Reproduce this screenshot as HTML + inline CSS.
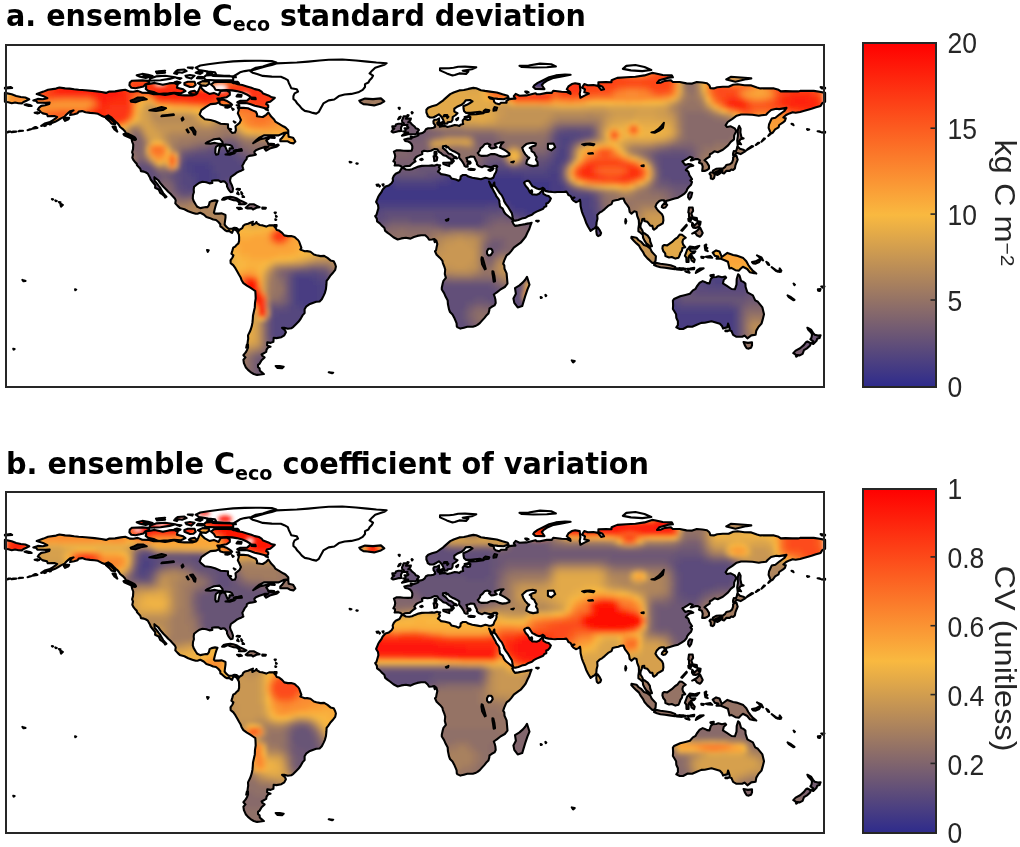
<!DOCTYPE html>
<html><head><meta charset="utf-8"><style>
html,body{margin:0;padding:0;background:#fff;}
body{width:1020px;height:847px;overflow:hidden;position:relative;}
.t{position:absolute;left:6px;font-family:"DejaVu Sans",Verdana,sans-serif;font-weight:bold;font-size:27px;color:#000;white-space:nowrap;letter-spacing:0px}
.t sub{font-size:18px;vertical-align:-5px;line-height:0}
svg{position:absolute;left:0;top:0}
.tick{font-family:"Liberation Sans",Arial,sans-serif;font-size:26.5px;fill:#262626}
.ttl{font-family:"DejaVu Sans",Verdana,sans-serif;font-weight:bold;font-size:30px;fill:#000}
.lab{font-family:"Liberation Sans",Arial,sans-serif;font-size:32.5px;fill:#262626}
</style></head><body>
<svg width="1020" height="847" viewBox="0 0 1020 847">
<defs>
<linearGradient id="cb" x1="0" y1="1" x2="0" y2="0"><stop offset="0.0" stop-color="#2e2b8c"/><stop offset="0.5" stop-color="#f9b940"/><stop offset="1.0" stop-color="#ff0000"/></linearGradient>
<filter id="b2" x="-50%" y="-50%" width="200%" height="200%"><feGaussianBlur stdDeviation="2"/></filter><filter id="b3" x="-50%" y="-50%" width="200%" height="200%"><feGaussianBlur stdDeviation="3"/></filter><filter id="b4" x="-50%" y="-50%" width="200%" height="200%"><feGaussianBlur stdDeviation="4"/></filter><filter id="b6" x="-50%" y="-50%" width="200%" height="200%"><feGaussianBlur stdDeviation="6"/></filter><filter id="b8" x="-50%" y="-50%" width="200%" height="200%"><feGaussianBlur stdDeviation="8"/></filter>
</defs>
<g>
<clipPath id="clip0"><path d="M33.3 100.4L37.8 98.9 42.8 99.3 47.4 98.2 43.0 95.9 36.7 94.1 43.5 91.6 48.0 89.8 56.0 88.6 59.4 87.5 65.1 88.4 69.6 88.6 74.2 89.3 78.7 89.8 85.5 90.2 94.6 91.1 101.4 92.0 106.0 92.9 109.4 91.6 115.1 91.4 120.7 90.4 125.3 89.8 129.8 91.6 133.2 91.8 137.8 90.9 142.3 92.7 149.2 92.9 153.7 94.3 158.2 93.9 165.1 95.0 169.6 94.3 174.1 93.2 178.7 95.0 184.4 95.4 192.3 95.4 195.7 94.5 198.0 91.6 200.3 86.4 202.5 89.3 204.8 91.4 209.4 93.9 213.9 92.9 218.5 95.0 220.7 90.9 226.4 90.4 229.8 92.3 229.8 95.0 226.4 97.3 220.7 98.4 217.3 98.6 219.6 101.8 216.2 103.6 210.5 104.1 206.0 106.8 201.4 110.2 199.6 114.3 201.0 116.1 204.8 119.3 210.5 120.0 215.0 121.3 220.7 123.8 228.0 124.3 228.0 127.9 229.8 130.2 232.1 132.9 235.0 132.5 235.9 130.2 235.5 126.3 239.6 122.9 240.9 120.0 239.4 116.6 237.8 113.2 238.9 109.8 237.8 107.7 243.4 107.9 248.0 108.2 252.5 110.4 255.9 111.8 257.1 114.3 256.9 116.3 260.5 116.8 262.8 117.0 266.2 114.8 268.4 112.5 271.2 116.6 274.1 119.5 275.3 121.6 278.7 123.6 283.2 126.3 285.5 127.5 288.2 130.2 288.4 132.3 284.3 132.7 278.7 135.4 270.7 135.4 263.9 135.4 259.4 137.7 256.4 140.0 253.2 143.2 255.9 141.6 260.5 139.1 267.3 137.7 268.9 138.6 266.2 140.4 267.8 142.7 268.4 144.5 271.8 145.4 275.3 145.4 278.0 144.5 278.7 145.2 276.4 146.8 270.7 148.2 266.2 150.7 264.6 148.8 268.4 146.6 265.0 146.8 262.5 147.7 259.4 148.8 255.9 150.2 254.4 151.8 254.6 153.4 255.9 154.5 254.8 155.0 252.5 155.4 249.1 155.9 246.9 157.2 246.6 159.1 244.8 161.1 244.1 162.5 243.2 164.3 242.3 165.7 243.0 168.2 243.4 169.5 241.2 170.7 238.9 171.6 236.6 172.7 235.0 174.1 233.2 175.4 230.9 177.0 230.0 180.2 230.5 182.5 231.9 185.2 233.0 188.6 232.5 191.8 230.7 192.2 229.4 190.6 228.2 188.8 227.1 186.6 226.9 184.1 224.8 181.6 223.0 181.3 221.0 182.0 218.5 180.4 215.0 180.2 212.1 180.7 212.3 182.9 209.4 183.4 206.4 182.2 202.5 181.8 199.6 182.7 196.9 184.5 194.1 186.8 193.7 189.3 193.9 192.2 193.0 195.0 192.8 198.4 193.7 201.1 195.7 204.5 197.3 206.8 200.3 208.1 203.2 207.5 206.0 207.0 207.5 207.2 208.9 205.2 209.6 202.2 211.6 201.1 215.0 200.4 217.5 200.9 216.4 203.4 215.5 206.3 214.6 209.7 213.9 212.7 215.0 213.6 218.5 213.6 221.9 213.4 225.5 215.0 225.5 217.7 225.0 221.1 224.6 224.5 226.4 226.8 228.7 228.8 232.1 228.8 234.4 227.7 236.6 228.1 239.1 230.0 238.0 232.9 236.9 230.9 234.4 229.3 233.0 230.6 232.1 232.9 230.5 232.0 229.4 230.9 226.6 231.1 224.8 230.0 222.3 227.7 220.3 226.3 220.3 224.3 218.2 221.8 216.0 220.0 213.2 219.5 209.4 217.9 206.4 217.0 203.7 214.5 200.3 212.7 198.0 213.6 195.7 213.8 192.3 212.7 188.2 211.3 184.4 209.3 179.8 207.9 177.6 205.9 175.3 203.4 175.7 200.4 174.8 198.4 173.0 196.6 170.5 193.8 168.2 191.8 166.4 189.7 163.9 187.2 162.1 185.2 160.1 182.9 158.2 180.2 154.4 177.2 154.6 180.7 157.1 183.6 158.7 185.9 160.3 187.9 161.6 190.4 163.2 193.1 164.8 195.0 166.4 196.8 165.1 197.5 164.4 196.1 161.6 193.8 160.3 193.1 158.7 189.5 155.1 187.7 155.3 185.2 153.0 182.5 150.7 179.5 149.8 177.2 148.7 175.4 147.8 173.6 146.0 172.5 143.9 171.6 141.0 171.1 140.3 168.8 138.0 166.3 136.9 165.0 136.7 163.6 135.5 162.7 133.7 160.4 132.3 157.7 133.0 154.5 132.1 152.2 133.0 149.1 133.2 145.9 133.2 144.3 132.1 141.6 131.7 139.5 135.1 140.0 136.0 139.3 135.3 137.9 133.7 136.6 131.4 135.4 128.7 134.1 126.0 133.2 124.6 130.9 122.8 129.1 120.1 127.0 118.9 125.0 117.6 123.4 115.7 121.8 113.9 120.0 111.7 117.7 108.2 115.4 104.6 117.0 101.4 115.7 98.0 113.8 94.6 113.2 90.1 112.9 85.5 112.3 82.1 111.1 78.7 111.6 77.6 113.2 74.2 114.3 70.1 115.0 71.0 112.0 73.5 110.4 70.1 111.3 68.3 112.9 66.2 114.8 64.6 116.6 61.0 118.4 58.3 120.0 55.1 121.8 51.9 122.9 48.5 123.8 45.5 124.8 41.2 125.9 44.6 123.6 49.2 122.3 52.6 120.4 55.3 118.6 57.1 117.0 54.9 116.1 51.4 116.1 47.8 116.3 46.9 114.3 42.8 113.4 40.8 112.0 39.4 110.4 37.8 109.5 38.9 107.9 41.2 105.9 45.1 105.2 49.2 104.1 49.6 102.5 45.8 102.9 42.4 102.7 37.4 102.7 36.4 101.1ZM239.1 230.0L242.3 228.1 243.2 225.9 245.0 224.5 248.0 223.8 250.9 222.5 253.0 221.6 252.3 223.1 252.3 225.0 255.5 223.4 256.4 222.0 257.1 223.4 259.8 225.0 262.8 225.4 266.2 226.6 269.1 225.4 273.0 225.2 274.3 226.3 275.3 227.5 276.8 230.0 279.1 230.6 282.1 232.9 284.3 235.4 287.8 236.1 291.2 236.1 294.6 237.0 296.8 239.0 298.0 240.0 299.1 241.5 300.5 245.4 301.4 247.9 300.3 249.5 302.5 250.4 304.8 251.3 307.1 251.1 310.5 251.8 313.9 254.5 316.4 255.2 320.7 256.1 324.1 255.9 327.5 257.9 330.5 260.4 333.7 261.3 335.2 264.3 335.9 266.5 335.2 269.9 333.4 272.2 330.7 275.2 328.2 278.8 326.6 280.9 326.4 284.7 325.9 289.3 324.8 293.1 323.4 296.1 321.8 299.3 319.6 301.5 316.2 301.8 313.4 302.7 309.3 304.3 306.4 306.3 304.6 309.3 304.6 313.1 302.5 315.4 300.5 319.0 298.4 321.8 295.7 324.5 293.4 326.8 291.2 328.3 287.8 328.8 284.3 327.7 282.1 327.9 285.0 330.2 285.9 332.2 284.3 335.4 281.4 337.2 276.4 338.1 273.7 337.7 273.4 341.8 270.7 342.9 267.3 342.4 267.1 345.2 269.1 346.1 270.5 346.8 268.4 347.2 266.6 349.5 266.2 351.8 261.6 354.5 262.3 355.8 264.6 357.4 261.6 360.2 259.6 363.6 258.0 364.9 258.0 367.2 259.6 368.3 259.8 370.4 261.6 372.2 263.9 374.0 260.5 374.5 257.1 374.9 253.7 374.0 251.4 372.7 248.0 369.9 245.7 367.2 243.9 363.1 243.4 359.7 245.5 357.4 243.4 355.2 245.7 352.4 247.3 349.5 247.3 346.1 247.5 343.8 247.8 341.1 248.2 338.6 248.0 335.4 249.8 331.8 250.9 329.0 251.9 325.6 252.5 322.2 252.8 318.8 253.0 315.4 253.9 311.5 254.8 307.4 255.0 302.9 255.7 298.4 255.5 293.8 255.3 291.1 253.0 289.5 250.3 287.7 246.9 285.6 243.4 283.1 241.6 280.2 240.5 277.2 238.9 274.5 237.1 271.3 235.5 268.4 233.4 265.4 230.7 263.1 230.5 260.4 232.5 257.5 233.4 255.4 231.4 253.8 232.3 250.9 233.2 247.7 235.5 246.3 236.2 245.2 238.4 243.4 239.1 240.9 239.1 237.0 238.9 234.5 238.0 232.9ZM316.2 113.6L318.9 111.8 321.2 107.5 323.4 103.4 328.7 100.4 334.3 99.5 338.9 96.1 344.6 94.5 351.4 93.9 358.2 92.3 362.7 89.8 365.0 87.0 365.0 84.1 368.4 82.5 369.6 80.2 371.8 77.9 373.0 75.7 369.6 73.4 372.3 70.4 375.2 67.7 384.3 64.8 386.6 63.2 376.4 62.5 367.3 61.6 355.9 60.5 342.3 59.5 328.7 59.8 319.6 60.5 308.2 61.6 296.8 62.5 285.5 63.0 276.4 63.4 271.8 65.0 267.3 66.1 262.8 67.3 255.9 69.3 250.3 71.1 252.5 72.7 257.1 73.9 262.8 75.9 271.8 76.6 280.9 76.8 284.3 78.2 287.8 80.2 288.9 83.2 290.0 85.4 291.2 88.2 296.8 89.3 298.0 91.6 294.6 93.4 293.4 96.1 293.4 98.9 295.7 101.1 297.3 103.6 300.0 106.3 301.8 108.6 304.8 110.9 309.3 111.8 312.8 112.9ZM401.6 168.2L399.5 172.0 395.7 173.8 393.9 175.7 392.7 178.4 393.0 180.9 391.6 183.2 388.9 185.4 385.5 186.6 382.7 189.5 381.4 192.2 379.3 195.0 378.2 196.8 377.3 199.1 376.1 202.0 378.0 205.0 378.4 208.1 377.5 211.3 376.4 215.0 375.2 216.1 376.8 218.6 377.1 221.3 379.8 223.4 381.6 225.4 384.3 227.7 385.2 230.9 387.7 232.9 390.0 234.5 393.4 237.2 397.7 239.5 401.4 238.4 405.9 237.7 410.5 238.6 413.9 237.0 417.3 235.9 421.1 235.2 425.2 235.2 427.7 237.5 429.1 239.7 432.0 239.5 434.3 239.0 436.4 240.9 437.3 244.0 436.6 247.2 436.1 250.2 435.0 251.3 436.6 254.7 440.0 257.9 442.3 260.6 442.9 263.1 444.5 267.2 445.2 269.5 444.8 274.0 445.9 277.9 443.4 280.9 442.7 283.6 441.8 287.7 441.8 289.5 444.1 293.1 445.7 296.8 447.7 300.6 447.9 304.0 449.1 309.7 450.0 312.0 452.5 314.5 454.1 317.4 455.7 321.1 456.6 323.3 456.8 326.5 457.7 327.4 460.4 328.6 463.9 327.7 467.3 326.8 472.9 326.8 475.2 326.1 477.5 324.9 479.8 323.1 482.0 320.6 484.3 318.1 486.1 315.8 488.4 313.6 489.3 310.4 489.5 308.4 491.8 306.8 494.5 305.4 495.7 303.1 495.4 299.5 494.8 297.2 493.8 294.5 496.8 292.4 500.2 289.7 504.8 287.0 507.5 283.6 507.0 277.9 506.6 273.4 504.5 268.8 504.3 265.4 503.2 263.8 504.1 260.9 505.4 257.9 506.6 255.4 509.3 253.4 511.6 250.6 513.8 247.7 517.2 245.2 520.7 242.7 523.6 239.3 525.7 236.5 527.5 232.5 529.3 229.0 530.4 225.6 531.6 222.7 528.6 223.4 525.2 224.1 521.8 224.7 518.4 225.4 515.0 225.9 513.4 223.8 512.3 221.6 513.4 220.9 511.6 218.8 509.3 217.0 505.9 214.3 504.1 212.0 502.7 208.6 500.0 206.6 499.5 202.9 499.3 200.6 498.6 199.1 496.1 195.9 495.7 194.5 493.6 190.9 492.3 188.2 491.1 186.8 489.1 181.6 491.3 185.4 492.7 186.3 493.4 184.5 494.3 182.5 494.5 185.7 496.1 187.5 497.9 190.4 499.8 193.1 501.8 195.4 503.6 199.1 504.1 201.1 505.9 204.1 508.2 207.2 510.0 210.2 511.8 213.1 512.3 215.4 512.7 217.7 513.4 220.4 514.1 220.6 516.1 220.6 518.4 220.0 521.8 218.6 525.7 217.7 528.6 215.9 532.0 214.7 533.8 213.1 536.6 211.6 540.4 210.0 543.2 208.8 544.3 207.0 546.3 206.3 546.3 203.4 547.9 202.9 549.7 201.1 550.9 198.4 548.6 196.1 546.1 195.4 543.4 193.8 542.9 191.3 543.2 189.7 542.5 190.0 541.1 191.6 539.1 193.8 536.6 194.7 534.1 194.5 532.2 194.5 531.6 193.6 532.2 191.8 531.8 190.2 530.9 190.6 530.4 192.9 529.3 191.3 528.6 189.7 527.5 187.9 525.9 186.3 525.0 184.7 524.1 182.7 525.2 181.6 526.8 180.9 528.8 180.9 530.0 182.5 531.3 184.5 532.2 186.1 534.3 187.0 537.0 188.6 539.3 189.3 541.6 188.4 542.9 187.7 544.5 189.1 545.2 190.9 548.6 191.6 552.5 192.0 555.0 192.2 557.2 192.0 560.9 192.0 563.8 192.0 566.3 191.6 567.5 193.1 568.4 195.0 570.4 195.9 571.8 198.1 574.5 197.5 571.8 198.8 573.4 200.6 575.9 202.2 578.6 201.1 580.0 199.7 580.4 202.2 580.6 206.3 581.8 211.3 582.9 214.3 584.5 218.1 586.1 222.7 588.1 226.8 590.6 230.9 592.7 229.3 594.5 228.4 596.3 226.1 596.6 222.2 597.5 218.8 597.2 215.0 599.5 212.7 602.0 211.3 604.7 209.1 608.1 205.9 611.5 204.1 612.7 200.9 615.6 200.2 618.4 199.7 620.6 198.8 623.6 198.6 624.5 201.3 625.4 202.9 627.2 205.2 629.0 207.9 629.7 212.0 631.5 213.6 634.3 211.3 636.5 212.0 637.2 215.9 638.8 220.0 639.0 224.5 638.4 228.4 638.4 231.3 639.9 232.2 642.7 234.7 643.1 237.7 644.5 240.6 646.3 243.4 648.6 245.2 650.2 246.5 652.0 246.1 650.2 241.5 649.9 238.8 647.7 235.6 645.2 233.8 643.1 232.7 642.2 230.2 640.4 227.2 640.6 224.5 641.8 221.6 642.4 219.1 644.3 218.8 644.3 220.9 647.2 221.8 648.6 223.4 650.2 225.6 652.4 225.9 653.1 229.0 654.0 229.7 656.5 227.9 657.7 226.1 659.9 225.0 662.7 223.4 663.4 220.4 663.1 216.6 662.0 214.3 658.8 211.3 657.0 209.1 655.4 206.6 656.8 203.4 659.3 200.9 661.5 200.2 664.0 200.2 664.7 203.4 666.1 203.1 666.1 201.1 669.0 200.2 672.2 199.3 674.7 198.6 678.1 197.7 681.5 195.6 684.5 193.6 686.5 191.3 687.2 189.1 688.8 187.0 691.1 184.7 692.0 182.0 690.4 180.4 692.0 179.1 690.8 177.2 689.5 175.4 688.3 171.6 685.8 170.0 687.9 167.7 689.5 166.6 693.3 165.7 691.1 164.3 688.3 164.1 685.4 165.0 683.8 163.2 682.4 161.3 684.3 160.4 687.2 158.6 689.9 156.8 692.7 157.7 690.8 160.4 692.4 160.2 695.6 159.1 697.9 159.1 699.9 160.4 699.0 162.7 701.8 163.8 702.7 166.6 702.2 170.9 704.7 170.9 707.2 170.0 709.0 168.6 709.0 165.9 706.8 162.2 704.5 160.2 706.5 158.6 709.7 156.6 709.9 154.3 712.0 153.2 714.5 151.3 717.7 152.2 722.9 149.7 728.1 145.4 730.8 141.8 734.0 139.3 734.2 135.4 736.3 130.9 734.7 128.4 730.8 126.3 727.0 127.0 725.6 125.4 727.7 122.0 732.4 118.8 736.7 115.7 741.1 114.5 746.1 114.5 752.4 114.8 758.8 115.7 761.5 115.2 766.1 114.8 767.9 112.7 771.1 110.0 776.3 108.8 779.2 109.1 786.5 107.9 784.5 110.9 782.2 112.5 779.7 114.3 775.4 117.7 771.7 118.6 770.4 121.3 769.0 124.5 768.6 127.9 770.1 131.6 771.1 133.6 772.9 132.5 775.1 129.3 778.6 127.3 779.2 125.0 783.1 122.3 784.9 120.9 785.8 118.2 783.3 117.5 786.1 115.0 789.5 113.4 792.6 112.3 795.6 112.7 800.1 112.0 803.5 111.1 808.1 109.8 811.5 108.8 816.0 107.3 820.6 105.9 822.2 103.2 825.1 101.8 825.1 92.9 819.5 91.8 813.8 90.9 805.8 90.7 800.1 90.9 797.9 91.4 792.2 91.4 785.4 91.1 780.8 91.4 778.6 89.8 774.0 88.4 767.2 88.2 760.4 88.4 757.0 87.5 751.3 85.4 744.5 85.2 737.7 84.3 733.1 84.8 728.6 86.8 722.9 86.8 717.2 87.3 713.8 88.4 710.4 88.2 709.3 85.2 707.0 83.2 702.4 82.5 696.8 82.0 692.2 83.6 686.5 83.4 679.7 82.0 672.9 82.0 670.6 80.2 664.9 80.9 660.4 82.7 657.0 82.9 659.3 80.2 667.2 77.9 672.9 77.3 671.8 75.4 662.7 75.0 654.7 73.2 652.0 72.9 644.5 75.4 635.4 76.8 626.3 77.3 617.2 77.9 611.5 80.2 611.5 82.3 605.9 82.0 598.4 82.3 598.4 85.0 602.5 86.8 604.0 89.3 601.3 90.0 597.9 85.9 593.4 85.0 587.7 85.2 584.3 84.1 582.0 87.5 585.0 89.3 584.3 92.3 588.8 93.6 585.0 95.4 580.4 97.7 579.7 93.9 580.4 90.4 580.0 87.0 579.7 84.1 575.2 83.2 571.8 84.1 568.4 86.4 566.8 89.3 570.2 92.0 570.6 93.9 566.8 92.0 561.6 91.8 553.2 90.7 551.8 92.9 546.8 92.9 540.0 94.3 536.6 94.1 535.4 93.2 526.3 95.4 519.5 95.7 515.7 93.9 513.8 96.1 515.4 98.6 513.4 98.6 509.3 99.1 506.3 101.1 506.6 102.7 501.3 102.7 499.1 104.3 495.7 103.2 494.1 101.8 493.6 99.1 490.0 98.4 488.8 97.0 493.4 98.2 497.9 98.9 503.6 99.3 508.6 97.5 507.7 95.7 502.5 94.3 496.8 92.5 490.0 91.6 485.0 90.9 480.9 90.2 476.3 88.2 473.4 87.9 468.4 88.9 463.9 90.0 459.3 90.4 453.6 92.5 450.2 94.1 447.9 96.1 444.5 99.1 442.9 100.7 440.0 102.7 436.6 105.0 432.0 106.3 428.2 107.7 426.4 109.8 426.4 112.5 427.5 115.0 427.7 116.1 430.0 117.5 433.2 117.5 436.6 115.7 438.9 114.3 440.0 115.2 441.6 117.0 443.2 119.8 444.1 122.3 444.3 123.6 447.5 123.4 447.7 122.3 451.4 121.8 452.5 120.0 452.7 117.0 455.7 115.0 457.5 113.2 454.3 111.6 454.3 108.6 457.0 106.8 461.6 104.8 463.9 102.9 465.7 100.4 470.0 100.0 472.5 101.4 470.9 102.5 466.8 104.8 463.4 106.3 463.6 109.1 464.1 111.3 466.1 112.9 470.7 112.9 475.2 112.3 479.8 111.8 483.6 113.2 479.8 113.6 476.3 114.3 470.7 114.5 468.4 115.2 468.4 117.0 470.4 117.0 470.0 119.5 467.7 120.0 464.3 118.8 462.7 120.4 462.9 122.9 463.2 124.1 460.4 124.8 459.5 125.9 457.0 125.2 454.8 125.0 451.4 126.1 447.5 127.0 445.0 125.9 442.3 126.3 439.8 126.8 439.5 125.4 437.7 124.5 437.3 122.7 439.1 121.1 439.1 118.4 436.6 119.8 434.5 119.8 433.4 121.1 433.6 123.4 434.8 124.8 435.2 126.8 433.4 127.7 430.9 128.2 428.2 128.2 425.9 129.3 424.8 131.3 423.0 132.7 420.7 133.4 418.6 133.8 418.4 135.4 415.5 136.6 412.5 137.5 412.0 136.8 410.7 136.6 411.4 138.6 408.2 138.6 404.3 139.5 405.2 140.9 408.2 141.6 410.0 142.5 411.6 144.3 412.3 146.1 412.3 148.4 411.6 150.7 408.2 150.9 403.6 150.7 400.2 150.4 396.8 150.2 393.9 151.6 394.8 154.1 395.2 156.3 394.6 159.1 393.4 161.3 395.0 162.2 395.0 165.0 394.6 165.4 398.0 165.2 400.7 166.1 402.3 167.7 404.8 166.3 409.8 165.9 411.6 164.3 413.6 162.5 415.5 161.3 414.3 159.7 416.1 157.2 417.7 156.1 422.3 154.1 422.0 151.8 424.1 150.7 427.5 151.3 430.9 150.7 434.3 149.1 437.3 149.3 438.9 151.8 441.1 153.2 443.4 155.2 446.4 156.1 449.1 158.2 450.7 158.8 451.8 161.3 450.7 163.2 451.6 163.4 453.9 161.1 452.7 159.5 454.3 157.7 457.0 158.4 456.1 157.2 453.6 156.1 451.4 154.3 448.6 153.6 445.9 150.4 442.9 148.2 442.9 146.3 446.1 145.9 446.4 147.5 447.9 146.8 449.8 149.1 452.3 150.7 455.0 151.8 457.3 153.2 459.3 154.5 459.1 157.7 460.9 159.7 462.7 162.2 464.1 164.5 464.5 165.9 466.1 166.8 467.7 166.8 467.5 164.7 468.4 163.2 469.8 163.8 468.4 162.2 467.3 160.2 466.4 157.9 469.1 157.2 470.7 156.6 474.1 156.8 474.8 158.2 475.7 160.4 476.8 162.2 477.0 164.3 478.6 165.9 482.0 167.2 484.5 165.9 487.7 166.6 491.1 167.2 493.8 165.9 496.8 165.9 497.3 166.6 496.3 168.2 496.6 170.0 495.9 172.2 494.5 174.5 493.4 177.7 491.1 178.8 488.4 178.6 485.4 177.7 483.2 178.4 480.9 179.3 477.5 178.6 472.3 177.7 468.4 176.6 466.1 175.0 462.9 175.0 460.7 176.3 460.4 179.1 458.6 180.7 455.9 179.5 451.4 178.4 449.8 176.1 445.2 174.7 441.1 174.1 439.5 172.7 437.9 171.6 440.0 168.8 438.9 167.2 440.2 165.4 438.2 165.0 437.0 164.7 434.3 165.7 432.0 165.4 428.6 165.7 425.2 165.7 421.8 165.9 418.4 166.6 415.0 167.9 412.0 169.3 409.3 169.7 405.9 169.5 403.0 167.9ZM4.9 101.8L8.3 102.3 11.7 103.2 15.1 102.5 18.5 103.2 21.9 103.4 23.5 102.0 26.4 100.7 29.2 99.3 25.3 97.5 20.8 97.0 16.2 95.9 11.7 94.3 4.9 92.9ZM4.9 87.7L10.5 87.0 12.1 87.9 4.9 88.4ZM268.2 107.3L266.9 108.8 263.2 107.7 259.4 106.8 254.8 105.7 250.7 104.3 247.3 103.2 243.4 102.9 238.9 103.4 237.3 102.3 240.0 100.9 246.9 100.7 249.6 98.4 250.3 96.6 246.9 94.5 242.3 92.5 236.6 91.1 232.1 90.4 226.4 90.0 220.7 90.4 215.5 89.8 213.9 87.0 211.0 84.5 213.9 82.3 220.7 81.8 226.4 82.0 232.1 82.3 237.8 84.3 242.3 85.0 246.9 86.4 251.4 87.7 254.8 89.1 258.9 90.0 261.6 91.6 263.2 93.6 268.4 95.4 271.8 97.3 274.8 97.9 273.0 99.5 270.0 101.8 266.9 102.5 266.2 104.1 268.2 105.4ZM232.1 104.8L228.7 105.4 224.1 105.4 220.5 104.5 218.5 102.3 219.6 100.0 223.0 99.5 226.4 100.7 229.6 102.7 231.4 103.9ZM145.7 84.5L154.8 82.9 162.8 84.8 168.9 83.4 174.1 82.9 177.6 84.8 176.9 87.7 183.2 89.3 185.5 91.1 181.0 93.2 174.1 92.9 168.5 93.4 163.9 93.6 158.2 94.1 153.7 92.0 148.0 90.7 145.7 88.9 146.2 87.0ZM129.8 85.9L131.4 87.7 135.5 88.2 140.1 87.3 143.5 86.4 145.7 84.1 149.2 82.7 148.0 80.9 142.3 80.4 132.1 80.7 129.8 82.5 129.4 85.2ZM194.6 81.8L195.7 84.8 193.5 86.8 190.0 87.0 184.4 84.8 184.4 82.9 187.8 81.8ZM208.7 81.4L202.5 81.1 198.0 83.2 201.4 85.4 206.0 85.9 209.4 83.6ZM233.2 79.1L233.2 80.2 221.9 80.2 215.0 80.4 206.0 79.8 203.2 77.9 206.0 75.4 215.0 75.0 224.1 75.9 229.8 75.9 233.2 77.3ZM212.8 75.9L221.9 76.1 233.2 76.4 236.6 74.5 240.0 72.3 244.6 71.1 251.4 70.0 255.9 67.7 262.8 66.6 269.6 64.3 276.4 62.5 271.8 61.1 260.5 60.7 244.6 60.9 233.2 61.4 219.6 62.7 208.2 64.3 200.3 65.5 195.7 67.7 199.1 70.0 208.2 71.6 215.0 72.3 216.2 74.5 211.6 75.4ZM175.3 77.3L169.6 78.9 160.5 80.2 149.2 80.7 150.3 78.4 156.0 76.4 165.1 75.7 171.9 76.8ZM152.6 76.1L145.7 77.9 140.1 76.8 136.7 75.2 142.3 73.9 148.0 74.8ZM194.6 75.7L191.2 78.6 186.6 77.3 185.5 75.7 190.0 75.0ZM202.5 78.4L196.9 78.2 198.0 76.8 202.5 77.0ZM197.3 93.2L194.6 90.9 190.5 91.6 188.9 92.9 192.3 94.3 196.2 94.1ZM238.9 83.2L233.2 83.2 230.9 81.8 237.8 81.8ZM230.9 106.6L227.5 107.7 225.3 107.5 227.5 106.3 230.3 105.9ZM186.6 71.1L182.1 72.7 175.3 71.8 177.6 70.0 184.4 69.5ZM165.1 72.7L157.1 73.4 156.0 71.6 162.8 71.1ZM236.6 96.4L241.2 96.8 241.6 95.0 237.8 94.5ZM233.7 121.3L235.5 122.3 234.8 122.7ZM232.1 108.4L233.7 109.3 232.8 109.8ZM228.7 128.6L231.2 129.3 229.6 129.8ZM174.6 82.3L178.7 83.6 180.5 82.5 176.9 81.6ZM176.4 77.7L179.8 79.1 181.4 78.2ZM174.1 73.2L176.9 74.1 177.6 73.2ZM187.8 67.5L192.3 68.6 192.8 67.5ZM207.1 73.4L211.6 74.3 212.1 73.4ZM232.1 76.6L235.9 77.3 235.5 76.1ZM236.6 105.2L239.4 105.9 238.7 105.0ZM265.5 109.3L268.0 110.2 267.3 109.1ZM195.7 72.7L200.3 73.9 202.5 72.7 198.0 71.6ZM158.2 71.4L162.8 72.3 165.1 70.7ZM143.5 76.1L148.0 76.8 147.3 75.7ZM280.3 141.3L287.8 141.3 290.0 142.7 293.4 143.4 295.3 141.6 294.1 139.3 293.0 137.7 288.7 136.8 288.2 132.9 285.7 132.9 284.3 134.8 282.1 137.9 280.3 139.5ZM268.4 136.1L274.1 137.3 274.8 137.9 270.7 137.7ZM268.7 143.6L274.1 144.1 272.8 145.0 269.6 144.5ZM134.4 139.5L131.0 138.4 127.6 136.8 124.2 135.2 123.5 134.1 126.4 134.3 130.1 135.7 133.2 137.7ZM117.3 131.6L114.4 129.5 112.6 126.6 115.5 126.6 116.2 129.1ZM115.1 124.1L111.7 123.8 109.4 121.1 106.0 118.2 108.2 117.3 111.7 120.0 113.9 122.3ZM68.5 119.3L65.1 120.9 63.9 119.1 66.7 117.7 69.2 117.9ZM24.6 104.8L28.7 105.9 31.7 105.9 29.9 105.0 26.4 104.3ZM37.4 112.3L39.2 112.9 37.4 113.6 34.6 112.7ZM222.1 199.7L223.5 198.1 226.4 197.2 230.3 196.8 233.2 197.2 237.1 198.6 239.6 200.2 243.0 201.6 246.4 203.4 244.6 204.3 238.9 204.3 239.8 202.9 236.6 200.4 233.7 200.2 229.8 199.1 228.0 198.1 224.1 199.7ZM245.7 207.7L249.6 204.3 253.7 204.3 256.4 205.6 259.6 207.2 256.4 207.7 253.0 209.5 251.4 208.1 247.5 208.4ZM237.1 207.7L240.3 207.7 241.9 208.8 238.9 209.1ZM262.3 207.5L265.9 207.7 265.5 208.6 262.3 208.6ZM274.3 225.0L276.6 225.0 276.4 226.6 274.3 226.6ZM237.3 188.8L240.0 189.1 239.4 190.0 236.6 189.3ZM237.8 192.2L238.7 194.3 237.1 193.6ZM241.2 192.0L242.3 193.6 241.6 194.1ZM242.8 195.9L244.1 197.0 242.5 197.0ZM60.5 203.6L62.8 205.0 61.0 206.6 60.5 204.7ZM58.9 202.0L60.5 202.2 59.6 202.7ZM55.3 200.4L56.7 200.9 55.8 201.1ZM51.9 199.1L53.0 199.3 52.4 199.7ZM274.6 212.5L275.9 212.5 275.3 213.4ZM275.9 215.9L276.8 216.6 276.2 216.8ZM275.3 219.3L276.2 219.7 275.5 220.0ZM22.4 279.9L25.5 280.9 23.5 281.3ZM75.1 289.3L76.2 289.7 75.3 290.2ZM13.3 348.8L14.6 349.0 13.7 349.7ZM35.8 127.0L37.4 127.9 34.2 128.4 32.4 128.6 34.4 127.3ZM31.0 129.3L27.6 130.2 29.9 129.3ZM23.0 130.7L18.5 131.3 19.6 130.7ZM16.2 131.6L11.7 132.3 12.8 131.6ZM10.5 131.6L7.1 132.5 8.3 131.6ZM49.2 123.8L51.0 124.3 49.6 124.5ZM45.8 125.7L44.2 126.1 45.1 125.4ZM402.0 135.7L405.5 135.0 408.2 134.3 411.6 134.3 415.7 134.1 418.2 133.2 417.0 132.3 418.9 130.0 418.0 129.1 415.7 128.2 414.8 126.8 413.6 125.7 411.6 124.1 410.5 122.5 408.2 122.3 409.3 121.3 410.5 119.8 410.9 118.6 408.2 118.4 405.9 118.6 407.7 116.3 403.6 116.3 403.0 118.2 402.0 120.4 402.3 122.3 403.9 123.4 403.4 124.8 405.5 125.0 407.5 124.8 407.0 126.1 408.4 127.5 407.7 128.4 404.5 128.4 405.7 129.5 405.5 130.9 403.4 131.6 405.5 132.3 408.2 132.5 407.0 133.2 405.5 133.2 402.5 135.2ZM401.4 130.9L400.9 128.4 401.4 126.6 402.5 125.4 400.9 123.8 398.4 123.8 395.9 124.5 395.5 126.1 392.3 126.3 392.7 128.2 394.3 128.6 392.5 130.0 391.6 131.6 393.2 132.5 396.4 131.8 399.1 131.1ZM359.3 100.7L365.0 98.6 373.0 99.1 380.9 98.4 384.3 101.4 380.9 103.4 374.1 105.4 367.3 104.5 363.4 104.1 360.5 102.3ZM452.5 75.4L446.8 73.4 440.0 70.4 440.0 68.4 449.1 68.2 453.6 67.7 458.2 66.8 465.0 66.6 476.3 67.3 471.8 69.3 462.7 70.7 468.4 71.6 466.1 73.9 459.3 73.4 454.8 75.0ZM533.2 87.0L535.4 88.9 544.5 89.1 541.8 85.0 543.4 83.2 547.9 80.2 553.6 77.9 560.4 76.8 570.6 74.8 565.0 74.5 555.9 75.4 549.1 77.3 542.2 80.7 537.7 82.9 534.3 85.4ZM525.2 91.6L526.8 92.9 528.6 92.3 526.8 91.6ZM622.9 68.9L630.9 70.4 642.2 71.1 651.3 70.0 644.5 67.0 635.4 65.0 626.3 65.9ZM726.3 79.5L735.4 81.8 746.7 79.1 751.3 78.4 737.7 77.3 730.8 76.8ZM820.6 87.0L825.1 87.7 825.1 88.4 821.7 88.4ZM521.8 67.0L533.2 67.5 546.8 67.3 555.9 66.4 551.3 64.3 540.0 63.6 528.6 65.5 519.5 65.9ZM737.7 145.0L737.2 140.4 737.9 135.9 737.7 131.3 738.3 127.9 739.2 125.9 740.6 128.8 740.4 132.5 741.5 137.5 743.6 138.4 740.4 139.3 739.0 141.3 741.1 144.3 738.8 143.8ZM733.1 155.2L735.4 154.5 736.5 152.7 740.6 154.1 745.6 151.1 743.3 149.7 739.9 148.8 737.4 146.3 736.7 149.5 735.8 151.3 733.8 151.1 733.1 153.4ZM736.5 155.7L737.7 159.7 736.5 162.5 735.4 165.4 734.9 168.4 733.1 170.0 731.3 169.5 729.7 170.9 726.3 170.9 725.8 171.6 724.0 173.4 722.2 172.7 722.4 170.7 719.5 170.9 717.2 171.3 714.9 172.5 712.7 172.2 712.9 170.7 716.1 168.8 719.5 168.6 722.9 168.6 725.2 166.8 726.3 165.0 729.7 164.3 732.0 162.7 733.1 159.7 733.1 157.5 734.2 156.1ZM710.4 172.5L712.7 172.5 714.9 174.5 714.0 178.2 712.7 179.1 710.8 178.4 710.8 175.4 709.5 173.8ZM716.3 172.7L719.5 171.6 721.1 172.2 719.5 173.8 717.2 175.0 716.1 173.8ZM689.9 192.2L692.2 192.7 691.1 197.2 689.5 199.5 688.1 197.2 688.3 194.3ZM662.0 205.9L663.4 204.1 666.1 203.8 667.2 205.0 665.4 207.5 663.1 207.9 661.8 207.2ZM596.6 227.5L597.5 227.2 599.7 230.2 601.1 232.9 600.4 235.0 598.1 236.1 596.8 234.7 596.3 231.3ZM488.4 170.0L490.0 169.1 493.6 168.4 492.3 170.0 490.0 170.9ZM468.4 169.3L470.7 168.8 474.8 169.3 474.1 170.0 470.7 170.0 468.6 169.5ZM443.2 162.9L445.7 162.7 450.4 162.5 449.3 164.7 449.3 166.1 446.8 165.2 443.4 164.1ZM433.6 156.3L436.1 155.9 437.3 157.5 436.8 160.4 434.3 161.1 434.1 158.6ZM434.5 152.0L436.4 151.8 436.6 153.6 435.9 155.4 434.5 154.5ZM420.2 159.5L422.0 158.8 422.7 159.5 421.4 160.2ZM440.0 122.9L442.7 122.0 443.6 123.2 442.3 124.5 440.4 124.1ZM437.3 123.8L439.1 123.4 439.5 124.5 437.7 124.5ZM456.1 119.3L458.2 117.9 457.7 119.5 456.6 120.2ZM464.5 117.0L467.7 116.3 467.3 117.5 465.0 117.7ZM467.3 161.6L470.0 161.6 470.7 162.9 468.4 162.2ZM398.6 107.9L399.8 107.9 399.5 109.1ZM412.0 112.0L412.7 112.7 412.0 113.4 411.6 112.5ZM407.5 115.0L408.6 115.2 408.2 115.9ZM400.7 116.6L399.3 117.3 398.2 119.3 400.0 118.2ZM746.7 150.0L753.1 146.3 751.7 146.1 747.9 148.8ZM755.8 145.0L759.2 142.9 758.1 142.7ZM761.5 141.6L764.9 138.6 764.0 138.4ZM768.3 135.9L770.1 134.5 769.5 134.1ZM791.5 123.8L793.6 125.2 792.9 124.1ZM807.0 129.1L809.2 129.5 807.6 130.0ZM817.6 131.3L820.6 132.0 819.5 131.3ZM821.7 132.5L825.1 131.8 825.1 132.7ZM527.0 276.8L529.5 284.7 527.5 289.3 525.2 296.1 522.2 306.1 517.7 307.4 514.3 302.9 513.4 298.4 515.9 293.8 515.0 288.1 519.5 285.4 522.9 282.4 525.2 279.7ZM434.3 240.9L435.2 241.1 434.8 242.2ZM376.6 184.7L378.4 184.5 377.3 185.9ZM379.1 185.4L380.0 186.1 379.6 186.6ZM382.5 184.5L383.6 184.3 383.2 185.7ZM571.8 360.4L574.7 361.1 573.1 362.4ZM349.6 161.8L351.4 162.2 350.2 162.5ZM356.4 163.4L357.7 163.6 356.8 163.8ZM536.1 220.9L538.8 220.9 537.7 221.6ZM545.4 294.9L546.3 295.6 545.7 296.1ZM540.7 297.0L541.8 297.7 540.9 297.9ZM689.0 207.5L692.7 207.5 693.1 210.9 691.3 213.6 692.7 217.2 696.8 218.1 697.2 220.9 695.2 220.0 691.8 218.1 689.0 217.0 689.0 213.1 688.3 212.5ZM692.2 233.6L695.6 231.8 697.2 230.6 700.2 227.7 702.7 232.9 701.3 235.4 699.9 236.8 696.8 235.2 694.9 232.5ZM692.2 222.7L694.5 225.6 696.8 223.1 700.2 224.1 699.0 226.8 695.6 227.9 693.3 227.7 692.0 225.6ZM697.4 221.1L700.6 221.8 700.2 224.3 698.6 224.1ZM681.3 230.4L686.5 224.7 686.8 225.6 682.2 230.9ZM688.3 218.8L691.1 219.5 690.4 221.8 688.6 220.9ZM662.7 246.1L664.0 245.0 667.2 245.4 671.8 242.2 675.2 239.0 677.4 237.7 679.7 234.5 682.0 234.7 685.8 237.7 683.1 239.5 682.4 242.0 683.1 244.5 685.2 247.2 682.4 247.9 682.0 250.6 680.4 252.9 679.7 255.2 678.6 257.7 675.4 258.6 671.8 257.0 669.0 257.5 665.4 256.1 665.2 253.4 663.4 251.3 662.4 248.4ZM631.5 236.8L636.5 237.7 638.4 240.0 641.5 242.2 644.0 245.0 646.8 245.9 650.2 248.4 651.8 251.8 655.9 256.1 655.6 260.4 654.3 262.7 652.4 262.9 649.7 260.4 647.4 258.4 644.5 255.0 642.9 251.8 640.4 248.4 639.0 245.6 636.5 243.4 634.0 240.9 631.3 238.1ZM654.0 265.0L655.9 262.9 660.4 263.8 666.1 264.5 670.6 265.2 675.2 267.0 674.9 269.3 669.5 268.4 664.9 267.7 660.4 267.2 657.0 266.3ZM675.4 267.9L677.9 268.6 679.9 268.1 679.5 269.7 676.8 269.5ZM680.4 268.4L683.8 268.4 685.6 268.8 684.3 269.5 680.9 269.9ZM687.2 268.8L689.9 268.6 694.3 267.9 694.0 269.3 688.8 269.5ZM685.4 271.3L688.3 271.1 689.5 272.7 686.8 272.0ZM696.8 270.6L699.7 268.6 703.6 268.4 699.0 271.1 695.8 272.9ZM686.5 262.0L686.3 257.5 684.9 255.9 687.2 249.5 688.3 248.4 689.9 246.5 694.9 247.2 697.9 246.3 699.3 245.9 696.8 248.6 691.8 248.5 689.5 249.3 691.1 251.5 695.4 251.3 694.0 253.1 690.8 254.0 692.9 257.5 694.7 259.7 694.0 262.2 691.5 260.4 691.1 258.4 689.5 255.4 688.6 257.5 688.6 262.0ZM704.7 245.4L706.3 244.5 705.8 247.2 707.4 248.1 705.8 248.8 707.7 251.1 705.4 250.2 704.9 247.7ZM705.8 256.8L710.4 256.1 712.2 257.7 708.1 257.5ZM701.3 256.8L704.0 257.0 703.1 258.1 701.5 257.7ZM712.7 252.7L716.1 250.4 719.5 251.5 721.8 257.0 727.4 252.9 733.1 255.0 736.5 255.6 743.3 258.1 746.3 261.3 748.3 265.0 750.2 267.7 752.4 270.2 756.3 273.6 754.2 273.1 749.7 272.2 747.2 269.0 742.9 266.8 740.6 268.8 739.0 270.6 735.4 270.2 731.3 267.9 729.5 268.4 727.9 261.8 724.0 260.0 720.2 258.6 717.9 258.4 716.5 258.6 718.3 256.5 714.9 255.9ZM752.0 262.0L755.8 261.3 759.2 259.3 760.8 259.5 759.2 262.0 755.8 263.6 753.1 263.4ZM757.0 255.4L761.5 257.5 763.1 260.4 761.7 259.3 758.1 256.1ZM766.3 261.8L768.3 263.1 769.2 265.0 767.9 264.5ZM771.7 267.2L778.1 271.8 776.3 271.1ZM778.1 270.6L780.8 271.8 779.7 272.0ZM779.7 268.4L781.3 270.6 780.4 270.9ZM787.6 295.4L791.1 297.2 794.5 299.9 793.3 300.2 788.8 297.2ZM793.6 283.6L794.9 284.7 794.5 285.2ZM817.9 289.3L820.6 289.0 819.9 290.9 818.1 290.6ZM821.3 286.5L824.5 286.5 822.9 287.7ZM672.9 300.6L674.0 299.0 680.2 296.3 685.4 294.9 689.9 293.8 692.9 290.4 695.6 288.8 696.8 286.5 699.7 282.7 702.7 281.1 705.4 282.2 707.0 283.1 709.5 283.4 710.8 279.0 712.7 277.2 716.3 277.0 718.3 276.3 722.0 277.2 725.2 276.5 726.1 277.7 723.8 279.7 722.9 283.4 726.5 285.6 731.5 289.0 734.9 289.3 736.5 284.7 736.7 279.0 738.1 274.3 739.5 275.6 741.1 280.9 743.6 282.0 745.4 283.6 745.6 287.0 747.4 292.4 752.9 295.4 755.2 300.4 757.9 301.8 762.4 307.4 764.0 314.3 762.6 319.9 761.5 323.6 758.6 326.8 756.3 330.6 755.6 334.7 751.3 335.4 747.4 338.3 744.5 335.6 742.2 336.8 736.5 336.8 733.1 334.9 731.5 331.1 729.5 330.4 729.7 328.6 728.8 325.6 728.1 323.6 727.2 327.4 724.7 327.9 723.1 328.6 722.2 326.3 719.9 323.8 714.9 322.2 711.5 321.3 704.7 322.7 701.3 322.9 696.8 324.7 692.2 326.8 687.7 326.5 683.1 329.0 679.7 329.0 676.3 327.4 677.9 325.2 677.9 321.3 676.3 317.7 676.1 314.3 674.0 310.8 672.9 309.0 673.1 305.2ZM725.4 330.6L728.6 330.6 727.4 331.3 725.4 331.3ZM710.4 275.4L713.8 274.9 713.3 276.3 710.8 276.3ZM743.6 342.0L747.9 342.9 752.0 342.4 752.0 345.4 751.1 347.7 748.8 348.6 746.7 348.3 744.9 345.4ZM807.4 327.7L811.0 329.7 813.1 332.9 814.7 334.7 817.9 335.6 820.6 335.2 819.5 338.1 817.2 338.8 816.5 340.8 813.3 344.0 811.7 343.3 813.1 341.1 810.4 339.3 811.5 337.7 812.0 334.7 811.0 332.4 808.3 329.7ZM807.4 341.5L810.8 343.3 810.1 345.4 807.4 348.1 804.0 350.2 802.6 353.8 799.7 355.4 795.8 354.7 793.3 353.1 795.6 350.6 800.1 348.3 804.0 344.9 806.0 342.2ZM795.8 355.8L797.2 356.1 796.3 356.7ZM625.6 219.1L626.3 221.1 625.6 223.4 625.2 221.6ZM275.7 366.1L279.8 366.1 283.7 366.7 282.1 368.1 277.5 367.9ZM328.7 372.2L333.2 372.7 332.1 373.3ZM246.9 344.5L248.0 344.5 248.0 347.9 246.2 347.7ZM207.1 250.0L208.7 250.2 207.8 251.8Z"/></clipPath>
<g clip-path="url(#clip0)"><g filter="url(#b2)"><path fill="#413985" d="M374 177h8v4h-8zM454 177h68v4h-68zM370 181h16v4h-16zM450 181h100v4h-100zM370 185h24v4h-24zM438 185h112v4h-112zM374 189h176v4h-176zM370 193h184v4h-184zM370 197h184v4h-184zM510 201h48v4h-48zM514 205h40v4h-40zM526 209h24v4h-24z"/>
<path fill="#483d82" d="M554 73h16v4h-16zM542 77h12v4h-12zM534 81h12v4h-12zM534 85h12v4h-12zM194 165h12v4h-12zM194 169h16v4h-16zM198 173h12v4h-12zM450 173h72v4h-72zM550 173h8v4h-8zM198 177h12v4h-12zM382 177h4v4h-4zM446 177h8v4h-8zM522 177h36v4h-36zM202 181h8v4h-8zM386 181h8v4h-8zM438 181h12v4h-12zM550 181h8v4h-8zM394 185h44v4h-44zM550 185h12v4h-12zM550 189h12v4h-12zM554 193h8v4h-8zM554 197h8v4h-8zM370 201h140v4h-140zM506 205h8v4h-8zM514 209h12v4h-12zM526 213h20v4h-20zM710 273h8v4h-8zM298 277h12v4h-12zM298 281h16v4h-16zM298 285h20v4h-20zM298 289h20v4h-20zM298 293h20v4h-20zM298 297h20v4h-20zM302 301h16v4h-16zM666 305h4v4h-4zM666 309h12v4h-12zM670 313h64v4h-64zM670 317h64v4h-64zM670 321h64v4h-64zM670 325h64v4h-64zM670 329h32v4h-32zM718 329h16v4h-16zM674 333h16v4h-16zM718 333h12v4h-12zM722 337h8v4h-8z"/>
<path fill="#4e4280" d="M550 73h4v4h-4zM530 85h4v4h-4zM562 137h8v4h-8zM562 141h4v4h-4zM562 145h4v4h-4zM558 149h8v4h-8zM558 153h8v4h-8zM554 157h12v4h-12zM186 161h24v4h-24zM554 161h8v4h-8zM186 165h8v4h-8zM206 165h8v4h-8zM550 165h8v4h-8zM186 169h8v4h-8zM210 169h4v4h-4zM490 169h20v4h-20zM546 169h12v4h-12zM190 173h8v4h-8zM210 173h8v4h-8zM446 173h4v4h-4zM522 173h28v4h-28zM194 177h4v4h-4zM210 177h8v4h-8zM386 177h4v4h-4zM442 177h4v4h-4zM194 181h8v4h-8zM210 181h4v4h-4zM394 181h44v4h-44zM558 181h4v4h-4zM198 185h16v4h-16zM562 185h4v4h-4zM562 189h4v4h-4zM562 193h12v4h-12zM562 197h28v4h-28zM566 201h24v4h-24zM370 205h116v4h-116zM502 205h4v4h-4zM570 205h20v4h-20zM510 209h4v4h-4zM574 209h20v4h-20zM518 213h8v4h-8zM574 213h20v4h-20zM578 217h20v4h-20zM578 221h24v4h-24zM582 225h12v4h-12zM582 229h8v4h-8zM718 273h4v4h-4zM294 277h4v4h-4zM310 277h8v4h-8zM706 277h20v4h-20zM294 281h4v4h-4zM314 281h8v4h-8zM714 281h8v4h-8zM294 285h4v4h-4zM318 285h8v4h-8zM294 289h4v4h-4zM318 289h8v4h-8zM294 293h4v4h-4zM318 293h8v4h-8zM294 297h4v4h-4zM318 297h8v4h-8zM666 297h4v4h-4zM294 301h8v4h-8zM318 301h8v4h-8zM666 301h8v4h-8zM298 305h24v4h-24zM670 305h8v4h-8zM310 309h4v4h-4zM678 309h56v4h-56zM730 333h4v4h-4zM730 337h4v4h-4z"/>
<path fill="#55467e" d="M570 73h4v4h-4zM538 77h4v4h-4zM554 77h4v4h-4zM546 81h4v4h-4zM558 133h24v4h-24zM558 137h4v4h-4zM570 137h4v4h-4zM558 141h4v4h-4zM566 141h4v4h-4zM558 145h4v4h-4zM214 153h16v4h-16zM554 153h4v4h-4zM186 157h48v4h-48zM182 161h4v4h-4zM210 161h28v4h-28zM550 161h4v4h-4zM182 165h4v4h-4zM214 165h32v4h-32zM546 165h4v4h-4zM558 165h4v4h-4zM182 169h4v4h-4zM214 169h36v4h-36zM458 169h16v4h-16zM486 169h4v4h-4zM510 169h36v4h-36zM558 169h4v4h-4zM182 173h8v4h-8zM218 173h28v4h-28zM558 173h4v4h-4zM182 177h12v4h-12zM218 177h8v4h-8zM390 177h8v4h-8zM434 177h8v4h-8zM558 177h4v4h-4zM182 181h12v4h-12zM214 181h8v4h-8zM186 185h12v4h-12zM214 185h4v4h-4zM566 189h4v4h-4zM574 193h16v4h-16zM590 197h4v4h-4zM590 201h4v4h-4zM486 205h16v4h-16zM590 205h4v4h-4zM370 209h12v4h-12zM506 209h4v4h-4zM366 213h8v4h-8zM514 213h4v4h-4zM594 213h4v4h-4zM534 217h12v4h-12zM598 217h4v4h-4zM602 221h4v4h-4zM594 225h12v4h-12zM590 229h8v4h-8zM586 233h4v4h-4zM710 269h8v4h-8zM294 273h24v4h-24zM706 273h4v4h-4zM318 277h8v4h-8zM702 277h4v4h-4zM322 281h8v4h-8zM698 281h16v4h-16zM722 281h24v4h-24zM326 285h8v4h-8zM706 285h16v4h-16zM738 285h4v4h-4zM326 289h8v4h-8zM326 293h8v4h-8zM326 297h4v4h-4zM670 297h4v4h-4zM674 301h4v4h-4zM290 305h8v4h-8zM678 305h52v4h-52zM290 309h20v4h-20zM734 309h4v4h-4zM278 313h36v4h-36zM734 313h4v4h-4zM274 317h36v4h-36zM734 317h4v4h-4zM274 321h32v4h-32zM734 321h4v4h-4zM274 325h28v4h-28zM734 325h4v4h-4zM274 329h24v4h-24zM734 329h4v4h-4zM274 333h20v4h-20zM734 333h4v4h-4zM278 337h12v4h-12zM278 341h8v4h-8z"/>
<path fill="#5b4b7b" d="M546 73h4v4h-4zM566 129h12v4h-12zM582 133h8v4h-8zM554 137h4v4h-4zM574 137h4v4h-4zM554 141h4v4h-4zM554 145h4v4h-4zM566 145h4v4h-4zM214 149h20v4h-20zM554 149h4v4h-4zM566 149h4v4h-4zM194 153h20v4h-20zM230 153h8v4h-8zM566 153h4v4h-4zM234 157h8v4h-8zM550 157h4v4h-4zM662 157h24v4h-24zM238 161h12v4h-12zM546 161h4v4h-4zM562 161h4v4h-4zM662 161h28v4h-28zM246 165h4v4h-4zM490 165h16v4h-16zM530 165h16v4h-16zM662 165h28v4h-28zM178 169h4v4h-4zM450 169h4v4h-4zM474 169h4v4h-4zM482 169h4v4h-4zM662 169h28v4h-28zM174 173h8v4h-8zM386 173h4v4h-4zM442 173h4v4h-4zM662 173h32v4h-32zM178 177h4v4h-4zM226 177h16v4h-16zM398 177h36v4h-36zM670 177h24v4h-24zM178 181h4v4h-4zM222 181h4v4h-4zM562 181h4v4h-4zM146 185h4v4h-4zM178 185h8v4h-8zM218 185h4v4h-4zM150 189h4v4h-4zM182 189h20v4h-20zM570 189h4v4h-4zM590 193h4v4h-4zM594 201h4v4h-4zM594 205h4v4h-4zM382 209h116v4h-116zM502 209h4v4h-4zM594 209h4v4h-4zM374 213h12v4h-12zM434 213h48v4h-48zM510 213h4v4h-4zM598 213h4v4h-4zM370 217h12v4h-12zM438 217h44v4h-44zM522 217h12v4h-12zM602 217h4v4h-4zM370 221h4v4h-4zM446 221h32v4h-32zM598 229h4v4h-4zM590 233h4v4h-4zM318 273h8v4h-8zM290 277h4v4h-4zM326 277h4v4h-4zM698 277h4v4h-4zM726 277h4v4h-4zM290 281h4v4h-4zM330 281h4v4h-4zM690 281h8v4h-8zM746 281h4v4h-4zM290 285h4v4h-4zM690 285h16v4h-16zM722 285h16v4h-16zM742 285h12v4h-12zM290 289h4v4h-4zM698 289h48v4h-48zM290 293h4v4h-4zM670 293h4v4h-4zM290 297h4v4h-4zM674 297h4v4h-4zM290 301h4v4h-4zM678 301h4v4h-4zM286 305h4v4h-4zM730 305h8v4h-8zM274 309h16v4h-16zM270 313h8v4h-8zM270 317h4v4h-4zM270 321h4v4h-4zM270 325h4v4h-4zM270 329h4v4h-4zM270 333h4v4h-4zM274 337h4v4h-4zM734 337h4v4h-4zM274 341h4v4h-4zM274 345h4v4h-4z"/>
<path fill="#624f79" d="M558 77h4v4h-4zM558 129h8v4h-8zM578 129h12v4h-12zM554 133h4v4h-4zM578 137h4v4h-4zM570 141h4v4h-4zM222 145h12v4h-12zM206 149h8v4h-8zM186 153h8v4h-8zM550 153h4v4h-4zM658 153h28v4h-28zM182 157h4v4h-4zM242 157h4v4h-4zM546 157h4v4h-4zM566 157h4v4h-4zM658 157h4v4h-4zM686 157h4v4h-4zM250 161h4v4h-4zM494 161h8v4h-8zM530 161h16v4h-16zM658 161h4v4h-4zM138 165h12v4h-12zM486 165h4v4h-4zM506 165h4v4h-4zM526 165h4v4h-4zM658 165h4v4h-4zM690 165h4v4h-4zM134 169h20v4h-20zM442 169h8v4h-8zM478 169h4v4h-4zM690 169h4v4h-4zM134 173h20v4h-20zM390 173h8v4h-8zM426 173h16v4h-16zM138 177h20v4h-20zM174 177h4v4h-4zM662 177h8v4h-8zM694 177h4v4h-4zM146 181h8v4h-8zM174 181h4v4h-4zM226 181h8v4h-8zM670 181h28v4h-28zM150 185h4v4h-4zM222 185h4v4h-4zM566 185h4v4h-4zM154 189h4v4h-4zM178 189h4v4h-4zM206 189h4v4h-4zM574 189h4v4h-4zM154 193h4v4h-4zM594 197h4v4h-4zM498 209h4v4h-4zM386 213h48v4h-48zM482 213h8v4h-8zM506 213h4v4h-4zM382 217h8v4h-8zM410 217h28v4h-28zM482 217h4v4h-4zM518 217h4v4h-4zM374 221h8v4h-8zM438 221h8v4h-8zM478 221h4v4h-4zM602 229h8v4h-8zM594 233h8v4h-8zM590 237h4v4h-4zM310 269h8v4h-8zM290 273h4v4h-4zM522 273h12v4h-12zM722 273h4v4h-4zM518 277h8v4h-8zM534 277h4v4h-4zM730 277h12v4h-12zM518 281h4v4h-4zM534 281h4v4h-4zM434 285h56v4h-56zM514 285h8v4h-8zM534 285h4v4h-4zM682 285h8v4h-8zM434 289h64v4h-64zM510 289h12v4h-12zM674 289h4v4h-4zM686 289h12v4h-12zM746 289h12v4h-12zM438 293h60v4h-60zM510 293h12v4h-12zM530 293h4v4h-4zM674 293h4v4h-4zM694 293h52v4h-52zM438 297h36v4h-36zM486 297h16v4h-16zM506 297h16v4h-16zM530 297h4v4h-4zM678 297h4v4h-4zM438 301h28v4h-28zM494 301h8v4h-8zM506 301h16v4h-16zM682 301h52v4h-52zM282 305h4v4h-4zM438 305h28v4h-28zM510 305h20v4h-20zM270 309h4v4h-4zM442 309h20v4h-20zM510 309h16v4h-16zM442 313h20v4h-20zM514 313h4v4h-4zM446 317h16v4h-16zM446 321h20v4h-20zM450 325h16v4h-16zM450 329h20v4h-20zM454 333h12v4h-12zM270 337h4v4h-4zM270 341h4v4h-4z"/>
<path fill="#685476" d="M562 69h8v4h-8zM530 81h4v4h-4zM590 129h4v4h-4zM590 133h4v4h-4zM214 145h8v4h-8zM198 149h8v4h-8zM234 149h4v4h-4zM550 149h4v4h-4zM670 149h16v4h-16zM182 153h4v4h-4zM238 153h4v4h-4zM654 153h4v4h-4zM686 153h4v4h-4zM246 157h4v4h-4zM538 157h8v4h-8zM654 157h4v4h-4zM486 161h8v4h-8zM502 161h4v4h-4zM526 161h4v4h-4zM690 161h4v4h-4zM134 165h4v4h-4zM178 165h4v4h-4zM422 165h12v4h-12zM482 165h4v4h-4zM518 165h8v4h-8zM418 169h24v4h-24zM658 169h4v4h-4zM154 173h4v4h-4zM170 173h4v4h-4zM398 173h28v4h-28zM658 173h4v4h-4zM694 173h4v4h-4zM170 177h4v4h-4zM658 177h4v4h-4zM154 181h4v4h-4zM234 181h8v4h-8zM662 181h8v4h-8zM154 185h4v4h-4zM174 185h4v4h-4zM226 185h4v4h-4zM674 185h24v4h-24zM578 189h4v4h-4zM158 193h4v4h-4zM182 193h8v4h-8zM594 193h4v4h-4zM158 197h4v4h-4zM598 209h4v4h-4zM490 213h16v4h-16zM390 217h20v4h-20zM486 217h4v4h-4zM514 217h4v4h-4zM382 221h4v4h-4zM434 221h4v4h-4zM482 221h4v4h-4zM374 225h4v4h-4zM602 233h8v4h-8zM594 237h4v4h-4zM298 269h12v4h-12zM318 269h8v4h-8zM522 269h8v4h-8zM706 269h4v4h-4zM326 273h4v4h-4zM518 273h4v4h-4zM702 273h4v4h-4zM330 277h4v4h-4zM526 277h4v4h-4zM694 277h4v4h-4zM742 277h4v4h-4zM434 281h12v4h-12zM514 281h4v4h-4zM750 281h4v4h-4zM490 285h4v4h-4zM678 289h8v4h-8zM498 293h12v4h-12zM534 293h4v4h-4zM678 293h16v4h-16zM746 293h16v4h-16zM474 297h12v4h-12zM682 297h64v4h-64zM754 297h12v4h-12zM286 301h4v4h-4zM466 301h8v4h-8zM490 301h4v4h-4zM734 301h8v4h-8zM270 305h12v4h-12zM498 305h4v4h-4zM738 305h4v4h-4zM462 309h4v4h-4zM738 309h4v4h-4zM462 313h4v4h-4zM738 313h4v4h-4zM462 317h4v4h-4zM738 317h4v4h-4zM738 321h4v4h-4zM466 325h4v4h-4zM738 325h4v4h-4zM738 329h4v4h-4zM738 333h4v4h-4zM734 341h4v4h-4zM270 345h4v4h-4zM270 353h4v4h-4zM262 357h8v4h-8zM258 361h12v4h-12zM262 365h4v4h-4z"/>
<path fill="#6e5874" d="M554 69h8v4h-8zM534 77h4v4h-4zM554 129h4v4h-4zM550 137h4v4h-4zM582 137h4v4h-4zM226 141h8v4h-8zM550 141h4v4h-4zM210 145h4v4h-4zM234 145h4v4h-4zM550 145h4v4h-4zM570 145h4v4h-4zM190 149h8v4h-8zM238 149h4v4h-4zM662 149h8v4h-8zM686 149h4v4h-4zM242 153h4v4h-4zM546 153h4v4h-4zM690 153h4v4h-4zM250 157h4v4h-4zM426 157h4v4h-4zM486 157h16v4h-16zM530 157h8v4h-8zM690 157h4v4h-4zM138 161h8v4h-8zM418 161h24v4h-24zM654 161h4v4h-4zM150 165h4v4h-4zM414 165h8v4h-8zM434 165h12v4h-12zM510 165h8v4h-8zM562 165h4v4h-4zM154 169h4v4h-4zM390 169h28v4h-28zM158 173h4v4h-4zM166 173h4v4h-4zM158 177h4v4h-4zM562 177h4v4h-4zM658 181h4v4h-4zM230 185h4v4h-4zM666 185h8v4h-8zM158 189h4v4h-4zM174 189h4v4h-4zM582 189h4v4h-4zM674 189h28v4h-28zM178 193h4v4h-4zM190 193h8v4h-8zM678 193h24v4h-24zM678 197h8v4h-8zM598 201h4v4h-4zM598 205h4v4h-4zM602 213h4v4h-4zM490 217h8v4h-8zM506 217h8v4h-8zM386 221h4v4h-4zM410 221h24v4h-24zM486 221h4v4h-4zM534 221h12v4h-12zM378 225h4v4h-4zM442 225h40v4h-40zM598 237h8v4h-8zM494 241h4v4h-4zM594 241h4v4h-4zM490 245h8v4h-8zM490 249h4v4h-4zM294 269h4v4h-4zM718 269h4v4h-4zM286 273h4v4h-4zM286 277h4v4h-4zM530 277h4v4h-4zM286 281h4v4h-4zM446 281h48v4h-48zM286 285h4v4h-4zM494 285h4v4h-4zM510 285h4v4h-4zM530 285h4v4h-4zM286 289h4v4h-4zM498 289h4v4h-4zM286 293h4v4h-4zM286 297h4v4h-4zM534 297h4v4h-4zM746 297h8v4h-8zM474 301h16v4h-16zM522 301h4v4h-4zM742 301h4v4h-4zM466 305h4v4h-4zM494 305h4v4h-4zM266 321h4v4h-4zM466 321h4v4h-4zM802 321h12v4h-12zM266 325h4v4h-4zM470 325h4v4h-4zM798 325h20v4h-20zM266 329h4v4h-4zM470 329h4v4h-4zM802 329h22v4h-22zM266 333h4v4h-4zM802 333h22v4h-22zM802 337h22v4h-22zM802 341h22v4h-22zM806 345h16v4h-16zM270 349h4v4h-4zM810 349h8v4h-8zM266 353h4v4h-4zM258 357h4v4h-4zM270 357h4v4h-4zM258 365h4v4h-4zM266 365h4v4h-4zM258 369h8v4h-8z"/>
<path fill="#755d71" d="M542 73h4v4h-4zM394 113h16v4h-16zM390 117h24v4h-24zM386 121h28v4h-28zM386 125h32v4h-32zM562 125h28v4h-28zM382 129h44v4h-44zM386 133h40v4h-40zM550 133h4v4h-4zM390 137h4v4h-4zM398 137h24v4h-24zM586 137h4v4h-4zM222 141h4v4h-4zM234 141h4v4h-4zM574 141h4v4h-4zM206 145h4v4h-4zM186 149h4v4h-4zM490 149h4v4h-4zM546 149h4v4h-4zM658 149h4v4h-4zM690 149h4v4h-4zM246 153h4v4h-4zM426 153h4v4h-4zM434 153h8v4h-8zM486 153h16v4h-16zM534 153h12v4h-12zM650 153h4v4h-4zM422 157h4v4h-4zM430 157h12v4h-12zM482 157h4v4h-4zM526 157h4v4h-4zM414 161h4v4h-4zM442 161h4v4h-4zM482 161h4v4h-4zM522 161h4v4h-4zM130 165h4v4h-4zM386 165h28v4h-28zM446 165h8v4h-8zM466 165h16v4h-16zM174 169h4v4h-4zM694 169h4v4h-4zM162 173h4v4h-4zM162 177h8v4h-8zM158 181h4v4h-4zM170 181h4v4h-4zM158 185h4v4h-4zM234 185h4v4h-4zM570 185h4v4h-4zM658 185h8v4h-8zM222 189h8v4h-8zM586 189h4v4h-4zM670 189h4v4h-4zM198 193h4v4h-4zM674 193h4v4h-4zM162 197h4v4h-4zM598 197h4v4h-4zM674 197h4v4h-4zM686 197h12v4h-12zM678 201h4v4h-4zM498 217h8v4h-8zM390 221h20v4h-20zM490 221h4v4h-4zM518 221h16v4h-16zM382 225h4v4h-4zM438 225h4v4h-4zM482 225h4v4h-4zM490 241h4v4h-4zM498 241h4v4h-4zM598 241h4v4h-4zM486 245h4v4h-4zM498 245h4v4h-4zM486 249h4v4h-4zM494 249h4v4h-4zM486 253h8v4h-8zM290 269h4v4h-4zM326 269h4v4h-4zM434 277h4v4h-4zM514 277h4v4h-4zM690 277h4v4h-4zM498 285h4v4h-4zM502 289h8v4h-8zM538 289h4v4h-4zM282 301h4v4h-4zM746 301h20v4h-20zM470 305h4v4h-4zM490 305h4v4h-4zM742 305h4v4h-4zM466 309h4v4h-4zM494 309h4v4h-4zM466 313h4v4h-4zM466 317h4v4h-4zM474 329h4v4h-4zM266 337h4v4h-4zM738 337h4v4h-4zM266 341h4v4h-4zM794 341h8v4h-8zM798 345h8v4h-8zM266 349h4v4h-4zM802 349h8v4h-8zM262 353h4v4h-4zM806 353h4v4h-4zM254 357h4v4h-4zM274 357h4v4h-4zM254 361h4v4h-4zM270 361h4v4h-4zM254 365h4v4h-4zM254 369h4v4h-4zM266 369h4v4h-4zM254 373h16v4h-16z"/>
<path fill="#7b616f" d="M550 69h4v4h-4zM570 69h4v4h-4zM402 101h4v4h-4zM398 105h12v4h-12zM394 109h20v4h-20zM410 113h4v4h-4zM414 117h4v4h-4zM414 121h4v4h-4zM418 125h8v4h-8zM558 125h4v4h-4zM590 125h4v4h-4zM426 129h4v4h-4zM426 133h12v4h-12zM394 137h4v4h-4zM422 137h4v4h-4zM478 137h16v4h-16zM218 141h4v4h-4zM394 141h32v4h-32zM478 141h20v4h-20zM198 145h8v4h-8zM238 145h4v4h-4zM398 145h28v4h-28zM482 145h16v4h-16zM546 145h4v4h-4zM670 145h24v4h-24zM182 149h4v4h-4zM242 149h4v4h-4zM406 149h24v4h-24zM482 149h8v4h-8zM494 149h8v4h-8zM570 149h4v4h-4zM654 149h4v4h-4zM250 153h4v4h-4zM410 153h16v4h-16zM430 153h4v4h-4zM442 153h8v4h-8zM482 153h4v4h-4zM526 153h8v4h-8zM694 153h4v4h-4zM138 157h4v4h-4zM254 157h4v4h-4zM394 157h28v4h-28zM442 157h8v4h-8zM650 157h4v4h-4zM146 161h4v4h-4zM178 161h4v4h-4zM386 161h28v4h-28zM446 161h4v4h-4zM478 161h4v4h-4zM566 161h4v4h-4zM454 165h12v4h-12zM654 165h4v4h-4zM694 165h4v4h-4zM562 169h4v4h-4zM562 173h4v4h-4zM166 181h4v4h-4zM654 181h4v4h-4zM170 185h4v4h-4zM238 185h8v4h-8zM654 185h4v4h-4zM162 189h4v4h-4zM170 189h4v4h-4zM230 189h12v4h-12zM666 189h4v4h-4zM162 193h4v4h-4zM174 193h4v4h-4zM226 193h4v4h-4zM598 193h4v4h-4zM670 193h4v4h-4zM670 197h4v4h-4zM162 201h4v4h-4zM674 201h4v4h-4zM682 201h4v4h-4zM602 209h4v4h-4zM494 221h24v4h-24zM386 225h4v4h-4zM430 225h8v4h-8zM486 225h8v4h-8zM522 225h20v4h-20zM378 229h4v4h-4zM490 237h16v4h-16zM486 241h4v4h-4zM502 241h4v4h-4zM502 245h4v4h-4zM498 249h4v4h-4zM486 257h4v4h-4zM286 269h4v4h-4zM282 273h4v4h-4zM330 273h4v4h-4zM698 273h4v4h-4zM334 277h4v4h-4zM438 277h4v4h-4zM494 281h4v4h-4zM542 285h4v4h-4zM542 289h4v4h-4zM538 293h4v4h-4zM282 297h4v4h-4zM538 297h4v4h-4zM270 301h12v4h-12zM526 301h4v4h-4zM538 301h4v4h-4zM474 305h4v4h-4zM482 305h8v4h-8zM746 305h4v4h-4zM470 309h4v4h-4zM742 309h4v4h-4zM742 313h4v4h-4zM470 317h4v4h-4zM470 321h4v4h-4zM474 325h4v4h-4zM478 329h4v4h-4zM266 345h4v4h-4zM790 345h8v4h-8zM786 349h16v4h-16zM258 353h4v4h-4zM790 353h16v4h-16zM278 357h4v4h-4zM794 357h12v4h-12zM274 361h4v4h-4zM798 361h4v4h-4zM270 365h4v4h-4zM270 369h4v4h-4zM250 373h4v4h-4zM250 377h20v4h-20z"/>
<path fill="#82666d" d="M218 53h60v4h-60zM282 53h96v4h-96zM198 57h192v4h-192zM458 57h8v4h-8zM518 57h40v4h-40zM622 57h20v4h-20zM174 61h220v4h-220zM434 61h48v4h-48zM514 61h48v4h-48zM622 61h16v4h-16zM182 65h24v4h-24zM222 65h172v4h-172zM430 65h56v4h-56zM510 65h64v4h-64zM242 69h148v4h-148zM430 69h52v4h-52zM514 69h36v4h-36zM254 73h128v4h-128zM434 73h40v4h-40zM518 73h24v4h-24zM266 77h112v4h-112zM438 77h16v4h-16zM530 77h4v4h-4zM274 81h104v4h-104zM526 81h4v4h-4zM282 85h92v4h-92zM286 89h80v4h-80zM286 93h72v4h-72zM286 97h68v4h-68zM286 101h56v4h-56zM394 101h8v4h-8zM290 105h48v4h-48zM394 105h4v4h-4zM410 105h4v4h-4zM294 109h32v4h-32zM390 109h4v4h-4zM298 113h28v4h-28zM306 117h16v4h-16zM18 121h8v4h-8zM418 121h4v4h-4zM6 125h28v4h-28zM554 125h4v4h-4zM810 125h14v4h-14zM6 129h36v4h-36zM430 129h4v4h-4zM550 129h4v4h-4zM594 129h4v4h-4zM798 129h26v4h-26zM6 133h32v4h-32zM134 133h4v4h-4zM438 133h4v4h-4zM474 133h20v4h-20zM594 133h4v4h-4zM802 133h22v4h-22zM6 137h16v4h-16zM134 137h8v4h-8zM226 137h8v4h-8zM426 137h4v4h-4zM474 137h4v4h-4zM494 137h4v4h-4zM546 137h4v4h-4zM590 137h4v4h-4zM754 137h4v4h-4zM814 137h10v4h-10zM130 141h12v4h-12zM210 141h8v4h-8zM238 141h4v4h-4zM498 141h4v4h-4zM546 141h4v4h-4zM682 141h12v4h-12zM754 141h8v4h-8zM126 145h16v4h-16zM194 145h4v4h-4zM390 145h8v4h-8zM478 145h4v4h-4zM498 145h4v4h-4zM666 145h4v4h-4zM694 145h4v4h-4zM754 145h12v4h-12zM134 149h8v4h-8zM246 149h4v4h-4zM386 149h20v4h-20zM438 149h12v4h-12zM478 149h4v4h-4zM526 149h20v4h-20zM650 149h4v4h-4zM694 149h4v4h-4zM754 149h4v4h-4zM138 153h4v4h-4zM178 153h4v4h-4zM254 153h4v4h-4zM346 153h8v4h-8zM386 153h24v4h-24zM450 153h4v4h-4zM478 153h4v4h-4zM570 153h4v4h-4zM646 153h4v4h-4zM142 157h4v4h-4zM178 157h4v4h-4zM258 157h4v4h-4zM342 157h20v4h-20zM386 157h8v4h-8zM450 157h4v4h-4zM478 157h4v4h-4zM502 157h4v4h-4zM694 157h4v4h-4zM134 161h4v4h-4zM342 161h24v4h-24zM450 161h4v4h-4zM474 161h4v4h-4zM694 161h4v4h-4zM346 165h16v4h-16zM158 169h12v4h-12zM354 169h4v4h-4zM654 169h4v4h-4zM654 177h4v4h-4zM162 181h4v4h-4zM566 181h4v4h-4zM162 185h8v4h-8zM242 189h8v4h-8zM590 189h4v4h-4zM658 189h8v4h-8zM46 193h16v4h-16zM166 193h8v4h-8zM222 193h4v4h-4zM230 193h20v4h-20zM666 193h4v4h-4zM42 197h24v4h-24zM178 197h12v4h-12zM226 197h32v4h-32zM46 201h24v4h-24zM230 201h40v4h-40zM670 201h4v4h-4zM686 201h8v4h-8zM50 205h20v4h-20zM234 205h44v4h-44zM602 205h4v4h-4zM54 209h12v4h-12zM238 209h44v4h-44zM606 213h4v4h-4zM390 225h40v4h-40zM494 225h28v4h-28zM382 229h4v4h-4zM486 229h52v4h-52zM490 233h44v4h-44zM506 237h28v4h-28zM206 241h4v4h-4zM506 241h24v4h-24zM202 245h12v4h-12zM506 245h20v4h-20zM198 249h16v4h-16zM502 249h20v4h-20zM202 253h12v4h-12zM494 253h4v4h-4zM206 257h4v4h-4zM490 257h4v4h-4zM770 257h4v4h-4zM486 261h4v4h-4zM770 261h12v4h-12zM310 265h16v4h-16zM770 265h16v4h-16zM282 269h4v4h-4zM702 269h4v4h-4zM770 269h20v4h-20zM18 273h12v4h-12zM278 273h4v4h-4zM770 273h16v4h-16zM14 277h20v4h-20zM282 277h4v4h-4zM442 277h8v4h-8zM474 277h20v4h-20zM686 277h4v4h-4zM746 277h4v4h-4zM774 277h8v4h-8zM790 277h8v4h-8zM818 277h6v4h-6zM14 281h20v4h-20zM74 281h4v4h-4zM282 281h4v4h-4zM510 281h4v4h-4zM530 281h4v4h-4zM786 281h16v4h-16zM814 281h10v4h-10zM18 285h12v4h-12zM70 285h12v4h-12zM502 285h8v4h-8zM786 285h16v4h-16zM810 285h14v4h-14zM66 289h20v4h-20zM546 289h4v4h-4zM782 289h16v4h-16zM810 289h14v4h-14zM70 293h12v4h-12zM282 293h4v4h-4zM542 293h12v4h-12zM778 293h20v4h-20zM814 293h10v4h-10zM542 297h12v4h-12zM782 297h20v4h-20zM542 301h8v4h-8zM786 301h16v4h-16zM478 305h4v4h-4zM750 305h16v4h-16zM790 305h8v4h-8zM490 309h4v4h-4zM470 313h4v4h-4zM494 313h4v4h-4zM742 317h4v4h-4zM474 321h4v4h-4zM742 321h4v4h-4zM478 325h4v4h-4zM742 325h4v4h-4zM742 329h4v4h-4zM742 333h4v4h-4zM10 341h8v4h-8zM738 341h4v4h-4zM6 345h16v4h-16zM6 349h16v4h-16zM10 353h8v4h-8zM254 353h4v4h-4zM566 353h12v4h-12zM786 353h4v4h-4zM250 357h4v4h-4zM282 357h4v4h-4zM562 357h20v4h-20zM790 357h4v4h-4zM250 361h4v4h-4zM278 361h12v4h-12zM566 361h16v4h-16zM794 361h4v4h-4zM250 365h4v4h-4zM274 365h16v4h-16zM326 365h12v4h-12zM570 365h8v4h-8zM250 369h4v4h-4zM274 369h16v4h-16zM322 369h20v4h-20zM274 373h12v4h-12zM322 373h20v4h-20zM326 377h12v4h-12z"/>
<path fill="#886a6a" d="M162 61h4v4h-4zM618 61h4v4h-4zM638 61h4v4h-4zM174 65h8v4h-8zM206 65h16v4h-16zM194 69h12v4h-12zM234 69h8v4h-8zM726 69h16v4h-16zM250 73h4v4h-4zM474 73h4v4h-4zM262 77h4v4h-4zM454 77h8v4h-8zM686 77h8v4h-8zM690 81h4v4h-4zM366 89h4v4h-4zM358 93h4v4h-4zM414 113h4v4h-4zM686 113h20v4h-20zM686 117h28v4h-28zM26 121h4v4h-4zM686 121h44v4h-44zM34 125h4v4h-4zM426 125h4v4h-4zM686 125h52v4h-52zM806 125h4v4h-4zM42 129h8v4h-8zM434 129h8v4h-8zM686 129h64v4h-64zM442 133h4v4h-4zM470 133h4v4h-4zM494 133h4v4h-4zM546 133h4v4h-4zM686 133h56v4h-56zM222 137h4v4h-4zM234 137h4v4h-4zM498 137h4v4h-4zM686 137h44v4h-44zM750 137h4v4h-4zM758 137h4v4h-4zM206 141h4v4h-4zM474 141h4v4h-4zM502 141h4v4h-4zM542 141h4v4h-4zM578 141h4v4h-4zM678 141h4v4h-4zM694 141h20v4h-20zM750 141h4v4h-4zM762 141h4v4h-4zM190 145h4v4h-4zM242 145h8v4h-8zM426 145h4v4h-4zM474 145h4v4h-4zM502 145h4v4h-4zM526 145h20v4h-20zM662 145h4v4h-4zM698 145h4v4h-4zM750 145h4v4h-4zM130 149h4v4h-4zM178 149h4v4h-4zM250 149h8v4h-8zM450 149h8v4h-8zM474 149h4v4h-4zM502 149h4v4h-4zM646 149h4v4h-4zM698 149h4v4h-4zM134 153h4v4h-4zM258 153h4v4h-4zM454 153h4v4h-4zM474 153h4v4h-4zM454 157h4v4h-4zM474 157h4v4h-4zM522 157h4v4h-4zM570 157h4v4h-4zM454 161h20v4h-20zM654 173h4v4h-4zM650 185h4v4h-4zM166 189h4v4h-4zM594 189h4v4h-4zM650 189h8v4h-8zM602 193h4v4h-4zM662 193h4v4h-4zM166 197h12v4h-12zM190 197h4v4h-4zM222 197h4v4h-4zM602 197h4v4h-4zM666 197h4v4h-4zM226 201h4v4h-4zM602 201h4v4h-4zM694 201h4v4h-4zM230 205h4v4h-4zM234 209h4v4h-4zM606 209h4v4h-4zM278 213h8v4h-8zM386 229h12v4h-12zM406 229h24v4h-24zM442 229h8v4h-8zM474 229h12v4h-12zM382 233h4v4h-4zM486 233h4v4h-4zM486 237h4v4h-4zM482 245h4v4h-4zM214 249h4v4h-4zM482 249h4v4h-4zM482 253h4v4h-4zM514 253h4v4h-4zM482 257h4v4h-4zM490 261h4v4h-4zM306 265h4v4h-4zM486 265h4v4h-4zM766 265h4v4h-4zM278 269h4v4h-4zM330 269h4v4h-4zM766 269h4v4h-4zM694 273h4v4h-4zM726 273h4v4h-4zM278 277h4v4h-4zM450 277h24v4h-24zM498 281h4v4h-4zM522 281h4v4h-4zM282 285h4v4h-4zM282 289h4v4h-4zM530 289h4v4h-4zM278 297h4v4h-4zM246 301h4v4h-4zM246 305h4v4h-4zM766 305h4v4h-4zM474 309h16v4h-16zM746 309h16v4h-16zM474 313h4v4h-4zM490 313h4v4h-4zM266 317h4v4h-4zM474 317h4v4h-4zM478 321h4v4h-4zM482 325h4v4h-4zM742 337h4v4h-4zM262 349h4v4h-4zM246 369h4v4h-4zM246 373h4v4h-4z"/>
<path fill="#8f6f68" d="M642 61h4v4h-4zM170 65h4v4h-4zM630 65h4v4h-4zM230 69h4v4h-4zM742 69h8v4h-8zM462 77h4v4h-4zM686 81h4v4h-4zM686 85h8v4h-8zM690 89h4v4h-4zM362 93h4v4h-4zM354 97h4v4h-4zM390 105h4v4h-4zM682 109h20v4h-20zM682 113h4v4h-4zM706 113h4v4h-4zM682 117h4v4h-4zM714 117h8v4h-8zM682 121h4v4h-4zM730 121h4v4h-4zM38 125h4v4h-4zM594 125h4v4h-4zM682 125h4v4h-4zM738 125h4v4h-4zM802 125h4v4h-4zM134 129h4v4h-4zM442 129h20v4h-20zM682 129h4v4h-4zM794 129h4v4h-4zM138 133h4v4h-4zM446 133h24v4h-24zM498 133h4v4h-4zM682 133h4v4h-4zM742 133h8v4h-8zM130 137h4v4h-4zM218 137h4v4h-4zM430 137h4v4h-4zM502 137h44v4h-44zM682 137h4v4h-4zM730 137h12v4h-12zM746 137h4v4h-4zM126 141h4v4h-4zM142 141h4v4h-4zM198 141h8v4h-8zM242 141h4v4h-4zM426 141h4v4h-4zM506 141h36v4h-36zM674 141h4v4h-4zM714 141h20v4h-20zM142 145h4v4h-4zM182 145h8v4h-8zM250 145h20v4h-20zM522 145h4v4h-4zM658 145h4v4h-4zM702 145h12v4h-12zM126 149h4v4h-4zM142 149h4v4h-4zM258 149h16v4h-16zM430 149h8v4h-8zM458 149h16v4h-16zM522 149h4v4h-4zM642 149h4v4h-4zM702 149h4v4h-4zM750 149h4v4h-4zM142 153h4v4h-4zM262 153h12v4h-12zM458 153h16v4h-16zM502 153h4v4h-4zM522 153h4v4h-4zM642 153h4v4h-4zM698 153h4v4h-4zM750 153h4v4h-4zM134 157h4v4h-4zM458 157h16v4h-16zM698 157h4v4h-4zM130 161h4v4h-4zM506 161h4v4h-4zM518 161h4v4h-4zM650 161h4v4h-4zM698 173h4v4h-4zM574 185h4v4h-4zM646 189h4v4h-4zM218 193h4v4h-4zM650 193h12v4h-12zM194 197h4v4h-4zM606 197h4v4h-4zM662 197h4v4h-4zM166 201h4v4h-4zM606 201h4v4h-4zM666 201h4v4h-4zM606 205h4v4h-4zM670 205h4v4h-4zM682 205h4v4h-4zM250 213h8v4h-8zM274 213h4v4h-4zM398 229h8v4h-8zM430 229h12v4h-12zM450 229h24v4h-24zM386 233h44v4h-44zM386 237h40v4h-40zM390 241h32v4h-32zM482 241h4v4h-4zM394 245h4v4h-4zM498 253h4v4h-4zM506 253h8v4h-8zM766 253h4v4h-4zM766 257h4v4h-4zM482 261h4v4h-4zM766 261h4v4h-4zM302 265h4v4h-4zM326 265h4v4h-4zM482 265h4v4h-4zM274 273h4v4h-4zM334 273h4v4h-4zM482 273h8v4h-8zM690 273h4v4h-4zM494 277h4v4h-4zM682 277h4v4h-4zM278 281h4v4h-4zM278 293h4v4h-4zM270 297h8v4h-8zM762 309h8v4h-8zM478 313h12v4h-12zM746 313h4v4h-4zM766 313h8v4h-8zM478 317h16v4h-16zM262 321h4v4h-4zM482 321h8v4h-8zM742 341h4v4h-4zM738 345h4v4h-4zM250 353h4v4h-4zM246 357h4v4h-4zM246 361h4v4h-4zM246 365h4v4h-4zM242 373h4v4h-4z"/>
<path fill="#957365" d="M166 65h4v4h-4zM626 65h4v4h-4zM634 65h4v4h-4zM178 69h16v4h-16zM206 69h4v4h-4zM222 69h8v4h-8zM750 69h4v4h-4zM198 73h4v4h-4zM246 73h4v4h-4zM466 77h4v4h-4zM562 77h4v4h-4zM270 81h4v4h-4zM686 89h4v4h-4zM366 93h4v4h-4zM690 93h4v4h-4zM358 97h4v4h-4zM690 97h4v4h-4zM354 101h4v4h-4zM390 101h4v4h-4zM686 101h12v4h-12zM682 105h20v4h-20zM702 109h4v4h-4zM710 113h4v4h-4zM722 117h4v4h-4zM30 121h4v4h-4zM558 121h36v4h-36zM734 121h4v4h-4zM430 125h4v4h-4zM550 125h4v4h-4zM742 125h4v4h-4zM50 129h4v4h-4zM462 129h32v4h-32zM546 129h4v4h-4zM130 133h4v4h-4zM222 133h12v4h-12zM502 133h44v4h-44zM210 137h8v4h-8zM238 137h4v4h-4zM594 137h4v4h-4zM678 137h4v4h-4zM742 137h4v4h-4zM190 141h8v4h-8zM246 141h20v4h-20zM734 141h4v4h-4zM746 141h4v4h-4zM178 145h4v4h-4zM270 145h4v4h-4zM506 145h4v4h-4zM518 145h4v4h-4zM574 145h4v4h-4zM654 145h4v4h-4zM714 145h16v4h-16zM746 145h4v4h-4zM274 149h4v4h-4zM638 149h4v4h-4zM706 149h8v4h-8zM746 149h4v4h-4zM130 153h4v4h-4zM702 153h4v4h-4zM646 157h4v4h-4zM126 161h4v4h-4zM698 161h4v4h-4zM154 165h4v4h-4zM698 165h4v4h-4zM170 169h4v4h-4zM698 169h4v4h-4zM650 181h4v4h-4zM642 189h4v4h-4zM606 193h8v4h-8zM638 193h12v4h-12zM610 197h8v4h-8zM634 197h28v4h-28zM170 201h16v4h-16zM222 201h4v4h-4zM610 201h24v4h-24zM662 201h4v4h-4zM226 205h4v4h-4zM610 205h20v4h-20zM666 205h4v4h-4zM686 205h16v4h-16zM230 209h4v4h-4zM610 209h4v4h-4zM622 209h8v4h-8zM682 209h20v4h-20zM238 213h12v4h-12zM258 213h4v4h-4zM270 213h4v4h-4zM622 213h4v4h-4zM682 213h20v4h-20zM618 217h8v4h-8zM682 217h24v4h-24zM618 221h8v4h-8zM686 221h24v4h-24zM690 225h20v4h-20zM694 229h16v4h-16zM430 233h4v4h-4zM482 233h4v4h-4zM426 237h4v4h-4zM482 237h4v4h-4zM422 241h4v4h-4zM502 253h4v4h-4zM494 257h4v4h-4zM298 265h4v4h-4zM490 265h4v4h-4zM706 265h8v4h-8zM274 269h4v4h-4zM482 269h8v4h-8zM698 269h4v4h-4zM478 273h4v4h-4zM490 273h4v4h-4zM658 273h32v4h-32zM274 277h4v4h-4zM274 281h4v4h-4zM502 281h8v4h-8zM274 285h8v4h-8zM522 285h4v4h-4zM274 289h8v4h-8zM270 293h8v4h-8zM250 305h4v4h-4zM750 313h16v4h-16zM746 317h4v4h-4zM766 317h4v4h-4zM262 325h4v4h-4zM262 329h4v4h-4zM262 333h4v4h-4zM262 337h4v4h-4zM746 337h4v4h-4zM262 341h4v4h-4zM746 341h4v4h-4zM262 345h4v4h-4zM742 345h12v4h-12zM258 349h4v4h-4zM738 349h20v4h-20zM742 353h12v4h-12zM242 365h4v4h-4zM242 369h4v4h-4z"/>
<path fill="#9c7863" d="M646 61h4v4h-4zM138 65h8v4h-8zM158 65h8v4h-8zM622 65h4v4h-4zM638 65h4v4h-4zM174 69h4v4h-4zM218 69h4v4h-4zM202 73h4v4h-4zM694 73h4v4h-4zM730 73h8v4h-8zM258 77h4v4h-4zM694 77h4v4h-4zM550 81h4v4h-4zM694 81h4v4h-4zM526 85h4v4h-4zM694 85h4v4h-4zM378 89h4v4h-4zM694 89h4v4h-4zM370 93h4v4h-4zM686 93h4v4h-4zM694 93h4v4h-4zM362 97h8v4h-8zM686 97h4v4h-4zM694 97h4v4h-4zM358 101h4v4h-4zM682 101h4v4h-4zM698 101h4v4h-4zM354 105h4v4h-4zM386 105h4v4h-4zM678 105h4v4h-4zM414 109h4v4h-4zM678 109h4v4h-4zM706 109h4v4h-4zM678 113h4v4h-4zM714 113h4v4h-4zM678 117h4v4h-4zM726 117h4v4h-4zM422 121h4v4h-4zM554 121h4v4h-4zM594 121h4v4h-4zM42 125h4v4h-4zM434 125h4v4h-4zM798 125h4v4h-4zM130 129h4v4h-4zM222 129h8v4h-8zM494 129h4v4h-4zM214 133h8v4h-8zM234 133h4v4h-4zM114 137h4v4h-4zM142 137h4v4h-4zM194 137h16v4h-16zM122 141h4v4h-4zM178 141h12v4h-12zM266 141h4v4h-4zM582 141h4v4h-4zM670 141h4v4h-4zM738 141h8v4h-8zM174 145h4v4h-4zM450 145h12v4h-12zM730 145h8v4h-8zM742 145h4v4h-4zM634 149h4v4h-4zM714 149h16v4h-16zM126 153h4v4h-4zM638 153h4v4h-4zM706 153h12v4h-12zM746 153h4v4h-4zM126 157h8v4h-8zM702 157h8v4h-8zM150 161h4v4h-4zM702 161h4v4h-4zM702 177h4v4h-4zM646 185h4v4h-4zM598 189h4v4h-4zM638 189h4v4h-4zM206 193h4v4h-4zM614 193h4v4h-4zM634 193h4v4h-4zM198 197h4v4h-4zM218 197h4v4h-4zM618 197h16v4h-16zM186 201h4v4h-4zM634 201h28v4h-28zM630 205h8v4h-8zM630 209h4v4h-4zM234 213h4v4h-4zM262 213h4v4h-4zM626 213h8v4h-8zM626 217h8v4h-8zM626 221h4v4h-4zM678 221h8v4h-8zM618 225h8v4h-8zM686 225h4v4h-4zM690 229h4v4h-4zM434 233h4v4h-4zM478 233h4v4h-4zM694 233h16v4h-16zM430 237h4v4h-4zM426 241h4v4h-4zM290 265h8v4h-8zM330 265h4v4h-4zM658 265h12v4h-12zM702 265h4v4h-4zM490 269h4v4h-4zM654 269h44v4h-44zM438 273h8v4h-8zM474 273h4v4h-4zM738 273h4v4h-4zM270 277h4v4h-4zM498 277h4v4h-4zM510 277h4v4h-4zM270 281h4v4h-4zM270 285h4v4h-4zM270 289h4v4h-4zM762 317h4v4h-4zM746 321h4v4h-4zM746 329h4v4h-4zM746 333h4v4h-4zM750 341h8v4h-8zM754 345h4v4h-4zM254 349h4v4h-4zM246 353h4v4h-4zM238 357h8v4h-8zM238 361h8v4h-8zM238 365h4v4h-4zM238 369h4v4h-4z"/>
<path fill="#a27c61" d="M146 65h4v4h-4zM154 65h4v4h-4zM210 69h8v4h-8zM242 73h4v4h-4zM726 73h4v4h-4zM738 73h4v4h-4zM6 81h4v4h-4zM374 93h12v4h-12zM370 97h20v4h-20zM682 97h4v4h-4zM698 97h4v4h-4zM362 101h28v4h-28zM358 105h28v4h-28zM702 105h4v4h-4zM362 109h20v4h-20zM730 117h4v4h-4zM222 121h4v4h-4zM678 121h4v4h-4zM222 125h8v4h-8zM450 125h4v4h-4zM678 125h4v4h-4zM138 129h4v4h-4zM214 129h8v4h-8zM230 129h4v4h-4zM498 129h8v4h-8zM538 129h8v4h-8zM110 133h4v4h-4zM194 133h20v4h-20zM678 133h4v4h-4zM118 137h4v4h-4zM126 137h4v4h-4zM178 137h16v4h-16zM242 137h4v4h-4zM434 137h4v4h-4zM470 137h4v4h-4zM174 141h4v4h-4zM270 141h4v4h-4zM766 141h4v4h-4zM274 145h4v4h-4zM462 145h4v4h-4zM470 145h4v4h-4zM646 145h8v4h-8zM738 145h4v4h-4zM630 149h4v4h-4zM730 149h16v4h-16zM718 153h28v4h-28zM146 157h4v4h-4zM710 157h36v4h-36zM706 161h40v4h-40zM162 165h4v4h-4zM566 165h4v4h-4zM702 165h40v4h-40zM702 169h40v4h-40zM702 173h36v4h-36zM706 177h24v4h-24zM706 181h12v4h-12zM578 185h4v4h-4zM710 185h4v4h-4zM602 189h4v4h-4zM210 193h8v4h-8zM618 193h4v4h-4zM630 193h4v4h-4zM190 201h4v4h-4zM170 205h8v4h-8zM638 205h4v4h-4zM662 205h4v4h-4zM634 209h4v4h-4zM266 213h4v4h-4zM634 213h4v4h-4zM630 221h4v4h-4zM626 225h12v4h-12zM682 225h4v4h-4zM438 233h8v4h-8zM474 233h4v4h-4zM690 233h4v4h-4zM430 241h4v4h-4zM426 245h4v4h-4zM762 253h4v4h-4zM498 257h4v4h-4zM510 257h4v4h-4zM762 257h4v4h-4zM494 261h4v4h-4zM658 261h4v4h-4zM282 265h8v4h-8zM654 265h4v4h-4zM670 265h12v4h-12zM698 265h4v4h-4zM334 269h4v4h-4zM478 269h4v4h-4zM650 269h4v4h-4zM270 273h4v4h-4zM446 273h8v4h-8zM470 273h4v4h-4zM494 273h4v4h-4zM734 273h4v4h-4zM522 289h4v4h-4zM250 309h4v4h-4zM750 317h12v4h-12zM766 321h4v4h-4zM746 325h4v4h-4zM750 337h4v4h-4zM234 353h12v4h-12zM234 357h4v4h-4zM234 361h4v4h-4z"/>
<path fill="#a8815e" d="M150 65h4v4h-4zM642 65h4v4h-4zM170 69h4v4h-4zM194 73h4v4h-4zM238 73h4v4h-4zM742 73h4v4h-4zM202 77h4v4h-4zM682 77h4v4h-4zM10 81h4v4h-4zM450 81h4v4h-4zM682 81h4v4h-4zM522 85h4v4h-4zM682 85h4v4h-4zM538 89h4v4h-4zM678 101h4v4h-4zM414 105h4v4h-4zM674 105h4v4h-4zM674 109h4v4h-4zM718 113h4v4h-4zM222 117h4v4h-4zM558 117h40v4h-40zM226 121h4v4h-4zM550 121h4v4h-4zM598 121h4v4h-4zM46 125h4v4h-4zM218 125h4v4h-4zM438 125h12v4h-12zM454 125h8v4h-8zM546 125h4v4h-4zM598 125h4v4h-4zM746 125h4v4h-4zM794 125h4v4h-4zM194 129h20v4h-20zM506 129h32v4h-32zM598 129h4v4h-4zM678 129h4v4h-4zM114 133h4v4h-4zM126 133h4v4h-4zM186 133h8v4h-8zM598 133h4v4h-4zM122 137h4v4h-4zM170 137h8v4h-8zM246 137h12v4h-12zM438 137h4v4h-4zM674 137h4v4h-4zM762 137h4v4h-4zM170 141h4v4h-4zM666 141h4v4h-4zM170 145h4v4h-4zM446 145h4v4h-4zM466 145h4v4h-4zM510 145h8v4h-8zM634 145h12v4h-12zM174 149h4v4h-4zM650 165h4v4h-4zM566 177h4v4h-4zM634 189h4v4h-4zM622 193h8v4h-8zM202 197h4v4h-4zM214 197h4v4h-4zM194 201h8v4h-8zM218 201h4v4h-4zM178 205h12v4h-12zM222 205h4v4h-4zM642 205h12v4h-12zM658 205h4v4h-4zM226 209h4v4h-4zM638 209h4v4h-4zM230 213h4v4h-4zM278 217h8v4h-8zM634 217h4v4h-4zM634 221h4v4h-4zM638 225h4v4h-4zM634 229h8v4h-8zM686 229h4v4h-4zM446 233h8v4h-8zM466 233h8v4h-8zM434 237h4v4h-4zM478 237h4v4h-4zM694 237h12v4h-12zM478 241h4v4h-4zM478 245h4v4h-4zM426 249h4v4h-4zM478 249h4v4h-4zM762 249h4v4h-4zM478 253h4v4h-4zM478 257h4v4h-4zM502 257h8v4h-8zM314 261h16v4h-16zM478 261h4v4h-4zM654 261h4v4h-4zM662 261h4v4h-4zM762 261h4v4h-4zM278 265h4v4h-4zM478 265h4v4h-4zM494 265h4v4h-4zM650 265h4v4h-4zM682 265h4v4h-4zM694 265h4v4h-4zM762 265h4v4h-4zM722 269h4v4h-4zM338 273h4v4h-4zM454 273h16v4h-16zM730 273h4v4h-4zM502 277h8v4h-8zM266 289h4v4h-4zM266 301h4v4h-4zM246 309h4v4h-4zM762 321h4v4h-4zM750 333h4v4h-4zM754 337h4v4h-4zM258 345h4v4h-4zM250 349h4v4h-4z"/>
<path fill="#af855c" d="M234 73h4v4h-4zM722 73h4v4h-4zM198 77h4v4h-4zM682 89h4v4h-4zM682 93h4v4h-4zM698 93h4v4h-4zM702 101h4v4h-4zM710 109h4v4h-4zM586 113h8v4h-8zM674 113h4v4h-4zM554 117h4v4h-4zM598 117h4v4h-4zM218 121h4v4h-4zM426 121h4v4h-4zM738 121h4v4h-4zM134 125h4v4h-4zM214 125h4v4h-4zM230 125h4v4h-4zM462 125h4v4h-4zM542 125h4v4h-4zM190 129h4v4h-4zM118 133h8v4h-8zM142 133h4v4h-4zM170 133h16v4h-16zM238 133h4v4h-4zM758 133h4v4h-4zM258 137h8v4h-8zM598 137h4v4h-4zM586 141h4v4h-4zM662 141h4v4h-4zM630 145h4v4h-4zM278 149h4v4h-4zM574 149h4v4h-4zM634 153h4v4h-4zM642 157h4v4h-4zM570 161h4v4h-4zM158 165h4v4h-4zM650 177h4v4h-4zM570 181h4v4h-4zM642 185h4v4h-4zM606 189h8v4h-8zM206 197h8v4h-8zM202 201h16v4h-16zM190 205h32v4h-32zM654 205h4v4h-4zM174 209h52v4h-52zM666 209h4v4h-4zM178 213h52v4h-52zM638 213h4v4h-4zM186 217h40v4h-40zM274 217h4v4h-4zM202 221h24v4h-24zM638 221h4v4h-4zM210 225h12v4h-12zM678 225h4v4h-4zM214 229h8v4h-8zM622 229h4v4h-4zM630 229h4v4h-4zM642 229h4v4h-4zM454 233h12v4h-12zM438 237h4v4h-4zM434 241h4v4h-4zM430 245h4v4h-4zM426 253h4v4h-4zM310 261h4v4h-4zM330 261h4v4h-4zM666 261h4v4h-4zM274 265h4v4h-4zM334 265h4v4h-4zM686 265h8v4h-8zM270 269h4v4h-4zM474 269h4v4h-4zM494 269h4v4h-4zM498 273h4v4h-4zM510 273h4v4h-4zM742 273h4v4h-4zM762 273h4v4h-4zM750 277h4v4h-4zM266 281h4v4h-4zM266 285h4v4h-4zM266 293h4v4h-4zM246 297h4v4h-4zM266 305h4v4h-4zM750 321h4v4h-4zM758 321h4v4h-4zM750 329h4v4h-4zM758 337h4v4h-4zM238 349h12v4h-12z"/>
<path fill="#b58a59" d="M618 65h4v4h-4zM166 69h4v4h-4zM206 73h4v4h-4zM746 73h4v4h-4zM254 77h4v4h-4zM202 81h4v4h-4zM266 81h4v4h-4zM698 89h4v4h-4zM670 105h4v4h-4zM670 109h4v4h-4zM154 113h4v4h-4zM554 113h32v4h-32zM594 113h8v4h-8zM722 113h4v4h-4zM154 117h36v4h-36zM218 117h4v4h-4zM226 117h4v4h-4zM550 117h4v4h-4zM674 117h4v4h-4zM34 121h4v4h-4zM430 121h4v4h-4zM546 121h4v4h-4zM50 125h4v4h-4zM130 125h4v4h-4zM190 125h12v4h-12zM210 125h4v4h-4zM466 125h76v4h-76zM126 129h4v4h-4zM186 129h4v4h-4zM234 129h4v4h-4zM166 133h4v4h-4zM166 137h4v4h-4zM266 137h4v4h-4zM442 137h4v4h-4zM470 141h4v4h-4zM658 141h4v4h-4zM430 145h4v4h-4zM438 145h8v4h-8zM506 149h4v4h-4zM518 149h4v4h-4zM626 149h4v4h-4zM574 153h4v4h-4zM510 161h8v4h-8zM582 185h4v4h-4zM614 189h4v4h-4zM642 209h4v4h-4zM662 209h4v4h-4zM226 217h4v4h-4zM250 217h8v4h-8zM638 217h4v4h-4zM226 221h4v4h-4zM222 225h4v4h-4zM642 225h4v4h-4zM222 229h4v4h-4zM626 229h4v4h-4zM634 233h8v4h-8zM442 237h4v4h-4zM474 237h4v4h-4zM690 237h4v4h-4zM706 237h4v4h-4zM438 241h4v4h-4zM434 245h4v4h-4zM430 249h4v4h-4zM430 253h4v4h-4zM654 257h8v4h-8zM306 261h4v4h-4zM498 261h4v4h-4zM510 261h4v4h-4zM650 261h4v4h-4zM670 261h4v4h-4zM646 265h4v4h-4zM338 269h4v4h-4zM438 269h8v4h-8zM470 269h4v4h-4zM502 273h8v4h-8zM266 277h4v4h-4zM266 297h4v4h-4zM522 297h4v4h-4zM754 321h4v4h-4zM750 325h4v4h-4zM762 325h4v4h-4zM754 333h4v4h-4z"/>
<path fill="#bc8e57" d="M650 61h4v4h-4zM162 69h4v4h-4zM230 73h4v4h-4zM14 81h4v4h-4zM698 85h4v4h-4zM674 101h4v4h-4zM706 105h4v4h-4zM150 109h8v4h-8zM150 113h4v4h-4zM158 113h4v4h-4zM550 113h4v4h-4zM602 113h4v4h-4zM190 117h4v4h-4zM546 117h4v4h-4zM602 117h4v4h-4zM734 117h4v4h-4zM158 121h40v4h-40zM214 121h4v4h-4zM542 121h4v4h-4zM602 121h4v4h-4zM674 121h4v4h-4zM810 121h4v4h-4zM138 125h4v4h-4zM186 125h4v4h-4zM202 125h8v4h-8zM674 125h4v4h-4zM170 129h16v4h-16zM674 133h4v4h-4zM466 137h4v4h-4zM670 137h4v4h-4zM146 141h4v4h-4zM166 141h4v4h-4zM274 141h4v4h-4zM430 141h4v4h-4zM590 141h4v4h-4zM654 141h4v4h-4zM578 145h4v4h-4zM626 145h4v4h-4zM506 157h4v4h-4zM646 161h4v4h-4zM646 181h4v4h-4zM630 189h4v4h-4zM646 209h16v4h-16zM642 213h4v4h-4zM230 217h4v4h-4zM246 217h4v4h-4zM258 217h4v4h-4zM270 217h4v4h-4zM642 221h4v4h-4zM674 225h4v4h-4zM646 229h4v4h-4zM682 229h4v4h-4zM222 233h4v4h-4zM630 233h4v4h-4zM642 233h4v4h-4zM686 233h4v4h-4zM446 237h12v4h-12zM462 237h12v4h-12zM442 241h4v4h-4zM474 241h4v4h-4zM438 245h4v4h-4zM474 245h4v4h-4zM434 249h4v4h-4zM474 249h4v4h-4zM758 249h4v4h-4zM434 253h4v4h-4zM474 253h4v4h-4zM758 253h4v4h-4zM430 257h4v4h-4zM474 257h4v4h-4zM650 257h4v4h-4zM222 261h4v4h-4zM334 261h4v4h-4zM474 261h4v4h-4zM502 261h8v4h-8zM646 261h4v4h-4zM674 261h4v4h-4zM698 261h4v4h-4zM338 265h4v4h-4zM474 265h4v4h-4zM498 265h4v4h-4zM446 269h24v4h-24zM498 269h4v4h-4zM510 269h4v4h-4zM266 273h4v4h-4zM258 321h4v4h-4zM258 325h4v4h-4zM754 325h8v4h-8zM258 329h4v4h-4zM754 329h4v4h-4zM258 333h4v4h-4zM758 333h4v4h-4zM258 337h4v4h-4zM258 341h4v4h-4zM254 345h4v4h-4z"/>
<path fill="#c29355" d="M142 69h4v4h-4zM158 69h4v4h-4zM190 73h4v4h-4zM226 73h4v4h-4zM698 73h4v4h-4zM698 77h4v4h-4zM458 81h8v4h-8zM698 81h4v4h-4zM546 85h4v4h-4zM534 89h4v4h-4zM678 97h4v4h-4zM702 97h4v4h-4zM150 105h4v4h-4zM506 109h100v4h-100zM666 109h4v4h-4zM162 113h28v4h-28zM506 113h44v4h-44zM606 113h4v4h-4zM670 113h4v4h-4zM726 113h4v4h-4zM150 117h4v4h-4zM502 117h44v4h-44zM154 121h4v4h-4zM230 121h4v4h-4zM434 121h4v4h-4zM454 121h4v4h-4zM498 121h44v4h-44zM158 125h28v4h-28zM602 125h4v4h-4zM142 129h4v4h-4zM162 129h8v4h-8zM674 129h4v4h-4zM790 129h4v4h-4zM162 133h4v4h-4zM242 133h4v4h-4zM146 137h4v4h-4zM162 137h4v4h-4zM270 137h4v4h-4zM446 137h20v4h-20zM594 141h4v4h-4zM650 141h4v4h-4zM434 145h4v4h-4zM630 153h4v4h-4zM518 157h4v4h-4zM574 157h4v4h-4zM566 169h4v4h-4zM650 169h4v4h-4zM566 173h4v4h-4zM650 173h4v4h-4zM586 185h4v4h-4zM638 185h4v4h-4zM618 189h4v4h-4zM666 213h4v4h-4zM642 217h4v4h-4zM226 225h4v4h-4zM646 225h4v4h-4zM622 233h8v4h-8zM646 233h4v4h-4zM458 237h4v4h-4zM630 237h20v4h-20zM446 241h8v4h-8zM466 241h8v4h-8zM698 241h4v4h-4zM442 245h4v4h-4zM470 245h4v4h-4zM438 249h8v4h-8zM438 253h4v4h-4zM650 253h8v4h-8zM322 257h16v4h-16zM434 257h8v4h-8zM646 257h4v4h-4zM662 257h4v4h-4zM758 257h4v4h-4zM302 261h4v4h-4zM338 261h4v4h-4zM434 261h4v4h-4zM470 261h4v4h-4zM642 261h4v4h-4zM678 261h8v4h-8zM690 261h8v4h-8zM702 261h4v4h-4zM434 265h20v4h-20zM466 265h8v4h-8zM502 265h12v4h-12zM502 269h8v4h-8zM754 277h8v4h-8zM522 293h4v4h-4zM266 309h4v4h-4zM250 313h4v4h-4zM266 313h4v4h-4zM758 329h8v4h-8zM238 345h8v4h-8zM250 345h4v4h-4z"/>
<path fill="#c99752" d="M646 65h4v4h-4zM138 69h4v4h-4zM146 69h4v4h-4zM154 69h4v4h-4zM574 69h4v4h-4zM630 69h8v4h-8zM182 73h8v4h-8zM222 73h4v4h-4zM750 73h4v4h-4zM198 81h4v4h-4zM466 81h8v4h-8zM6 85h4v4h-4zM498 105h12v4h-12zM666 105h4v4h-4zM146 109h4v4h-4zM498 109h8v4h-8zM606 109h4v4h-4zM714 109h4v4h-4zM190 113h4v4h-4zM222 113h4v4h-4zM418 113h4v4h-4zM498 113h8v4h-8zM610 113h4v4h-4zM666 113h4v4h-4zM194 117h4v4h-4zM214 117h4v4h-4zM498 117h4v4h-4zM606 117h4v4h-4zM670 117h4v4h-4zM150 121h4v4h-4zM198 121h4v4h-4zM210 121h4v4h-4zM438 121h16v4h-16zM458 121h8v4h-8zM494 121h4v4h-4zM54 125h4v4h-4zM66 125h4v4h-4zM154 125h4v4h-4zM234 125h4v4h-4zM110 129h4v4h-4zM122 129h4v4h-4zM158 129h4v4h-4zM602 129h4v4h-4zM602 133h4v4h-4zM602 137h4v4h-4zM666 137h4v4h-4zM630 141h20v4h-20zM278 145h4v4h-4zM170 149h4v4h-4zM146 153h4v4h-4zM166 165h4v4h-4zM626 189h4v4h-4zM646 213h20v4h-20zM242 217h4v4h-4zM262 217h4v4h-4zM646 217h4v4h-4zM230 221h4v4h-4zM646 221h4v4h-4zM226 229h4v4h-4zM650 229h4v4h-4zM678 229h4v4h-4zM650 233h8v4h-8zM622 237h8v4h-8zM650 237h8v4h-8zM454 241h12v4h-12zM626 241h28v4h-28zM694 241h4v4h-4zM702 241h4v4h-4zM446 245h24v4h-24zM630 245h24v4h-24zM446 249h28v4h-28zM634 249h20v4h-20zM442 253h32v4h-32zM634 253h16v4h-16zM222 257h4v4h-4zM314 257h8v4h-8zM338 257h4v4h-4zM442 257h32v4h-32zM638 257h8v4h-8zM294 261h8v4h-8zM438 261h32v4h-32zM686 261h4v4h-4zM270 265h4v4h-4zM454 265h12v4h-12zM266 269h4v4h-4zM246 313h4v4h-4zM246 345h4v4h-4z"/>
<path fill="#cf9c50" d="M150 69h4v4h-4zM626 69h4v4h-4zM178 73h4v4h-4zM210 73h4v4h-4zM206 77h4v4h-4zM730 77h8v4h-8zM474 81h4v4h-4zM542 89h4v4h-4zM670 101h4v4h-4zM146 105h4v4h-4zM510 105h32v4h-32zM494 109h4v4h-4zM610 109h28v4h-28zM654 109h12v4h-12zM146 113h4v4h-4zM614 113h20v4h-20zM658 113h8v4h-8zM146 117h4v4h-4zM422 117h4v4h-4zM494 117h4v4h-4zM610 117h4v4h-4zM666 117h4v4h-4zM38 121h4v4h-4zM202 121h4v4h-4zM466 121h12v4h-12zM486 121h8v4h-8zM606 121h4v4h-4zM670 121h4v4h-4zM142 125h4v4h-4zM150 125h4v4h-4zM106 129h4v4h-4zM114 129h8v4h-8zM154 129h4v4h-4zM238 129h4v4h-4zM146 133h4v4h-4zM158 133h4v4h-4zM246 133h4v4h-4zM766 137h4v4h-4zM450 141h12v4h-12zM626 141h4v4h-4zM622 145h4v4h-4zM506 153h4v4h-4zM518 153h4v4h-4zM638 157h4v4h-4zM590 185h4v4h-4zM622 189h4v4h-4zM266 217h4v4h-4zM650 217h20v4h-20zM250 221h8v4h-8zM274 221h4v4h-4zM650 221h20v4h-20zM650 225h20v4h-20zM654 229h12v4h-12zM226 233h4v4h-4zM682 233h4v4h-4zM686 237h4v4h-4zM654 241h4v4h-4zM690 241h4v4h-4zM654 245h4v4h-4zM654 249h4v4h-4zM330 253h8v4h-8zM658 253h4v4h-4zM666 257h4v4h-4zM698 257h4v4h-4zM226 261h4v4h-4zM286 261h8v4h-8zM706 261h4v4h-4zM758 261h4v4h-4zM746 273h4v4h-4zM758 273h4v4h-4zM254 341h4v4h-4z"/>
<path fill="#d6a04d" d="M638 69h4v4h-4zM174 73h4v4h-4zM214 73h8v4h-8zM738 77h4v4h-4zM478 81h4v4h-4zM470 85h8v4h-8zM678 93h4v4h-4zM702 93h4v4h-4zM502 101h4v4h-4zM154 105h4v4h-4zM494 105h4v4h-4zM542 105h8v4h-8zM590 105h16v4h-16zM658 105h8v4h-8zM142 109h4v4h-4zM418 109h4v4h-4zM638 109h16v4h-16zM142 113h4v4h-4zM194 113h4v4h-4zM214 113h4v4h-4zM494 113h4v4h-4zM634 113h24v4h-24zM730 113h4v4h-4zM142 117h4v4h-4zM198 117h4v4h-4zM426 117h8v4h-8zM614 117h20v4h-20zM654 117h12v4h-12zM138 121h12v4h-12zM206 121h4v4h-4zM478 121h8v4h-8zM610 121h4v4h-4zM806 121h4v4h-4zM58 125h8v4h-8zM146 125h4v4h-4zM606 125h4v4h-4zM670 125h4v4h-4zM790 125h4v4h-4zM146 129h8v4h-8zM150 133h8v4h-8zM250 133h8v4h-8zM670 133h4v4h-4zM150 137h4v4h-4zM158 137h4v4h-4zM662 137h4v4h-4zM434 141h8v4h-8zM446 141h4v4h-4zM462 141h8v4h-8zM598 141h4v4h-4zM622 141h4v4h-4zM146 145h4v4h-4zM154 161h4v4h-4zM174 165h4v4h-4zM634 185h4v4h-4zM246 221h4v4h-4zM258 221h4v4h-4zM278 221h4v4h-4zM230 225h4v4h-4zM674 229h4v4h-4zM678 233h4v4h-4zM686 241h4v4h-4zM706 241h4v4h-4zM690 245h16v4h-16zM694 249h8v4h-8zM754 249h4v4h-4zM222 253h4v4h-4zM322 253h8v4h-8zM690 253h12v4h-12zM226 257h4v4h-4zM310 257h4v4h-4zM670 257h4v4h-4zM682 257h16v4h-16zM702 257h4v4h-4zM278 261h8v4h-8zM226 265h4v4h-4zM262 277h4v4h-4zM262 281h4v4h-4zM262 285h4v4h-4zM262 289h4v4h-4zM250 317h8v4h-8zM254 321h4v4h-4zM254 325h4v4h-4zM254 329h4v4h-4zM254 333h4v4h-4zM254 337h4v4h-4zM238 341h8v4h-8zM250 341h4v4h-4z"/>
<path fill="#dca54b" d="M170 73h4v4h-4zM194 77h4v4h-4zM566 77h4v4h-4zM726 77h4v4h-4zM206 81h4v4h-4zM10 85h4v4h-4zM450 85h4v4h-4zM462 85h8v4h-8zM478 85h4v4h-4zM466 89h12v4h-12zM146 101h4v4h-4zM506 101h4v4h-4zM706 101h4v4h-4zM142 105h4v4h-4zM418 105h4v4h-4zM490 105h4v4h-4zM550 105h8v4h-8zM582 105h8v4h-8zM606 105h52v4h-52zM710 105h4v4h-4zM158 109h4v4h-4zM490 109h4v4h-4zM490 113h4v4h-4zM210 117h4v4h-4zM434 117h36v4h-36zM486 117h8v4h-8zM634 117h20v4h-20zM134 121h4v4h-4zM614 121h8v4h-8zM662 121h8v4h-8zM742 121h4v4h-4zM126 125h4v4h-4zM670 129h4v4h-4zM258 133h4v4h-4zM762 133h4v4h-4zM154 137h4v4h-4zM274 137h4v4h-4zM654 137h8v4h-8zM162 141h4v4h-4zM442 141h4v4h-4zM166 145h4v4h-4zM582 145h4v4h-4zM510 149h8v4h-8zM622 149h4v4h-4zM626 153h4v4h-4zM150 157h4v4h-4zM162 161h4v4h-4zM574 181h4v4h-4zM594 185h4v4h-4zM270 221h4v4h-4zM282 221h4v4h-4zM230 229h4v4h-4zM674 233h4v4h-4zM678 237h8v4h-8zM658 241h4v4h-4zM682 241h4v4h-4zM658 245h4v4h-4zM686 245h4v4h-4zM326 249h4v4h-4zM658 249h4v4h-4zM682 249h12v4h-12zM702 249h4v4h-4zM318 253h4v4h-4zM662 253h4v4h-4zM682 253h8v4h-8zM702 253h4v4h-4zM754 253h4v4h-4zM306 257h4v4h-4zM674 257h8v4h-8zM274 261h4v4h-4zM758 265h4v4h-4zM758 269h4v4h-4zM262 273h4v4h-4zM254 313h4v4h-4zM246 317h4v4h-4zM262 317h4v4h-4zM238 337h4v4h-4zM246 341h4v4h-4z"/>
<path fill="#e2a948" d="M614 65h4v4h-4zM134 69h4v4h-4zM754 73h4v4h-4zM250 77h4v4h-4zM262 81h4v4h-4zM554 81h4v4h-4zM678 81h4v4h-4zM454 85h8v4h-8zM678 85h4v4h-4zM442 89h24v4h-24zM478 89h4v4h-4zM678 89h4v4h-4zM438 93h44v4h-44zM430 97h52v4h-52zM674 97h4v4h-4zM422 101h80v4h-80zM666 101h4v4h-4zM422 105h68v4h-68zM558 105h24v4h-24zM422 109h68v4h-68zM718 109h4v4h-4zM26 113h4v4h-4zM138 113h4v4h-4zM198 113h4v4h-4zM226 113h4v4h-4zM422 113h68v4h-68zM138 117h4v4h-4zM202 117h8v4h-8zM230 117h4v4h-4zM470 117h16v4h-16zM42 121h4v4h-4zM622 121h8v4h-8zM638 121h24v4h-24zM666 125h4v4h-4zM262 133h8v4h-8zM666 133h4v4h-4zM626 137h28v4h-28zM278 141h4v4h-4zM602 141h4v4h-4zM618 141h4v4h-4zM146 149h4v4h-4zM578 149h4v4h-4zM642 181h4v4h-4zM598 185h4v4h-4zM234 221h4v4h-4zM242 221h4v4h-4zM262 221h8v4h-8zM250 225h8v4h-8zM670 233h4v4h-4zM226 237h4v4h-4zM662 237h16v4h-16zM662 241h20v4h-20zM662 245h24v4h-24zM706 245h4v4h-4zM322 249h4v4h-4zM662 249h20v4h-20zM706 249h4v4h-4zM226 253h4v4h-4zM314 253h4v4h-4zM666 253h16v4h-16zM230 257h4v4h-4zM302 257h4v4h-4zM706 257h4v4h-4zM230 261h4v4h-4zM266 265h4v4h-4zM726 269h4v4h-4zM526 297h4v4h-4zM242 321h12v4h-12zM242 325h12v4h-12zM242 329h12v4h-12zM238 333h16v4h-16zM242 337h12v4h-12z"/>
<path fill="#e9ae46" d="M622 69h4v4h-4zM166 73h4v4h-4zM742 77h4v4h-4zM482 81h4v4h-4zM702 89h4v4h-4zM482 97h4v4h-4zM142 101h4v4h-4zM150 101h4v4h-4zM22 109h8v4h-8zM138 109h4v4h-4zM162 109h28v4h-28zM210 113h4v4h-4zM234 121h4v4h-4zM794 121h4v4h-4zM802 121h4v4h-4zM610 125h16v4h-16zM642 125h24v4h-24zM242 129h4v4h-4zM606 129h4v4h-4zM662 129h8v4h-8zM654 133h12v4h-12zM606 137h4v4h-4zM622 137h4v4h-4zM150 141h4v4h-4zM586 145h4v4h-4zM618 145h4v4h-4zM174 153h4v4h-4zM510 157h4v4h-4zM634 157h4v4h-4zM570 165h4v4h-4zM602 185h4v4h-4zM238 221h4v4h-4zM246 225h4v4h-4zM258 225h4v4h-4zM230 233h4v4h-4zM710 241h4v4h-4zM222 249h4v4h-4zM314 249h8v4h-8zM310 253h4v4h-4zM706 253h4v4h-4zM298 257h4v4h-4zM754 257h4v4h-4zM270 261h4v4h-4zM710 261h4v4h-4zM230 265h4v4h-4zM262 269h4v4h-4zM738 269h4v4h-4zM750 273h8v4h-8zM526 281h4v4h-4zM526 285h4v4h-4z"/>
<path fill="#efb244" d="M642 69h4v4h-4zM162 73h4v4h-4zM678 77h4v4h-4zM482 85h4v4h-4zM482 89h4v4h-4zM530 89h4v4h-4zM482 93h4v4h-4zM662 101h4v4h-4zM138 105h4v4h-4zM190 109h4v4h-4zM218 109h4v4h-4zM202 113h8v4h-8zM30 117h4v4h-4zM738 117h4v4h-4zM46 121h4v4h-4zM130 121h4v4h-4zM630 121h8v4h-8zM798 121h4v4h-4zM238 125h4v4h-4zM622 129h4v4h-4zM642 129h20v4h-20zM270 133h4v4h-4zM622 133h4v4h-4zM642 133h12v4h-12zM770 137h4v4h-4zM606 141h4v4h-4zM614 141h4v4h-4zM578 153h4v4h-4zM514 157h4v4h-4zM574 161h4v4h-4zM642 161h4v4h-4zM646 165h4v4h-4zM570 177h4v4h-4zM646 177h4v4h-4zM606 185h8v4h-8zM234 225h4v4h-4zM242 225h4v4h-4zM234 229h4v4h-4zM710 245h4v4h-4zM226 249h4v4h-4zM310 249h4v4h-4zM230 253h4v4h-4zM306 253h4v4h-4zM294 257h4v4h-4zM234 261h4v4h-4zM754 261h4v4h-4zM730 269h8v4h-8zM254 309h4v4h-4z"/>
<path fill="#f6b741" d="M650 65h4v4h-4zM158 73h4v4h-4zM14 85h4v4h-4zM702 85h4v4h-4zM6 89h4v4h-4zM486 97h4v4h-4zM650 101h12v4h-12zM26 105h4v4h-4zM158 105h4v4h-4zM194 109h8v4h-8zM222 109h4v4h-4zM734 113h4v4h-4zM134 117h4v4h-4zM66 121h4v4h-4zM758 121h4v4h-4zM274 133h4v4h-4zM606 133h4v4h-4zM626 133h4v4h-4zM638 133h4v4h-4zM766 133h4v4h-4zM278 137h4v4h-4zM610 141h4v4h-4zM282 145h4v4h-4zM590 145h4v4h-4zM166 149h4v4h-4zM510 153h8v4h-8zM158 161h4v4h-4zM614 185h4v4h-4zM630 185h4v4h-4zM238 225h4v4h-4zM262 225h12v4h-12zM246 229h8v4h-8zM230 237h4v4h-4zM226 245h4v4h-4zM310 245h4v4h-4zM230 249h4v4h-4zM306 249h4v4h-4zM710 249h4v4h-4zM750 249h4v4h-4zM302 253h4v4h-4zM710 253h4v4h-4zM234 257h4v4h-4zM286 257h8v4h-8zM710 257h4v4h-4zM238 261h4v4h-4zM266 261h4v4h-4zM234 265h4v4h-4zM262 265h4v4h-4zM722 265h4v4h-4zM754 265h4v4h-4zM230 269h4v4h-4zM742 269h4v4h-4zM754 269h4v4h-4zM258 317h4v4h-4z"/>
<path fill="#f9b63f" d="M142 73h4v4h-4zM702 73h4v4h-4zM702 77h4v4h-4zM722 77h4v4h-4zM746 77h4v4h-4zM702 81h4v4h-4zM526 89h4v4h-4zM706 97h4v4h-4zM138 101h4v4h-4zM590 101h24v4h-24zM642 101h8v4h-8zM22 105h4v4h-4zM214 109h4v4h-4zM722 109h4v4h-4zM50 121h4v4h-4zM790 121h4v4h-4zM122 125h4v4h-4zM638 125h4v4h-4zM246 129h4v4h-4zM618 129h4v4h-4zM618 137h4v4h-4zM154 141h8v4h-8zM614 145h4v4h-4zM618 149h4v4h-4zM578 157h4v4h-4zM578 181h4v4h-4zM274 225h4v4h-4zM238 229h8v4h-8zM254 229h8v4h-8zM234 233h4v4h-4zM714 241h4v4h-4zM306 245h4v4h-4zM302 249h4v4h-4zM234 253h4v4h-4zM298 253h4v4h-4zM750 253h4v4h-4zM238 257h4v4h-4zM274 257h12v4h-12zM242 261h4v4h-4zM262 261h4v4h-4zM714 261h4v4h-4zM238 265h8v4h-8zM258 265h4v4h-4zM234 269h4v4h-4zM258 269h4v4h-4zM746 269h4v4h-4zM246 293h4v4h-4z"/>
<path fill="#f9b03d" d="M146 73h4v4h-4zM210 77h4v4h-4zM246 77h4v4h-4zM202 85h8v4h-8zM670 97h4v4h-4zM510 101h4v4h-4zM586 101h4v4h-4zM614 101h12v4h-12zM630 101h12v4h-12zM162 105h8v4h-8zM714 105h4v4h-4zM18 109h4v4h-4zM202 109h4v4h-4zM226 109h4v4h-4zM758 117h4v4h-4zM54 121h4v4h-4zM62 121h4v4h-4zM70 121h4v4h-4zM626 125h4v4h-4zM786 125h4v4h-4zM250 129h4v4h-4zM762 129h4v4h-4zM278 133h4v4h-4zM282 141h4v4h-4zM594 145h4v4h-4zM582 149h4v4h-4zM166 153h4v4h-4zM622 153h4v4h-4zM638 181h4v4h-4zM618 185h4v4h-4zM262 229h8v4h-8zM238 233h16v4h-16zM234 237h4v4h-4zM230 241h4v4h-4zM302 241h8v4h-8zM230 245h4v4h-4zM302 245h4v4h-4zM714 245h4v4h-4zM234 249h4v4h-4zM298 249h4v4h-4zM714 249h4v4h-4zM238 253h4v4h-4zM290 253h8v4h-8zM714 253h4v4h-4zM242 257h8v4h-8zM270 257h4v4h-4zM714 257h4v4h-4zM750 257h4v4h-4zM246 261h16v4h-16zM750 261h4v4h-4zM246 265h12v4h-12zM238 269h4v4h-4zM750 269h4v4h-4zM230 273h4v4h-4zM258 273h4v4h-4z"/>
<path fill="#f9aa3b" d="M130 69h4v4h-4zM138 73h4v4h-4zM154 73h4v4h-4zM678 73h4v4h-4zM190 77h4v4h-4zM230 77h8v4h-8zM10 89h4v4h-4zM6 93h4v4h-4zM146 97h4v4h-4zM26 101h4v4h-4zM626 101h4v4h-4zM170 105h4v4h-4zM134 113h4v4h-4zM230 113h4v4h-4zM234 117h4v4h-4zM762 117h4v4h-4zM58 121h4v4h-4zM238 121h4v4h-4zM762 121h4v4h-4zM242 125h4v4h-4zM254 129h8v4h-8zM638 129h4v4h-4zM282 133h4v4h-4zM770 133h4v4h-4zM282 137h8v4h-8zM286 141h4v4h-4zM286 145h4v4h-4zM290 149h4v4h-4zM162 157h4v4h-4zM630 157h4v4h-4zM166 161h4v4h-4zM626 185h4v4h-4zM254 233h12v4h-12zM298 233h4v4h-4zM238 237h12v4h-12zM298 237h8v4h-8zM234 241h4v4h-4zM298 241h4v4h-4zM234 245h8v4h-8zM294 245h8v4h-8zM718 245h4v4h-4zM238 249h4v4h-4zM294 249h4v4h-4zM718 249h4v4h-4zM242 253h8v4h-8zM278 253h12v4h-12zM718 253h4v4h-4zM746 253h4v4h-4zM250 257h20v4h-20zM718 257h4v4h-4zM746 257h4v4h-4zM718 261h8v4h-8zM746 261h4v4h-4zM726 265h28v4h-28zM242 269h4v4h-4zM254 269h4v4h-4zM258 277h4v4h-4z"/>
<path fill="#faa439" d="M646 69h4v4h-4zM150 73h4v4h-4zM226 77h4v4h-4zM238 77h4v4h-4zM194 81h4v4h-4zM758 89h4v4h-4zM674 93h4v4h-4zM754 93h8v4h-8zM6 97h4v4h-4zM142 97h4v4h-4zM554 101h4v4h-4zM582 101h4v4h-4zM710 101h4v4h-4zM174 105h12v4h-12zM134 109h4v4h-4zM206 109h4v4h-4zM286 121h4v4h-4zM786 121h4v4h-4zM118 125h4v4h-4zM286 125h8v4h-8zM762 125h4v4h-4zM262 129h36v4h-36zM766 129h4v4h-4zM286 133h12v4h-12zM634 133h4v4h-4zM774 133h4v4h-4zM290 137h12v4h-12zM290 141h12v4h-12zM290 145h8v4h-8zM598 145h4v4h-4zM610 145h4v4h-4zM646 169h4v4h-4zM646 173h4v4h-4zM622 185h4v4h-4zM294 229h4v4h-4zM294 233h4v4h-4zM250 237h16v4h-16zM294 237h4v4h-4zM238 241h28v4h-28zM290 241h8v4h-8zM242 245h32v4h-32zM286 245h8v4h-8zM722 245h12v4h-12zM242 249h52v4h-52zM722 249h24v4h-24zM250 253h28v4h-28zM722 253h24v4h-24zM722 257h24v4h-24zM726 261h20v4h-20zM246 269h8v4h-8zM234 273h4v4h-4z"/>
<path fill="#fa9f37" d="M618 69h4v4h-4zM222 77h4v4h-4zM242 77h4v4h-4zM750 77h4v4h-4zM558 81h4v4h-4zM18 85h4v4h-4zM758 85h4v4h-4zM522 89h4v4h-4zM754 89h4v4h-4zM762 89h4v4h-4zM486 93h4v4h-4zM706 93h4v4h-4zM750 93h4v4h-4zM762 93h4v4h-4zM490 97h4v4h-4zM666 97h4v4h-4zM6 101h4v4h-4zM22 101h4v4h-4zM558 101h8v4h-8zM574 101h8v4h-8zM6 105h4v4h-4zM18 105h4v4h-4zM134 105h4v4h-4zM186 105h4v4h-4zM218 105h8v4h-8zM210 109h4v4h-4zM30 113h4v4h-4zM34 117h4v4h-4zM754 117h4v4h-4zM766 117h4v4h-4zM282 121h4v4h-4zM766 121h8v4h-8zM782 121h4v4h-4zM278 125h8v4h-8zM766 125h20v4h-20zM626 129h4v4h-4zM770 129h16v4h-16zM618 133h4v4h-4zM630 133h4v4h-4zM778 133h4v4h-4zM586 149h4v4h-4zM582 153h4v4h-4zM154 157h4v4h-4zM166 157h4v4h-4zM174 161h4v4h-4zM638 161h4v4h-4zM570 169h4v4h-4zM570 173h4v4h-4zM582 181h4v4h-4zM266 233h4v4h-4zM266 237h4v4h-4zM290 237h4v4h-4zM266 241h4v4h-4zM274 245h12v4h-12zM238 273h4v4h-4zM254 273h4v4h-4z"/>
<path fill="#fa9935" d="M186 77h4v4h-4zM214 77h4v4h-4zM258 81h4v4h-4zM734 81h4v4h-4zM14 89h4v4h-4zM750 89h4v4h-4zM10 93h4v4h-4zM746 93h4v4h-4zM766 93h4v4h-4zM26 97h4v4h-4zM138 97h4v4h-4zM506 97h4v4h-4zM662 97h4v4h-4zM154 101h4v4h-4zM550 101h4v4h-4zM566 101h8v4h-8zM190 105h8v4h-8zM226 105h4v4h-4zM10 109h4v4h-4zM30 109h4v4h-4zM726 109h4v4h-4zM282 117h4v4h-4zM770 117h20v4h-20zM126 121h4v4h-4zM278 121h4v4h-4zM774 121h8v4h-8zM110 125h8v4h-8zM246 125h4v4h-4zM274 125h4v4h-4zM602 145h8v4h-8zM590 149h4v4h-4zM614 149h4v4h-4zM150 153h4v4h-4zM174 157h4v4h-4zM290 229h4v4h-4zM290 233h4v4h-4zM286 241h4v4h-4zM258 281h4v4h-4zM254 305h4v4h-4z"/>
<path fill="#fa9333" d="M218 77h4v4h-4zM210 81h4v4h-4zM730 81h4v4h-4zM738 81h4v4h-4zM758 81h4v4h-4zM486 85h4v4h-4zM762 85h4v4h-4zM486 89h4v4h-4zM674 89h4v4h-4zM766 89h4v4h-4zM10 97h4v4h-4zM22 97h4v4h-4zM646 97h16v4h-16zM10 101h4v4h-4zM18 101h4v4h-4zM54 101h36v4h-36zM134 101h4v4h-4zM514 101h24v4h-24zM10 105h8v4h-8zM30 105h4v4h-4zM38 105h48v4h-48zM198 105h4v4h-4zM718 105h4v4h-4zM38 109h4v4h-4zM230 109h4v4h-4zM234 113h4v4h-4zM738 113h4v4h-4zM238 117h4v4h-4zM278 117h4v4h-4zM790 117h4v4h-4zM242 121h4v4h-4zM270 125h4v4h-4zM610 129h4v4h-4zM162 145h4v4h-4zM162 153h4v4h-4zM618 153h4v4h-4zM158 157h4v4h-4zM626 157h4v4h-4zM634 181h4v4h-4zM270 229h4v4h-4zM270 241h4v4h-4zM242 273h4v4h-4zM250 273h4v4h-4zM234 277h4v4h-4zM526 289h4v4h-4zM526 293h4v4h-4z"/>
<path fill="#fa8d31" d="M654 65h4v4h-4zM134 73h4v4h-4zM630 73h8v4h-8zM182 77h4v4h-4zM822 81h2v4h-2zM674 85h4v4h-4zM754 85h4v4h-4zM18 89h4v4h-4zM706 89h4v4h-4zM746 89h4v4h-4zM14 93h4v4h-4zM22 93h8v4h-8zM626 93h12v4h-12zM742 93h4v4h-4zM14 97h8v4h-8zM150 97h4v4h-4zM502 97h4v4h-4zM614 97h32v4h-32zM754 97h8v4h-8zM14 101h4v4h-4zM38 101h16v4h-16zM538 101h12v4h-12zM214 105h4v4h-4zM34 109h4v4h-4zM34 113h8v4h-8zM758 113h8v4h-8zM38 117h4v4h-4zM130 117h4v4h-4zM242 117h4v4h-4zM742 117h4v4h-4zM794 117h4v4h-4zM274 121h4v4h-4zM106 125h4v4h-4zM250 125h8v4h-8zM262 125h8v4h-8zM614 129h4v4h-4zM610 137h4v4h-4zM150 145h4v4h-4zM586 153h4v4h-4zM582 157h4v4h-4zM578 161h4v4h-4zM170 165h4v4h-4zM642 165h4v4h-4zM574 177h4v4h-4zM642 177h4v4h-4zM586 181h4v4h-4zM246 273h4v4h-4zM238 277h4v4h-4zM258 285h4v4h-4zM250 301h4v4h-4z"/>
<path fill="#fb872f" d="M650 69h4v4h-4zM574 73h4v4h-4zM638 73h4v4h-4zM166 77h4v4h-4zM178 77h4v4h-4zM570 77h4v4h-4zM754 77h4v4h-4zM674 81h4v4h-4zM726 81h4v4h-4zM742 81h4v4h-4zM762 81h4v4h-4zM198 85h4v4h-4zM550 85h4v4h-4zM706 85h4v4h-4zM822 85h2v4h-2zM22 89h8v4h-8zM18 93h4v4h-4zM618 93h8v4h-8zM638 93h8v4h-8zM770 93h4v4h-4zM494 97h4v4h-4zM594 97h20v4h-20zM710 97h4v4h-4zM750 97h4v4h-4zM762 97h4v4h-4zM30 101h4v4h-4zM34 105h4v4h-4zM86 105h4v4h-4zM202 105h4v4h-4zM42 109h4v4h-4zM238 113h4v4h-4zM766 113h4v4h-4zM774 113h12v4h-12zM274 117h4v4h-4zM750 117h4v4h-4zM246 121h4v4h-4zM270 121h4v4h-4zM258 125h4v4h-4zM574 165h4v4h-4zM234 281h4v4h-4z"/>
<path fill="#fb812d" d="M626 73h4v4h-4zM162 77h4v4h-4zM170 77h8v4h-8zM706 77h4v4h-4zM718 77h4v4h-4zM706 81h4v4h-4zM502 85h4v4h-4zM750 85h4v4h-4zM626 89h12v4h-12zM742 89h4v4h-4zM822 89h2v4h-2zM614 93h4v4h-4zM646 93h4v4h-4zM670 93h4v4h-4zM30 97h4v4h-4zM134 97h4v4h-4zM590 97h4v4h-4zM34 101h4v4h-4zM90 101h4v4h-4zM230 105h4v4h-4zM234 109h4v4h-4zM730 109h4v4h-4zM242 113h8v4h-8zM274 113h4v4h-4zM754 113h4v4h-4zM770 113h4v4h-4zM786 113h4v4h-4zM66 117h4v4h-4zM246 117h4v4h-4zM270 117h4v4h-4zM250 121h4v4h-4zM266 121h4v4h-4zM634 125h4v4h-4zM614 137h4v4h-4zM594 149h4v4h-4zM154 153h8v4h-8zM170 153h4v4h-4zM590 153h4v4h-4zM590 181h4v4h-4zM278 225h4v4h-4zM238 281h4v4h-4zM262 293h4v4h-4z"/>
<path fill="#fb7b2b" d="M642 73h4v4h-4zM158 77h4v4h-4zM674 77h4v4h-4zM746 81h4v4h-4zM754 81h4v4h-4zM34 85h4v4h-4zM766 85h4v4h-4zM30 89h4v4h-4zM622 89h4v4h-4zM638 89h8v4h-8zM770 89h4v4h-4zM30 93h4v4h-4zM498 97h4v4h-4zM554 97h4v4h-4zM586 97h4v4h-4zM746 97h4v4h-4zM766 97h4v4h-4zM714 101h4v4h-4zM46 109h8v4h-8zM78 109h4v4h-4zM238 109h8v4h-8zM250 113h4v4h-4zM270 113h4v4h-4zM42 117h4v4h-4zM62 117h4v4h-4zM70 117h4v4h-4zM250 117h4v4h-4zM266 117h4v4h-4zM746 117h4v4h-4zM798 117h4v4h-4zM254 121h12v4h-12zM154 145h8v4h-8zM150 149h4v4h-4zM162 149h4v4h-4zM614 153h4v4h-4zM622 157h4v4h-4zM634 161h4v4h-4zM594 181h4v4h-4zM630 181h4v4h-4zM282 241h4v4h-4z"/>
<path fill="#fb7529" d="M130 73h4v4h-4zM750 81h4v4h-4zM38 85h4v4h-4zM210 85h4v4h-4zM746 85h4v4h-4zM618 89h4v4h-4zM142 93h4v4h-4zM278 93h4v4h-4zM490 93h4v4h-4zM650 93h4v4h-4zM822 93h2v4h-2zM38 97h4v4h-4zM582 97h4v4h-4zM158 101h4v4h-4zM222 101h8v4h-8zM210 105h4v4h-4zM54 109h4v4h-4zM82 109h4v4h-4zM246 109h4v4h-4zM274 109h4v4h-4zM42 113h4v4h-4zM254 113h4v4h-4zM266 113h4v4h-4zM790 113h4v4h-4zM54 117h8v4h-8zM254 117h12v4h-12zM630 125h4v4h-4zM598 181h4v4h-4zM286 237h4v4h-4zM274 241h4v4h-4zM238 285h4v4h-4z"/>
<path fill="#fb7027" d="M614 69h4v4h-4zM126 73h4v4h-4zM622 73h4v4h-4zM646 73h4v4h-4zM122 77h4v4h-4zM142 77h8v4h-8zM154 77h4v4h-4zM46 81h4v4h-4zM190 81h4v4h-4zM254 81h4v4h-4zM562 81h4v4h-4zM722 81h4v4h-4zM818 81h4v4h-4zM194 85h4v4h-4zM554 85h4v4h-4zM490 89h4v4h-4zM646 89h4v4h-4zM138 93h4v4h-4zM146 93h4v4h-4zM610 93h4v4h-4zM666 93h4v4h-4zM710 93h4v4h-4zM34 97h4v4h-4zM42 97h4v4h-4zM62 97h12v4h-12zM558 97h4v4h-4zM578 97h4v4h-4zM162 101h8v4h-8zM218 101h4v4h-4zM90 105h4v4h-4zM206 105h4v4h-4zM234 105h4v4h-4zM722 105h4v4h-4zM58 109h4v4h-4zM66 109h12v4h-12zM250 109h4v4h-4zM758 109h8v4h-8zM130 113h4v4h-4zM258 113h8v4h-8zM742 113h4v4h-4zM750 113h4v4h-4zM46 117h8v4h-8zM122 121h4v4h-4zM154 149h8v4h-8zM610 149h4v4h-4zM594 153h4v4h-4zM586 157h4v4h-4zM602 181h12v4h-12z"/>
<path fill="#fc6a25" d="M654 69h4v4h-4zM674 73h4v4h-4zM138 77h4v4h-4zM150 77h4v4h-4zM766 81h4v4h-4zM42 85h4v4h-4zM490 85h12v4h-12zM742 85h4v4h-4zM818 85h4v4h-4zM34 89h4v4h-4zM494 89h12v4h-12zM614 89h4v4h-4zM738 89h4v4h-4zM494 93h16v4h-16zM654 93h4v4h-4zM662 93h4v4h-4zM738 93h4v4h-4zM54 97h8v4h-8zM74 97h16v4h-16zM510 97h4v4h-4zM562 97h8v4h-8zM574 97h4v4h-4zM770 97h4v4h-4zM822 97h2v4h-2zM230 101h4v4h-4zM62 109h4v4h-4zM254 109h4v4h-4zM270 109h4v4h-4zM734 109h4v4h-4zM754 109h4v4h-4zM766 109h4v4h-4zM794 113h4v4h-4zM802 117h4v4h-4zM610 153h4v4h-4zM642 173h4v4h-4zM578 177h4v4h-4zM638 177h4v4h-4zM614 181h4v4h-4zM270 233h4v4h-4zM270 237h4v4h-4zM278 241h4v4h-4zM242 289h4v4h-4z"/>
<path fill="#fc6423" d="M658 65h4v4h-4zM126 77h4v4h-4zM214 81h4v4h-4zM226 81h8v4h-8zM734 85h8v4h-8zM770 85h4v4h-4zM506 89h4v4h-4zM546 89h4v4h-4zM670 89h4v4h-4zM710 89h4v4h-4zM818 89h4v4h-4zM34 93h4v4h-4zM134 93h4v4h-4zM554 93h4v4h-4zM658 93h4v4h-4zM46 97h8v4h-8zM550 97h4v4h-4zM570 97h4v4h-4zM714 97h4v4h-4zM170 101h4v4h-4zM718 101h4v4h-4zM754 101h8v4h-8zM238 105h8v4h-8zM266 109h4v4h-4zM770 109h16v4h-16zM746 113h4v4h-4zM634 129h4v4h-4zM590 157h4v4h-4zM618 157h4v4h-4zM582 161h4v4h-4zM630 161h4v4h-4zM602 169h20v4h-20zM642 169h4v4h-4zM618 181h4v4h-4zM626 181h4v4h-4zM274 229h4v4h-4zM242 277h4v4h-4zM254 277h4v4h-4zM258 289h4v4h-4z"/>
<path fill="#fc5e21" d="M650 73h4v4h-4zM710 77h4v4h-4zM122 81h8v4h-8zM218 81h8v4h-8zM234 81h4v4h-4zM710 81h4v4h-4zM46 85h4v4h-4zM514 85h4v4h-4zM626 85h16v4h-16zM670 85h4v4h-4zM710 85h4v4h-4zM730 85h4v4h-4zM38 89h4v4h-4zM274 89h4v4h-4zM550 89h8v4h-8zM650 89h4v4h-4zM774 89h4v4h-4zM590 93h20v4h-20zM774 93h4v4h-4zM278 97h4v4h-4zM742 97h4v4h-4zM94 101h4v4h-4zM130 101h4v4h-4zM174 101h8v4h-8zM214 101h4v4h-4zM750 101h4v4h-4zM762 101h4v4h-4zM130 105h4v4h-4zM246 105h4v4h-4zM86 109h4v4h-4zM130 109h4v4h-4zM258 109h8v4h-8zM750 109h4v4h-4zM46 113h4v4h-4zM66 113h8v4h-8zM74 117h4v4h-4zM610 133h4v4h-4zM598 149h4v4h-4zM598 153h4v4h-4zM638 165h4v4h-4zM574 169h4v4h-4zM598 169h4v4h-4zM622 169h4v4h-4zM574 173h4v4h-4zM622 181h4v4h-4zM286 233h4v4h-4zM242 281h4v4h-4z"/>
<path fill="#fc581e" d="M674 69h4v4h-4zM618 73h4v4h-4zM130 77h8v4h-8zM186 81h4v4h-4zM670 81h4v4h-4zM718 81h4v4h-4zM770 81h4v4h-4zM814 81h4v4h-4zM190 85h4v4h-4zM618 85h8v4h-8zM642 85h4v4h-4zM726 85h4v4h-4zM610 89h4v4h-4zM550 93h4v4h-4zM586 93h4v4h-4zM714 93h4v4h-4zM818 93h4v4h-4zM90 97h4v4h-4zM130 97h4v4h-4zM182 101h4v4h-4zM234 101h4v4h-4zM766 101h4v4h-4zM822 101h2v4h-2zM250 105h4v4h-4zM754 105h16v4h-16zM738 109h4v4h-4zM786 109h4v4h-4zM50 113h16v4h-16zM78 113h4v4h-4zM798 113h4v4h-4zM126 117h4v4h-4zM118 121h4v4h-4zM630 129h4v4h-4zM606 149h4v4h-4zM606 153h4v4h-4zM594 157h8v4h-8zM610 157h8v4h-8zM626 161h4v4h-4zM578 165h4v4h-4zM602 165h16v4h-16zM606 173h12v4h-12z"/>
<path fill="#fc521c" d="M658 69h4v4h-4zM654 73h4v4h-4zM630 77h16v4h-16zM670 77h4v4h-4zM50 81h4v4h-4zM238 81h4v4h-4zM250 81h4v4h-4zM714 81h4v4h-4zM646 85h4v4h-4zM722 85h4v4h-4zM774 85h4v4h-4zM814 85h4v4h-4zM42 89h4v4h-4zM666 89h4v4h-4zM714 89h4v4h-4zM734 89h4v4h-4zM38 93h4v4h-4zM150 93h4v4h-4zM558 93h4v4h-4zM582 93h4v4h-4zM226 97h4v4h-4zM718 97h4v4h-4zM774 97h4v4h-4zM186 101h4v4h-4zM770 101h4v4h-4zM94 105h4v4h-4zM274 105h4v4h-4zM750 105h4v4h-4zM770 105h4v4h-4zM822 105h2v4h-2zM746 109h4v4h-4zM74 113h4v4h-4zM82 113h4v4h-4zM110 121h8v4h-8zM602 149h4v4h-4zM602 153h4v4h-4zM170 157h4v4h-4zM602 157h8v4h-8zM170 161h4v4h-4zM598 165h4v4h-4zM618 165h4v4h-4zM594 169h4v4h-4zM602 173h4v4h-4zM618 173h4v4h-4zM582 177h4v4h-4zM634 177h4v4h-4zM282 225h4v4h-4zM286 229h4v4h-4z"/>
<path fill="#fd4c1a" d="M662 65h4v4h-4zM614 73h4v4h-4zM658 73h4v4h-4zM670 73h4v4h-4zM622 77h8v4h-8zM646 77h8v4h-8zM130 81h4v4h-4zM182 81h4v4h-4zM242 81h4v4h-4zM566 81h4v4h-4zM774 81h8v4h-8zM810 81h4v4h-4zM126 85h4v4h-4zM214 85h4v4h-4zM262 85h4v4h-4zM558 85h4v4h-4zM614 85h4v4h-4zM714 85h8v4h-8zM778 85h4v4h-4zM810 85h4v4h-4zM138 89h4v4h-4zM598 89h12v4h-12zM654 89h12v4h-12zM718 89h16v4h-16zM778 89h4v4h-4zM814 89h4v4h-4zM130 93h4v4h-4zM526 93h4v4h-4zM718 93h8v4h-8zM734 93h4v4h-4zM154 97h4v4h-4zM230 97h4v4h-4zM190 101h4v4h-4zM210 101h4v4h-4zM238 101h4v4h-4zM722 101h4v4h-4zM254 105h4v4h-4zM266 105h8v4h-8zM774 105h4v4h-4zM742 109h4v4h-4zM790 109h4v4h-4zM822 109h2v4h-2zM614 133h4v4h-4zM586 161h4v4h-4zM622 161h4v4h-4zM622 165h4v4h-4zM598 173h4v4h-4z"/>
<path fill="#fd4618" d="M662 69h12v4h-12zM610 73h4v4h-4zM662 73h8v4h-8zM574 77h4v4h-4zM614 77h8v4h-8zM654 77h16v4h-16zM158 81h16v4h-16zM178 81h4v4h-4zM246 81h4v4h-4zM614 81h44v4h-44zM666 81h4v4h-4zM798 81h12v4h-12zM50 85h4v4h-4zM130 85h4v4h-4zM594 85h20v4h-20zM650 85h20v4h-20zM782 85h8v4h-8zM802 85h8v4h-8zM46 89h4v4h-4zM130 89h8v4h-8zM142 89h4v4h-4zM518 89h4v4h-4zM558 89h4v4h-4zM586 89h12v4h-12zM782 89h4v4h-4zM810 89h4v4h-4zM42 93h4v4h-4zM274 93h4v4h-4zM510 93h4v4h-4zM522 93h4v4h-4zM562 93h20v4h-20zM726 93h8v4h-8zM778 93h4v4h-4zM222 97h4v4h-4zM514 97h4v4h-4zM546 97h4v4h-4zM722 97h4v4h-4zM738 97h4v4h-4zM194 101h8v4h-8zM242 101h8v4h-8zM746 101h4v4h-4zM774 101h4v4h-4zM258 105h8v4h-8zM726 105h4v4h-4zM778 105h4v4h-4zM90 109h4v4h-4zM794 109h4v4h-4zM802 113h4v4h-4zM78 117h4v4h-4zM106 121h4v4h-4zM618 161h4v4h-4zM594 165h4v4h-4zM634 165h4v4h-4zM626 169h4v4h-4zM586 177h4v4h-4zM606 177h8v4h-8zM282 237h4v4h-4zM250 277h4v4h-4zM242 285h4v4h-4zM262 297h4v4h-4zM262 301h4v4h-4zM258 313h4v4h-4z"/>
<path fill="#fd4116" d="M598 73h12v4h-12zM586 77h28v4h-28zM118 81h4v4h-4zM134 81h24v4h-24zM174 81h4v4h-4zM586 81h28v4h-28zM658 81h8v4h-8zM122 85h4v4h-4zM186 85h4v4h-4zM222 85h16v4h-16zM258 85h4v4h-4zM562 85h4v4h-4zM586 85h8v4h-8zM790 85h12v4h-12zM126 89h4v4h-4zM146 89h4v4h-4zM270 89h4v4h-4zM582 89h4v4h-4zM786 89h4v4h-4zM806 89h4v4h-4zM46 93h4v4h-4zM814 93h4v4h-4zM234 97h4v4h-4zM274 97h4v4h-4zM518 97h28v4h-28zM818 97h4v4h-4zM202 101h8v4h-8zM250 101h4v4h-4zM270 101h8v4h-8zM746 105h4v4h-4zM798 109h4v4h-4zM126 113h4v4h-4zM590 161h28v4h-28zM582 165h4v4h-4zM626 165h4v4h-4zM638 169h4v4h-4zM578 173h4v4h-4zM622 173h4v4h-4zM638 173h4v4h-4zM590 177h16v4h-16zM614 177h4v4h-4zM630 177h4v4h-4zM278 229h4v4h-4zM274 237h4v4h-4zM254 301h4v4h-4z"/>
<path fill="#fd3b14" d="M578 77h8v4h-8zM54 81h4v4h-4zM570 81h4v4h-4zM582 81h4v4h-4zM134 85h4v4h-4zM218 85h4v4h-4zM238 85h20v4h-20zM582 85h4v4h-4zM50 89h4v4h-4zM210 89h4v4h-4zM226 89h16v4h-16zM258 89h12v4h-12zM510 89h4v4h-4zM562 89h8v4h-8zM574 89h8v4h-8zM790 89h4v4h-4zM798 89h8v4h-8zM50 93h4v4h-4zM226 93h20v4h-20zM262 93h12v4h-12zM530 93h12v4h-12zM546 93h4v4h-4zM782 93h4v4h-4zM94 97h4v4h-4zM218 97h4v4h-4zM238 97h36v4h-36zM726 97h4v4h-4zM778 97h4v4h-4zM254 101h16v4h-16zM818 101h4v4h-4zM782 105h4v4h-4zM818 105h4v4h-4zM126 109h4v4h-4zM818 109h4v4h-4zM86 113h4v4h-4zM806 113h4v4h-4zM82 117h4v4h-4zM122 117h4v4h-4zM102 121h4v4h-4zM630 165h4v4h-4zM578 169h4v4h-4zM594 173h4v4h-4zM618 177h4v4h-4zM626 177h4v4h-4zM282 229h4v4h-4zM274 233h4v4h-4zM282 233h4v4h-4zM278 237h4v4h-4zM262 305h4v4h-4zM262 313h4v4h-4z"/>
<path fill="#fd3512" d="M574 81h8v4h-8zM54 85h4v4h-4zM138 85h8v4h-8zM566 85h16v4h-16zM150 89h4v4h-4zM202 89h8v4h-8zM214 89h4v4h-4zM222 89h4v4h-4zM242 89h16v4h-16zM514 89h4v4h-4zM570 89h4v4h-4zM794 89h4v4h-4zM54 93h36v4h-36zM126 93h4v4h-4zM222 93h4v4h-4zM246 93h16v4h-16zM514 93h8v4h-8zM542 93h4v4h-4zM786 93h4v4h-4zM810 93h4v4h-4zM126 97h4v4h-4zM214 97h4v4h-4zM730 97h8v4h-8zM98 101h4v4h-4zM126 101h4v4h-4zM778 101h4v4h-4zM98 105h4v4h-4zM110 105h20v4h-20zM730 105h4v4h-4zM786 105h4v4h-4zM106 109h20v4h-20zM802 109h4v4h-4zM106 113h20v4h-20zM814 113h4v4h-4zM102 117h20v4h-20zM98 121h4v4h-4zM590 165h4v4h-4zM590 169h4v4h-4zM626 173h4v4h-4zM622 177h4v4h-4zM278 233h4v4h-4zM246 277h4v4h-4zM246 289h4v4h-4z"/>
<path fill="#fd2f10" d="M118 85h4v4h-4zM146 85h40v4h-40zM122 89h4v4h-4zM186 89h16v4h-16zM218 89h4v4h-4zM90 93h4v4h-4zM154 93h4v4h-4zM790 93h20v4h-20zM158 97h16v4h-16zM782 97h4v4h-4zM814 97h4v4h-4zM110 101h16v4h-16zM726 101h4v4h-4zM742 101h4v4h-4zM102 105h8v4h-8zM734 105h4v4h-4zM742 105h4v4h-4zM790 105h8v4h-8zM814 105h4v4h-4zM94 109h4v4h-4zM102 109h4v4h-4zM806 109h4v4h-4zM814 109h4v4h-4zM102 113h4v4h-4zM810 113h4v4h-4zM586 165h4v4h-4zM630 169h8v4h-8zM582 173h4v4h-4zM590 173h4v4h-4zM630 173h8v4h-8zM250 289h4v4h-4zM258 309h8v4h-8z"/>
<path fill="#fe290e" d="M58 81h4v4h-4zM54 89h4v4h-4zM154 89h32v4h-32zM122 93h4v4h-4zM158 93h4v4h-4zM214 93h8v4h-8zM114 97h12v4h-12zM174 97h40v4h-40zM786 97h8v4h-8zM806 97h8v4h-8zM106 101h4v4h-4zM782 101h8v4h-8zM814 101h4v4h-4zM738 105h4v4h-4zM798 105h16v4h-16zM98 109h4v4h-4zM810 109h4v4h-4zM90 113h4v4h-4zM86 117h4v4h-4zM98 117h4v4h-4zM582 169h8v4h-8zM586 173h4v4h-4zM254 281h4v4h-4zM258 293h4v4h-4z"/>
<path fill="#fe230c" d="M58 85h4v4h-4zM114 85h4v4h-4zM58 89h8v4h-8zM118 89h4v4h-4zM94 93h4v4h-4zM118 93h4v4h-4zM162 93h52v4h-52zM98 97h4v4h-4zM106 97h8v4h-8zM794 97h12v4h-12zM102 101h4v4h-4zM730 101h12v4h-12zM790 101h24v4h-24zM94 113h8v4h-8zM90 117h8v4h-8zM250 293h4v4h-4zM258 305h4v4h-4z"/>
<path fill="#fe1d0a" d="M62 81h24v4h-24zM62 85h52v4h-52zM66 89h52v4h-52zM98 93h20v4h-20zM102 97h4v4h-4zM254 285h4v4h-4zM254 289h4v4h-4zM254 293h4v4h-4zM250 297h12v4h-12zM258 301h4v4h-4z"/>
<path fill="#fe1708" d="M246 281h4v4h-4z"/>
<path fill="#fe1206" d="M250 281h4v4h-4zM246 285h8v4h-8z"/></g><path d="M316.2 113.6L318.9 111.8 321.2 107.5 323.4 103.4 328.7 100.4 334.3 99.5 338.9 96.1 344.6 94.5 351.4 93.9 358.2 92.3 362.7 89.8 365.0 87.0 365.0 84.1 368.4 82.5 369.6 80.2 371.8 77.9 373.0 75.7 369.6 73.4 372.3 70.4 375.2 67.7 384.3 64.8 386.6 63.2 376.4 62.5 367.3 61.6 355.9 60.5 342.3 59.5 328.7 59.8 319.6 60.5 308.2 61.6 296.8 62.5 285.5 63.0 276.4 63.4 271.8 65.0 267.3 66.1 262.8 67.3 255.9 69.3 250.3 71.1 252.5 72.7 257.1 73.9 262.8 75.9 271.8 76.6 280.9 76.8 284.3 78.2 287.8 80.2 288.9 83.2 290.0 85.4 291.2 88.2 296.8 89.3 298.0 91.6 294.6 93.4 293.4 96.1 293.4 98.9 295.7 101.1 297.3 103.6 300.0 106.3 301.8 108.6 304.8 110.9 309.3 111.8 312.8 112.9ZM233.2 79.1L233.2 80.2 221.9 80.2 215.0 80.4 206.0 79.8 203.2 77.9 206.0 75.4 215.0 75.0 224.1 75.9 229.8 75.9 233.2 77.3ZM212.8 75.9L221.9 76.1 233.2 76.4 236.6 74.5 240.0 72.3 244.6 71.1 251.4 70.0 255.9 67.7 262.8 66.6 269.6 64.3 276.4 62.5 271.8 61.1 260.5 60.7 244.6 60.9 233.2 61.4 219.6 62.7 208.2 64.3 200.3 65.5 195.7 67.7 199.1 70.0 208.2 71.6 215.0 72.3 216.2 74.5 211.6 75.4ZM175.3 77.3L169.6 78.9 160.5 80.2 149.2 80.7 150.3 78.4 156.0 76.4 165.1 75.7 171.9 76.8ZM152.6 76.1L145.7 77.9 140.1 76.8 136.7 75.2 142.3 73.9 148.0 74.8ZM194.6 75.7L191.2 78.6 186.6 77.3 185.5 75.7 190.0 75.0ZM202.5 78.4L196.9 78.2 198.0 76.8 202.5 77.0ZM186.6 71.1L182.1 72.7 175.3 71.8 177.6 70.0 184.4 69.5ZM165.1 72.7L157.1 73.4 156.0 71.6 162.8 71.1ZM452.5 75.4L446.8 73.4 440.0 70.4 440.0 68.4 449.1 68.2 453.6 67.7 458.2 66.8 465.0 66.6 476.3 67.3 471.8 69.3 462.7 70.7 468.4 71.6 466.1 73.9 459.3 73.4 454.8 75.0ZM622.9 68.9L630.9 70.4 642.2 71.1 651.3 70.0 644.5 67.0 635.4 65.0 626.3 65.9ZM521.8 67.0L533.2 67.5 546.8 67.3 555.9 66.4 551.3 64.3 540.0 63.6 528.6 65.5 519.5 65.9Z" fill="#fff"/><g fill="#fff" filter="url(#b2)"><ellipse cx="220" cy="88" rx="8" ry="4"/><ellipse cx="160" cy="84" rx="6" ry="2"/><ellipse cx="245" cy="96" rx="4" ry="3"/></g></g>
<path d="M477.7 152.9L478.4 152.5 480.0 150.2 480.4 148.4 482.5 146.8 484.5 144.3 487.3 143.6 490.4 144.8 489.1 146.3 491.1 148.4 493.4 148.2 496.8 147.2 495.2 145.4 494.8 144.3 500.2 142.5 503.6 142.3 501.8 143.8 500.9 145.0 500.4 146.6 499.8 147.5 502.0 148.6 504.8 150.2 507.0 151.6 509.5 153.6 509.5 155.0 506.6 156.1 502.5 156.6 499.1 155.9 496.8 154.7 494.5 154.1 490.7 154.1 487.3 155.7 483.2 155.9 481.1 155.9 479.1 155.0 478.2 153.4ZM522.2 147.7L523.2 150.7 525.2 154.1 527.7 156.8 529.3 157.7 527.0 160.2 526.3 163.6 529.7 165.4 533.2 166.1 537.7 165.4 537.5 162.0 535.9 159.7 536.6 157.2 535.2 155.2 534.3 152.9 531.6 151.1 531.3 148.8 529.7 147.9 532.0 146.6 535.4 145.4 535.9 143.6 532.7 142.7 529.3 143.2 526.3 144.1 524.1 145.9ZM205.7 143.4L210.5 143.6 215.0 142.9 218.5 143.8 222.8 143.8 222.3 141.6 219.6 138.6 213.9 139.3 211.4 140.4 207.1 142.3ZM215.5 148.4L215.3 152.9 216.2 154.7 218.2 154.3 218.9 150.7 219.8 147.2 222.3 145.4 218.5 145.4 216.2 146.6ZM223.0 145.2L225.3 146.6 227.5 151.8 229.4 150.7 229.6 148.4 233.0 148.4 231.9 146.1 229.8 145.0 225.3 144.5ZM225.5 154.5L229.8 154.7 234.4 153.2 235.7 152.0 232.1 152.7 227.5 154.1ZM233.7 151.1L237.8 150.9 241.9 150.7 241.4 149.1 238.2 149.7 234.8 150.2ZM547.9 143.8L553.6 143.6 555.2 147.2 551.3 150.4 547.9 148.8ZM487.0 251.3L488.4 248.8 491.1 248.8 492.3 250.2 492.7 252.2 490.7 255.2 488.4 255.4 487.0 253.6Z" fill="#fff" stroke="#000" stroke-width="2.1" stroke-linejoin="round"/>
<path d="M192.8 127.3L195.7 131.6 195.3 134.8 194.1 134.5 192.8 131.3 190.0 127.9ZM187.3 129.3L188.9 132.3 188.0 132.5 186.4 129.8ZM149.2 110.4L156.0 111.1 162.8 110.2 166.2 108.2 161.6 106.8 157.1 108.2 152.6 109.3ZM131.0 101.8L135.5 102.3 142.3 100.0 146.9 99.3 143.5 97.5 137.8 97.3 134.4 99.1 130.5 100.7ZM161.2 116.3L167.3 115.9 174.1 115.0 173.5 114.1 167.3 114.8 162.1 115.4ZM182.1 120.7L183.7 119.3 182.8 117.3 181.4 118.8ZM251.4 99.1L255.9 99.3 255.5 97.7 250.9 97.5ZM582.0 144.3L585.4 143.6 590.0 143.4 594.5 144.1 593.4 145.4 587.7 144.5 584.3 145.4ZM651.3 132.3L654.7 131.6 658.1 129.1 661.5 125.7 664.0 122.7 663.1 127.7 659.3 130.7 654.7 132.9ZM483.2 112.7L488.8 111.8 489.5 110.2 485.4 109.3 483.6 110.9ZM493.4 110.9L496.3 110.4 497.3 107.5 494.5 106.8 493.4 109.1ZM481.6 257.2L482.7 257.5 484.3 263.1 485.9 269.0 484.8 269.5 482.0 264.3 481.3 259.7ZM492.3 271.1L493.4 271.3 494.5 275.6 495.2 281.3 493.6 281.8 492.9 276.8 492.3 273.4ZM445.7 220.0L448.6 218.8 448.2 220.4 446.4 220.9ZM511.1 162.2L514.1 161.3 513.2 162.5ZM588.1 153.4L592.7 152.9 593.1 153.6 588.8 153.8ZM641.3 165.7L643.8 165.2 643.8 166.3 641.5 166.1ZM443.2 116.6L445.9 116.1 447.3 114.8 444.3 114.8ZM447.3 118.2L448.6 116.8 448.2 116.3 447.0 117.7Z" fill="#111" stroke="#000" stroke-width="1.8" stroke-linejoin="round"/>
<path d="M33.3 100.4L37.8 98.9 42.8 99.3 47.4 98.2 43.0 95.9 36.7 94.1 43.5 91.6 48.0 89.8 56.0 88.6 59.4 87.5 65.1 88.4 69.6 88.6 74.2 89.3 78.7 89.8 85.5 90.2 94.6 91.1 101.4 92.0 106.0 92.9 109.4 91.6 115.1 91.4 120.7 90.4 125.3 89.8 129.8 91.6 133.2 91.8 137.8 90.9 142.3 92.7 149.2 92.9 153.7 94.3 158.2 93.9 165.1 95.0 169.6 94.3 174.1 93.2 178.7 95.0 184.4 95.4 192.3 95.4 195.7 94.5 198.0 91.6 200.3 86.4 202.5 89.3 204.8 91.4 209.4 93.9 213.9 92.9 218.5 95.0 220.7 90.9 226.4 90.4 229.8 92.3 229.8 95.0 226.4 97.3 220.7 98.4 217.3 98.6 219.6 101.8 216.2 103.6 210.5 104.1 206.0 106.8 201.4 110.2 199.6 114.3 201.0 116.1 204.8 119.3 210.5 120.0 215.0 121.3 220.7 123.8 228.0 124.3 228.0 127.9 229.8 130.2 232.1 132.9 235.0 132.5 235.9 130.2 235.5 126.3 239.6 122.9 240.9 120.0 239.4 116.6 237.8 113.2 238.9 109.8 237.8 107.7 243.4 107.9 248.0 108.2 252.5 110.4 255.9 111.8 257.1 114.3 256.9 116.3 260.5 116.8 262.8 117.0 266.2 114.8 268.4 112.5 271.2 116.6 274.1 119.5 275.3 121.6 278.7 123.6 283.2 126.3 285.5 127.5 288.2 130.2 288.4 132.3 284.3 132.7 278.7 135.4 270.7 135.4 263.9 135.4 259.4 137.7 256.4 140.0 253.2 143.2 255.9 141.6 260.5 139.1 267.3 137.7 268.9 138.6 266.2 140.4 267.8 142.7 268.4 144.5 271.8 145.4 275.3 145.4 278.0 144.5 278.7 145.2 276.4 146.8 270.7 148.2 266.2 150.7 264.6 148.8 268.4 146.6 265.0 146.8 262.5 147.7 259.4 148.8 255.9 150.2 254.4 151.8 254.6 153.4 255.9 154.5 254.8 155.0 252.5 155.4 249.1 155.9 246.9 157.2 246.6 159.1 244.8 161.1 244.1 162.5 243.2 164.3 242.3 165.7 243.0 168.2 243.4 169.5 241.2 170.7 238.9 171.6 236.6 172.7 235.0 174.1 233.2 175.4 230.9 177.0 230.0 180.2 230.5 182.5 231.9 185.2 233.0 188.6 232.5 191.8 230.7 192.2 229.4 190.6 228.2 188.8 227.1 186.6 226.9 184.1 224.8 181.6 223.0 181.3 221.0 182.0 218.5 180.4 215.0 180.2 212.1 180.7 212.3 182.9 209.4 183.4 206.4 182.2 202.5 181.8 199.6 182.7 196.9 184.5 194.1 186.8 193.7 189.3 193.9 192.2 193.0 195.0 192.8 198.4 193.7 201.1 195.7 204.5 197.3 206.8 200.3 208.1 203.2 207.5 206.0 207.0 207.5 207.2 208.9 205.2 209.6 202.2 211.6 201.1 215.0 200.4 217.5 200.9 216.4 203.4 215.5 206.3 214.6 209.7 213.9 212.7 215.0 213.6 218.5 213.6 221.9 213.4 225.5 215.0 225.5 217.7 225.0 221.1 224.6 224.5 226.4 226.8 228.7 228.8 232.1 228.8 234.4 227.7 236.6 228.1 239.1 230.0 238.0 232.9 236.9 230.9 234.4 229.3 233.0 230.6 232.1 232.9 230.5 232.0 229.4 230.9 226.6 231.1 224.8 230.0 222.3 227.7 220.3 226.3 220.3 224.3 218.2 221.8 216.0 220.0 213.2 219.5 209.4 217.9 206.4 217.0 203.7 214.5 200.3 212.7 198.0 213.6 195.7 213.8 192.3 212.7 188.2 211.3 184.4 209.3 179.8 207.9 177.6 205.9 175.3 203.4 175.7 200.4 174.8 198.4 173.0 196.6 170.5 193.8 168.2 191.8 166.4 189.7 163.9 187.2 162.1 185.2 160.1 182.9 158.2 180.2 154.4 177.2 154.6 180.7 157.1 183.6 158.7 185.9 160.3 187.9 161.6 190.4 163.2 193.1 164.8 195.0 166.4 196.8 165.1 197.5 164.4 196.1 161.6 193.8 160.3 193.1 158.7 189.5 155.1 187.7 155.3 185.2 153.0 182.5 150.7 179.5 149.8 177.2 148.7 175.4 147.8 173.6 146.0 172.5 143.9 171.6 141.0 171.1 140.3 168.8 138.0 166.3 136.9 165.0 136.7 163.6 135.5 162.7 133.7 160.4 132.3 157.7 133.0 154.5 132.1 152.2 133.0 149.1 133.2 145.9 133.2 144.3 132.1 141.6 131.7 139.5 135.1 140.0 136.0 139.3 135.3 137.9 133.7 136.6 131.4 135.4 128.7 134.1 126.0 133.2 124.6 130.9 122.8 129.1 120.1 127.0 118.9 125.0 117.6 123.4 115.7 121.8 113.9 120.0 111.7 117.7 108.2 115.4 104.6 117.0 101.4 115.7 98.0 113.8 94.6 113.2 90.1 112.9 85.5 112.3 82.1 111.1 78.7 111.6 77.6 113.2 74.2 114.3 70.1 115.0 71.0 112.0 73.5 110.4 70.1 111.3 68.3 112.9 66.2 114.8 64.6 116.6 61.0 118.4 58.3 120.0 55.1 121.8 51.9 122.9 48.5 123.8 45.5 124.8 41.2 125.9 44.6 123.6 49.2 122.3 52.6 120.4 55.3 118.6 57.1 117.0 54.9 116.1 51.4 116.1 47.8 116.3 46.9 114.3 42.8 113.4 40.8 112.0 39.4 110.4 37.8 109.5 38.9 107.9 41.2 105.9 45.1 105.2 49.2 104.1 49.6 102.5 45.8 102.9 42.4 102.7 37.4 102.7 36.4 101.1ZM239.1 230.0L242.3 228.1 243.2 225.9 245.0 224.5 248.0 223.8 250.9 222.5 253.0 221.6 252.3 223.1 252.3 225.0 255.5 223.4 256.4 222.0 257.1 223.4 259.8 225.0 262.8 225.4 266.2 226.6 269.1 225.4 273.0 225.2 274.3 226.3 275.3 227.5 276.8 230.0 279.1 230.6 282.1 232.9 284.3 235.4 287.8 236.1 291.2 236.1 294.6 237.0 296.8 239.0 298.0 240.0 299.1 241.5 300.5 245.4 301.4 247.9 300.3 249.5 302.5 250.4 304.8 251.3 307.1 251.1 310.5 251.8 313.9 254.5 316.4 255.2 320.7 256.1 324.1 255.9 327.5 257.9 330.5 260.4 333.7 261.3 335.2 264.3 335.9 266.5 335.2 269.9 333.4 272.2 330.7 275.2 328.2 278.8 326.6 280.9 326.4 284.7 325.9 289.3 324.8 293.1 323.4 296.1 321.8 299.3 319.6 301.5 316.2 301.8 313.4 302.7 309.3 304.3 306.4 306.3 304.6 309.3 304.6 313.1 302.5 315.4 300.5 319.0 298.4 321.8 295.7 324.5 293.4 326.8 291.2 328.3 287.8 328.8 284.3 327.7 282.1 327.9 285.0 330.2 285.9 332.2 284.3 335.4 281.4 337.2 276.4 338.1 273.7 337.7 273.4 341.8 270.7 342.9 267.3 342.4 267.1 345.2 269.1 346.1 270.5 346.8 268.4 347.2 266.6 349.5 266.2 351.8 261.6 354.5 262.3 355.8 264.6 357.4 261.6 360.2 259.6 363.6 258.0 364.9 258.0 367.2 259.6 368.3 259.8 370.4 261.6 372.2 263.9 374.0 260.5 374.5 257.1 374.9 253.7 374.0 251.4 372.7 248.0 369.9 245.7 367.2 243.9 363.1 243.4 359.7 245.5 357.4 243.4 355.2 245.7 352.4 247.3 349.5 247.3 346.1 247.5 343.8 247.8 341.1 248.2 338.6 248.0 335.4 249.8 331.8 250.9 329.0 251.9 325.6 252.5 322.2 252.8 318.8 253.0 315.4 253.9 311.5 254.8 307.4 255.0 302.9 255.7 298.4 255.5 293.8 255.3 291.1 253.0 289.5 250.3 287.7 246.9 285.6 243.4 283.1 241.6 280.2 240.5 277.2 238.9 274.5 237.1 271.3 235.5 268.4 233.4 265.4 230.7 263.1 230.5 260.4 232.5 257.5 233.4 255.4 231.4 253.8 232.3 250.9 233.2 247.7 235.5 246.3 236.2 245.2 238.4 243.4 239.1 240.9 239.1 237.0 238.9 234.5 238.0 232.9ZM316.2 113.6L318.9 111.8 321.2 107.5 323.4 103.4 328.7 100.4 334.3 99.5 338.9 96.1 344.6 94.5 351.4 93.9 358.2 92.3 362.7 89.8 365.0 87.0 365.0 84.1 368.4 82.5 369.6 80.2 371.8 77.9 373.0 75.7 369.6 73.4 372.3 70.4 375.2 67.7 384.3 64.8 386.6 63.2 376.4 62.5 367.3 61.6 355.9 60.5 342.3 59.5 328.7 59.8 319.6 60.5 308.2 61.6 296.8 62.5 285.5 63.0 276.4 63.4 271.8 65.0 267.3 66.1 262.8 67.3 255.9 69.3 250.3 71.1 252.5 72.7 257.1 73.9 262.8 75.9 271.8 76.6 280.9 76.8 284.3 78.2 287.8 80.2 288.9 83.2 290.0 85.4 291.2 88.2 296.8 89.3 298.0 91.6 294.6 93.4 293.4 96.1 293.4 98.9 295.7 101.1 297.3 103.6 300.0 106.3 301.8 108.6 304.8 110.9 309.3 111.8 312.8 112.9ZM401.6 168.2L399.5 172.0 395.7 173.8 393.9 175.7 392.7 178.4 393.0 180.9 391.6 183.2 388.9 185.4 385.5 186.6 382.7 189.5 381.4 192.2 379.3 195.0 378.2 196.8 377.3 199.1 376.1 202.0 378.0 205.0 378.4 208.1 377.5 211.3 376.4 215.0 375.2 216.1 376.8 218.6 377.1 221.3 379.8 223.4 381.6 225.4 384.3 227.7 385.2 230.9 387.7 232.9 390.0 234.5 393.4 237.2 397.7 239.5 401.4 238.4 405.9 237.7 410.5 238.6 413.9 237.0 417.3 235.9 421.1 235.2 425.2 235.2 427.7 237.5 429.1 239.7 432.0 239.5 434.3 239.0 436.4 240.9 437.3 244.0 436.6 247.2 436.1 250.2 435.0 251.3 436.6 254.7 440.0 257.9 442.3 260.6 442.9 263.1 444.5 267.2 445.2 269.5 444.8 274.0 445.9 277.9 443.4 280.9 442.7 283.6 441.8 287.7 441.8 289.5 444.1 293.1 445.7 296.8 447.7 300.6 447.9 304.0 449.1 309.7 450.0 312.0 452.5 314.5 454.1 317.4 455.7 321.1 456.6 323.3 456.8 326.5 457.7 327.4 460.4 328.6 463.9 327.7 467.3 326.8 472.9 326.8 475.2 326.1 477.5 324.9 479.8 323.1 482.0 320.6 484.3 318.1 486.1 315.8 488.4 313.6 489.3 310.4 489.5 308.4 491.8 306.8 494.5 305.4 495.7 303.1 495.4 299.5 494.8 297.2 493.8 294.5 496.8 292.4 500.2 289.7 504.8 287.0 507.5 283.6 507.0 277.9 506.6 273.4 504.5 268.8 504.3 265.4 503.2 263.8 504.1 260.9 505.4 257.9 506.6 255.4 509.3 253.4 511.6 250.6 513.8 247.7 517.2 245.2 520.7 242.7 523.6 239.3 525.7 236.5 527.5 232.5 529.3 229.0 530.4 225.6 531.6 222.7 528.6 223.4 525.2 224.1 521.8 224.7 518.4 225.4 515.0 225.9 513.4 223.8 512.3 221.6 513.4 220.9 511.6 218.8 509.3 217.0 505.9 214.3 504.1 212.0 502.7 208.6 500.0 206.6 499.5 202.9 499.3 200.6 498.6 199.1 496.1 195.9 495.7 194.5 493.6 190.9 492.3 188.2 491.1 186.8 489.1 181.6 491.3 185.4 492.7 186.3 493.4 184.5 494.3 182.5 494.5 185.7 496.1 187.5 497.9 190.4 499.8 193.1 501.8 195.4 503.6 199.1 504.1 201.1 505.9 204.1 508.2 207.2 510.0 210.2 511.8 213.1 512.3 215.4 512.7 217.7 513.4 220.4 514.1 220.6 516.1 220.6 518.4 220.0 521.8 218.6 525.7 217.7 528.6 215.9 532.0 214.7 533.8 213.1 536.6 211.6 540.4 210.0 543.2 208.8 544.3 207.0 546.3 206.3 546.3 203.4 547.9 202.9 549.7 201.1 550.9 198.4 548.6 196.1 546.1 195.4 543.4 193.8 542.9 191.3 543.2 189.7 542.5 190.0 541.1 191.6 539.1 193.8 536.6 194.7 534.1 194.5 532.2 194.5 531.6 193.6 532.2 191.8 531.8 190.2 530.9 190.6 530.4 192.9 529.3 191.3 528.6 189.7 527.5 187.9 525.9 186.3 525.0 184.7 524.1 182.7 525.2 181.6 526.8 180.9 528.8 180.9 530.0 182.5 531.3 184.5 532.2 186.1 534.3 187.0 537.0 188.6 539.3 189.3 541.6 188.4 542.9 187.7 544.5 189.1 545.2 190.9 548.6 191.6 552.5 192.0 555.0 192.2 557.2 192.0 560.9 192.0 563.8 192.0 566.3 191.6 567.5 193.1 568.4 195.0 570.4 195.9 571.8 198.1 574.5 197.5 571.8 198.8 573.4 200.6 575.9 202.2 578.6 201.1 580.0 199.7 580.4 202.2 580.6 206.3 581.8 211.3 582.9 214.3 584.5 218.1 586.1 222.7 588.1 226.8 590.6 230.9 592.7 229.3 594.5 228.4 596.3 226.1 596.6 222.2 597.5 218.8 597.2 215.0 599.5 212.7 602.0 211.3 604.7 209.1 608.1 205.9 611.5 204.1 612.7 200.9 615.6 200.2 618.4 199.7 620.6 198.8 623.6 198.6 624.5 201.3 625.4 202.9 627.2 205.2 629.0 207.9 629.7 212.0 631.5 213.6 634.3 211.3 636.5 212.0 637.2 215.9 638.8 220.0 639.0 224.5 638.4 228.4 638.4 231.3 639.9 232.2 642.7 234.7 643.1 237.7 644.5 240.6 646.3 243.4 648.6 245.2 650.2 246.5 652.0 246.1 650.2 241.5 649.9 238.8 647.7 235.6 645.2 233.8 643.1 232.7 642.2 230.2 640.4 227.2 640.6 224.5 641.8 221.6 642.4 219.1 644.3 218.8 644.3 220.9 647.2 221.8 648.6 223.4 650.2 225.6 652.4 225.9 653.1 229.0 654.0 229.7 656.5 227.9 657.7 226.1 659.9 225.0 662.7 223.4 663.4 220.4 663.1 216.6 662.0 214.3 658.8 211.3 657.0 209.1 655.4 206.6 656.8 203.4 659.3 200.9 661.5 200.2 664.0 200.2 664.7 203.4 666.1 203.1 666.1 201.1 669.0 200.2 672.2 199.3 674.7 198.6 678.1 197.7 681.5 195.6 684.5 193.6 686.5 191.3 687.2 189.1 688.8 187.0 691.1 184.7 692.0 182.0 690.4 180.4 692.0 179.1 690.8 177.2 689.5 175.4 688.3 171.6 685.8 170.0 687.9 167.7 689.5 166.6 693.3 165.7 691.1 164.3 688.3 164.1 685.4 165.0 683.8 163.2 682.4 161.3 684.3 160.4 687.2 158.6 689.9 156.8 692.7 157.7 690.8 160.4 692.4 160.2 695.6 159.1 697.9 159.1 699.9 160.4 699.0 162.7 701.8 163.8 702.7 166.6 702.2 170.9 704.7 170.9 707.2 170.0 709.0 168.6 709.0 165.9 706.8 162.2 704.5 160.2 706.5 158.6 709.7 156.6 709.9 154.3 712.0 153.2 714.5 151.3 717.7 152.2 722.9 149.7 728.1 145.4 730.8 141.8 734.0 139.3 734.2 135.4 736.3 130.9 734.7 128.4 730.8 126.3 727.0 127.0 725.6 125.4 727.7 122.0 732.4 118.8 736.7 115.7 741.1 114.5 746.1 114.5 752.4 114.8 758.8 115.7 761.5 115.2 766.1 114.8 767.9 112.7 771.1 110.0 776.3 108.8 779.2 109.1 786.5 107.9 784.5 110.9 782.2 112.5 779.7 114.3 775.4 117.7 771.7 118.6 770.4 121.3 769.0 124.5 768.6 127.9 770.1 131.6 771.1 133.6 772.9 132.5 775.1 129.3 778.6 127.3 779.2 125.0 783.1 122.3 784.9 120.9 785.8 118.2 783.3 117.5 786.1 115.0 789.5 113.4 792.6 112.3 795.6 112.7 800.1 112.0 803.5 111.1 808.1 109.8 811.5 108.8 816.0 107.3 820.6 105.9 822.2 103.2 825.1 101.8 825.1 92.9 819.5 91.8 813.8 90.9 805.8 90.7 800.1 90.9 797.9 91.4 792.2 91.4 785.4 91.1 780.8 91.4 778.6 89.8 774.0 88.4 767.2 88.2 760.4 88.4 757.0 87.5 751.3 85.4 744.5 85.2 737.7 84.3 733.1 84.8 728.6 86.8 722.9 86.8 717.2 87.3 713.8 88.4 710.4 88.2 709.3 85.2 707.0 83.2 702.4 82.5 696.8 82.0 692.2 83.6 686.5 83.4 679.7 82.0 672.9 82.0 670.6 80.2 664.9 80.9 660.4 82.7 657.0 82.9 659.3 80.2 667.2 77.9 672.9 77.3 671.8 75.4 662.7 75.0 654.7 73.2 652.0 72.9 644.5 75.4 635.4 76.8 626.3 77.3 617.2 77.9 611.5 80.2 611.5 82.3 605.9 82.0 598.4 82.3 598.4 85.0 602.5 86.8 604.0 89.3 601.3 90.0 597.9 85.9 593.4 85.0 587.7 85.2 584.3 84.1 582.0 87.5 585.0 89.3 584.3 92.3 588.8 93.6 585.0 95.4 580.4 97.7 579.7 93.9 580.4 90.4 580.0 87.0 579.7 84.1 575.2 83.2 571.8 84.1 568.4 86.4 566.8 89.3 570.2 92.0 570.6 93.9 566.8 92.0 561.6 91.8 553.2 90.7 551.8 92.9 546.8 92.9 540.0 94.3 536.6 94.1 535.4 93.2 526.3 95.4 519.5 95.7 515.7 93.9 513.8 96.1 515.4 98.6 513.4 98.6 509.3 99.1 506.3 101.1 506.6 102.7 501.3 102.7 499.1 104.3 495.7 103.2 494.1 101.8 493.6 99.1 490.0 98.4 488.8 97.0 493.4 98.2 497.9 98.9 503.6 99.3 508.6 97.5 507.7 95.7 502.5 94.3 496.8 92.5 490.0 91.6 485.0 90.9 480.9 90.2 476.3 88.2 473.4 87.9 468.4 88.9 463.9 90.0 459.3 90.4 453.6 92.5 450.2 94.1 447.9 96.1 444.5 99.1 442.9 100.7 440.0 102.7 436.6 105.0 432.0 106.3 428.2 107.7 426.4 109.8 426.4 112.5 427.5 115.0 427.7 116.1 430.0 117.5 433.2 117.5 436.6 115.7 438.9 114.3 440.0 115.2 441.6 117.0 443.2 119.8 444.1 122.3 444.3 123.6 447.5 123.4 447.7 122.3 451.4 121.8 452.5 120.0 452.7 117.0 455.7 115.0 457.5 113.2 454.3 111.6 454.3 108.6 457.0 106.8 461.6 104.8 463.9 102.9 465.7 100.4 470.0 100.0 472.5 101.4 470.9 102.5 466.8 104.8 463.4 106.3 463.6 109.1 464.1 111.3 466.1 112.9 470.7 112.9 475.2 112.3 479.8 111.8 483.6 113.2 479.8 113.6 476.3 114.3 470.7 114.5 468.4 115.2 468.4 117.0 470.4 117.0 470.0 119.5 467.7 120.0 464.3 118.8 462.7 120.4 462.9 122.9 463.2 124.1 460.4 124.8 459.5 125.9 457.0 125.2 454.8 125.0 451.4 126.1 447.5 127.0 445.0 125.9 442.3 126.3 439.8 126.8 439.5 125.4 437.7 124.5 437.3 122.7 439.1 121.1 439.1 118.4 436.6 119.8 434.5 119.8 433.4 121.1 433.6 123.4 434.8 124.8 435.2 126.8 433.4 127.7 430.9 128.2 428.2 128.2 425.9 129.3 424.8 131.3 423.0 132.7 420.7 133.4 418.6 133.8 418.4 135.4 415.5 136.6 412.5 137.5 412.0 136.8 410.7 136.6 411.4 138.6 408.2 138.6 404.3 139.5 405.2 140.9 408.2 141.6 410.0 142.5 411.6 144.3 412.3 146.1 412.3 148.4 411.6 150.7 408.2 150.9 403.6 150.7 400.2 150.4 396.8 150.2 393.9 151.6 394.8 154.1 395.2 156.3 394.6 159.1 393.4 161.3 395.0 162.2 395.0 165.0 394.6 165.4 398.0 165.2 400.7 166.1 402.3 167.7 404.8 166.3 409.8 165.9 411.6 164.3 413.6 162.5 415.5 161.3 414.3 159.7 416.1 157.2 417.7 156.1 422.3 154.1 422.0 151.8 424.1 150.7 427.5 151.3 430.9 150.7 434.3 149.1 437.3 149.3 438.9 151.8 441.1 153.2 443.4 155.2 446.4 156.1 449.1 158.2 450.7 158.8 451.8 161.3 450.7 163.2 451.6 163.4 453.9 161.1 452.7 159.5 454.3 157.7 457.0 158.4 456.1 157.2 453.6 156.1 451.4 154.3 448.6 153.6 445.9 150.4 442.9 148.2 442.9 146.3 446.1 145.9 446.4 147.5 447.9 146.8 449.8 149.1 452.3 150.7 455.0 151.8 457.3 153.2 459.3 154.5 459.1 157.7 460.9 159.7 462.7 162.2 464.1 164.5 464.5 165.9 466.1 166.8 467.7 166.8 467.5 164.7 468.4 163.2 469.8 163.8 468.4 162.2 467.3 160.2 466.4 157.9 469.1 157.2 470.7 156.6 474.1 156.8 474.8 158.2 475.7 160.4 476.8 162.2 477.0 164.3 478.6 165.9 482.0 167.2 484.5 165.9 487.7 166.6 491.1 167.2 493.8 165.9 496.8 165.9 497.3 166.6 496.3 168.2 496.6 170.0 495.9 172.2 494.5 174.5 493.4 177.7 491.1 178.8 488.4 178.6 485.4 177.7 483.2 178.4 480.9 179.3 477.5 178.6 472.3 177.7 468.4 176.6 466.1 175.0 462.9 175.0 460.7 176.3 460.4 179.1 458.6 180.7 455.9 179.5 451.4 178.4 449.8 176.1 445.2 174.7 441.1 174.1 439.5 172.7 437.9 171.6 440.0 168.8 438.9 167.2 440.2 165.4 438.2 165.0 437.0 164.7 434.3 165.7 432.0 165.4 428.6 165.7 425.2 165.7 421.8 165.9 418.4 166.6 415.0 167.9 412.0 169.3 409.3 169.7 405.9 169.5 403.0 167.9ZM4.9 101.8L8.3 102.3 11.7 103.2 15.1 102.5 18.5 103.2 21.9 103.4 23.5 102.0 26.4 100.7 29.2 99.3 25.3 97.5 20.8 97.0 16.2 95.9 11.7 94.3 4.9 92.9ZM4.9 87.7L10.5 87.0 12.1 87.9 4.9 88.4ZM268.2 107.3L266.9 108.8 263.2 107.7 259.4 106.8 254.8 105.7 250.7 104.3 247.3 103.2 243.4 102.9 238.9 103.4 237.3 102.3 240.0 100.9 246.9 100.7 249.6 98.4 250.3 96.6 246.9 94.5 242.3 92.5 236.6 91.1 232.1 90.4 226.4 90.0 220.7 90.4 215.5 89.8 213.9 87.0 211.0 84.5 213.9 82.3 220.7 81.8 226.4 82.0 232.1 82.3 237.8 84.3 242.3 85.0 246.9 86.4 251.4 87.7 254.8 89.1 258.9 90.0 261.6 91.6 263.2 93.6 268.4 95.4 271.8 97.3 274.8 97.9 273.0 99.5 270.0 101.8 266.9 102.5 266.2 104.1 268.2 105.4ZM232.1 104.8L228.7 105.4 224.1 105.4 220.5 104.5 218.5 102.3 219.6 100.0 223.0 99.5 226.4 100.7 229.6 102.7 231.4 103.9ZM145.7 84.5L154.8 82.9 162.8 84.8 168.9 83.4 174.1 82.9 177.6 84.8 176.9 87.7 183.2 89.3 185.5 91.1 181.0 93.2 174.1 92.9 168.5 93.4 163.9 93.6 158.2 94.1 153.7 92.0 148.0 90.7 145.7 88.9 146.2 87.0ZM129.8 85.9L131.4 87.7 135.5 88.2 140.1 87.3 143.5 86.4 145.7 84.1 149.2 82.7 148.0 80.9 142.3 80.4 132.1 80.7 129.8 82.5 129.4 85.2ZM194.6 81.8L195.7 84.8 193.5 86.8 190.0 87.0 184.4 84.8 184.4 82.9 187.8 81.8ZM208.7 81.4L202.5 81.1 198.0 83.2 201.4 85.4 206.0 85.9 209.4 83.6ZM233.2 79.1L233.2 80.2 221.9 80.2 215.0 80.4 206.0 79.8 203.2 77.9 206.0 75.4 215.0 75.0 224.1 75.9 229.8 75.9 233.2 77.3ZM212.8 75.9L221.9 76.1 233.2 76.4 236.6 74.5 240.0 72.3 244.6 71.1 251.4 70.0 255.9 67.7 262.8 66.6 269.6 64.3 276.4 62.5 271.8 61.1 260.5 60.7 244.6 60.9 233.2 61.4 219.6 62.7 208.2 64.3 200.3 65.5 195.7 67.7 199.1 70.0 208.2 71.6 215.0 72.3 216.2 74.5 211.6 75.4ZM175.3 77.3L169.6 78.9 160.5 80.2 149.2 80.7 150.3 78.4 156.0 76.4 165.1 75.7 171.9 76.8ZM152.6 76.1L145.7 77.9 140.1 76.8 136.7 75.2 142.3 73.9 148.0 74.8ZM194.6 75.7L191.2 78.6 186.6 77.3 185.5 75.7 190.0 75.0ZM202.5 78.4L196.9 78.2 198.0 76.8 202.5 77.0ZM197.3 93.2L194.6 90.9 190.5 91.6 188.9 92.9 192.3 94.3 196.2 94.1ZM238.9 83.2L233.2 83.2 230.9 81.8 237.8 81.8ZM230.9 106.6L227.5 107.7 225.3 107.5 227.5 106.3 230.3 105.9ZM186.6 71.1L182.1 72.7 175.3 71.8 177.6 70.0 184.4 69.5ZM165.1 72.7L157.1 73.4 156.0 71.6 162.8 71.1ZM236.6 96.4L241.2 96.8 241.6 95.0 237.8 94.5ZM233.7 121.3L235.5 122.3 234.8 122.7ZM232.1 108.4L233.7 109.3 232.8 109.8ZM228.7 128.6L231.2 129.3 229.6 129.8ZM174.6 82.3L178.7 83.6 180.5 82.5 176.9 81.6ZM176.4 77.7L179.8 79.1 181.4 78.2ZM174.1 73.2L176.9 74.1 177.6 73.2ZM187.8 67.5L192.3 68.6 192.8 67.5ZM207.1 73.4L211.6 74.3 212.1 73.4ZM232.1 76.6L235.9 77.3 235.5 76.1ZM236.6 105.2L239.4 105.9 238.7 105.0ZM265.5 109.3L268.0 110.2 267.3 109.1ZM195.7 72.7L200.3 73.9 202.5 72.7 198.0 71.6ZM158.2 71.4L162.8 72.3 165.1 70.7ZM143.5 76.1L148.0 76.8 147.3 75.7ZM280.3 141.3L287.8 141.3 290.0 142.7 293.4 143.4 295.3 141.6 294.1 139.3 293.0 137.7 288.7 136.8 288.2 132.9 285.7 132.9 284.3 134.8 282.1 137.9 280.3 139.5ZM268.4 136.1L274.1 137.3 274.8 137.9 270.7 137.7ZM268.7 143.6L274.1 144.1 272.8 145.0 269.6 144.5ZM134.4 139.5L131.0 138.4 127.6 136.8 124.2 135.2 123.5 134.1 126.4 134.3 130.1 135.7 133.2 137.7ZM117.3 131.6L114.4 129.5 112.6 126.6 115.5 126.6 116.2 129.1ZM115.1 124.1L111.7 123.8 109.4 121.1 106.0 118.2 108.2 117.3 111.7 120.0 113.9 122.3ZM68.5 119.3L65.1 120.9 63.9 119.1 66.7 117.7 69.2 117.9ZM24.6 104.8L28.7 105.9 31.7 105.9 29.9 105.0 26.4 104.3ZM37.4 112.3L39.2 112.9 37.4 113.6 34.6 112.7ZM222.1 199.7L223.5 198.1 226.4 197.2 230.3 196.8 233.2 197.2 237.1 198.6 239.6 200.2 243.0 201.6 246.4 203.4 244.6 204.3 238.9 204.3 239.8 202.9 236.6 200.4 233.7 200.2 229.8 199.1 228.0 198.1 224.1 199.7ZM245.7 207.7L249.6 204.3 253.7 204.3 256.4 205.6 259.6 207.2 256.4 207.7 253.0 209.5 251.4 208.1 247.5 208.4ZM237.1 207.7L240.3 207.7 241.9 208.8 238.9 209.1ZM262.3 207.5L265.9 207.7 265.5 208.6 262.3 208.6ZM274.3 225.0L276.6 225.0 276.4 226.6 274.3 226.6ZM237.3 188.8L240.0 189.1 239.4 190.0 236.6 189.3ZM237.8 192.2L238.7 194.3 237.1 193.6ZM241.2 192.0L242.3 193.6 241.6 194.1ZM242.8 195.9L244.1 197.0 242.5 197.0ZM60.5 203.6L62.8 205.0 61.0 206.6 60.5 204.7ZM58.9 202.0L60.5 202.2 59.6 202.7ZM55.3 200.4L56.7 200.9 55.8 201.1ZM51.9 199.1L53.0 199.3 52.4 199.7ZM274.6 212.5L275.9 212.5 275.3 213.4ZM275.9 215.9L276.8 216.6 276.2 216.8ZM275.3 219.3L276.2 219.7 275.5 220.0ZM22.4 279.9L25.5 280.9 23.5 281.3ZM75.1 289.3L76.2 289.7 75.3 290.2ZM13.3 348.8L14.6 349.0 13.7 349.7ZM35.8 127.0L37.4 127.9 34.2 128.4 32.4 128.6 34.4 127.3ZM31.0 129.3L27.6 130.2 29.9 129.3ZM23.0 130.7L18.5 131.3 19.6 130.7ZM16.2 131.6L11.7 132.3 12.8 131.6ZM10.5 131.6L7.1 132.5 8.3 131.6ZM49.2 123.8L51.0 124.3 49.6 124.5ZM45.8 125.7L44.2 126.1 45.1 125.4ZM402.0 135.7L405.5 135.0 408.2 134.3 411.6 134.3 415.7 134.1 418.2 133.2 417.0 132.3 418.9 130.0 418.0 129.1 415.7 128.2 414.8 126.8 413.6 125.7 411.6 124.1 410.5 122.5 408.2 122.3 409.3 121.3 410.5 119.8 410.9 118.6 408.2 118.4 405.9 118.6 407.7 116.3 403.6 116.3 403.0 118.2 402.0 120.4 402.3 122.3 403.9 123.4 403.4 124.8 405.5 125.0 407.5 124.8 407.0 126.1 408.4 127.5 407.7 128.4 404.5 128.4 405.7 129.5 405.5 130.9 403.4 131.6 405.5 132.3 408.2 132.5 407.0 133.2 405.5 133.2 402.5 135.2ZM401.4 130.9L400.9 128.4 401.4 126.6 402.5 125.4 400.9 123.8 398.4 123.8 395.9 124.5 395.5 126.1 392.3 126.3 392.7 128.2 394.3 128.6 392.5 130.0 391.6 131.6 393.2 132.5 396.4 131.8 399.1 131.1ZM359.3 100.7L365.0 98.6 373.0 99.1 380.9 98.4 384.3 101.4 380.9 103.4 374.1 105.4 367.3 104.5 363.4 104.1 360.5 102.3ZM452.5 75.4L446.8 73.4 440.0 70.4 440.0 68.4 449.1 68.2 453.6 67.7 458.2 66.8 465.0 66.6 476.3 67.3 471.8 69.3 462.7 70.7 468.4 71.6 466.1 73.9 459.3 73.4 454.8 75.0ZM533.2 87.0L535.4 88.9 544.5 89.1 541.8 85.0 543.4 83.2 547.9 80.2 553.6 77.9 560.4 76.8 570.6 74.8 565.0 74.5 555.9 75.4 549.1 77.3 542.2 80.7 537.7 82.9 534.3 85.4ZM525.2 91.6L526.8 92.9 528.6 92.3 526.8 91.6ZM622.9 68.9L630.9 70.4 642.2 71.1 651.3 70.0 644.5 67.0 635.4 65.0 626.3 65.9ZM726.3 79.5L735.4 81.8 746.7 79.1 751.3 78.4 737.7 77.3 730.8 76.8ZM820.6 87.0L825.1 87.7 825.1 88.4 821.7 88.4ZM521.8 67.0L533.2 67.5 546.8 67.3 555.9 66.4 551.3 64.3 540.0 63.6 528.6 65.5 519.5 65.9ZM737.7 145.0L737.2 140.4 737.9 135.9 737.7 131.3 738.3 127.9 739.2 125.9 740.6 128.8 740.4 132.5 741.5 137.5 743.6 138.4 740.4 139.3 739.0 141.3 741.1 144.3 738.8 143.8ZM733.1 155.2L735.4 154.5 736.5 152.7 740.6 154.1 745.6 151.1 743.3 149.7 739.9 148.8 737.4 146.3 736.7 149.5 735.8 151.3 733.8 151.1 733.1 153.4ZM736.5 155.7L737.7 159.7 736.5 162.5 735.4 165.4 734.9 168.4 733.1 170.0 731.3 169.5 729.7 170.9 726.3 170.9 725.8 171.6 724.0 173.4 722.2 172.7 722.4 170.7 719.5 170.9 717.2 171.3 714.9 172.5 712.7 172.2 712.9 170.7 716.1 168.8 719.5 168.6 722.9 168.6 725.2 166.8 726.3 165.0 729.7 164.3 732.0 162.7 733.1 159.7 733.1 157.5 734.2 156.1ZM710.4 172.5L712.7 172.5 714.9 174.5 714.0 178.2 712.7 179.1 710.8 178.4 710.8 175.4 709.5 173.8ZM716.3 172.7L719.5 171.6 721.1 172.2 719.5 173.8 717.2 175.0 716.1 173.8ZM689.9 192.2L692.2 192.7 691.1 197.2 689.5 199.5 688.1 197.2 688.3 194.3ZM662.0 205.9L663.4 204.1 666.1 203.8 667.2 205.0 665.4 207.5 663.1 207.9 661.8 207.2ZM596.6 227.5L597.5 227.2 599.7 230.2 601.1 232.9 600.4 235.0 598.1 236.1 596.8 234.7 596.3 231.3ZM488.4 170.0L490.0 169.1 493.6 168.4 492.3 170.0 490.0 170.9ZM468.4 169.3L470.7 168.8 474.8 169.3 474.1 170.0 470.7 170.0 468.6 169.5ZM443.2 162.9L445.7 162.7 450.4 162.5 449.3 164.7 449.3 166.1 446.8 165.2 443.4 164.1ZM433.6 156.3L436.1 155.9 437.3 157.5 436.8 160.4 434.3 161.1 434.1 158.6ZM434.5 152.0L436.4 151.8 436.6 153.6 435.9 155.4 434.5 154.5ZM420.2 159.5L422.0 158.8 422.7 159.5 421.4 160.2ZM440.0 122.9L442.7 122.0 443.6 123.2 442.3 124.5 440.4 124.1ZM437.3 123.8L439.1 123.4 439.5 124.5 437.7 124.5ZM456.1 119.3L458.2 117.9 457.7 119.5 456.6 120.2ZM464.5 117.0L467.7 116.3 467.3 117.5 465.0 117.7ZM467.3 161.6L470.0 161.6 470.7 162.9 468.4 162.2ZM398.6 107.9L399.8 107.9 399.5 109.1ZM412.0 112.0L412.7 112.7 412.0 113.4 411.6 112.5ZM407.5 115.0L408.6 115.2 408.2 115.9ZM400.7 116.6L399.3 117.3 398.2 119.3 400.0 118.2ZM746.7 150.0L753.1 146.3 751.7 146.1 747.9 148.8ZM755.8 145.0L759.2 142.9 758.1 142.7ZM761.5 141.6L764.9 138.6 764.0 138.4ZM768.3 135.9L770.1 134.5 769.5 134.1ZM791.5 123.8L793.6 125.2 792.9 124.1ZM807.0 129.1L809.2 129.5 807.6 130.0ZM817.6 131.3L820.6 132.0 819.5 131.3ZM821.7 132.5L825.1 131.8 825.1 132.7ZM527.0 276.8L529.5 284.7 527.5 289.3 525.2 296.1 522.2 306.1 517.7 307.4 514.3 302.9 513.4 298.4 515.9 293.8 515.0 288.1 519.5 285.4 522.9 282.4 525.2 279.7ZM434.3 240.9L435.2 241.1 434.8 242.2ZM376.6 184.7L378.4 184.5 377.3 185.9ZM379.1 185.4L380.0 186.1 379.6 186.6ZM382.5 184.5L383.6 184.3 383.2 185.7ZM571.8 360.4L574.7 361.1 573.1 362.4ZM349.6 161.8L351.4 162.2 350.2 162.5ZM356.4 163.4L357.7 163.6 356.8 163.8ZM536.1 220.9L538.8 220.9 537.7 221.6ZM545.4 294.9L546.3 295.6 545.7 296.1ZM540.7 297.0L541.8 297.7 540.9 297.9ZM689.0 207.5L692.7 207.5 693.1 210.9 691.3 213.6 692.7 217.2 696.8 218.1 697.2 220.9 695.2 220.0 691.8 218.1 689.0 217.0 689.0 213.1 688.3 212.5ZM692.2 233.6L695.6 231.8 697.2 230.6 700.2 227.7 702.7 232.9 701.3 235.4 699.9 236.8 696.8 235.2 694.9 232.5ZM692.2 222.7L694.5 225.6 696.8 223.1 700.2 224.1 699.0 226.8 695.6 227.9 693.3 227.7 692.0 225.6ZM697.4 221.1L700.6 221.8 700.2 224.3 698.6 224.1ZM681.3 230.4L686.5 224.7 686.8 225.6 682.2 230.9ZM688.3 218.8L691.1 219.5 690.4 221.8 688.6 220.9ZM662.7 246.1L664.0 245.0 667.2 245.4 671.8 242.2 675.2 239.0 677.4 237.7 679.7 234.5 682.0 234.7 685.8 237.7 683.1 239.5 682.4 242.0 683.1 244.5 685.2 247.2 682.4 247.9 682.0 250.6 680.4 252.9 679.7 255.2 678.6 257.7 675.4 258.6 671.8 257.0 669.0 257.5 665.4 256.1 665.2 253.4 663.4 251.3 662.4 248.4ZM631.5 236.8L636.5 237.7 638.4 240.0 641.5 242.2 644.0 245.0 646.8 245.9 650.2 248.4 651.8 251.8 655.9 256.1 655.6 260.4 654.3 262.7 652.4 262.9 649.7 260.4 647.4 258.4 644.5 255.0 642.9 251.8 640.4 248.4 639.0 245.6 636.5 243.4 634.0 240.9 631.3 238.1ZM654.0 265.0L655.9 262.9 660.4 263.8 666.1 264.5 670.6 265.2 675.2 267.0 674.9 269.3 669.5 268.4 664.9 267.7 660.4 267.2 657.0 266.3ZM675.4 267.9L677.9 268.6 679.9 268.1 679.5 269.7 676.8 269.5ZM680.4 268.4L683.8 268.4 685.6 268.8 684.3 269.5 680.9 269.9ZM687.2 268.8L689.9 268.6 694.3 267.9 694.0 269.3 688.8 269.5ZM685.4 271.3L688.3 271.1 689.5 272.7 686.8 272.0ZM696.8 270.6L699.7 268.6 703.6 268.4 699.0 271.1 695.8 272.9ZM686.5 262.0L686.3 257.5 684.9 255.9 687.2 249.5 688.3 248.4 689.9 246.5 694.9 247.2 697.9 246.3 699.3 245.9 696.8 248.6 691.8 248.5 689.5 249.3 691.1 251.5 695.4 251.3 694.0 253.1 690.8 254.0 692.9 257.5 694.7 259.7 694.0 262.2 691.5 260.4 691.1 258.4 689.5 255.4 688.6 257.5 688.6 262.0ZM704.7 245.4L706.3 244.5 705.8 247.2 707.4 248.1 705.8 248.8 707.7 251.1 705.4 250.2 704.9 247.7ZM705.8 256.8L710.4 256.1 712.2 257.7 708.1 257.5ZM701.3 256.8L704.0 257.0 703.1 258.1 701.5 257.7ZM712.7 252.7L716.1 250.4 719.5 251.5 721.8 257.0 727.4 252.9 733.1 255.0 736.5 255.6 743.3 258.1 746.3 261.3 748.3 265.0 750.2 267.7 752.4 270.2 756.3 273.6 754.2 273.1 749.7 272.2 747.2 269.0 742.9 266.8 740.6 268.8 739.0 270.6 735.4 270.2 731.3 267.9 729.5 268.4 727.9 261.8 724.0 260.0 720.2 258.6 717.9 258.4 716.5 258.6 718.3 256.5 714.9 255.9ZM752.0 262.0L755.8 261.3 759.2 259.3 760.8 259.5 759.2 262.0 755.8 263.6 753.1 263.4ZM757.0 255.4L761.5 257.5 763.1 260.4 761.7 259.3 758.1 256.1ZM766.3 261.8L768.3 263.1 769.2 265.0 767.9 264.5ZM771.7 267.2L778.1 271.8 776.3 271.1ZM778.1 270.6L780.8 271.8 779.7 272.0ZM779.7 268.4L781.3 270.6 780.4 270.9ZM787.6 295.4L791.1 297.2 794.5 299.9 793.3 300.2 788.8 297.2ZM793.6 283.6L794.9 284.7 794.5 285.2ZM817.9 289.3L820.6 289.0 819.9 290.9 818.1 290.6ZM821.3 286.5L824.5 286.5 822.9 287.7ZM672.9 300.6L674.0 299.0 680.2 296.3 685.4 294.9 689.9 293.8 692.9 290.4 695.6 288.8 696.8 286.5 699.7 282.7 702.7 281.1 705.4 282.2 707.0 283.1 709.5 283.4 710.8 279.0 712.7 277.2 716.3 277.0 718.3 276.3 722.0 277.2 725.2 276.5 726.1 277.7 723.8 279.7 722.9 283.4 726.5 285.6 731.5 289.0 734.9 289.3 736.5 284.7 736.7 279.0 738.1 274.3 739.5 275.6 741.1 280.9 743.6 282.0 745.4 283.6 745.6 287.0 747.4 292.4 752.9 295.4 755.2 300.4 757.9 301.8 762.4 307.4 764.0 314.3 762.6 319.9 761.5 323.6 758.6 326.8 756.3 330.6 755.6 334.7 751.3 335.4 747.4 338.3 744.5 335.6 742.2 336.8 736.5 336.8 733.1 334.9 731.5 331.1 729.5 330.4 729.7 328.6 728.8 325.6 728.1 323.6 727.2 327.4 724.7 327.9 723.1 328.6 722.2 326.3 719.9 323.8 714.9 322.2 711.5 321.3 704.7 322.7 701.3 322.9 696.8 324.7 692.2 326.8 687.7 326.5 683.1 329.0 679.7 329.0 676.3 327.4 677.9 325.2 677.9 321.3 676.3 317.7 676.1 314.3 674.0 310.8 672.9 309.0 673.1 305.2ZM725.4 330.6L728.6 330.6 727.4 331.3 725.4 331.3ZM710.4 275.4L713.8 274.9 713.3 276.3 710.8 276.3ZM743.6 342.0L747.9 342.9 752.0 342.4 752.0 345.4 751.1 347.7 748.8 348.6 746.7 348.3 744.9 345.4ZM807.4 327.7L811.0 329.7 813.1 332.9 814.7 334.7 817.9 335.6 820.6 335.2 819.5 338.1 817.2 338.8 816.5 340.8 813.3 344.0 811.7 343.3 813.1 341.1 810.4 339.3 811.5 337.7 812.0 334.7 811.0 332.4 808.3 329.7ZM807.4 341.5L810.8 343.3 810.1 345.4 807.4 348.1 804.0 350.2 802.6 353.8 799.7 355.4 795.8 354.7 793.3 353.1 795.6 350.6 800.1 348.3 804.0 344.9 806.0 342.2ZM795.8 355.8L797.2 356.1 796.3 356.7ZM625.6 219.1L626.3 221.1 625.6 223.4 625.2 221.6ZM275.7 366.1L279.8 366.1 283.7 366.7 282.1 368.1 277.5 367.9ZM328.7 372.2L333.2 372.7 332.1 373.3ZM246.9 344.5L248.0 344.5 248.0 347.9 246.2 347.7ZM207.1 250.0L208.7 250.2 207.8 251.8Z" fill="none" stroke="#000" stroke-width="2.1" stroke-linejoin="round"/>
</g>
<g transform="translate(0,447)"><g>
<clipPath id="clip1"><path d="M33.3 100.4L37.8 98.9 42.8 99.3 47.4 98.2 43.0 95.9 36.7 94.1 43.5 91.6 48.0 89.8 56.0 88.6 59.4 87.5 65.1 88.4 69.6 88.6 74.2 89.3 78.7 89.8 85.5 90.2 94.6 91.1 101.4 92.0 106.0 92.9 109.4 91.6 115.1 91.4 120.7 90.4 125.3 89.8 129.8 91.6 133.2 91.8 137.8 90.9 142.3 92.7 149.2 92.9 153.7 94.3 158.2 93.9 165.1 95.0 169.6 94.3 174.1 93.2 178.7 95.0 184.4 95.4 192.3 95.4 195.7 94.5 198.0 91.6 200.3 86.4 202.5 89.3 204.8 91.4 209.4 93.9 213.9 92.9 218.5 95.0 220.7 90.9 226.4 90.4 229.8 92.3 229.8 95.0 226.4 97.3 220.7 98.4 217.3 98.6 219.6 101.8 216.2 103.6 210.5 104.1 206.0 106.8 201.4 110.2 199.6 114.3 201.0 116.1 204.8 119.3 210.5 120.0 215.0 121.3 220.7 123.8 228.0 124.3 228.0 127.9 229.8 130.2 232.1 132.9 235.0 132.5 235.9 130.2 235.5 126.3 239.6 122.9 240.9 120.0 239.4 116.6 237.8 113.2 238.9 109.8 237.8 107.7 243.4 107.9 248.0 108.2 252.5 110.4 255.9 111.8 257.1 114.3 256.9 116.3 260.5 116.8 262.8 117.0 266.2 114.8 268.4 112.5 271.2 116.6 274.1 119.5 275.3 121.6 278.7 123.6 283.2 126.3 285.5 127.5 288.2 130.2 288.4 132.3 284.3 132.7 278.7 135.4 270.7 135.4 263.9 135.4 259.4 137.7 256.4 140.0 253.2 143.2 255.9 141.6 260.5 139.1 267.3 137.7 268.9 138.6 266.2 140.4 267.8 142.7 268.4 144.5 271.8 145.4 275.3 145.4 278.0 144.5 278.7 145.2 276.4 146.8 270.7 148.2 266.2 150.7 264.6 148.8 268.4 146.6 265.0 146.8 262.5 147.7 259.4 148.8 255.9 150.2 254.4 151.8 254.6 153.4 255.9 154.5 254.8 155.0 252.5 155.4 249.1 155.9 246.9 157.2 246.6 159.1 244.8 161.1 244.1 162.5 243.2 164.3 242.3 165.7 243.0 168.2 243.4 169.5 241.2 170.7 238.9 171.6 236.6 172.7 235.0 174.1 233.2 175.4 230.9 177.0 230.0 180.2 230.5 182.5 231.9 185.2 233.0 188.6 232.5 191.8 230.7 192.2 229.4 190.6 228.2 188.8 227.1 186.6 226.9 184.1 224.8 181.6 223.0 181.3 221.0 182.0 218.5 180.4 215.0 180.2 212.1 180.7 212.3 182.9 209.4 183.4 206.4 182.2 202.5 181.8 199.6 182.7 196.9 184.5 194.1 186.8 193.7 189.3 193.9 192.2 193.0 195.0 192.8 198.4 193.7 201.1 195.7 204.5 197.3 206.8 200.3 208.1 203.2 207.5 206.0 207.0 207.5 207.2 208.9 205.2 209.6 202.2 211.6 201.1 215.0 200.4 217.5 200.9 216.4 203.4 215.5 206.3 214.6 209.7 213.9 212.7 215.0 213.6 218.5 213.6 221.9 213.4 225.5 215.0 225.5 217.7 225.0 221.1 224.6 224.5 226.4 226.8 228.7 228.8 232.1 228.8 234.4 227.7 236.6 228.1 239.1 230.0 238.0 232.9 236.9 230.9 234.4 229.3 233.0 230.6 232.1 232.9 230.5 232.0 229.4 230.9 226.6 231.1 224.8 230.0 222.3 227.7 220.3 226.3 220.3 224.3 218.2 221.8 216.0 220.0 213.2 219.5 209.4 217.9 206.4 217.0 203.7 214.5 200.3 212.7 198.0 213.6 195.7 213.8 192.3 212.7 188.2 211.3 184.4 209.3 179.8 207.9 177.6 205.9 175.3 203.4 175.7 200.4 174.8 198.4 173.0 196.6 170.5 193.8 168.2 191.8 166.4 189.7 163.9 187.2 162.1 185.2 160.1 182.9 158.2 180.2 154.4 177.2 154.6 180.7 157.1 183.6 158.7 185.9 160.3 187.9 161.6 190.4 163.2 193.1 164.8 195.0 166.4 196.8 165.1 197.5 164.4 196.1 161.6 193.8 160.3 193.1 158.7 189.5 155.1 187.7 155.3 185.2 153.0 182.5 150.7 179.5 149.8 177.2 148.7 175.4 147.8 173.6 146.0 172.5 143.9 171.6 141.0 171.1 140.3 168.8 138.0 166.3 136.9 165.0 136.7 163.6 135.5 162.7 133.7 160.4 132.3 157.7 133.0 154.5 132.1 152.2 133.0 149.1 133.2 145.9 133.2 144.3 132.1 141.6 131.7 139.5 135.1 140.0 136.0 139.3 135.3 137.9 133.7 136.6 131.4 135.4 128.7 134.1 126.0 133.2 124.6 130.9 122.8 129.1 120.1 127.0 118.9 125.0 117.6 123.4 115.7 121.8 113.9 120.0 111.7 117.7 108.2 115.4 104.6 117.0 101.4 115.7 98.0 113.8 94.6 113.2 90.1 112.9 85.5 112.3 82.1 111.1 78.7 111.6 77.6 113.2 74.2 114.3 70.1 115.0 71.0 112.0 73.5 110.4 70.1 111.3 68.3 112.9 66.2 114.8 64.6 116.6 61.0 118.4 58.3 120.0 55.1 121.8 51.9 122.9 48.5 123.8 45.5 124.8 41.2 125.9 44.6 123.6 49.2 122.3 52.6 120.4 55.3 118.6 57.1 117.0 54.9 116.1 51.4 116.1 47.8 116.3 46.9 114.3 42.8 113.4 40.8 112.0 39.4 110.4 37.8 109.5 38.9 107.9 41.2 105.9 45.1 105.2 49.2 104.1 49.6 102.5 45.8 102.9 42.4 102.7 37.4 102.7 36.4 101.1ZM239.1 230.0L242.3 228.1 243.2 225.9 245.0 224.5 248.0 223.8 250.9 222.5 253.0 221.6 252.3 223.1 252.3 225.0 255.5 223.4 256.4 222.0 257.1 223.4 259.8 225.0 262.8 225.4 266.2 226.6 269.1 225.4 273.0 225.2 274.3 226.3 275.3 227.5 276.8 230.0 279.1 230.6 282.1 232.9 284.3 235.4 287.8 236.1 291.2 236.1 294.6 237.0 296.8 239.0 298.0 240.0 299.1 241.5 300.5 245.4 301.4 247.9 300.3 249.5 302.5 250.4 304.8 251.3 307.1 251.1 310.5 251.8 313.9 254.5 316.4 255.2 320.7 256.1 324.1 255.9 327.5 257.9 330.5 260.4 333.7 261.3 335.2 264.3 335.9 266.5 335.2 269.9 333.4 272.2 330.7 275.2 328.2 278.8 326.6 280.9 326.4 284.7 325.9 289.3 324.8 293.1 323.4 296.1 321.8 299.3 319.6 301.5 316.2 301.8 313.4 302.7 309.3 304.3 306.4 306.3 304.6 309.3 304.6 313.1 302.5 315.4 300.5 319.0 298.4 321.8 295.7 324.5 293.4 326.8 291.2 328.3 287.8 328.8 284.3 327.7 282.1 327.9 285.0 330.2 285.9 332.2 284.3 335.4 281.4 337.2 276.4 338.1 273.7 337.7 273.4 341.8 270.7 342.9 267.3 342.4 267.1 345.2 269.1 346.1 270.5 346.8 268.4 347.2 266.6 349.5 266.2 351.8 261.6 354.5 262.3 355.8 264.6 357.4 261.6 360.2 259.6 363.6 258.0 364.9 258.0 367.2 259.6 368.3 259.8 370.4 261.6 372.2 263.9 374.0 260.5 374.5 257.1 374.9 253.7 374.0 251.4 372.7 248.0 369.9 245.7 367.2 243.9 363.1 243.4 359.7 245.5 357.4 243.4 355.2 245.7 352.4 247.3 349.5 247.3 346.1 247.5 343.8 247.8 341.1 248.2 338.6 248.0 335.4 249.8 331.8 250.9 329.0 251.9 325.6 252.5 322.2 252.8 318.8 253.0 315.4 253.9 311.5 254.8 307.4 255.0 302.9 255.7 298.4 255.5 293.8 255.3 291.1 253.0 289.5 250.3 287.7 246.9 285.6 243.4 283.1 241.6 280.2 240.5 277.2 238.9 274.5 237.1 271.3 235.5 268.4 233.4 265.4 230.7 263.1 230.5 260.4 232.5 257.5 233.4 255.4 231.4 253.8 232.3 250.9 233.2 247.7 235.5 246.3 236.2 245.2 238.4 243.4 239.1 240.9 239.1 237.0 238.9 234.5 238.0 232.9ZM316.2 113.6L318.9 111.8 321.2 107.5 323.4 103.4 328.7 100.4 334.3 99.5 338.9 96.1 344.6 94.5 351.4 93.9 358.2 92.3 362.7 89.8 365.0 87.0 365.0 84.1 368.4 82.5 369.6 80.2 371.8 77.9 373.0 75.7 369.6 73.4 372.3 70.4 375.2 67.7 384.3 64.8 386.6 63.2 376.4 62.5 367.3 61.6 355.9 60.5 342.3 59.5 328.7 59.8 319.6 60.5 308.2 61.6 296.8 62.5 285.5 63.0 276.4 63.4 271.8 65.0 267.3 66.1 262.8 67.3 255.9 69.3 250.3 71.1 252.5 72.7 257.1 73.9 262.8 75.9 271.8 76.6 280.9 76.8 284.3 78.2 287.8 80.2 288.9 83.2 290.0 85.4 291.2 88.2 296.8 89.3 298.0 91.6 294.6 93.4 293.4 96.1 293.4 98.9 295.7 101.1 297.3 103.6 300.0 106.3 301.8 108.6 304.8 110.9 309.3 111.8 312.8 112.9ZM401.6 168.2L399.5 172.0 395.7 173.8 393.9 175.7 392.7 178.4 393.0 180.9 391.6 183.2 388.9 185.4 385.5 186.6 382.7 189.5 381.4 192.2 379.3 195.0 378.2 196.8 377.3 199.1 376.1 202.0 378.0 205.0 378.4 208.1 377.5 211.3 376.4 215.0 375.2 216.1 376.8 218.6 377.1 221.3 379.8 223.4 381.6 225.4 384.3 227.7 385.2 230.9 387.7 232.9 390.0 234.5 393.4 237.2 397.7 239.5 401.4 238.4 405.9 237.7 410.5 238.6 413.9 237.0 417.3 235.9 421.1 235.2 425.2 235.2 427.7 237.5 429.1 239.7 432.0 239.5 434.3 239.0 436.4 240.9 437.3 244.0 436.6 247.2 436.1 250.2 435.0 251.3 436.6 254.7 440.0 257.9 442.3 260.6 442.9 263.1 444.5 267.2 445.2 269.5 444.8 274.0 445.9 277.9 443.4 280.9 442.7 283.6 441.8 287.7 441.8 289.5 444.1 293.1 445.7 296.8 447.7 300.6 447.9 304.0 449.1 309.7 450.0 312.0 452.5 314.5 454.1 317.4 455.7 321.1 456.6 323.3 456.8 326.5 457.7 327.4 460.4 328.6 463.9 327.7 467.3 326.8 472.9 326.8 475.2 326.1 477.5 324.9 479.8 323.1 482.0 320.6 484.3 318.1 486.1 315.8 488.4 313.6 489.3 310.4 489.5 308.4 491.8 306.8 494.5 305.4 495.7 303.1 495.4 299.5 494.8 297.2 493.8 294.5 496.8 292.4 500.2 289.7 504.8 287.0 507.5 283.6 507.0 277.9 506.6 273.4 504.5 268.8 504.3 265.4 503.2 263.8 504.1 260.9 505.4 257.9 506.6 255.4 509.3 253.4 511.6 250.6 513.8 247.7 517.2 245.2 520.7 242.7 523.6 239.3 525.7 236.5 527.5 232.5 529.3 229.0 530.4 225.6 531.6 222.7 528.6 223.4 525.2 224.1 521.8 224.7 518.4 225.4 515.0 225.9 513.4 223.8 512.3 221.6 513.4 220.9 511.6 218.8 509.3 217.0 505.9 214.3 504.1 212.0 502.7 208.6 500.0 206.6 499.5 202.9 499.3 200.6 498.6 199.1 496.1 195.9 495.7 194.5 493.6 190.9 492.3 188.2 491.1 186.8 489.1 181.6 491.3 185.4 492.7 186.3 493.4 184.5 494.3 182.5 494.5 185.7 496.1 187.5 497.9 190.4 499.8 193.1 501.8 195.4 503.6 199.1 504.1 201.1 505.9 204.1 508.2 207.2 510.0 210.2 511.8 213.1 512.3 215.4 512.7 217.7 513.4 220.4 514.1 220.6 516.1 220.6 518.4 220.0 521.8 218.6 525.7 217.7 528.6 215.9 532.0 214.7 533.8 213.1 536.6 211.6 540.4 210.0 543.2 208.8 544.3 207.0 546.3 206.3 546.3 203.4 547.9 202.9 549.7 201.1 550.9 198.4 548.6 196.1 546.1 195.4 543.4 193.8 542.9 191.3 543.2 189.7 542.5 190.0 541.1 191.6 539.1 193.8 536.6 194.7 534.1 194.5 532.2 194.5 531.6 193.6 532.2 191.8 531.8 190.2 530.9 190.6 530.4 192.9 529.3 191.3 528.6 189.7 527.5 187.9 525.9 186.3 525.0 184.7 524.1 182.7 525.2 181.6 526.8 180.9 528.8 180.9 530.0 182.5 531.3 184.5 532.2 186.1 534.3 187.0 537.0 188.6 539.3 189.3 541.6 188.4 542.9 187.7 544.5 189.1 545.2 190.9 548.6 191.6 552.5 192.0 555.0 192.2 557.2 192.0 560.9 192.0 563.8 192.0 566.3 191.6 567.5 193.1 568.4 195.0 570.4 195.9 571.8 198.1 574.5 197.5 571.8 198.8 573.4 200.6 575.9 202.2 578.6 201.1 580.0 199.7 580.4 202.2 580.6 206.3 581.8 211.3 582.9 214.3 584.5 218.1 586.1 222.7 588.1 226.8 590.6 230.9 592.7 229.3 594.5 228.4 596.3 226.1 596.6 222.2 597.5 218.8 597.2 215.0 599.5 212.7 602.0 211.3 604.7 209.1 608.1 205.9 611.5 204.1 612.7 200.9 615.6 200.2 618.4 199.7 620.6 198.8 623.6 198.6 624.5 201.3 625.4 202.9 627.2 205.2 629.0 207.9 629.7 212.0 631.5 213.6 634.3 211.3 636.5 212.0 637.2 215.9 638.8 220.0 639.0 224.5 638.4 228.4 638.4 231.3 639.9 232.2 642.7 234.7 643.1 237.7 644.5 240.6 646.3 243.4 648.6 245.2 650.2 246.5 652.0 246.1 650.2 241.5 649.9 238.8 647.7 235.6 645.2 233.8 643.1 232.7 642.2 230.2 640.4 227.2 640.6 224.5 641.8 221.6 642.4 219.1 644.3 218.8 644.3 220.9 647.2 221.8 648.6 223.4 650.2 225.6 652.4 225.9 653.1 229.0 654.0 229.7 656.5 227.9 657.7 226.1 659.9 225.0 662.7 223.4 663.4 220.4 663.1 216.6 662.0 214.3 658.8 211.3 657.0 209.1 655.4 206.6 656.8 203.4 659.3 200.9 661.5 200.2 664.0 200.2 664.7 203.4 666.1 203.1 666.1 201.1 669.0 200.2 672.2 199.3 674.7 198.6 678.1 197.7 681.5 195.6 684.5 193.6 686.5 191.3 687.2 189.1 688.8 187.0 691.1 184.7 692.0 182.0 690.4 180.4 692.0 179.1 690.8 177.2 689.5 175.4 688.3 171.6 685.8 170.0 687.9 167.7 689.5 166.6 693.3 165.7 691.1 164.3 688.3 164.1 685.4 165.0 683.8 163.2 682.4 161.3 684.3 160.4 687.2 158.6 689.9 156.8 692.7 157.7 690.8 160.4 692.4 160.2 695.6 159.1 697.9 159.1 699.9 160.4 699.0 162.7 701.8 163.8 702.7 166.6 702.2 170.9 704.7 170.9 707.2 170.0 709.0 168.6 709.0 165.9 706.8 162.2 704.5 160.2 706.5 158.6 709.7 156.6 709.9 154.3 712.0 153.2 714.5 151.3 717.7 152.2 722.9 149.7 728.1 145.4 730.8 141.8 734.0 139.3 734.2 135.4 736.3 130.9 734.7 128.4 730.8 126.3 727.0 127.0 725.6 125.4 727.7 122.0 732.4 118.8 736.7 115.7 741.1 114.5 746.1 114.5 752.4 114.8 758.8 115.7 761.5 115.2 766.1 114.8 767.9 112.7 771.1 110.0 776.3 108.8 779.2 109.1 786.5 107.9 784.5 110.9 782.2 112.5 779.7 114.3 775.4 117.7 771.7 118.6 770.4 121.3 769.0 124.5 768.6 127.9 770.1 131.6 771.1 133.6 772.9 132.5 775.1 129.3 778.6 127.3 779.2 125.0 783.1 122.3 784.9 120.9 785.8 118.2 783.3 117.5 786.1 115.0 789.5 113.4 792.6 112.3 795.6 112.7 800.1 112.0 803.5 111.1 808.1 109.8 811.5 108.8 816.0 107.3 820.6 105.9 822.2 103.2 825.1 101.8 825.1 92.9 819.5 91.8 813.8 90.9 805.8 90.7 800.1 90.9 797.9 91.4 792.2 91.4 785.4 91.1 780.8 91.4 778.6 89.8 774.0 88.4 767.2 88.2 760.4 88.4 757.0 87.5 751.3 85.4 744.5 85.2 737.7 84.3 733.1 84.8 728.6 86.8 722.9 86.8 717.2 87.3 713.8 88.4 710.4 88.2 709.3 85.2 707.0 83.2 702.4 82.5 696.8 82.0 692.2 83.6 686.5 83.4 679.7 82.0 672.9 82.0 670.6 80.2 664.9 80.9 660.4 82.7 657.0 82.9 659.3 80.2 667.2 77.9 672.9 77.3 671.8 75.4 662.7 75.0 654.7 73.2 652.0 72.9 644.5 75.4 635.4 76.8 626.3 77.3 617.2 77.9 611.5 80.2 611.5 82.3 605.9 82.0 598.4 82.3 598.4 85.0 602.5 86.8 604.0 89.3 601.3 90.0 597.9 85.9 593.4 85.0 587.7 85.2 584.3 84.1 582.0 87.5 585.0 89.3 584.3 92.3 588.8 93.6 585.0 95.4 580.4 97.7 579.7 93.9 580.4 90.4 580.0 87.0 579.7 84.1 575.2 83.2 571.8 84.1 568.4 86.4 566.8 89.3 570.2 92.0 570.6 93.9 566.8 92.0 561.6 91.8 553.2 90.7 551.8 92.9 546.8 92.9 540.0 94.3 536.6 94.1 535.4 93.2 526.3 95.4 519.5 95.7 515.7 93.9 513.8 96.1 515.4 98.6 513.4 98.6 509.3 99.1 506.3 101.1 506.6 102.7 501.3 102.7 499.1 104.3 495.7 103.2 494.1 101.8 493.6 99.1 490.0 98.4 488.8 97.0 493.4 98.2 497.9 98.9 503.6 99.3 508.6 97.5 507.7 95.7 502.5 94.3 496.8 92.5 490.0 91.6 485.0 90.9 480.9 90.2 476.3 88.2 473.4 87.9 468.4 88.9 463.9 90.0 459.3 90.4 453.6 92.5 450.2 94.1 447.9 96.1 444.5 99.1 442.9 100.7 440.0 102.7 436.6 105.0 432.0 106.3 428.2 107.7 426.4 109.8 426.4 112.5 427.5 115.0 427.7 116.1 430.0 117.5 433.2 117.5 436.6 115.7 438.9 114.3 440.0 115.2 441.6 117.0 443.2 119.8 444.1 122.3 444.3 123.6 447.5 123.4 447.7 122.3 451.4 121.8 452.5 120.0 452.7 117.0 455.7 115.0 457.5 113.2 454.3 111.6 454.3 108.6 457.0 106.8 461.6 104.8 463.9 102.9 465.7 100.4 470.0 100.0 472.5 101.4 470.9 102.5 466.8 104.8 463.4 106.3 463.6 109.1 464.1 111.3 466.1 112.9 470.7 112.9 475.2 112.3 479.8 111.8 483.6 113.2 479.8 113.6 476.3 114.3 470.7 114.5 468.4 115.2 468.4 117.0 470.4 117.0 470.0 119.5 467.7 120.0 464.3 118.8 462.7 120.4 462.9 122.9 463.2 124.1 460.4 124.8 459.5 125.9 457.0 125.2 454.8 125.0 451.4 126.1 447.5 127.0 445.0 125.9 442.3 126.3 439.8 126.8 439.5 125.4 437.7 124.5 437.3 122.7 439.1 121.1 439.1 118.4 436.6 119.8 434.5 119.8 433.4 121.1 433.6 123.4 434.8 124.8 435.2 126.8 433.4 127.7 430.9 128.2 428.2 128.2 425.9 129.3 424.8 131.3 423.0 132.7 420.7 133.4 418.6 133.8 418.4 135.4 415.5 136.6 412.5 137.5 412.0 136.8 410.7 136.6 411.4 138.6 408.2 138.6 404.3 139.5 405.2 140.9 408.2 141.6 410.0 142.5 411.6 144.3 412.3 146.1 412.3 148.4 411.6 150.7 408.2 150.9 403.6 150.7 400.2 150.4 396.8 150.2 393.9 151.6 394.8 154.1 395.2 156.3 394.6 159.1 393.4 161.3 395.0 162.2 395.0 165.0 394.6 165.4 398.0 165.2 400.7 166.1 402.3 167.7 404.8 166.3 409.8 165.9 411.6 164.3 413.6 162.5 415.5 161.3 414.3 159.7 416.1 157.2 417.7 156.1 422.3 154.1 422.0 151.8 424.1 150.7 427.5 151.3 430.9 150.7 434.3 149.1 437.3 149.3 438.9 151.8 441.1 153.2 443.4 155.2 446.4 156.1 449.1 158.2 450.7 158.8 451.8 161.3 450.7 163.2 451.6 163.4 453.9 161.1 452.7 159.5 454.3 157.7 457.0 158.4 456.1 157.2 453.6 156.1 451.4 154.3 448.6 153.6 445.9 150.4 442.9 148.2 442.9 146.3 446.1 145.9 446.4 147.5 447.9 146.8 449.8 149.1 452.3 150.7 455.0 151.8 457.3 153.2 459.3 154.5 459.1 157.7 460.9 159.7 462.7 162.2 464.1 164.5 464.5 165.9 466.1 166.8 467.7 166.8 467.5 164.7 468.4 163.2 469.8 163.8 468.4 162.2 467.3 160.2 466.4 157.9 469.1 157.2 470.7 156.6 474.1 156.8 474.8 158.2 475.7 160.4 476.8 162.2 477.0 164.3 478.6 165.9 482.0 167.2 484.5 165.9 487.7 166.6 491.1 167.2 493.8 165.9 496.8 165.9 497.3 166.6 496.3 168.2 496.6 170.0 495.9 172.2 494.5 174.5 493.4 177.7 491.1 178.8 488.4 178.6 485.4 177.7 483.2 178.4 480.9 179.3 477.5 178.6 472.3 177.7 468.4 176.6 466.1 175.0 462.9 175.0 460.7 176.3 460.4 179.1 458.6 180.7 455.9 179.5 451.4 178.4 449.8 176.1 445.2 174.7 441.1 174.1 439.5 172.7 437.9 171.6 440.0 168.8 438.9 167.2 440.2 165.4 438.2 165.0 437.0 164.7 434.3 165.7 432.0 165.4 428.6 165.7 425.2 165.7 421.8 165.9 418.4 166.6 415.0 167.9 412.0 169.3 409.3 169.7 405.9 169.5 403.0 167.9ZM4.9 101.8L8.3 102.3 11.7 103.2 15.1 102.5 18.5 103.2 21.9 103.4 23.5 102.0 26.4 100.7 29.2 99.3 25.3 97.5 20.8 97.0 16.2 95.9 11.7 94.3 4.9 92.9ZM4.9 87.7L10.5 87.0 12.1 87.9 4.9 88.4ZM268.2 107.3L266.9 108.8 263.2 107.7 259.4 106.8 254.8 105.7 250.7 104.3 247.3 103.2 243.4 102.9 238.9 103.4 237.3 102.3 240.0 100.9 246.9 100.7 249.6 98.4 250.3 96.6 246.9 94.5 242.3 92.5 236.6 91.1 232.1 90.4 226.4 90.0 220.7 90.4 215.5 89.8 213.9 87.0 211.0 84.5 213.9 82.3 220.7 81.8 226.4 82.0 232.1 82.3 237.8 84.3 242.3 85.0 246.9 86.4 251.4 87.7 254.8 89.1 258.9 90.0 261.6 91.6 263.2 93.6 268.4 95.4 271.8 97.3 274.8 97.9 273.0 99.5 270.0 101.8 266.9 102.5 266.2 104.1 268.2 105.4ZM232.1 104.8L228.7 105.4 224.1 105.4 220.5 104.5 218.5 102.3 219.6 100.0 223.0 99.5 226.4 100.7 229.6 102.7 231.4 103.9ZM145.7 84.5L154.8 82.9 162.8 84.8 168.9 83.4 174.1 82.9 177.6 84.8 176.9 87.7 183.2 89.3 185.5 91.1 181.0 93.2 174.1 92.9 168.5 93.4 163.9 93.6 158.2 94.1 153.7 92.0 148.0 90.7 145.7 88.9 146.2 87.0ZM129.8 85.9L131.4 87.7 135.5 88.2 140.1 87.3 143.5 86.4 145.7 84.1 149.2 82.7 148.0 80.9 142.3 80.4 132.1 80.7 129.8 82.5 129.4 85.2ZM194.6 81.8L195.7 84.8 193.5 86.8 190.0 87.0 184.4 84.8 184.4 82.9 187.8 81.8ZM208.7 81.4L202.5 81.1 198.0 83.2 201.4 85.4 206.0 85.9 209.4 83.6ZM233.2 79.1L233.2 80.2 221.9 80.2 215.0 80.4 206.0 79.8 203.2 77.9 206.0 75.4 215.0 75.0 224.1 75.9 229.8 75.9 233.2 77.3ZM212.8 75.9L221.9 76.1 233.2 76.4 236.6 74.5 240.0 72.3 244.6 71.1 251.4 70.0 255.9 67.7 262.8 66.6 269.6 64.3 276.4 62.5 271.8 61.1 260.5 60.7 244.6 60.9 233.2 61.4 219.6 62.7 208.2 64.3 200.3 65.5 195.7 67.7 199.1 70.0 208.2 71.6 215.0 72.3 216.2 74.5 211.6 75.4ZM175.3 77.3L169.6 78.9 160.5 80.2 149.2 80.7 150.3 78.4 156.0 76.4 165.1 75.7 171.9 76.8ZM152.6 76.1L145.7 77.9 140.1 76.8 136.7 75.2 142.3 73.9 148.0 74.8ZM194.6 75.7L191.2 78.6 186.6 77.3 185.5 75.7 190.0 75.0ZM202.5 78.4L196.9 78.2 198.0 76.8 202.5 77.0ZM197.3 93.2L194.6 90.9 190.5 91.6 188.9 92.9 192.3 94.3 196.2 94.1ZM238.9 83.2L233.2 83.2 230.9 81.8 237.8 81.8ZM230.9 106.6L227.5 107.7 225.3 107.5 227.5 106.3 230.3 105.9ZM186.6 71.1L182.1 72.7 175.3 71.8 177.6 70.0 184.4 69.5ZM165.1 72.7L157.1 73.4 156.0 71.6 162.8 71.1ZM236.6 96.4L241.2 96.8 241.6 95.0 237.8 94.5ZM233.7 121.3L235.5 122.3 234.8 122.7ZM232.1 108.4L233.7 109.3 232.8 109.8ZM228.7 128.6L231.2 129.3 229.6 129.8ZM174.6 82.3L178.7 83.6 180.5 82.5 176.9 81.6ZM176.4 77.7L179.8 79.1 181.4 78.2ZM174.1 73.2L176.9 74.1 177.6 73.2ZM187.8 67.5L192.3 68.6 192.8 67.5ZM207.1 73.4L211.6 74.3 212.1 73.4ZM232.1 76.6L235.9 77.3 235.5 76.1ZM236.6 105.2L239.4 105.9 238.7 105.0ZM265.5 109.3L268.0 110.2 267.3 109.1ZM195.7 72.7L200.3 73.9 202.5 72.7 198.0 71.6ZM158.2 71.4L162.8 72.3 165.1 70.7ZM143.5 76.1L148.0 76.8 147.3 75.7ZM280.3 141.3L287.8 141.3 290.0 142.7 293.4 143.4 295.3 141.6 294.1 139.3 293.0 137.7 288.7 136.8 288.2 132.9 285.7 132.9 284.3 134.8 282.1 137.9 280.3 139.5ZM268.4 136.1L274.1 137.3 274.8 137.9 270.7 137.7ZM268.7 143.6L274.1 144.1 272.8 145.0 269.6 144.5ZM134.4 139.5L131.0 138.4 127.6 136.8 124.2 135.2 123.5 134.1 126.4 134.3 130.1 135.7 133.2 137.7ZM117.3 131.6L114.4 129.5 112.6 126.6 115.5 126.6 116.2 129.1ZM115.1 124.1L111.7 123.8 109.4 121.1 106.0 118.2 108.2 117.3 111.7 120.0 113.9 122.3ZM68.5 119.3L65.1 120.9 63.9 119.1 66.7 117.7 69.2 117.9ZM24.6 104.8L28.7 105.9 31.7 105.9 29.9 105.0 26.4 104.3ZM37.4 112.3L39.2 112.9 37.4 113.6 34.6 112.7ZM222.1 199.7L223.5 198.1 226.4 197.2 230.3 196.8 233.2 197.2 237.1 198.6 239.6 200.2 243.0 201.6 246.4 203.4 244.6 204.3 238.9 204.3 239.8 202.9 236.6 200.4 233.7 200.2 229.8 199.1 228.0 198.1 224.1 199.7ZM245.7 207.7L249.6 204.3 253.7 204.3 256.4 205.6 259.6 207.2 256.4 207.7 253.0 209.5 251.4 208.1 247.5 208.4ZM237.1 207.7L240.3 207.7 241.9 208.8 238.9 209.1ZM262.3 207.5L265.9 207.7 265.5 208.6 262.3 208.6ZM274.3 225.0L276.6 225.0 276.4 226.6 274.3 226.6ZM237.3 188.8L240.0 189.1 239.4 190.0 236.6 189.3ZM237.8 192.2L238.7 194.3 237.1 193.6ZM241.2 192.0L242.3 193.6 241.6 194.1ZM242.8 195.9L244.1 197.0 242.5 197.0ZM60.5 203.6L62.8 205.0 61.0 206.6 60.5 204.7ZM58.9 202.0L60.5 202.2 59.6 202.7ZM55.3 200.4L56.7 200.9 55.8 201.1ZM51.9 199.1L53.0 199.3 52.4 199.7ZM274.6 212.5L275.9 212.5 275.3 213.4ZM275.9 215.9L276.8 216.6 276.2 216.8ZM275.3 219.3L276.2 219.7 275.5 220.0ZM22.4 279.9L25.5 280.9 23.5 281.3ZM75.1 289.3L76.2 289.7 75.3 290.2ZM13.3 348.8L14.6 349.0 13.7 349.7ZM35.8 127.0L37.4 127.9 34.2 128.4 32.4 128.6 34.4 127.3ZM31.0 129.3L27.6 130.2 29.9 129.3ZM23.0 130.7L18.5 131.3 19.6 130.7ZM16.2 131.6L11.7 132.3 12.8 131.6ZM10.5 131.6L7.1 132.5 8.3 131.6ZM49.2 123.8L51.0 124.3 49.6 124.5ZM45.8 125.7L44.2 126.1 45.1 125.4ZM402.0 135.7L405.5 135.0 408.2 134.3 411.6 134.3 415.7 134.1 418.2 133.2 417.0 132.3 418.9 130.0 418.0 129.1 415.7 128.2 414.8 126.8 413.6 125.7 411.6 124.1 410.5 122.5 408.2 122.3 409.3 121.3 410.5 119.8 410.9 118.6 408.2 118.4 405.9 118.6 407.7 116.3 403.6 116.3 403.0 118.2 402.0 120.4 402.3 122.3 403.9 123.4 403.4 124.8 405.5 125.0 407.5 124.8 407.0 126.1 408.4 127.5 407.7 128.4 404.5 128.4 405.7 129.5 405.5 130.9 403.4 131.6 405.5 132.3 408.2 132.5 407.0 133.2 405.5 133.2 402.5 135.2ZM401.4 130.9L400.9 128.4 401.4 126.6 402.5 125.4 400.9 123.8 398.4 123.8 395.9 124.5 395.5 126.1 392.3 126.3 392.7 128.2 394.3 128.6 392.5 130.0 391.6 131.6 393.2 132.5 396.4 131.8 399.1 131.1ZM359.3 100.7L365.0 98.6 373.0 99.1 380.9 98.4 384.3 101.4 380.9 103.4 374.1 105.4 367.3 104.5 363.4 104.1 360.5 102.3ZM452.5 75.4L446.8 73.4 440.0 70.4 440.0 68.4 449.1 68.2 453.6 67.7 458.2 66.8 465.0 66.6 476.3 67.3 471.8 69.3 462.7 70.7 468.4 71.6 466.1 73.9 459.3 73.4 454.8 75.0ZM533.2 87.0L535.4 88.9 544.5 89.1 541.8 85.0 543.4 83.2 547.9 80.2 553.6 77.9 560.4 76.8 570.6 74.8 565.0 74.5 555.9 75.4 549.1 77.3 542.2 80.7 537.7 82.9 534.3 85.4ZM525.2 91.6L526.8 92.9 528.6 92.3 526.8 91.6ZM622.9 68.9L630.9 70.4 642.2 71.1 651.3 70.0 644.5 67.0 635.4 65.0 626.3 65.9ZM726.3 79.5L735.4 81.8 746.7 79.1 751.3 78.4 737.7 77.3 730.8 76.8ZM820.6 87.0L825.1 87.7 825.1 88.4 821.7 88.4ZM521.8 67.0L533.2 67.5 546.8 67.3 555.9 66.4 551.3 64.3 540.0 63.6 528.6 65.5 519.5 65.9ZM737.7 145.0L737.2 140.4 737.9 135.9 737.7 131.3 738.3 127.9 739.2 125.9 740.6 128.8 740.4 132.5 741.5 137.5 743.6 138.4 740.4 139.3 739.0 141.3 741.1 144.3 738.8 143.8ZM733.1 155.2L735.4 154.5 736.5 152.7 740.6 154.1 745.6 151.1 743.3 149.7 739.9 148.8 737.4 146.3 736.7 149.5 735.8 151.3 733.8 151.1 733.1 153.4ZM736.5 155.7L737.7 159.7 736.5 162.5 735.4 165.4 734.9 168.4 733.1 170.0 731.3 169.5 729.7 170.9 726.3 170.9 725.8 171.6 724.0 173.4 722.2 172.7 722.4 170.7 719.5 170.9 717.2 171.3 714.9 172.5 712.7 172.2 712.9 170.7 716.1 168.8 719.5 168.6 722.9 168.6 725.2 166.8 726.3 165.0 729.7 164.3 732.0 162.7 733.1 159.7 733.1 157.5 734.2 156.1ZM710.4 172.5L712.7 172.5 714.9 174.5 714.0 178.2 712.7 179.1 710.8 178.4 710.8 175.4 709.5 173.8ZM716.3 172.7L719.5 171.6 721.1 172.2 719.5 173.8 717.2 175.0 716.1 173.8ZM689.9 192.2L692.2 192.7 691.1 197.2 689.5 199.5 688.1 197.2 688.3 194.3ZM662.0 205.9L663.4 204.1 666.1 203.8 667.2 205.0 665.4 207.5 663.1 207.9 661.8 207.2ZM596.6 227.5L597.5 227.2 599.7 230.2 601.1 232.9 600.4 235.0 598.1 236.1 596.8 234.7 596.3 231.3ZM488.4 170.0L490.0 169.1 493.6 168.4 492.3 170.0 490.0 170.9ZM468.4 169.3L470.7 168.8 474.8 169.3 474.1 170.0 470.7 170.0 468.6 169.5ZM443.2 162.9L445.7 162.7 450.4 162.5 449.3 164.7 449.3 166.1 446.8 165.2 443.4 164.1ZM433.6 156.3L436.1 155.9 437.3 157.5 436.8 160.4 434.3 161.1 434.1 158.6ZM434.5 152.0L436.4 151.8 436.6 153.6 435.9 155.4 434.5 154.5ZM420.2 159.5L422.0 158.8 422.7 159.5 421.4 160.2ZM440.0 122.9L442.7 122.0 443.6 123.2 442.3 124.5 440.4 124.1ZM437.3 123.8L439.1 123.4 439.5 124.5 437.7 124.5ZM456.1 119.3L458.2 117.9 457.7 119.5 456.6 120.2ZM464.5 117.0L467.7 116.3 467.3 117.5 465.0 117.7ZM467.3 161.6L470.0 161.6 470.7 162.9 468.4 162.2ZM398.6 107.9L399.8 107.9 399.5 109.1ZM412.0 112.0L412.7 112.7 412.0 113.4 411.6 112.5ZM407.5 115.0L408.6 115.2 408.2 115.9ZM400.7 116.6L399.3 117.3 398.2 119.3 400.0 118.2ZM746.7 150.0L753.1 146.3 751.7 146.1 747.9 148.8ZM755.8 145.0L759.2 142.9 758.1 142.7ZM761.5 141.6L764.9 138.6 764.0 138.4ZM768.3 135.9L770.1 134.5 769.5 134.1ZM791.5 123.8L793.6 125.2 792.9 124.1ZM807.0 129.1L809.2 129.5 807.6 130.0ZM817.6 131.3L820.6 132.0 819.5 131.3ZM821.7 132.5L825.1 131.8 825.1 132.7ZM527.0 276.8L529.5 284.7 527.5 289.3 525.2 296.1 522.2 306.1 517.7 307.4 514.3 302.9 513.4 298.4 515.9 293.8 515.0 288.1 519.5 285.4 522.9 282.4 525.2 279.7ZM434.3 240.9L435.2 241.1 434.8 242.2ZM376.6 184.7L378.4 184.5 377.3 185.9ZM379.1 185.4L380.0 186.1 379.6 186.6ZM382.5 184.5L383.6 184.3 383.2 185.7ZM571.8 360.4L574.7 361.1 573.1 362.4ZM349.6 161.8L351.4 162.2 350.2 162.5ZM356.4 163.4L357.7 163.6 356.8 163.8ZM536.1 220.9L538.8 220.9 537.7 221.6ZM545.4 294.9L546.3 295.6 545.7 296.1ZM540.7 297.0L541.8 297.7 540.9 297.9ZM689.0 207.5L692.7 207.5 693.1 210.9 691.3 213.6 692.7 217.2 696.8 218.1 697.2 220.9 695.2 220.0 691.8 218.1 689.0 217.0 689.0 213.1 688.3 212.5ZM692.2 233.6L695.6 231.8 697.2 230.6 700.2 227.7 702.7 232.9 701.3 235.4 699.9 236.8 696.8 235.2 694.9 232.5ZM692.2 222.7L694.5 225.6 696.8 223.1 700.2 224.1 699.0 226.8 695.6 227.9 693.3 227.7 692.0 225.6ZM697.4 221.1L700.6 221.8 700.2 224.3 698.6 224.1ZM681.3 230.4L686.5 224.7 686.8 225.6 682.2 230.9ZM688.3 218.8L691.1 219.5 690.4 221.8 688.6 220.9ZM662.7 246.1L664.0 245.0 667.2 245.4 671.8 242.2 675.2 239.0 677.4 237.7 679.7 234.5 682.0 234.7 685.8 237.7 683.1 239.5 682.4 242.0 683.1 244.5 685.2 247.2 682.4 247.9 682.0 250.6 680.4 252.9 679.7 255.2 678.6 257.7 675.4 258.6 671.8 257.0 669.0 257.5 665.4 256.1 665.2 253.4 663.4 251.3 662.4 248.4ZM631.5 236.8L636.5 237.7 638.4 240.0 641.5 242.2 644.0 245.0 646.8 245.9 650.2 248.4 651.8 251.8 655.9 256.1 655.6 260.4 654.3 262.7 652.4 262.9 649.7 260.4 647.4 258.4 644.5 255.0 642.9 251.8 640.4 248.4 639.0 245.6 636.5 243.4 634.0 240.9 631.3 238.1ZM654.0 265.0L655.9 262.9 660.4 263.8 666.1 264.5 670.6 265.2 675.2 267.0 674.9 269.3 669.5 268.4 664.9 267.7 660.4 267.2 657.0 266.3ZM675.4 267.9L677.9 268.6 679.9 268.1 679.5 269.7 676.8 269.5ZM680.4 268.4L683.8 268.4 685.6 268.8 684.3 269.5 680.9 269.9ZM687.2 268.8L689.9 268.6 694.3 267.9 694.0 269.3 688.8 269.5ZM685.4 271.3L688.3 271.1 689.5 272.7 686.8 272.0ZM696.8 270.6L699.7 268.6 703.6 268.4 699.0 271.1 695.8 272.9ZM686.5 262.0L686.3 257.5 684.9 255.9 687.2 249.5 688.3 248.4 689.9 246.5 694.9 247.2 697.9 246.3 699.3 245.9 696.8 248.6 691.8 248.5 689.5 249.3 691.1 251.5 695.4 251.3 694.0 253.1 690.8 254.0 692.9 257.5 694.7 259.7 694.0 262.2 691.5 260.4 691.1 258.4 689.5 255.4 688.6 257.5 688.6 262.0ZM704.7 245.4L706.3 244.5 705.8 247.2 707.4 248.1 705.8 248.8 707.7 251.1 705.4 250.2 704.9 247.7ZM705.8 256.8L710.4 256.1 712.2 257.7 708.1 257.5ZM701.3 256.8L704.0 257.0 703.1 258.1 701.5 257.7ZM712.7 252.7L716.1 250.4 719.5 251.5 721.8 257.0 727.4 252.9 733.1 255.0 736.5 255.6 743.3 258.1 746.3 261.3 748.3 265.0 750.2 267.7 752.4 270.2 756.3 273.6 754.2 273.1 749.7 272.2 747.2 269.0 742.9 266.8 740.6 268.8 739.0 270.6 735.4 270.2 731.3 267.9 729.5 268.4 727.9 261.8 724.0 260.0 720.2 258.6 717.9 258.4 716.5 258.6 718.3 256.5 714.9 255.9ZM752.0 262.0L755.8 261.3 759.2 259.3 760.8 259.5 759.2 262.0 755.8 263.6 753.1 263.4ZM757.0 255.4L761.5 257.5 763.1 260.4 761.7 259.3 758.1 256.1ZM766.3 261.8L768.3 263.1 769.2 265.0 767.9 264.5ZM771.7 267.2L778.1 271.8 776.3 271.1ZM778.1 270.6L780.8 271.8 779.7 272.0ZM779.7 268.4L781.3 270.6 780.4 270.9ZM787.6 295.4L791.1 297.2 794.5 299.9 793.3 300.2 788.8 297.2ZM793.6 283.6L794.9 284.7 794.5 285.2ZM817.9 289.3L820.6 289.0 819.9 290.9 818.1 290.6ZM821.3 286.5L824.5 286.5 822.9 287.7ZM672.9 300.6L674.0 299.0 680.2 296.3 685.4 294.9 689.9 293.8 692.9 290.4 695.6 288.8 696.8 286.5 699.7 282.7 702.7 281.1 705.4 282.2 707.0 283.1 709.5 283.4 710.8 279.0 712.7 277.2 716.3 277.0 718.3 276.3 722.0 277.2 725.2 276.5 726.1 277.7 723.8 279.7 722.9 283.4 726.5 285.6 731.5 289.0 734.9 289.3 736.5 284.7 736.7 279.0 738.1 274.3 739.5 275.6 741.1 280.9 743.6 282.0 745.4 283.6 745.6 287.0 747.4 292.4 752.9 295.4 755.2 300.4 757.9 301.8 762.4 307.4 764.0 314.3 762.6 319.9 761.5 323.6 758.6 326.8 756.3 330.6 755.6 334.7 751.3 335.4 747.4 338.3 744.5 335.6 742.2 336.8 736.5 336.8 733.1 334.9 731.5 331.1 729.5 330.4 729.7 328.6 728.8 325.6 728.1 323.6 727.2 327.4 724.7 327.9 723.1 328.6 722.2 326.3 719.9 323.8 714.9 322.2 711.5 321.3 704.7 322.7 701.3 322.9 696.8 324.7 692.2 326.8 687.7 326.5 683.1 329.0 679.7 329.0 676.3 327.4 677.9 325.2 677.9 321.3 676.3 317.7 676.1 314.3 674.0 310.8 672.9 309.0 673.1 305.2ZM725.4 330.6L728.6 330.6 727.4 331.3 725.4 331.3ZM710.4 275.4L713.8 274.9 713.3 276.3 710.8 276.3ZM743.6 342.0L747.9 342.9 752.0 342.4 752.0 345.4 751.1 347.7 748.8 348.6 746.7 348.3 744.9 345.4ZM807.4 327.7L811.0 329.7 813.1 332.9 814.7 334.7 817.9 335.6 820.6 335.2 819.5 338.1 817.2 338.8 816.5 340.8 813.3 344.0 811.7 343.3 813.1 341.1 810.4 339.3 811.5 337.7 812.0 334.7 811.0 332.4 808.3 329.7ZM807.4 341.5L810.8 343.3 810.1 345.4 807.4 348.1 804.0 350.2 802.6 353.8 799.7 355.4 795.8 354.7 793.3 353.1 795.6 350.6 800.1 348.3 804.0 344.9 806.0 342.2ZM795.8 355.8L797.2 356.1 796.3 356.7ZM625.6 219.1L626.3 221.1 625.6 223.4 625.2 221.6ZM275.7 366.1L279.8 366.1 283.7 366.7 282.1 368.1 277.5 367.9ZM328.7 372.2L333.2 372.7 332.1 373.3ZM246.9 344.5L248.0 344.5 248.0 347.9 246.2 347.7ZM207.1 250.0L208.7 250.2 207.8 251.8Z"/></clipPath>
<g clip-path="url(#clip1)"><g filter="url(#b2)"><path fill="#4e4280" d="M142 113h8v4h-8zM142 117h8v4h-8zM142 121h4v4h-4z"/>
<path fill="#55467e" d="M142 109h12v4h-12zM150 113h4v4h-4zM138 117h4v4h-4zM150 117h4v4h-4zM138 121h4v4h-4zM146 121h4v4h-4zM138 125h8v4h-8z"/>
<path fill="#5b4b7b" d="M142 105h8v4h-8zM138 109h4v4h-4zM154 109h4v4h-4zM138 113h4v4h-4zM154 113h4v4h-4zM682 113h20v4h-20zM154 117h4v4h-4zM678 117h48v4h-48zM150 121h4v4h-4zM678 121h56v4h-56zM146 125h4v4h-4zM682 125h52v4h-52zM142 129h4v4h-4zM682 129h52v4h-52zM682 133h48v4h-48zM682 137h32v4h-32zM682 141h20v4h-20zM686 145h12v4h-12z"/>
<path fill="#624f79" d="M430 97h12v4h-12zM422 101h24v4h-24zM150 105h4v4h-4zM418 105h72v4h-72zM158 109h8v4h-8zM190 109h12v4h-12zM418 109h72v4h-72zM678 109h24v4h-24zM158 113h4v4h-4zM194 113h16v4h-16zM418 113h72v4h-72zM674 113h8v4h-8zM702 113h8v4h-8zM202 117h20v4h-20zM422 117h68v4h-68zM674 117h4v4h-4zM726 117h8v4h-8zM214 121h12v4h-12zM422 121h68v4h-68zM734 121h4v4h-4zM134 125h4v4h-4zM218 125h12v4h-12zM434 125h56v4h-56zM678 125h4v4h-4zM734 125h4v4h-4zM138 129h4v4h-4zM146 129h4v4h-4zM218 129h12v4h-12zM466 129h20v4h-20zM678 129h4v4h-4zM734 129h4v4h-4zM218 133h12v4h-12zM678 133h4v4h-4zM730 133h4v4h-4zM222 137h8v4h-8zM678 137h4v4h-4zM714 137h16v4h-16zM678 141h4v4h-4zM702 141h8v4h-8zM678 145h8v4h-8zM698 145h4v4h-4zM682 149h16v4h-16zM690 153h4v4h-4zM386 225h48v4h-48zM378 229h52v4h-52zM382 233h44v4h-44zM386 237h40v4h-40zM390 241h32v4h-32zM394 245h4v4h-4z"/>
<path fill="#685476" d="M446 101h16v4h-16zM470 101h20v4h-20zM138 105h4v4h-4zM490 105h8v4h-8zM674 105h24v4h-24zM166 109h24v4h-24zM202 109h4v4h-4zM490 109h8v4h-8zM670 109h8v4h-8zM702 109h4v4h-4zM162 113h8v4h-8zM178 113h16v4h-16zM210 113h4v4h-4zM490 113h8v4h-8zM670 113h4v4h-4zM710 113h20v4h-20zM158 117h4v4h-4zM194 117h8v4h-8zM222 117h4v4h-4zM390 117h8v4h-8zM414 117h4v4h-4zM490 117h8v4h-8zM134 121h4v4h-4zM198 121h16v4h-16zM226 121h4v4h-4zM386 121h36v4h-36zM490 121h4v4h-4zM674 121h4v4h-4zM150 125h4v4h-4zM210 125h8v4h-8zM386 125h48v4h-48zM490 125h4v4h-4zM674 125h4v4h-4zM738 125h4v4h-4zM134 129h4v4h-4zM214 129h4v4h-4zM230 129h4v4h-4zM386 129h80v4h-80zM486 129h8v4h-8zM738 129h4v4h-4zM214 133h4v4h-4zM230 133h4v4h-4zM386 133h108v4h-108zM734 133h4v4h-4zM214 137h8v4h-8zM230 137h8v4h-8zM398 137h96v4h-96zM730 137h4v4h-4zM214 141h32v4h-32zM418 141h76v4h-76zM710 141h8v4h-8zM210 145h64v4h-64zM422 145h68v4h-68zM702 145h4v4h-4zM202 149h76v4h-76zM426 149h52v4h-52zM678 149h4v4h-4zM698 149h4v4h-4zM202 153h72v4h-72zM438 153h36v4h-36zM678 153h12v4h-12zM694 153h4v4h-4zM202 157h60v4h-60zM450 157h12v4h-12zM686 157h8v4h-8zM202 161h52v4h-52zM206 165h44v4h-44zM206 169h44v4h-44zM206 173h40v4h-40zM206 177h28v4h-28zM206 181h16v4h-16zM210 185h8v4h-8zM374 225h12v4h-12zM434 225h44v4h-44zM430 229h48v4h-48zM426 233h8v4h-8zM426 237h4v4h-4zM422 241h4v4h-4zM298 281h8v4h-8zM294 285h16v4h-16zM294 289h16v4h-16zM294 293h20v4h-20zM298 297h16v4h-16zM306 301h4v4h-4z"/>
<path fill="#6e5874" d="M514 85h4v4h-4zM514 89h8v4h-8zM514 93h16v4h-16zM514 97h32v4h-32zM462 101h8v4h-8zM490 101h4v4h-4zM510 101h40v4h-40zM678 101h20v4h-20zM154 105h4v4h-4zM414 105h4v4h-4zM498 105h176v4h-176zM698 105h4v4h-4zM206 109h4v4h-4zM414 109h4v4h-4zM498 109h52v4h-52zM610 109h60v4h-60zM170 113h8v4h-8zM214 113h4v4h-4zM394 113h24v4h-24zM498 113h8v4h-8zM666 113h4v4h-4zM134 117h4v4h-4zM190 117h4v4h-4zM226 117h4v4h-4zM398 117h16v4h-16zM498 117h4v4h-4zM670 117h4v4h-4zM734 117h4v4h-4zM154 121h4v4h-4zM194 121h4v4h-4zM494 121h4v4h-4zM738 121h4v4h-4zM206 125h4v4h-4zM230 125h4v4h-4zM494 125h4v4h-4zM742 125h4v4h-4zM210 129h4v4h-4zM382 129h4v4h-4zM494 129h4v4h-4zM674 129h4v4h-4zM742 129h4v4h-4zM234 133h4v4h-4zM674 133h4v4h-4zM738 133h4v4h-4zM238 137h4v4h-4zM390 137h8v4h-8zM674 137h4v4h-4zM734 137h4v4h-4zM210 141h4v4h-4zM246 141h24v4h-24zM402 141h16v4h-16zM674 141h4v4h-4zM718 141h12v4h-12zM202 145h8v4h-8zM274 145h4v4h-4zM418 145h4v4h-4zM490 145h4v4h-4zM674 145h4v4h-4zM706 145h4v4h-4zM198 149h4v4h-4zM422 149h4v4h-4zM478 149h12v4h-12zM674 149h4v4h-4zM198 153h4v4h-4zM426 153h12v4h-12zM474 153h4v4h-4zM674 153h4v4h-4zM198 157h4v4h-4zM442 157h8v4h-8zM462 157h8v4h-8zM670 157h16v4h-16zM694 157h4v4h-4zM198 161h4v4h-4zM450 161h8v4h-8zM658 161h36v4h-36zM202 165h4v4h-4zM658 165h32v4h-32zM202 169h4v4h-4zM658 169h32v4h-32zM202 173h4v4h-4zM658 173h36v4h-36zM202 177h4v4h-4zM234 177h8v4h-8zM658 177h36v4h-36zM222 181h8v4h-8zM670 181h28v4h-28zM206 185h4v4h-4zM218 185h4v4h-4zM674 185h24v4h-24zM678 189h16v4h-16zM678 193h12v4h-12zM682 197h4v4h-4zM374 221h104v4h-104zM478 225h4v4h-4zM478 229h4v4h-4zM434 233h4v4h-4zM294 281h4v4h-4zM306 281h4v4h-4zM310 285h4v4h-4zM290 289h4v4h-4zM310 289h4v4h-4zM294 297h4v4h-4zM314 297h4v4h-4zM294 301h12v4h-12zM310 301h8v4h-8zM294 305h24v4h-24zM298 309h16v4h-16zM298 313h16v4h-16zM298 317h12v4h-12zM302 321h4v4h-4z"/>
<path fill="#755d71" d="M522 89h8v4h-8zM530 93h16v4h-16zM510 97h4v4h-4zM546 97h4v4h-4zM682 97h16v4h-16zM494 101h4v4h-4zM506 101h4v4h-4zM550 101h68v4h-68zM642 101h36v4h-36zM698 101h4v4h-4zM158 105h4v4h-4zM402 109h12v4h-12zM550 109h60v4h-60zM706 109h4v4h-4zM506 113h44v4h-44zM610 113h56v4h-56zM730 113h4v4h-4zM162 117h4v4h-4zM182 117h8v4h-8zM502 117h4v4h-4zM230 121h4v4h-4zM498 121h4v4h-4zM670 121h4v4h-4zM202 125h4v4h-4zM130 129h4v4h-4zM150 129h4v4h-4zM234 129h4v4h-4zM138 133h12v4h-12zM210 133h4v4h-4zM494 133h4v4h-4zM210 137h4v4h-4zM242 137h4v4h-4zM494 137h4v4h-4zM206 141h4v4h-4zM270 141h4v4h-4zM398 141h4v4h-4zM494 141h4v4h-4zM730 141h4v4h-4zM198 145h4v4h-4zM410 145h8v4h-8zM494 145h4v4h-4zM710 145h4v4h-4zM278 149h4v4h-4zM418 149h4v4h-4zM490 149h4v4h-4zM702 149h4v4h-4zM194 153h4v4h-4zM422 153h4v4h-4zM478 153h4v4h-4zM670 153h4v4h-4zM698 153h4v4h-4zM470 157h4v4h-4zM654 157h16v4h-16zM458 161h4v4h-4zM654 161h4v4h-4zM694 161h4v4h-4zM198 165h4v4h-4zM654 165h4v4h-4zM690 165h4v4h-4zM654 169h4v4h-4zM690 169h4v4h-4zM654 173h4v4h-4zM654 177h4v4h-4zM694 177h4v4h-4zM202 181h4v4h-4zM230 181h8v4h-8zM658 181h12v4h-12zM222 185h4v4h-4zM670 185h4v4h-4zM674 189h4v4h-4zM694 189h8v4h-8zM690 193h12v4h-12zM678 197h4v4h-4zM686 197h12v4h-12zM678 201h4v4h-4zM370 221h4v4h-4zM478 221h4v4h-4zM438 233h40v4h-40zM430 237h4v4h-4zM426 241h4v4h-4zM298 277h8v4h-8zM290 281h4v4h-4zM290 285h4v4h-4zM314 289h4v4h-4zM290 293h4v4h-4zM314 293h4v4h-4zM290 297h4v4h-4zM290 301h4v4h-4zM294 309h4v4h-4zM294 313h4v4h-4zM294 317h4v4h-4zM298 321h4v4h-4zM802 321h12v4h-12zM798 325h20v4h-20zM802 329h22v4h-22zM802 333h22v4h-22zM806 337h18v4h-18zM810 341h14v4h-14zM814 345h8v4h-8z"/>
<path fill="#7b616f" d="M470 81h8v4h-8zM522 85h4v4h-4zM438 93h4v4h-4zM546 93h4v4h-4zM686 93h12v4h-12zM442 97h4v4h-4zM550 97h4v4h-4zM678 97h4v4h-4zM698 97h4v4h-4zM142 101h4v4h-4zM498 101h8v4h-8zM618 101h24v4h-24zM162 105h40v4h-40zM406 105h8v4h-8zM702 105h4v4h-4zM134 109h4v4h-4zM210 109h4v4h-4zM394 109h8v4h-8zM710 109h4v4h-4zM134 113h4v4h-4zM550 113h4v4h-4zM606 113h4v4h-4zM166 117h16v4h-16zM506 117h40v4h-40zM666 117h4v4h-4zM190 121h4v4h-4zM502 121h4v4h-4zM130 125h4v4h-4zM198 125h4v4h-4zM234 125h4v4h-4zM498 125h4v4h-4zM206 129h4v4h-4zM498 129h4v4h-4zM746 129h4v4h-4zM130 133h8v4h-8zM238 133h4v4h-4zM742 133h4v4h-4zM206 137h4v4h-4zM246 137h16v4h-16zM738 137h4v4h-4zM202 141h4v4h-4zM274 141h4v4h-4zM394 141h4v4h-4zM194 145h4v4h-4zM278 145h4v4h-4zM402 145h8v4h-8zM714 145h8v4h-8zM194 149h4v4h-4zM410 149h8v4h-8zM494 149h4v4h-4zM670 149h4v4h-4zM706 149h4v4h-4zM418 153h4v4h-4zM482 153h4v4h-4zM666 153h4v4h-4zM194 157h4v4h-4zM438 157h4v4h-4zM474 157h4v4h-4zM698 157h4v4h-4zM194 161h4v4h-4zM446 161h4v4h-4zM462 161h8v4h-8zM198 169h4v4h-4zM198 173h4v4h-4zM694 173h4v4h-4zM238 181h4v4h-4zM654 181h4v4h-4zM202 185h4v4h-4zM226 185h4v4h-4zM674 193h4v4h-4zM674 197h4v4h-4zM682 201h4v4h-4zM478 233h4v4h-4zM434 237h4v4h-4zM294 277h4v4h-4zM306 277h4v4h-4zM310 281h4v4h-4zM318 297h4v4h-4zM318 301h4v4h-4zM290 305h4v4h-4zM318 305h4v4h-4zM294 321h4v4h-4zM298 325h4v4h-4zM802 337h4v4h-4zM798 341h12v4h-12zM806 345h8v4h-8zM810 349h8v4h-8z"/>
<path fill="#82666d" d="M466 81h4v4h-4zM526 85h4v4h-4zM510 89h4v4h-4zM510 93h4v4h-4zM682 93h4v4h-4zM698 93h4v4h-4zM554 97h8v4h-8zM578 97h8v4h-8zM674 97h4v4h-4zM138 101h4v4h-4zM146 101h4v4h-4zM702 101h4v4h-4zM134 105h4v4h-4zM402 105h4v4h-4zM390 109h4v4h-4zM714 109h12v4h-12zM554 113h4v4h-4zM602 113h4v4h-4zM734 113h4v4h-4zM546 117h4v4h-4zM614 117h52v4h-52zM158 121h4v4h-4zM506 121h4v4h-4zM154 125h4v4h-4zM194 125h4v4h-4zM502 125h4v4h-4zM670 125h4v4h-4zM746 125h4v4h-4zM202 129h4v4h-4zM238 129h4v4h-4zM670 129h4v4h-4zM150 133h4v4h-4zM206 133h4v4h-4zM242 133h4v4h-4zM498 133h4v4h-4zM746 133h4v4h-4zM262 137h8v4h-8zM498 137h4v4h-4zM198 141h4v4h-4zM498 141h4v4h-4zM670 141h4v4h-4zM734 141h4v4h-4zM390 145h12v4h-12zM498 145h4v4h-4zM670 145h4v4h-4zM722 145h8v4h-8zM386 149h24v4h-24zM710 149h4v4h-4zM386 153h32v4h-32zM486 153h8v4h-8zM654 153h12v4h-12zM702 153h4v4h-4zM386 157h4v4h-4zM650 157h4v4h-4zM470 161h4v4h-4zM650 161h4v4h-4zM194 165h4v4h-4zM650 165h4v4h-4zM694 165h4v4h-4zM650 169h4v4h-4zM694 169h4v4h-4zM650 173h4v4h-4zM198 177h4v4h-4zM650 177h4v4h-4zM650 181h4v4h-4zM230 185h4v4h-4zM666 185h4v4h-4zM670 189h4v4h-4zM686 201h8v4h-8zM482 225h4v4h-4zM482 229h4v4h-4zM438 237h8v4h-8zM430 241h4v4h-4zM426 245h4v4h-4zM522 269h8v4h-8zM522 273h12v4h-12zM518 277h20v4h-20zM518 281h20v4h-20zM286 285h4v4h-4zM314 285h4v4h-4zM514 285h24v4h-24zM286 289h4v4h-4zM514 289h20v4h-20zM286 293h4v4h-4zM318 293h4v4h-4zM510 293h24v4h-24zM286 297h4v4h-4zM506 297h28v4h-28zM322 301h4v4h-4zM506 301h24v4h-24zM510 305h20v4h-20zM290 309h4v4h-4zM510 309h16v4h-16zM290 313h4v4h-4zM514 313h4v4h-4zM670 321h8v4h-8zM670 325h12v4h-12zM670 329h12v4h-12zM674 333h12v4h-12zM750 341h8v4h-8zM794 341h4v4h-4zM742 345h16v4h-16zM798 345h8v4h-8zM738 349h20v4h-20zM802 349h8v4h-8zM742 353h12v4h-12zM806 353h4v4h-4z"/>
<path fill="#886a6a" d="M466 77h4v4h-4zM686 89h12v4h-12zM550 93h4v4h-4zM562 97h16v4h-16zM586 97h28v4h-28zM646 97h28v4h-28zM402 101h4v4h-4zM202 105h4v4h-4zM394 105h8v4h-8zM706 105h4v4h-4zM558 113h44v4h-44zM230 117h4v4h-4zM610 117h4v4h-4zM738 117h4v4h-4zM186 121h4v4h-4zM234 121h4v4h-4zM510 121h36v4h-36zM666 121h4v4h-4zM126 129h4v4h-4zM198 129h4v4h-4zM502 129h4v4h-4zM126 133h4v4h-4zM246 133h4v4h-4zM670 133h4v4h-4zM202 137h4v4h-4zM270 137h4v4h-4zM670 137h4v4h-4zM742 137h4v4h-4zM194 141h4v4h-4zM278 141h4v4h-4zM282 145h4v4h-4zM730 145h4v4h-4zM190 149h4v4h-4zM498 149h4v4h-4zM666 149h4v4h-4zM714 149h4v4h-4zM190 153h4v4h-4zM494 153h4v4h-4zM190 157h4v4h-4zM390 157h24v4h-24zM434 157h4v4h-4zM478 157h4v4h-4zM386 161h4v4h-4zM442 161h4v4h-4zM698 161h4v4h-4zM194 169h4v4h-4zM198 181h4v4h-4zM234 185h4v4h-4zM658 185h8v4h-8zM206 189h4v4h-4zM222 189h8v4h-8zM670 193h4v4h-4zM674 201h4v4h-4zM694 201h4v4h-4zM682 205h4v4h-4zM482 221h4v4h-4zM446 237h36v4h-36zM434 241h4v4h-4zM710 269h12v4h-12zM518 273h4v4h-4zM706 273h20v4h-20zM290 277h4v4h-4zM514 277h4v4h-4zM698 277h48v4h-48zM286 281h4v4h-4zM514 281h4v4h-4zM690 281h64v4h-64zM510 285h4v4h-4zM686 285h68v4h-68zM510 289h4v4h-4zM742 289h16v4h-16zM506 293h4v4h-4zM534 293h4v4h-4zM322 297h4v4h-4zM490 297h4v4h-4zM534 297h4v4h-4zM286 301h4v4h-4zM490 301h12v4h-12zM494 305h8v4h-8zM666 305h4v4h-4zM494 309h4v4h-4zM666 309h12v4h-12zM494 313h4v4h-4zM670 313h12v4h-12zM290 317h4v4h-4zM670 317h12v4h-12zM678 321h8v4h-8zM294 325h4v4h-4zM682 325h4v4h-4zM682 329h4v4h-4zM686 333h4v4h-4zM750 337h8v4h-8zM742 341h8v4h-8zM238 345h16v4h-16zM738 345h4v4h-4zM794 345h4v4h-4zM238 349h32v4h-32zM798 349h4v4h-4zM234 353h36v4h-36zM802 353h4v4h-4zM234 357h32v4h-32zM234 361h12v4h-12zM238 365h4v4h-4z"/>
<path fill="#8f6f68" d="M474 73h4v4h-4zM450 77h16v4h-16zM462 81h4v4h-4zM526 81h4v4h-4zM470 85h4v4h-4zM686 85h12v4h-12zM682 89h4v4h-4zM698 89h4v4h-4zM678 93h4v4h-4zM446 97h4v4h-4zM702 97h4v4h-4zM398 101h4v4h-4zM390 105h4v4h-4zM726 109h4v4h-4zM222 113h4v4h-4zM606 117h4v4h-4zM130 121h4v4h-4zM162 121h4v4h-4zM182 121h4v4h-4zM662 121h4v4h-4zM742 121h4v4h-4zM190 125h4v4h-4zM238 125h4v4h-4zM506 125h8v4h-8zM154 129h4v4h-4zM194 129h4v4h-4zM242 129h4v4h-4zM122 133h4v4h-4zM202 133h4v4h-4zM250 133h12v4h-12zM502 133h4v4h-4zM122 137h8v4h-8zM198 137h4v4h-4zM274 137h4v4h-4zM502 137h4v4h-4zM746 137h4v4h-4zM282 141h4v4h-4zM502 141h4v4h-4zM738 141h4v4h-4zM190 145h4v4h-4zM286 145h4v4h-4zM502 145h4v4h-4zM662 149h4v4h-4zM718 149h8v4h-8zM498 153h4v4h-4zM650 153h4v4h-4zM706 153h4v4h-4zM414 157h8v4h-8zM430 157h4v4h-4zM482 157h4v4h-4zM702 157h4v4h-4zM190 161h4v4h-4zM390 161h8v4h-8zM474 161h4v4h-4zM190 165h4v4h-4zM450 165h8v4h-8zM194 173h4v4h-4zM194 177h4v4h-4zM198 185h4v4h-4zM238 185h8v4h-8zM654 185h4v4h-4zM230 189h8v4h-8zM686 205h16v4h-16zM482 233h4v4h-4zM438 241h36v4h-36zM430 245h4v4h-4zM426 249h4v4h-4zM710 265h4v4h-4zM706 269h4v4h-4zM722 269h4v4h-4zM698 273h8v4h-8zM726 273h20v4h-20zM310 277h4v4h-4zM690 277h8v4h-8zM746 277h8v4h-8zM314 281h4v4h-4zM434 281h64v4h-64zM510 281h4v4h-4zM282 285h4v4h-4zM434 285h68v4h-68zM506 285h4v4h-4zM542 285h4v4h-4zM282 289h4v4h-4zM318 289h4v4h-4zM434 289h76v4h-76zM538 289h4v4h-4zM694 289h48v4h-48zM282 293h4v4h-4zM438 293h16v4h-16zM470 293h36v4h-36zM538 293h4v4h-4zM750 293h12v4h-12zM282 297h4v4h-4zM438 297h8v4h-8zM474 297h16v4h-16zM494 297h8v4h-8zM666 297h4v4h-4zM758 297h8v4h-8zM478 301h12v4h-12zM666 301h4v4h-4zM286 305h4v4h-4zM482 305h12v4h-12zM670 305h4v4h-4zM482 309h12v4h-12zM678 309h8v4h-8zM482 313h12v4h-12zM682 313h4v4h-4zM478 317h16v4h-16zM682 317h4v4h-4zM290 321h4v4h-4zM478 321h12v4h-12zM474 325h12v4h-12zM686 325h4v4h-4zM242 329h4v4h-4zM466 329h16v4h-16zM686 329h4v4h-4zM238 333h16v4h-16zM454 333h12v4h-12zM238 337h20v4h-20zM742 337h8v4h-8zM758 337h4v4h-4zM238 341h36v4h-36zM738 341h4v4h-4zM254 345h24v4h-24zM790 345h4v4h-4zM270 349h4v4h-4zM786 349h12v4h-12zM270 353h4v4h-4zM790 353h12v4h-12zM266 357h16v4h-16zM794 357h12v4h-12zM246 361h36v4h-36zM242 365h40v4h-40zM238 369h44v4h-44zM242 373h28v4h-28zM274 373h8v4h-8zM250 377h16v4h-16z"/>
<path fill="#957365" d="M286 53h92v4h-92zM286 57h104v4h-104zM458 57h8v4h-8zM518 57h40v4h-40zM622 57h20v4h-20zM286 61h108v4h-108zM434 61h48v4h-48zM514 61h48v4h-48zM618 61h36v4h-36zM286 65h108v4h-108zM430 65h56v4h-56zM510 65h48v4h-48zM614 65h36v4h-36zM286 69h104v4h-104zM430 69h52v4h-52zM514 69h32v4h-32zM726 69h16v4h-16zM286 73h96v4h-96zM434 73h40v4h-40zM518 73h24v4h-24zM694 73h8v4h-8zM282 77h96v4h-96zM438 77h12v4h-12zM530 77h4v4h-4zM686 77h16v4h-16zM282 81h96v4h-96zM450 81h4v4h-4zM478 81h4v4h-4zM686 81h16v4h-16zM282 85h92v4h-92zM466 85h4v4h-4zM474 85h4v4h-4zM682 85h4v4h-4zM698 85h4v4h-4zM286 89h80v4h-80zM550 89h4v4h-4zM286 93h76v4h-76zM554 93h4v4h-4zM702 93h4v4h-4zM286 97h72v4h-72zM386 97h4v4h-4zM506 97h4v4h-4zM614 97h4v4h-4zM642 97h4v4h-4zM134 101h4v4h-4zM150 101h4v4h-4zM286 101h56v4h-56zM354 101h4v4h-4zM390 101h8v4h-8zM206 105h4v4h-4zM290 105h48v4h-48zM354 105h4v4h-4zM294 109h32v4h-32zM298 113h28v4h-28zM306 117h16v4h-16zM550 117h4v4h-4zM18 121h16v4h-16zM166 121h4v4h-4zM178 121h4v4h-4zM238 121h4v4h-4zM286 121h4v4h-4zM546 121h4v4h-4zM614 121h16v4h-16zM646 121h16v4h-16zM6 125h36v4h-36zM286 125h8v4h-8zM514 125h32v4h-32zM666 125h4v4h-4zM806 125h18v4h-18zM6 129h48v4h-48zM282 129h16v4h-16zM506 129h4v4h-4zM794 129h30v4h-30zM6 133h32v4h-32zM194 133h8v4h-8zM262 133h8v4h-8zM282 133h16v4h-16zM506 133h4v4h-4zM802 133h22v4h-22zM6 137h16v4h-16zM114 137h8v4h-8zM130 137h8v4h-8zM194 137h4v4h-4zM278 137h24v4h-24zM750 137h12v4h-12zM814 137h10v4h-10zM190 141h4v4h-4zM286 141h16v4h-16zM742 141h24v4h-24zM290 145h8v4h-8zM666 145h4v4h-4zM734 145h4v4h-4zM750 145h16v4h-16zM290 149h4v4h-4zM502 149h4v4h-4zM654 149h8v4h-8zM726 149h4v4h-4zM754 149h4v4h-4zM346 153h8v4h-8zM710 153h12v4h-12zM342 157h20v4h-20zM422 157h4v4h-4zM486 157h8v4h-8zM706 157h4v4h-4zM342 161h24v4h-24zM398 161h4v4h-4zM702 161h4v4h-4zM346 165h16v4h-16zM458 165h4v4h-4zM698 165h4v4h-4zM190 169h4v4h-4zM354 169h4v4h-4zM698 173h4v4h-4zM194 181h4v4h-4zM650 185h4v4h-4zM238 189h12v4h-12zM666 189h4v4h-4zM46 193h16v4h-16zM226 193h24v4h-24zM42 197h24v4h-24zM230 197h28v4h-28zM670 197h4v4h-4zM46 201h24v4h-24zM234 201h36v4h-36zM50 205h20v4h-20zM234 205h44v4h-44zM54 209h12v4h-12zM238 209h44v4h-44zM682 209h20v4h-20zM682 213h20v4h-20zM682 217h24v4h-24zM678 221h32v4h-32zM678 225h32v4h-32zM674 229h36v4h-36zM670 233h40v4h-40zM482 237h4v4h-4zM666 237h44v4h-44zM206 241h4v4h-4zM474 241h8v4h-8zM626 241h92v4h-92zM202 245h12v4h-12zM434 245h44v4h-44zM630 245h104v4h-104zM198 249h20v4h-20zM430 249h48v4h-48zM634 249h112v4h-112zM750 249h16v4h-16zM202 253h12v4h-12zM426 253h52v4h-52zM634 253h136v4h-136zM206 257h4v4h-4zM430 257h52v4h-52zM638 257h136v4h-136zM434 261h64v4h-64zM642 261h140v4h-140zM434 265h80v4h-80zM646 265h64v4h-64zM722 265h64v4h-64zM438 269h76v4h-76zM650 269h56v4h-56zM726 269h36v4h-36zM766 269h24v4h-24zM18 273h12v4h-12zM298 273h4v4h-4zM438 273h76v4h-76zM658 273h40v4h-40zM746 273h20v4h-20zM770 273h16v4h-16zM14 277h20v4h-20zM434 277h80v4h-80zM682 277h8v4h-8zM754 277h8v4h-8zM774 277h8v4h-8zM790 277h8v4h-8zM818 277h6v4h-6zM14 281h20v4h-20zM74 281h4v4h-4zM282 281h4v4h-4zM498 281h12v4h-12zM786 281h16v4h-16zM814 281h10v4h-10zM18 285h12v4h-12zM70 285h12v4h-12zM270 285h12v4h-12zM502 285h4v4h-4zM682 285h4v4h-4zM786 285h16v4h-16zM810 285h14v4h-14zM66 289h20v4h-20zM266 289h16v4h-16zM542 289h8v4h-8zM690 289h4v4h-4zM782 289h16v4h-16zM810 289h14v4h-14zM70 293h12v4h-12zM270 293h12v4h-12zM322 293h4v4h-4zM454 293h16v4h-16zM542 293h12v4h-12zM746 293h4v4h-4zM778 293h20v4h-20zM814 293h10v4h-10zM278 297h4v4h-4zM326 297h4v4h-4zM446 297h4v4h-4zM470 297h4v4h-4zM538 297h16v4h-16zM750 297h8v4h-8zM782 297h20v4h-20zM282 301h4v4h-4zM438 301h4v4h-4zM474 301h4v4h-4zM538 301h12v4h-12zM670 301h4v4h-4zM762 301h4v4h-4zM786 301h16v4h-16zM478 305h4v4h-4zM790 305h8v4h-8zM478 309h4v4h-4zM478 313h4v4h-4zM474 317h4v4h-4zM242 321h4v4h-4zM470 321h8v4h-8zM686 321h4v4h-4zM242 325h8v4h-8zM458 325h16v4h-16zM246 329h4v4h-4zM450 329h16v4h-16zM254 333h4v4h-4zM750 333h12v4h-12zM258 337h12v4h-12zM10 341h8v4h-8zM274 341h4v4h-4zM734 341h4v4h-4zM6 345h16v4h-16zM6 349h16v4h-16zM10 353h8v4h-8zM566 353h12v4h-12zM786 353h4v4h-4zM282 357h4v4h-4zM562 357h20v4h-20zM790 357h4v4h-4zM282 361h8v4h-8zM566 361h16v4h-16zM794 361h8v4h-8zM282 365h8v4h-8zM326 365h12v4h-12zM570 365h8v4h-8zM282 369h8v4h-8zM322 369h20v4h-20zM282 373h4v4h-4zM322 373h20v4h-20zM266 377h4v4h-4zM326 377h12v4h-12z"/>
<path fill="#9c7863" d="M282 53h4v4h-4zM282 57h4v4h-4zM282 61h4v4h-4zM282 65h4v4h-4zM282 69h4v4h-4zM742 69h12v4h-12zM282 73h4v4h-4zM702 73h4v4h-4zM730 73h8v4h-8zM682 77h4v4h-4zM682 81h4v4h-4zM382 93h4v4h-4zM558 93h8v4h-8zM674 93h4v4h-4zM358 97h4v4h-4zM450 97h12v4h-12zM474 97h16v4h-16zM386 101h4v4h-4zM706 101h4v4h-4zM386 105h4v4h-4zM710 105h4v4h-4zM214 109h4v4h-4zM738 113h4v4h-4zM234 117h4v4h-4zM282 117h4v4h-4zM602 117h4v4h-4zM34 121h4v4h-4zM170 121h8v4h-8zM282 121h4v4h-4zM610 121h4v4h-4zM630 121h4v4h-4zM42 125h8v4h-8zM126 125h4v4h-4zM158 125h4v4h-4zM186 125h4v4h-4zM242 125h4v4h-4zM278 125h8v4h-8zM802 125h4v4h-4zM122 129h4v4h-4zM190 129h4v4h-4zM246 129h16v4h-16zM278 129h4v4h-4zM510 129h12v4h-12zM666 129h4v4h-4zM790 129h4v4h-4zM118 133h4v4h-4zM154 133h4v4h-4zM270 133h12v4h-12zM666 133h4v4h-4zM758 133h4v4h-4zM138 137h12v4h-12zM190 137h4v4h-4zM506 137h4v4h-4zM666 137h4v4h-4zM762 137h4v4h-4zM122 141h4v4h-4zM186 141h4v4h-4zM506 141h4v4h-4zM666 141h4v4h-4zM766 141h4v4h-4zM186 145h4v4h-4zM506 145h4v4h-4zM738 145h12v4h-12zM186 149h4v4h-4zM506 149h4v4h-4zM650 149h4v4h-4zM730 149h4v4h-4zM746 149h8v4h-8zM186 153h4v4h-4zM502 153h4v4h-4zM722 153h4v4h-4zM750 153h4v4h-4zM186 157h4v4h-4zM426 157h4v4h-4zM494 157h4v4h-4zM710 157h8v4h-8zM186 161h4v4h-4zM402 161h8v4h-8zM478 161h4v4h-4zM706 161h4v4h-4zM186 165h4v4h-4zM446 165h4v4h-4zM462 165h4v4h-4zM702 165h4v4h-4zM186 169h4v4h-4zM698 169h4v4h-4zM186 173h8v4h-8zM190 177h4v4h-4zM190 181h4v4h-4zM194 185h4v4h-4zM198 189h4v4h-4zM222 193h4v4h-4zM226 197h4v4h-4zM230 201h4v4h-4zM234 209h4v4h-4zM242 213h16v4h-16zM282 213h4v4h-4zM486 225h4v4h-4zM674 225h4v4h-4zM626 233h4v4h-4zM622 237h36v4h-36zM662 237h4v4h-4zM478 245h4v4h-4zM478 249h4v4h-4zM478 253h8v4h-8zM482 257h24v4h-24zM498 261h16v4h-16zM302 273h4v4h-4zM286 277h4v4h-4zM266 281h16v4h-16zM266 285h4v4h-4zM318 285h4v4h-4zM686 289h4v4h-4zM266 293h4v4h-4zM270 297h8v4h-8zM450 297h8v4h-8zM466 297h4v4h-4zM670 297h4v4h-4zM442 301h8v4h-8zM470 301h4v4h-4zM754 301h8v4h-8zM438 305h4v4h-4zM474 305h4v4h-4zM674 305h4v4h-4zM766 305h4v4h-4zM286 309h4v4h-4zM474 309h4v4h-4zM686 309h4v4h-4zM474 313h4v4h-4zM686 313h4v4h-4zM470 317h4v4h-4zM686 317h4v4h-4zM246 321h4v4h-4zM462 321h8v4h-8zM450 325h8v4h-8zM250 329h4v4h-4zM294 329h4v4h-4zM690 329h4v4h-4zM746 333h4v4h-4zM270 337h4v4h-4zM738 337h4v4h-4zM278 341h4v4h-4z"/>
<path fill="#a27c61" d="M650 65h4v4h-4zM546 69h4v4h-4zM626 69h8v4h-8zM726 73h4v4h-4zM738 73h8v4h-8zM702 77h4v4h-4zM702 81h4v4h-4zM550 85h4v4h-4zM702 85h4v4h-4zM366 89h4v4h-4zM378 89h4v4h-4zM546 89h4v4h-4zM702 89h4v4h-4zM462 97h4v4h-4zM470 97h4v4h-4zM490 97h4v4h-4zM618 97h4v4h-4zM638 97h4v4h-4zM358 101h4v4h-4zM358 105h4v4h-4zM714 105h8v4h-8zM226 113h4v4h-4zM130 117h4v4h-4zM238 117h4v4h-4zM274 117h8v4h-8zM554 117h4v4h-4zM598 117h4v4h-4zM242 121h40v4h-40zM642 121h4v4h-4zM50 125h8v4h-8zM246 125h32v4h-32zM546 125h4v4h-4zM654 125h12v4h-12zM790 125h12v4h-12zM186 129h4v4h-4zM262 129h16v4h-16zM522 129h24v4h-24zM114 133h4v4h-4zM186 133h8v4h-8zM510 133h4v4h-4zM762 133h4v4h-4zM150 137h4v4h-4zM182 137h8v4h-8zM766 137h8v4h-8zM126 141h4v4h-4zM182 141h4v4h-4zM182 145h4v4h-4zM658 145h8v4h-8zM182 149h4v4h-4zM734 149h12v4h-12zM182 153h4v4h-4zM506 153h4v4h-4zM726 153h24v4h-24zM182 157h4v4h-4zM498 157h4v4h-4zM718 157h28v4h-28zM178 161h8v4h-8zM410 161h4v4h-4zM482 161h4v4h-4zM710 161h36v4h-36zM178 165h8v4h-8zM466 165h4v4h-4zM706 165h36v4h-36zM174 169h12v4h-12zM702 169h40v4h-40zM174 173h12v4h-12zM702 173h36v4h-36zM174 177h16v4h-16zM702 177h28v4h-28zM174 181h16v4h-16zM646 181h4v4h-4zM706 181h12v4h-12zM174 185h20v4h-20zM646 185h4v4h-4zM710 185h4v4h-4zM170 189h28v4h-28zM662 189h4v4h-4zM666 193h4v4h-4zM226 201h4v4h-4zM670 201h4v4h-4zM230 205h4v4h-4zM238 213h4v4h-4zM258 213h4v4h-4zM274 213h8v4h-8zM486 221h4v4h-4zM538 225h4v4h-4zM486 229h4v4h-4zM534 229h4v4h-4zM486 233h4v4h-4zM622 233h4v4h-4zM630 233h4v4h-4zM642 233h8v4h-8zM482 241h4v4h-4zM482 245h4v4h-4zM482 249h4v4h-4zM486 253h12v4h-12zM506 257h4v4h-4zM294 273h4v4h-4zM306 273h4v4h-4zM262 289h4v4h-4zM266 297h4v4h-4zM458 297h8v4h-8zM278 301h4v4h-4zM450 301h8v4h-8zM466 301h4v4h-4zM750 301h4v4h-4zM442 305h8v4h-8zM470 305h4v4h-4zM762 305h4v4h-4zM470 309h4v4h-4zM286 313h4v4h-4zM470 313h4v4h-4zM246 317h4v4h-4zM462 317h8v4h-8zM446 321h16v4h-16zM250 325h4v4h-4zM290 325h4v4h-4zM690 325h4v4h-4zM254 329h4v4h-4zM258 333h4v4h-4zM742 333h4v4h-4zM274 337h4v4h-4zM734 337h4v4h-4zM282 341h4v4h-4z"/>
<path fill="#a8815e" d="M634 69h8v4h-8zM722 73h4v4h-4zM746 73h4v4h-4zM278 81h4v4h-4zM462 85h4v4h-4zM554 89h4v4h-4zM442 93h4v4h-4zM566 93h40v4h-40zM666 93h8v4h-8zM382 97h4v4h-4zM466 97h4v4h-4zM706 97h4v4h-4zM210 105h4v4h-4zM722 105h4v4h-4zM730 109h4v4h-4zM30 117h4v4h-4zM242 117h32v4h-32zM558 117h40v4h-40zM742 117h4v4h-4zM38 121h8v4h-8zM550 121h4v4h-4zM606 121h4v4h-4zM634 121h4v4h-4zM162 125h4v4h-4zM178 125h8v4h-8zM610 125h20v4h-20zM650 125h4v4h-4zM782 125h8v4h-8zM158 129h4v4h-4zM182 129h4v4h-4zM662 129h4v4h-4zM762 129h24v4h-24zM178 133h8v4h-8zM514 133h4v4h-4zM662 133h4v4h-4zM766 133h16v4h-16zM178 137h4v4h-4zM510 137h4v4h-4zM662 137h4v4h-4zM178 141h4v4h-4zM510 141h4v4h-4zM662 141h4v4h-4zM178 145h4v4h-4zM510 145h4v4h-4zM650 145h8v4h-8zM178 149h4v4h-4zM510 149h4v4h-4zM646 149h4v4h-4zM178 153h4v4h-4zM510 153h4v4h-4zM646 153h4v4h-4zM178 157h4v4h-4zM502 157h8v4h-8zM646 157h4v4h-4zM438 161h4v4h-4zM486 161h4v4h-4zM646 161h4v4h-4zM174 165h4v4h-4zM386 165h4v4h-4zM470 165h8v4h-8zM646 165h4v4h-4zM170 169h4v4h-4zM170 173h4v4h-4zM170 177h4v4h-4zM646 177h4v4h-4zM170 181h4v4h-4zM170 185h4v4h-4zM658 189h4v4h-4zM170 193h12v4h-12zM222 197h4v4h-4zM262 213h4v4h-4zM270 213h4v4h-4zM250 217h8v4h-8zM378 217h72v4h-72zM534 225h4v4h-4zM530 229h4v4h-4zM634 233h8v4h-8zM650 233h4v4h-4zM594 241h8v4h-8zM486 249h4v4h-4zM498 253h8v4h-8zM510 257h4v4h-4zM266 277h8v4h-8zM282 277h4v4h-4zM238 285h4v4h-4zM322 289h4v4h-4zM326 293h4v4h-4zM670 293h4v4h-4zM742 293h4v4h-4zM270 301h8v4h-8zM458 301h8v4h-8zM282 305h4v4h-4zM450 305h20v4h-20zM758 305h4v4h-4zM442 309h28v4h-28zM766 309h4v4h-4zM246 313h4v4h-4zM442 313h28v4h-28zM286 317h4v4h-4zM446 317h16v4h-16zM750 329h16v4h-16zM262 333h8v4h-8zM738 333h4v4h-4zM278 337h4v4h-4z"/>
<path fill="#af855c" d="M750 73h4v4h-4zM278 77h4v4h-4zM706 77h4v4h-4zM730 77h8v4h-8zM458 81h4v4h-4zM554 85h4v4h-4zM558 89h4v4h-4zM678 89h4v4h-4zM606 93h4v4h-4zM646 93h20v4h-20zM634 97h4v4h-4zM710 101h4v4h-4zM130 113h4v4h-4zM246 113h8v4h-8zM274 113h4v4h-4zM770 117h12v4h-12zM46 121h8v4h-8zM638 121h4v4h-4zM762 121h28v4h-28zM58 125h4v4h-4zM166 125h12v4h-12zM762 125h20v4h-20zM118 129h4v4h-4zM178 129h4v4h-4zM546 129h4v4h-4zM614 129h16v4h-16zM650 129h12v4h-12zM110 133h4v4h-4zM174 133h4v4h-4zM518 133h24v4h-24zM618 133h12v4h-12zM650 133h12v4h-12zM154 137h4v4h-4zM174 137h4v4h-4zM642 137h20v4h-20zM130 141h4v4h-4zM174 141h4v4h-4zM646 141h16v4h-16zM174 145h4v4h-4zM646 145h4v4h-4zM174 149h4v4h-4zM174 153h4v4h-4zM174 157h4v4h-4zM510 157h8v4h-8zM174 161h4v4h-4zM414 161h4v4h-4zM490 161h4v4h-4zM522 161h4v4h-4zM390 165h4v4h-4zM478 165h4v4h-4zM646 169h4v4h-4zM166 173h4v4h-4zM646 173h4v4h-4zM138 177h4v4h-4zM166 177h4v4h-4zM166 181h4v4h-4zM166 185h4v4h-4zM166 189h4v4h-4zM650 189h8v4h-8zM166 193h4v4h-4zM182 193h8v4h-8zM166 197h4v4h-4zM266 213h4v4h-4zM366 213h4v4h-4zM246 217h4v4h-4zM370 217h8v4h-8zM450 217h8v4h-8zM530 225h4v4h-4zM530 233h4v4h-4zM486 237h4v4h-4zM602 237h4v4h-4zM486 241h4v4h-4zM486 245h4v4h-4zM490 249h4v4h-4zM506 253h4v4h-4zM222 261h4v4h-4zM290 273h4v4h-4zM262 277h4v4h-4zM274 277h8v4h-8zM314 277h4v4h-4zM262 293h4v4h-4zM746 297h4v4h-4zM266 301h4v4h-4zM678 305h8v4h-8zM754 305h4v4h-4zM690 309h4v4h-4zM762 309h4v4h-4zM770 313h4v4h-4zM286 321h4v4h-4zM690 321h4v4h-4zM290 329h4v4h-4zM746 329h4v4h-4zM270 333h4v4h-4zM282 337h4v4h-4zM730 337h4v4h-4z"/>
<path fill="#b58a59" d="M278 65h4v4h-4zM278 69h4v4h-4zM622 69h4v4h-4zM278 73h4v4h-4zM726 77h4v4h-4zM738 77h4v4h-4zM482 81h4v4h-4zM478 85h4v4h-4zM610 93h4v4h-4zM706 93h4v4h-4zM502 97h4v4h-4zM622 97h4v4h-4zM382 101h4v4h-4zM130 105h4v4h-4zM130 109h4v4h-4zM30 113h4v4h-4zM230 113h4v4h-4zM238 113h8v4h-8zM254 113h4v4h-4zM270 113h4v4h-4zM742 113h4v4h-4zM34 117h4v4h-4zM766 117h4v4h-4zM782 117h4v4h-4zM54 121h4v4h-4zM602 121h4v4h-4zM790 121h4v4h-4zM550 125h4v4h-4zM606 125h4v4h-4zM646 125h4v4h-4zM170 129h8v4h-8zM610 129h4v4h-4zM158 133h4v4h-4zM170 133h4v4h-4zM542 133h4v4h-4zM610 133h8v4h-8zM646 133h4v4h-4zM170 137h4v4h-4zM514 137h4v4h-4zM622 137h20v4h-20zM134 141h4v4h-4zM638 141h8v4h-8zM514 153h4v4h-4zM518 157h28v4h-28zM494 161h28v4h-28zM526 161h4v4h-4zM170 165h4v4h-4zM394 165h4v4h-4zM482 165h4v4h-4zM166 169h4v4h-4zM138 173h28v4h-28zM142 177h8v4h-8zM162 177h4v4h-4zM646 189h4v4h-4zM162 193h4v4h-4zM190 193h12v4h-12zM218 193h4v4h-4zM162 197h4v4h-4zM170 197h4v4h-4zM666 197h4v4h-4zM162 201h4v4h-4zM670 205h4v4h-4zM234 213h4v4h-4zM242 217h4v4h-4zM258 217h4v4h-4zM458 217h8v4h-8zM246 221h12v4h-12zM490 225h4v4h-4zM526 229h4v4h-4zM626 229h8v4h-8zM642 229h4v4h-4zM654 233h4v4h-4zM594 237h8v4h-8zM494 249h12v4h-12zM510 253h4v4h-4zM222 257h4v4h-4zM226 261h4v4h-4zM258 273h8v4h-8zM310 273h4v4h-4zM238 281h4v4h-4zM318 281h4v4h-4zM730 293h12v4h-12zM278 305h4v4h-4zM686 305h4v4h-4zM750 305h4v4h-4zM282 309h4v4h-4zM758 309h4v4h-4zM690 313h4v4h-4zM766 313h4v4h-4zM690 317h4v4h-4zM254 325h4v4h-4zM258 329h4v4h-4zM694 329h4v4h-4zM742 329h4v4h-4zM274 333h4v4h-4zM734 333h4v4h-4zM286 337h4v4h-4z"/>
<path fill="#bc8e57" d="M278 57h4v4h-4zM278 61h4v4h-4zM642 69h4v4h-4zM754 73h4v4h-4zM742 77h4v4h-4zM706 81h4v4h-4zM502 85h4v4h-4zM706 85h4v4h-4zM466 89h12v4h-12zM706 89h4v4h-4zM362 93h4v4h-4zM138 97h8v4h-8zM494 97h4v4h-4zM626 97h8v4h-8zM130 101h4v4h-4zM154 101h4v4h-4zM714 101h8v4h-8zM218 109h4v4h-4zM234 113h4v4h-4zM258 113h4v4h-4zM266 113h4v4h-4zM766 113h8v4h-8zM38 117h4v4h-4zM746 117h4v4h-4zM762 117h4v4h-4zM58 121h4v4h-4zM554 121h4v4h-4zM758 121h4v4h-4zM122 125h4v4h-4zM162 129h8v4h-8zM606 129h4v4h-4zM166 133h4v4h-4zM546 133h4v4h-4zM630 133h4v4h-4zM158 137h4v4h-4zM518 137h4v4h-4zM614 137h8v4h-8zM138 141h12v4h-12zM170 141h4v4h-4zM514 141h4v4h-4zM634 141h4v4h-4zM126 145h4v4h-4zM170 145h4v4h-4zM514 145h4v4h-4zM642 145h4v4h-4zM514 149h4v4h-4zM518 153h4v4h-4zM546 157h4v4h-4zM170 161h4v4h-4zM434 161h4v4h-4zM530 161h16v4h-16zM398 165h8v4h-8zM442 165h4v4h-4zM486 165h4v4h-4zM146 169h20v4h-20zM134 173h4v4h-4zM150 177h4v4h-4zM158 177h4v4h-4zM162 181h4v4h-4zM162 185h4v4h-4zM162 189h4v4h-4zM662 193h4v4h-4zM174 197h8v4h-8zM166 201h4v4h-4zM222 201h4v4h-4zM666 201h4v4h-4zM466 217h16v4h-16zM242 221h4v4h-4zM258 221h4v4h-4zM490 221h4v4h-4zM250 225h8v4h-8zM526 225h4v4h-4zM490 229h4v4h-4zM622 229h4v4h-4zM634 229h8v4h-8zM646 229h4v4h-4zM490 233h4v4h-4zM526 233h4v4h-4zM598 233h12v4h-12zM490 237h4v4h-4zM530 237h4v4h-4zM590 237h4v4h-4zM490 241h4v4h-4zM490 245h8v4h-8zM506 249h8v4h-8zM222 253h8v4h-8zM514 253h4v4h-4zM226 257h4v4h-4zM230 261h4v4h-4zM226 265h4v4h-4zM254 273h4v4h-4zM266 273h4v4h-4zM234 281h4v4h-4zM262 285h4v4h-4zM258 289h4v4h-4zM330 293h4v4h-4zM674 301h4v4h-4zM270 305h8v4h-8zM690 305h8v4h-8zM246 309h4v4h-4zM694 309h4v4h-4zM762 313h4v4h-4zM766 317h4v4h-4zM286 325h4v4h-4zM694 325h4v4h-4zM750 325h16v4h-16zM262 329h4v4h-4zM738 329h4v4h-4zM278 333h4v4h-4zM290 333h4v4h-4zM726 337h4v4h-4z"/>
<path fill="#c29355" d="M558 65h4v4h-4zM446 93h4v4h-4zM506 93h4v4h-4zM134 97h4v4h-4zM498 97h4v4h-4zM710 97h4v4h-4zM722 101h4v4h-4zM362 109h4v4h-4zM734 109h4v4h-4zM26 113h4v4h-4zM34 113h4v4h-4zM262 113h4v4h-4zM746 113h4v4h-4zM758 113h8v4h-8zM774 113h4v4h-4zM42 117h16v4h-16zM750 117h12v4h-12zM786 117h4v4h-4zM126 121h4v4h-4zM598 121h4v4h-4zM794 121h4v4h-4zM62 125h4v4h-4zM114 129h4v4h-4zM550 129h4v4h-4zM646 129h4v4h-4zM162 133h4v4h-4zM606 133h4v4h-4zM642 133h4v4h-4zM162 137h8v4h-8zM522 137h24v4h-24zM610 137h4v4h-4zM150 141h4v4h-4zM518 141h4v4h-4zM630 141h4v4h-4zM130 145h4v4h-4zM126 149h4v4h-4zM170 149h4v4h-4zM126 153h4v4h-4zM170 153h4v4h-4zM522 153h24v4h-24zM170 157h4v4h-4zM550 157h4v4h-4zM418 161h4v4h-4zM546 161h4v4h-4zM166 165h4v4h-4zM406 165h4v4h-4zM510 165h16v4h-16zM138 169h8v4h-8zM154 177h4v4h-4zM146 181h4v4h-4zM642 185h4v4h-4zM158 193h4v4h-4zM658 193h4v4h-4zM158 197h4v4h-4zM182 197h4v4h-4zM226 205h4v4h-4zM230 209h4v4h-4zM262 217h4v4h-4zM274 217h12v4h-12zM238 221h4v4h-4zM242 225h8v4h-8zM494 225h4v4h-4zM246 229h8v4h-8zM494 229h4v4h-4zM522 229h4v4h-4zM606 229h4v4h-4zM650 229h4v4h-4zM494 233h4v4h-4zM522 233h4v4h-4zM594 233h4v4h-4zM494 237h4v4h-4zM522 237h8v4h-8zM494 241h4v4h-4zM526 241h4v4h-4zM498 245h16v4h-16zM222 249h12v4h-12zM514 249h4v4h-4zM230 253h4v4h-4zM230 257h8v4h-8zM234 261h4v4h-4zM230 265h8v4h-8zM230 269h4v4h-4zM254 269h12v4h-12zM238 273h16v4h-16zM286 273h4v4h-4zM234 277h12v4h-12zM242 281h4v4h-4zM262 281h4v4h-4zM322 285h4v4h-4zM326 289h4v4h-4zM682 289h4v4h-4zM726 293h4v4h-4zM746 301h4v4h-4zM266 305h4v4h-4zM746 305h4v4h-4zM754 309h4v4h-4zM282 313h4v4h-4zM758 313h4v4h-4zM762 317h4v4h-4zM250 321h4v4h-4zM694 321h4v4h-4zM762 321h8v4h-8zM746 325h4v4h-4zM286 329h4v4h-4zM282 333h8v4h-8zM730 333h4v4h-4z"/>
<path fill="#c99752" d="M722 77h4v4h-4zM746 77h4v4h-4zM6 81h4v4h-4zM458 85h4v4h-4zM558 85h4v4h-4zM442 89h4v4h-4zM462 89h4v4h-4zM642 93h4v4h-4zM146 97h4v4h-4zM754 101h12v4h-12zM214 105h4v4h-4zM754 105h16v4h-16zM30 109h8v4h-8zM750 109h24v4h-24zM38 113h4v4h-4zM750 113h8v4h-8zM778 113h4v4h-4zM58 117h4v4h-4zM62 121h4v4h-4zM558 121h40v4h-40zM810 121h4v4h-4zM602 125h4v4h-4zM550 133h4v4h-4zM546 137h4v4h-4zM606 137h4v4h-4zM154 141h4v4h-4zM166 141h4v4h-4zM522 141h20v4h-20zM626 141h4v4h-4zM134 145h4v4h-4zM518 145h4v4h-4zM638 145h4v4h-4zM130 149h4v4h-4zM518 149h24v4h-24zM642 149h4v4h-4zM546 153h4v4h-4zM126 157h4v4h-4zM554 157h4v4h-4zM126 161h4v4h-4zM430 161h4v4h-4zM550 161h4v4h-4zM162 165h4v4h-4zM490 165h4v4h-4zM502 165h8v4h-8zM134 169h4v4h-4zM150 181h12v4h-12zM146 185h4v4h-4zM158 185h4v4h-4zM158 189h4v4h-4zM642 189h4v4h-4zM154 193h4v4h-4zM646 193h12v4h-12zM186 197h8v4h-8zM662 197h4v4h-4zM170 201h4v4h-4zM666 205h4v4h-4zM482 217h4v4h-4zM494 221h8v4h-8zM238 225h4v4h-4zM258 225h4v4h-4zM498 225h8v4h-8zM522 225h4v4h-4zM234 229h12v4h-12zM254 229h4v4h-4zM498 229h24v4h-24zM598 229h8v4h-8zM234 233h24v4h-24zM498 233h24v4h-24zM590 233h4v4h-4zM230 237h28v4h-28zM498 237h24v4h-24zM230 241h28v4h-28zM498 241h28v4h-28zM226 245h32v4h-32zM514 245h12v4h-12zM234 249h24v4h-24zM518 249h4v4h-4zM234 253h24v4h-24zM238 257h24v4h-24zM238 261h24v4h-24zM238 265h24v4h-24zM234 269h20v4h-20zM230 273h8v4h-8zM270 273h4v4h-4zM242 285h4v4h-4zM254 289h4v4h-4zM246 293h4v4h-4zM254 293h8v4h-8zM690 293h12v4h-12zM698 305h4v4h-4zM698 309h4v4h-4zM750 309h4v4h-4zM694 313h4v4h-4zM282 317h4v4h-4zM694 317h4v4h-4zM758 317h4v4h-4zM754 321h8v4h-8zM258 325h4v4h-4zM742 325h4v4h-4zM266 329h8v4h-8zM698 329h4v4h-4zM734 329h4v4h-4zM726 333h4v4h-4z"/>
<path fill="#cf9c50" d="M710 77h4v4h-4zM750 77h4v4h-4zM730 81h8v4h-8zM34 85h4v4h-4zM678 85h4v4h-4zM478 89h4v4h-4zM506 89h4v4h-4zM450 93h44v4h-44zM614 93h4v4h-4zM710 93h4v4h-4zM130 97h4v4h-4zM714 97h12v4h-12zM158 101h24v4h-24zM750 101h4v4h-4zM766 101h4v4h-4zM34 105h8v4h-8zM382 105h4v4h-4zM726 105h4v4h-4zM750 105h4v4h-4zM38 109h4v4h-4zM738 109h4v4h-4zM746 109h4v4h-4zM42 113h20v4h-20zM798 121h4v4h-4zM806 121h4v4h-4zM554 125h4v4h-4zM630 125h4v4h-4zM110 129h4v4h-4zM602 129h4v4h-4zM602 133h4v4h-4zM634 133h8v4h-8zM158 141h8v4h-8zM542 141h8v4h-8zM622 141h4v4h-4zM138 145h4v4h-4zM166 145h4v4h-4zM522 145h24v4h-24zM542 149h8v4h-8zM130 153h4v4h-4zM550 153h4v4h-4zM130 157h4v4h-4zM558 157h4v4h-4zM130 161h4v4h-4zM166 161h4v4h-4zM422 161h8v4h-8zM554 161h4v4h-4zM130 165h32v4h-32zM410 165h4v4h-4zM494 165h8v4h-8zM526 165h4v4h-4zM478 169h4v4h-4zM150 185h8v4h-8zM150 189h8v4h-8zM642 193h4v4h-4zM194 197h4v4h-4zM218 197h4v4h-4zM658 197h4v4h-4zM174 201h4v4h-4zM662 201h4v4h-4zM266 217h8v4h-8zM234 221h4v4h-4zM262 221h4v4h-4zM502 221h4v4h-4zM234 225h4v4h-4zM506 225h8v4h-8zM518 225h4v4h-4zM626 225h24v4h-24zM258 229h4v4h-4zM594 229h4v4h-4zM654 229h4v4h-4zM662 229h4v4h-4zM230 233h4v4h-4zM258 233h4v4h-4zM226 237h4v4h-4zM258 237h4v4h-4zM258 241h4v4h-4zM258 245h4v4h-4zM258 249h4v4h-4zM258 253h4v4h-4zM262 265h4v4h-4zM298 269h8v4h-8zM274 273h4v4h-4zM282 273h4v4h-4zM314 273h4v4h-4zM318 277h4v4h-4zM250 293h4v4h-4zM702 293h8v4h-8zM714 293h12v4h-12zM246 297h4v4h-4zM702 305h4v4h-4zM278 309h4v4h-4zM702 309h4v4h-4zM746 309h4v4h-4zM698 313h4v4h-4zM754 313h4v4h-4zM754 317h4v4h-4zM282 321h4v4h-4zM698 321h4v4h-4zM746 321h8v4h-8zM698 325h4v4h-4zM734 325h8v4h-8zM274 329h12v4h-12zM730 329h4v4h-4zM722 337h4v4h-4z"/>
<path fill="#d6a04d" d="M10 81h4v4h-4zM710 81h4v4h-4zM738 81h4v4h-4zM450 85h8v4h-8zM482 85h20v4h-20zM446 89h16v4h-16zM482 89h24v4h-24zM562 89h4v4h-4zM710 89h4v4h-4zM378 93h4v4h-4zM494 93h12v4h-12zM38 97h4v4h-4zM750 97h20v4h-20zM34 101h28v4h-28zM126 101h4v4h-4zM182 101h20v4h-20zM770 101h4v4h-4zM42 105h20v4h-20zM770 105h4v4h-4zM42 109h20v4h-20zM222 109h4v4h-4zM246 109h4v4h-4zM742 109h4v4h-4zM782 113h4v4h-4zM62 117h4v4h-4zM790 117h4v4h-4zM802 121h4v4h-4zM66 125h4v4h-4zM118 125h4v4h-4zM598 125h4v4h-4zM554 129h4v4h-4zM550 137h4v4h-4zM602 137h4v4h-4zM550 141h4v4h-4zM614 141h8v4h-8zM142 145h4v4h-4zM546 145h4v4h-4zM634 145h4v4h-4zM134 149h4v4h-4zM166 149h4v4h-4zM550 149h4v4h-4zM134 153h4v4h-4zM554 153h4v4h-4zM642 153h4v4h-4zM134 157h4v4h-4zM166 157h4v4h-4zM134 161h4v4h-4zM558 161h4v4h-4zM438 165h4v4h-4zM450 169h4v4h-4zM474 169h4v4h-4zM482 169h4v4h-4zM642 181h4v4h-4zM206 193h4v4h-4zM214 193h4v4h-4zM642 197h16v4h-16zM178 201h8v4h-8zM610 201h8v4h-8zM642 201h20v4h-20zM610 205h8v4h-8zM642 205h24v4h-24zM610 209h4v4h-4zM630 209h40v4h-40zM622 213h48v4h-48zM486 217h4v4h-4zM618 217h52v4h-52zM534 221h12v4h-12zM618 221h52v4h-52zM230 225h4v4h-4zM514 225h4v4h-4zM594 225h12v4h-12zM618 225h8v4h-8zM650 225h20v4h-20zM230 229h4v4h-4zM590 229h4v4h-4zM658 229h4v4h-4zM226 233h4v4h-4zM586 233h4v4h-4zM262 257h4v4h-4zM262 261h4v4h-4zM266 269h4v4h-4zM294 269h4v4h-4zM306 269h4v4h-4zM278 273h4v4h-4zM322 281h4v4h-4zM242 289h4v4h-4zM330 289h4v4h-4zM686 293h4v4h-4zM710 293h4v4h-4zM674 297h4v4h-4zM742 305h4v4h-4zM270 309h8v4h-8zM706 309h40v4h-40zM702 313h52v4h-52zM250 317h4v4h-4zM698 317h56v4h-56zM702 321h44v4h-44zM262 325h4v4h-4zM282 325h4v4h-4zM702 325h32v4h-32zM718 329h12v4h-12zM718 333h8v4h-8z"/>
<path fill="#dca54b" d="M542 73h4v4h-4zM718 77h4v4h-4zM678 81h4v4h-4zM726 81h4v4h-4zM742 81h4v4h-4zM710 85h4v4h-4zM34 89h4v4h-4zM34 93h4v4h-4zM714 93h12v4h-12zM754 93h12v4h-12zM34 97h4v4h-4zM62 101h4v4h-4zM202 101h8v4h-8zM30 105h4v4h-4zM242 109h4v4h-4zM250 109h4v4h-4zM774 109h4v4h-4zM62 113h4v4h-4zM558 125h40v4h-40zM106 129h4v4h-4zM598 129h4v4h-4zM630 129h4v4h-4zM554 133h4v4h-4zM598 133h4v4h-4zM554 137h4v4h-4zM554 141h4v4h-4zM610 141h4v4h-4zM146 145h12v4h-12zM162 145h4v4h-4zM550 145h4v4h-4zM138 149h4v4h-4zM554 149h4v4h-4zM166 153h4v4h-4zM558 153h4v4h-4zM562 157h4v4h-4zM138 161h4v4h-4zM162 161h4v4h-4zM414 165h4v4h-4zM530 165h4v4h-4zM446 169h4v4h-4zM458 169h16v4h-16zM486 169h4v4h-4zM506 169h16v4h-16zM210 193h4v4h-4zM606 193h12v4h-12zM198 197h4v4h-4zM602 197h16v4h-16zM186 201h4v4h-4zM598 201h12v4h-12zM170 205h4v4h-4zM598 205h12v4h-12zM638 205h4v4h-4zM582 209h28v4h-28zM622 209h8v4h-8zM574 213h36v4h-36zM578 217h28v4h-28zM506 221h4v4h-4zM530 221h4v4h-4zM578 221h28v4h-28zM262 225h4v4h-4zM582 225h12v4h-12zM226 229h4v4h-4zM582 229h8v4h-8zM262 245h4v4h-4zM262 249h4v4h-4zM262 253h4v4h-4zM258 277h4v4h-4zM326 285h4v4h-4zM706 305h4v4h-4zM722 305h4v4h-4zM266 309h4v4h-4zM250 313h4v4h-4zM278 313h4v4h-4zM266 325h4v4h-4zM278 325h4v4h-4z"/>
<path fill="#e2a948" d="M654 65h4v4h-4zM550 69h4v4h-4zM646 69h4v4h-4zM754 77h4v4h-4zM722 81h4v4h-4zM746 81h4v4h-4zM202 85h4v4h-4zM530 89h4v4h-4zM726 93h8v4h-8zM742 93h12v4h-12zM766 93h4v4h-4zM42 97h20v4h-20zM126 97h4v4h-4zM150 97h4v4h-4zM362 97h4v4h-4zM726 97h4v4h-4zM746 97h4v4h-4zM770 97h4v4h-4zM66 101h4v4h-4zM122 101h4v4h-4zM210 101h4v4h-4zM62 105h4v4h-4zM126 105h4v4h-4zM62 109h4v4h-4zM226 109h4v4h-4zM238 109h4v4h-4zM274 109h4v4h-4zM126 117h4v4h-4zM66 121h4v4h-4zM558 129h40v4h-40zM558 133h40v4h-40zM558 137h24v4h-24zM598 137h4v4h-4zM558 141h16v4h-16zM606 141h4v4h-4zM158 145h4v4h-4zM554 145h16v4h-16zM630 145h4v4h-4zM142 149h4v4h-4zM162 149h4v4h-4zM558 149h8v4h-8zM638 149h4v4h-4zM138 153h4v4h-4zM562 153h4v4h-4zM138 157h4v4h-4zM642 157h4v4h-4zM142 161h20v4h-20zM562 161h4v4h-4zM434 165h4v4h-4zM534 165h4v4h-4zM390 169h12v4h-12zM502 169h4v4h-4zM522 169h4v4h-4zM602 193h4v4h-4zM598 197h4v4h-4zM190 201h4v4h-4zM218 201h4v4h-4zM174 205h8v4h-8zM586 205h12v4h-12zM630 205h8v4h-8zM574 209h8v4h-8zM230 213h4v4h-4zM490 217h16v4h-16zM230 221h4v4h-4zM226 225h4v4h-4zM262 229h4v4h-4zM222 233h4v4h-4zM262 233h4v4h-4zM262 237h4v4h-4zM262 241h4v4h-4zM266 265h4v4h-4zM310 269h4v4h-4zM262 297h4v4h-4zM710 305h12v4h-12zM726 305h16v4h-16zM274 313h4v4h-4zM278 317h4v4h-4zM278 321h4v4h-4zM270 325h8v4h-8z"/>
<path fill="#e9ae46" d="M618 69h4v4h-4zM274 77h4v4h-4zM678 77h4v4h-4zM274 81h4v4h-4zM714 81h4v4h-4zM750 81h4v4h-4zM726 85h16v4h-16zM674 89h4v4h-4zM714 89h52v4h-52zM734 93h8v4h-8zM770 93h4v4h-4zM62 97h64v4h-64zM70 101h4v4h-4zM98 101h24v4h-24zM726 101h4v4h-4zM746 105h4v4h-4zM26 109h4v4h-4zM230 109h8v4h-8zM786 113h4v4h-4zM122 121h4v4h-4zM114 125h4v4h-4zM642 125h4v4h-4zM582 137h16v4h-16zM574 141h12v4h-12zM570 145h8v4h-8zM146 149h16v4h-16zM566 149h4v4h-4zM142 153h4v4h-4zM162 153h4v4h-4zM566 153h4v4h-4zM142 157h8v4h-8zM162 157h4v4h-4zM642 161h4v4h-4zM418 165h4v4h-4zM426 165h8v4h-8zM538 165h12v4h-12zM402 169h4v4h-4zM442 169h4v4h-4zM490 169h12v4h-12zM638 185h4v4h-4zM602 189h16v4h-16zM598 193h4v4h-4zM618 193h4v4h-4zM202 197h4v4h-4zM214 197h4v4h-4zM618 197h4v4h-4zM194 201h8v4h-8zM594 201h4v4h-4zM638 201h4v4h-4zM182 205h8v4h-8zM222 205h4v4h-4zM578 205h8v4h-8zM626 205h4v4h-4zM174 209h4v4h-4zM226 209h4v4h-4zM370 213h4v4h-4zM230 217h4v4h-4zM266 221h4v4h-4zM510 221h4v4h-4zM526 221h4v4h-4zM222 229h4v4h-4zM266 261h4v4h-4zM270 269h4v4h-4zM290 269h4v4h-4zM318 273h4v4h-4zM246 277h4v4h-4zM322 277h4v4h-4zM330 285h4v4h-4zM246 301h4v4h-4zM246 305h4v4h-4zM266 313h8v4h-8zM274 317h4v4h-4zM270 321h8v4h-8z"/>
<path fill="#efb244" d="M274 73h4v4h-4zM718 81h4v4h-4zM754 81h4v4h-4zM546 85h4v4h-4zM714 85h12v4h-12zM742 85h16v4h-16zM766 89h4v4h-4zM638 93h4v4h-4zM74 101h4v4h-4zM94 101h4v4h-4zM746 101h4v4h-4zM66 105h4v4h-4zM218 105h4v4h-4zM362 105h4v4h-4zM774 105h4v4h-4zM126 109h4v4h-4zM126 113h4v4h-4zM66 117h4v4h-4zM794 117h4v4h-4zM586 141h4v4h-4zM602 141h4v4h-4zM578 145h4v4h-4zM626 145h4v4h-4zM570 149h4v4h-4zM146 153h16v4h-16zM150 157h12v4h-12zM566 157h4v4h-4zM422 165h4v4h-4zM550 165h4v4h-4zM406 169h8v4h-8zM438 169h4v4h-4zM206 197h8v4h-8zM594 197h4v4h-4zM202 201h16v4h-16zM590 201h4v4h-4zM190 205h16v4h-16zM178 209h24v4h-24zM178 213h20v4h-20zM186 217h12v4h-12zM226 221h4v4h-4zM270 221h8v4h-8zM222 225h4v4h-4zM218 229h4v4h-4zM266 257h4v4h-4zM314 269h4v4h-4zM254 277h4v4h-4zM326 281h4v4h-4zM674 293h4v4h-4zM742 297h4v4h-4zM262 301h4v4h-4zM266 317h8v4h-8zM266 321h4v4h-4z"/>
<path fill="#f6b741" d="M274 65h4v4h-4zM274 69h4v4h-4zM14 81h4v4h-4zM82 81h4v4h-4zM758 81h12v4h-12zM758 85h16v4h-16zM770 89h4v4h-4zM618 93h4v4h-4zM730 97h4v4h-4zM78 101h16v4h-16zM214 101h4v4h-4zM362 101h4v4h-4zM774 101h4v4h-4zM254 109h4v4h-4zM270 109h4v4h-4zM778 109h4v4h-4zM110 125h4v4h-4zM590 141h12v4h-12zM622 145h4v4h-4zM574 149h4v4h-4zM554 165h4v4h-4zM642 165h4v4h-4zM414 169h4v4h-4zM430 169h8v4h-8zM526 169h4v4h-4zM478 173h8v4h-8zM506 173h16v4h-16zM598 189h4v4h-4zM618 189h4v4h-4zM638 197h4v4h-4zM582 201h8v4h-8zM206 205h16v4h-16zM574 205h4v4h-4zM618 205h4v4h-4zM198 213h4v4h-4zM226 213h4v4h-4zM374 213h8v4h-8zM226 217h4v4h-4zM278 221h4v4h-4zM522 221h4v4h-4zM266 225h4v4h-4zM214 229h4v4h-4zM266 253h4v4h-4zM274 269h4v4h-4zM286 269h4v4h-4zM318 269h4v4h-4zM322 273h4v4h-4zM250 277h4v4h-4zM326 277h4v4h-4zM330 281h4v4h-4zM674 289h4v4h-4zM682 293h4v4h-4zM678 301h4v4h-4zM742 301h4v4h-4zM250 309h4v4h-4z"/>
<path fill="#f9b63f" d="M274 61h4v4h-4zM534 77h4v4h-4zM46 81h4v4h-4zM118 81h4v4h-4zM770 81h4v4h-4zM198 85h4v4h-4zM206 85h4v4h-4zM38 93h4v4h-4zM130 93h4v4h-4zM742 97h4v4h-4zM774 97h4v4h-4zM30 101h4v4h-4zM122 105h4v4h-4zM730 105h4v4h-4zM66 109h4v4h-4zM378 109h4v4h-4zM66 113h4v4h-4zM790 113h4v4h-4zM634 125h4v4h-4zM642 129h4v4h-4zM582 145h4v4h-4zM618 145h4v4h-4zM634 149h4v4h-4zM570 153h4v4h-4zM566 161h4v4h-4zM558 165h4v4h-4zM418 169h12v4h-12zM390 173h24v4h-24zM426 173h52v4h-52zM486 173h4v4h-4zM502 173h4v4h-4zM522 173h4v4h-4zM638 189h4v4h-4zM594 193h4v4h-4zM590 197h4v4h-4zM618 201h4v4h-4zM622 205h4v4h-4zM202 209h4v4h-4zM382 213h56v4h-56zM498 213h4v4h-4zM506 217h4v4h-4zM514 221h4v4h-4zM218 225h4v4h-4zM266 229h4v4h-4zM266 249h4v4h-4zM270 265h4v4h-4zM278 269h8v4h-8zM322 269h4v4h-4zM326 273h4v4h-4zM250 289h4v4h-4zM678 289h4v4h-4zM262 305h4v4h-4zM254 321h4v4h-4z"/>
<path fill="#f9b03d" d="M650 69h4v4h-4zM78 81h4v4h-4zM202 81h4v4h-4zM822 81h2v4h-2zM566 89h4v4h-4zM598 89h8v4h-8zM670 89h4v4h-4zM126 93h4v4h-4zM774 93h4v4h-4zM154 97h4v4h-4zM210 97h4v4h-4zM378 97h4v4h-4zM734 97h8v4h-8zM118 105h4v4h-4zM70 121h4v4h-4zM118 121h4v4h-4zM586 145h4v4h-4zM614 145h4v4h-4zM578 149h4v4h-4zM638 153h4v4h-4zM386 173h4v4h-4zM414 173h12v4h-12zM490 173h12v4h-12zM394 177h92v4h-92zM642 177h4v4h-4zM634 185h4v4h-4zM638 193h4v4h-4zM578 201h4v4h-4zM222 209h4v4h-4zM438 213h8v4h-8zM502 213h4v4h-4zM198 217h4v4h-4zM222 221h4v4h-4zM518 221h4v4h-4zM298 265h32v4h-32zM326 269h8v4h-8zM330 273h4v4h-4zM330 277h8v4h-8zM738 297h4v4h-4zM682 301h12v4h-12zM262 321h4v4h-4z"/>
<path fill="#f9aa3b" d="M274 57h4v4h-4zM678 73h4v4h-4zM50 81h4v4h-4zM58 81h4v4h-4zM74 81h4v4h-4zM774 81h4v4h-4zM6 85h4v4h-4zM38 85h4v4h-4zM774 85h4v4h-4zM30 89h4v4h-4zM38 89h4v4h-4zM198 89h12v4h-12zM570 89h12v4h-12zM590 89h8v4h-8zM606 89h4v4h-4zM650 89h20v4h-20zM774 89h4v4h-4zM134 93h4v4h-4zM158 97h52v4h-52zM102 105h16v4h-16zM222 105h4v4h-4zM742 105h4v4h-4zM266 109h4v4h-4zM782 109h4v4h-4zM798 117h4v4h-4zM106 125h4v4h-4zM638 125h4v4h-4zM634 129h4v4h-4zM590 145h4v4h-4zM606 145h8v4h-8zM570 157h4v4h-4zM562 165h4v4h-4zM390 177h4v4h-4zM486 177h4v4h-4zM430 181h60v4h-60zM594 189h4v4h-4zM586 197h4v4h-4zM570 205h4v4h-4zM206 209h4v4h-4zM222 213h4v4h-4zM446 213h4v4h-4zM270 225h4v4h-4zM266 233h4v4h-4zM266 245h4v4h-4zM270 261h4v4h-4zM322 261h12v4h-12zM294 265h4v4h-4zM330 265h8v4h-8zM334 269h4v4h-4zM334 273h8v4h-8zM734 297h4v4h-4zM694 301h4v4h-4z"/>
<path fill="#faa439" d="M54 81h4v4h-4zM550 81h4v4h-4zM194 89h4v4h-4zM586 89h4v4h-4zM610 89h4v4h-4zM646 89h4v4h-4zM138 93h4v4h-4zM158 93h60v4h-60zM30 97h4v4h-4zM214 97h4v4h-4zM734 105h8v4h-8zM258 109h4v4h-4zM70 117h4v4h-4zM122 117h4v4h-4zM114 121h4v4h-4zM594 145h12v4h-12zM582 149h4v4h-4zM630 149h4v4h-4zM574 153h4v4h-4zM530 169h4v4h-4zM386 177h4v4h-4zM490 177h4v4h-4zM394 181h4v4h-4zM422 181h8v4h-8zM638 181h4v4h-4zM630 185h4v4h-4zM590 193h4v4h-4zM582 197h4v4h-4zM574 201h4v4h-4zM210 209h8v4h-8zM202 213h4v4h-4zM450 213h8v4h-8zM494 213h4v4h-4zM222 217h4v4h-4zM214 225h4v4h-4zM270 257h4v4h-4zM326 257h16v4h-16zM310 261h12v4h-12zM334 261h8v4h-8zM274 265h4v4h-4zM290 265h4v4h-4zM338 265h4v4h-4zM338 269h4v4h-4zM734 301h8v4h-8zM262 309h4v4h-4zM258 321h4v4h-4z"/>
<path fill="#fa9f37" d="M274 53h4v4h-4zM70 81h4v4h-4zM122 81h4v4h-4zM530 81h4v4h-4zM126 89h4v4h-4zM182 89h4v4h-4zM190 89h4v4h-4zM210 89h4v4h-4zM582 89h4v4h-4zM30 93h4v4h-4zM50 93h8v4h-8zM94 93h16v4h-16zM122 93h4v4h-4zM154 93h4v4h-4zM730 101h4v4h-4zM742 101h4v4h-4zM26 105h4v4h-4zM70 105h4v4h-4zM226 105h4v4h-4zM778 105h4v4h-4zM122 109h4v4h-4zM262 109h4v4h-4zM794 113h4v4h-4zM638 129h4v4h-4zM626 149h4v4h-4zM638 157h4v4h-4zM534 169h4v4h-4zM526 173h4v4h-4zM382 177h4v4h-4zM494 177h4v4h-4zM514 177h12v4h-12zM398 181h12v4h-12zM418 181h4v4h-4zM490 181h4v4h-4zM626 185h4v4h-4zM578 197h4v4h-4zM634 201h4v4h-4zM458 213h4v4h-4zM218 221h4v4h-4zM210 225h4v4h-4zM274 225h4v4h-4zM266 237h4v4h-4zM266 241h4v4h-4zM270 253h4v4h-4zM330 253h8v4h-8zM318 257h8v4h-8zM306 261h4v4h-4zM286 265h4v4h-4zM678 293h4v4h-4zM678 297h4v4h-4zM686 297h8v4h-8zM730 297h4v4h-4zM698 301h4v4h-4zM730 301h4v4h-4zM262 313h4v4h-4zM262 317h4v4h-4z"/>
<path fill="#fa9935" d="M62 81h8v4h-8zM198 81h4v4h-4zM822 85h2v4h-2zM178 89h4v4h-4zM186 89h4v4h-4zM642 89h4v4h-4zM42 93h8v4h-8zM58 93h36v4h-36zM110 93h12v4h-12zM142 93h4v4h-4zM218 93h4v4h-4zM218 101h4v4h-4zM734 101h8v4h-8zM786 109h4v4h-4zM122 113h4v4h-4zM110 121h4v4h-4zM586 149h4v4h-4zM578 153h4v4h-4zM634 153h4v4h-4zM570 161h4v4h-4zM566 165h4v4h-4zM538 169h4v4h-4zM378 177h4v4h-4zM498 177h16v4h-16zM390 181h4v4h-4zM410 181h8v4h-8zM446 185h36v4h-36zM622 189h4v4h-4zM582 193h8v4h-8zM218 209h4v4h-4zM206 213h4v4h-4zM462 213h32v4h-32zM510 217h4v4h-4zM282 221h4v4h-4zM318 253h12v4h-12zM310 257h8v4h-8zM274 261h4v4h-4zM298 261h8v4h-8zM278 265h8v4h-8zM682 297h4v4h-4zM694 297h4v4h-4zM726 301h4v4h-4zM254 317h4v4h-4z"/>
<path fill="#fa9333" d="M778 81h4v4h-4zM58 85h4v4h-4zM98 85h8v4h-8zM122 85h4v4h-4zM122 89h4v4h-4zM534 89h4v4h-4zM542 89h4v4h-4zM614 89h4v4h-4zM146 93h8v4h-8zM634 93h4v4h-4zM218 97h4v4h-4zM98 105h4v4h-4zM230 105h4v4h-4zM242 105h4v4h-4zM106 109h16v4h-16zM366 109h4v4h-4zM70 113h4v4h-4zM118 117h4v4h-4zM802 117h4v4h-4zM618 149h8v4h-8zM574 157h4v4h-4zM638 161h4v4h-4zM542 169h8v4h-8zM374 177h4v4h-4zM370 181h12v4h-12zM370 185h4v4h-4zM442 185h4v4h-4zM482 185h8v4h-8zM602 185h24v4h-24zM590 189h4v4h-4zM634 189h4v4h-4zM578 193h4v4h-4zM574 197h4v4h-4zM570 201h4v4h-4zM630 201h4v4h-4zM210 213h4v4h-4zM218 213h4v4h-4zM202 217h4v4h-4zM218 217h4v4h-4zM202 221h4v4h-4zM214 221h4v4h-4zM270 229h4v4h-4zM318 249h12v4h-12zM310 253h8v4h-8zM274 257h4v4h-4zM302 257h8v4h-8zM278 261h4v4h-4zM290 261h8v4h-8zM246 281h4v4h-4zM258 297h4v4h-4zM702 301h4v4h-4zM722 301h4v4h-4zM254 313h4v4h-4z"/>
<path fill="#fa8d31" d="M206 81h4v4h-4zM818 81h4v4h-4zM10 85h4v4h-4zM42 85h16v4h-16zM62 85h36v4h-36zM106 85h16v4h-16zM126 85h4v4h-4zM778 85h4v4h-4zM42 89h80v4h-80zM174 89h4v4h-4zM214 89h4v4h-4zM638 89h4v4h-4zM778 101h4v4h-4zM234 105h8v4h-8zM246 105h4v4h-4zM22 109h4v4h-4zM102 109h4v4h-4zM790 109h4v4h-4zM118 113h4v4h-4zM798 113h4v4h-4zM114 117h4v4h-4zM106 121h4v4h-4zM590 149h4v4h-4zM582 153h4v4h-4zM550 169h4v4h-4zM642 169h4v4h-4zM526 177h4v4h-4zM386 181h4v4h-4zM494 181h4v4h-4zM374 185h4v4h-4zM598 185h4v4h-4zM626 189h8v4h-8zM622 193h4v4h-4zM626 201h4v4h-4zM498 209h4v4h-4zM214 213h4v4h-4zM506 213h4v4h-4zM206 217h12v4h-12zM206 221h8v4h-8zM306 245h8v4h-8zM270 249h4v4h-4zM302 249h16v4h-16zM298 253h12v4h-12zM278 257h4v4h-4zM290 257h12v4h-12zM282 261h8v4h-8zM258 285h4v4h-4zM250 297h8v4h-8zM698 297h4v4h-4zM726 297h4v4h-4zM706 301h4v4h-4zM718 301h4v4h-4zM250 305h4v4h-4zM254 309h4v4h-4z"/>
<path fill="#fb872f" d="M570 65h4v4h-4zM122 77h4v4h-4zM194 85h4v4h-4zM130 89h4v4h-4zM154 89h20v4h-20zM618 89h4v4h-4zM778 89h4v4h-4zM822 89h2v4h-2zM778 93h4v4h-4zM778 97h4v4h-4zM102 113h16v4h-16zM74 117h4v4h-4zM110 117h4v4h-4zM102 121h4v4h-4zM614 149h4v4h-4zM630 153h4v4h-4zM578 157h4v4h-4zM634 157h4v4h-4zM554 169h4v4h-4zM530 173h4v4h-4zM382 181h4v4h-4zM438 185h4v4h-4zM490 185h4v4h-4zM594 185h4v4h-4zM582 189h8v4h-8zM574 193h4v4h-4zM622 197h4v4h-4zM502 209h4v4h-4zM274 253h4v4h-4zM294 253h4v4h-4zM282 257h8v4h-8zM702 297h4v4h-4zM722 297h4v4h-4zM258 301h4v4h-4zM710 301h8v4h-8zM258 305h4v4h-4zM258 317h4v4h-4z"/>
<path fill="#fb812d" d="M554 81h4v4h-4zM538 89h4v4h-4zM622 93h4v4h-4zM222 101h4v4h-4zM378 101h4v4h-4zM782 105h4v4h-4zM98 117h12v4h-12zM98 121h4v4h-4zM594 149h4v4h-4zM586 153h4v4h-4zM622 153h8v4h-8zM574 161h4v4h-4zM570 165h4v4h-4zM558 169h4v4h-4zM434 185h4v4h-4zM578 189h4v4h-4zM570 197h4v4h-4zM566 201h4v4h-4zM622 201h4v4h-4zM370 209h4v4h-4zM302 245h4v4h-4zM298 249h4v4h-4zM258 281h4v4h-4zM246 285h4v4h-4zM706 297h16v4h-16zM250 301h8v4h-8zM254 305h4v4h-4zM258 309h4v4h-4zM258 313h4v4h-4z"/>
<path fill="#fb7b2b" d="M554 69h4v4h-4zM818 85h4v4h-4zM218 89h4v4h-4zM822 93h2v4h-2zM74 105h4v4h-4zM94 105h4v4h-4zM70 109h4v4h-4zM794 109h4v4h-4zM98 113h4v4h-4zM610 149h4v4h-4zM582 157h4v4h-4zM630 157h4v4h-4zM562 169h4v4h-4zM534 173h4v4h-4zM642 173h4v4h-4zM530 177h4v4h-4zM498 181h4v4h-4zM518 181h4v4h-4zM430 185h4v4h-4zM590 185h4v4h-4zM634 197h4v4h-4zM514 217h4v4h-4zM278 225h4v4h-4zM270 233h4v4h-4zM306 241h4v4h-4zM278 253h4v4h-4zM290 253h4v4h-4zM246 289h4v4h-4z"/>
<path fill="#fb7529" d="M270 73h4v4h-4zM270 77h4v4h-4zM270 81h4v4h-4zM562 85h4v4h-4zM822 97h2v4h-2zM26 101h4v4h-4zM250 105h4v4h-4zM802 113h4v4h-4zM94 117h4v4h-4zM598 149h4v4h-4zM606 149h4v4h-4zM618 153h4v4h-4zM622 157h8v4h-8zM578 161h8v4h-8zM634 161h4v4h-4zM538 173h4v4h-4zM502 181h16v4h-16zM522 181h4v4h-4zM494 185h4v4h-4zM574 189h4v4h-4zM570 193h4v4h-4zM634 193h4v4h-4zM274 229h4v4h-4zM270 245h4v4h-4zM282 253h8v4h-8z"/>
<path fill="#fb7027" d="M562 65h4v4h-4zM270 69h4v4h-4zM614 69h4v4h-4zM202 77h4v4h-4zM126 81h4v4h-4zM210 85h4v4h-4zM6 89h4v4h-4zM150 89h4v4h-4zM366 93h4v4h-4zM222 97h4v4h-4zM226 101h4v4h-4zM786 105h4v4h-4zM98 109h4v4h-4zM798 109h4v4h-4zM74 113h4v4h-4zM78 117h4v4h-4zM602 149h4v4h-4zM574 165h4v4h-4zM638 165h4v4h-4zM566 169h4v4h-4zM542 173h4v4h-4zM526 181h4v4h-4zM378 185h4v4h-4zM426 185h4v4h-4zM582 185h8v4h-8zM626 193h8v4h-8zM566 197h4v4h-4zM626 197h8v4h-8zM498 205h4v4h-4zM538 217h8v4h-8zM298 245h4v4h-4zM294 249h4v4h-4zM254 285h4v4h-4z"/>
<path fill="#fc6a25" d="M270 65h4v4h-4zM662 65h4v4h-4zM814 81h4v4h-4zM14 85h4v4h-4zM674 85h4v4h-4zM782 85h4v4h-4zM818 89h4v4h-4zM222 93h4v4h-4zM626 93h8v4h-8zM782 101h4v4h-4zM822 101h2v4h-2zM78 105h4v4h-4zM90 105h4v4h-4zM790 105h4v4h-4zM370 109h8v4h-8zM586 157h4v4h-4zM586 161h4v4h-4zM630 161h4v4h-4zM546 173h4v4h-4zM534 177h4v4h-4zM634 181h4v4h-4zM394 185h4v4h-4zM578 185h4v4h-4zM518 217h4v4h-4zM534 217h4v4h-4zM270 237h4v4h-4zM270 241h4v4h-4zM302 241h4v4h-4zM274 249h4v4h-4z"/>
<path fill="#fc6423" d="M270 61h4v4h-4zM654 69h4v4h-4zM198 77h4v4h-4zM134 89h4v4h-4zM634 89h4v4h-4zM782 89h4v4h-4zM782 93h4v4h-4zM818 93h4v4h-4zM782 97h4v4h-4zM230 101h4v4h-4zM22 105h4v4h-4zM274 105h4v4h-4zM378 105h4v4h-4zM794 105h4v4h-4zM822 105h2v4h-2zM802 109h4v4h-4zM94 113h4v4h-4zM806 113h4v4h-4zM578 165h4v4h-4zM570 169h4v4h-4zM550 173h4v4h-4zM538 177h4v4h-4zM530 181h4v4h-4zM390 185h4v4h-4zM398 185h4v4h-4zM422 185h4v4h-4zM498 185h4v4h-4zM574 185h4v4h-4zM570 189h4v4h-4zM374 209h4v4h-4zM510 213h4v4h-4zM522 217h12v4h-12z"/>
<path fill="#fc5e21" d="M270 57h4v4h-4zM658 65h4v4h-4zM574 69h4v4h-4zM546 73h4v4h-4zM630 73h4v4h-4zM194 81h4v4h-4zM130 85h4v4h-4zM178 85h8v4h-8zM626 85h8v4h-8zM814 85h4v4h-4zM818 97h4v4h-4zM82 105h8v4h-8zM254 105h4v4h-4zM798 105h4v4h-4zM18 109h4v4h-4zM90 117h4v4h-4zM590 153h4v4h-4zM574 169h4v4h-4zM554 173h8v4h-8zM542 177h4v4h-4zM534 181h4v4h-4zM382 185h8v4h-8zM418 185h4v4h-4zM566 193h4v4h-4zM502 205h4v4h-4zM506 209h4v4h-4zM298 241h4v4h-4zM294 245h4v4h-4zM290 249h4v4h-4zM250 281h8v4h-8zM250 285h4v4h-4z"/>
<path fill="#fc581e" d="M566 65h4v4h-4zM634 73h4v4h-4zM126 77h4v4h-4zM206 77h4v4h-4zM622 85h4v4h-4zM634 85h4v4h-4zM138 89h4v4h-4zM622 89h4v4h-4zM278 93h4v4h-4zM26 97h4v4h-4zM786 101h4v4h-4zM818 101h4v4h-4zM270 105h4v4h-4zM806 109h4v4h-4zM822 109h2v4h-2zM82 117h4v4h-4zM618 157h4v4h-4zM626 161h4v4h-4zM582 165h4v4h-4zM562 173h8v4h-8zM546 177h4v4h-4zM538 181h8v4h-8zM574 181h12v4h-12zM402 185h16v4h-16zM502 185h4v4h-4zM570 185h4v4h-4zM450 189h36v4h-36zM494 189h4v4h-4zM566 189h4v4h-4zM562 197h4v4h-4zM498 201h4v4h-4zM494 209h4v4h-4zM282 225h4v4h-4zM278 229h4v4h-4zM274 233h4v4h-4zM302 237h4v4h-4zM274 245h4v4h-4zM278 249h12v4h-12z"/>
<path fill="#fc521c" d="M270 53h4v4h-4zM598 73h4v4h-4zM638 73h4v4h-4zM558 81h4v4h-4zM674 81h4v4h-4zM810 81h4v4h-4zM190 85h4v4h-4zM786 85h4v4h-4zM146 89h4v4h-4zM786 89h4v4h-4zM814 89h4v4h-4zM6 93h4v4h-4zM374 93h4v4h-4zM786 93h4v4h-4zM814 93h4v4h-4zM786 97h4v4h-4zM814 97h4v4h-4zM790 101h12v4h-12zM802 105h4v4h-4zM818 105h4v4h-4zM810 113h4v4h-4zM86 117h4v4h-4zM578 169h4v4h-4zM570 173h8v4h-8zM550 177h8v4h-8zM546 181h4v4h-4zM570 181h4v4h-4zM506 185h12v4h-12zM566 185h4v4h-4zM446 189h4v4h-4zM486 189h4v4h-4zM498 189h4v4h-4zM562 193h4v4h-4zM498 197h4v4h-4zM378 209h28v4h-28z"/>
<path fill="#fd4c1a" d="M626 73h4v4h-4zM210 81h4v4h-4zM798 81h12v4h-12zM214 85h4v4h-4zM790 85h24v4h-24zM10 89h4v4h-4zM142 89h4v4h-4zM790 89h24v4h-24zM26 93h4v4h-4zM790 93h24v4h-24zM226 97h4v4h-4zM366 97h4v4h-4zM790 97h24v4h-24zM234 101h4v4h-4zM802 101h16v4h-16zM266 105h4v4h-4zM806 105h12v4h-12zM74 109h4v4h-4zM94 109h4v4h-4zM810 109h12v4h-12zM78 113h4v4h-4zM814 113h4v4h-4zM614 153h4v4h-4zM558 177h24v4h-24zM638 177h4v4h-4zM550 181h20v4h-20zM586 181h4v4h-4zM630 181h4v4h-4zM554 185h12v4h-12zM442 189h4v4h-4zM490 189h4v4h-4zM558 189h8v4h-8zM498 193h4v4h-4zM558 193h4v4h-4zM502 201h4v4h-4zM406 209h28v4h-28zM514 213h4v4h-4zM282 229h16v4h-16zM278 233h24v4h-24zM274 237h28v4h-28zM274 241h24v4h-24zM278 245h16v4h-16z"/>
<path fill="#fd4618" d="M126 73h4v4h-4zM602 73h4v4h-4zM642 73h4v4h-4zM650 73h4v4h-4zM538 77h4v4h-4zM674 77h4v4h-4zM618 85h4v4h-4zM638 85h4v4h-4zM26 89h4v4h-4zM6 97h4v4h-4zM22 101h4v4h-4zM238 101h8v4h-8zM258 105h4v4h-4zM366 105h4v4h-4zM622 161h4v4h-4zM586 165h4v4h-4zM518 185h4v4h-4zM546 185h8v4h-8zM374 189h4v4h-4zM438 189h4v4h-4zM554 189h4v4h-4zM554 193h4v4h-4zM558 197h4v4h-4zM434 209h4v4h-4z"/>
<path fill="#fd4116" d="M646 73h4v4h-4zM130 81h4v4h-4zM18 85h4v4h-4zM174 85h4v4h-4zM566 85h16v4h-16zM586 85h20v4h-20zM670 85h4v4h-4zM222 89h4v4h-4zM626 89h8v4h-8zM278 97h4v4h-4zM6 101h4v4h-4zM366 101h4v4h-4zM6 105h4v4h-4zM18 105h4v4h-4zM262 105h4v4h-4zM90 113h4v4h-4zM634 165h4v4h-4zM578 173h4v4h-4zM626 181h4v4h-4zM522 185h4v4h-4zM530 185h16v4h-16zM434 189h4v4h-4zM502 189h4v4h-4zM550 189h4v4h-4zM502 197h4v4h-4zM494 205h4v4h-4zM506 205h4v4h-4zM438 209h4v4h-4zM510 209h4v4h-4z"/>
<path fill="#fd3b14" d="M674 69h4v4h-4zM202 73h4v4h-4zM194 77h4v4h-4zM266 77h4v4h-4zM134 85h4v4h-4zM154 85h20v4h-20zM186 85h4v4h-4zM218 85h4v4h-4zM582 85h4v4h-4zM606 85h12v4h-12zM642 85h28v4h-28zM274 89h4v4h-4zM374 97h4v4h-4zM246 101h4v4h-4zM78 109h4v4h-4zM90 109h4v4h-4zM594 153h4v4h-4zM590 161h4v4h-4zM590 181h4v4h-4zM430 189h4v4h-4zM506 189h8v4h-8zM494 193h4v4h-4zM502 193h4v4h-4zM494 197h4v4h-4zM494 201h4v4h-4zM442 209h8v4h-8zM518 213h4v4h-4z"/>
<path fill="#fd3512" d="M266 69h4v4h-4zM558 69h4v4h-4zM198 73h4v4h-4zM266 73h4v4h-4zM622 73h4v4h-4zM130 77h4v4h-4zM210 77h4v4h-4zM266 81h4v4h-4zM546 81h4v4h-4zM150 85h4v4h-4zM14 89h4v4h-4zM10 93h4v4h-4zM22 97h4v4h-4zM230 97h4v4h-4zM10 109h4v4h-4zM82 109h8v4h-8zM82 113h8v4h-8zM618 161h4v4h-4zM582 177h4v4h-4zM594 181h4v4h-4zM526 185h4v4h-4zM378 189h20v4h-20zM422 189h8v4h-8zM546 189h4v4h-4zM450 209h8v4h-8z"/>
<path fill="#fd2f10" d="M266 61h4v4h-4zM266 65h4v4h-4zM206 73h4v4h-4zM654 73h4v4h-4zM226 93h4v4h-4zM18 101h4v4h-4zM250 101h4v4h-4zM374 101h4v4h-4zM10 105h8v4h-8zM610 153h4v4h-4zM590 157h4v4h-4zM598 181h4v4h-4zM622 181h4v4h-4zM398 189h24v4h-24zM514 189h4v4h-4zM446 193h48v4h-48zM506 193h4v4h-4zM550 193h4v4h-4zM506 197h4v4h-4zM554 197h4v4h-4zM506 201h4v4h-4zM458 209h36v4h-36zM514 209h4v4h-4zM522 213h4v4h-4z"/>
<path fill="#fe290e" d="M266 57h4v4h-4zM130 73h4v4h-4zM606 73h4v4h-4zM674 73h4v4h-4zM190 81h4v4h-4zM214 81h4v4h-4zM562 81h4v4h-4zM626 81h8v4h-8zM138 85h4v4h-4zM370 93h4v4h-4zM10 97h4v4h-4zM10 101h8v4h-8zM274 101h4v4h-4zM374 105h4v4h-4zM598 153h4v4h-4zM590 165h4v4h-4zM630 165h4v4h-4zM582 169h4v4h-4zM638 169h4v4h-4zM602 181h8v4h-8zM614 181h8v4h-8zM518 189h4v4h-4zM542 189h4v4h-4zM370 193h4v4h-4zM434 193h12v4h-12zM510 193h4v4h-4zM466 197h28v4h-28zM370 201h4v4h-4zM370 205h4v4h-4zM510 205h4v4h-4zM526 213h4v4h-4z"/>
<path fill="#fe230c" d="M266 53h4v4h-4zM658 69h4v4h-4zM194 73h4v4h-4zM210 73h4v4h-4zM574 73h4v4h-4zM618 73h4v4h-4zM650 77h4v4h-4zM134 81h4v4h-4zM566 81h4v4h-4zM586 81h8v4h-8zM618 81h8v4h-8zM634 81h8v4h-8zM670 81h4v4h-4zM142 85h8v4h-8zM222 85h4v4h-4zM18 89h8v4h-8zM14 93h4v4h-4zM22 93h4v4h-4zM274 93h4v4h-4zM14 97h8v4h-8zM234 97h4v4h-4zM274 97h4v4h-4zM370 97h4v4h-4zM254 101h4v4h-4zM270 101h4v4h-4zM370 101h4v4h-4zM370 105h4v4h-4zM602 153h8v4h-8zM614 157h4v4h-4zM610 181h4v4h-4zM534 189h8v4h-8zM382 193h52v4h-52zM514 193h4v4h-4zM546 193h4v4h-4zM370 197h4v4h-4zM454 197h12v4h-12zM510 197h4v4h-4zM510 201h4v4h-4zM374 205h4v4h-4zM514 205h4v4h-4zM518 209h4v4h-4zM530 213h12v4h-12z"/>
<path fill="#fe1d0a" d="M130 69h4v4h-4zM198 69h8v4h-8zM662 69h12v4h-12zM262 73h4v4h-4zM610 73h8v4h-8zM658 73h16v4h-16zM134 77h4v4h-4zM190 77h4v4h-4zM214 77h4v4h-4zM262 77h4v4h-4zM570 77h80v4h-80zM654 77h20v4h-20zM178 81h4v4h-4zM570 81h16v4h-16zM594 81h24v4h-24zM642 81h28v4h-28zM530 85h4v4h-4zM226 89h4v4h-4zM270 89h4v4h-4zM18 93h4v4h-4zM230 93h4v4h-4zM238 97h8v4h-8zM258 101h12v4h-12zM582 173h4v4h-4zM586 177h4v4h-4zM634 177h4v4h-4zM522 189h12v4h-12zM374 193h8v4h-8zM518 193h4v4h-4zM542 193h4v4h-4zM374 197h4v4h-4zM438 197h16v4h-16zM514 197h4v4h-4zM550 197h4v4h-4zM374 201h4v4h-4zM466 201h28v4h-28zM514 201h4v4h-4zM554 201h4v4h-4zM378 205h56v4h-56zM490 205h4v4h-4zM518 205h8v4h-8zM522 209h12v4h-12zM542 213h4v4h-4z"/>
<path fill="#fe1708" d="M262 53h4v4h-4zM262 57h4v4h-4zM262 61h4v4h-4zM262 65h4v4h-4zM134 69h4v4h-4zM194 69h4v4h-4zM206 69h8v4h-8zM262 69h4v4h-4zM562 69h12v4h-12zM134 73h4v4h-4zM190 73h4v4h-4zM214 73h4v4h-4zM550 73h4v4h-4zM138 77h4v4h-4zM186 77h4v4h-4zM554 77h16v4h-16zM138 81h8v4h-8zM150 81h28v4h-28zM182 81h8v4h-8zM218 81h4v4h-4zM262 81h4v4h-4zM266 89h4v4h-4zM234 93h4v4h-4zM270 93h4v4h-4zM246 97h12v4h-12zM266 97h8v4h-8zM614 161h4v4h-4zM626 165h4v4h-4zM638 173h4v4h-4zM522 193h20v4h-20zM378 197h60v4h-60zM518 197h32v4h-32zM378 201h88v4h-88zM518 201h36v4h-36zM434 205h56v4h-56zM526 205h28v4h-28zM534 209h16v4h-16z"/>
<path fill="#fe1206" d="M218 53h44v4h-44zM198 57h64v4h-64zM162 61h4v4h-4zM174 61h88v4h-88zM138 65h124v4h-124zM138 69h56v4h-56zM214 69h48v4h-48zM138 73h52v4h-52zM218 73h44v4h-44zM554 73h20v4h-20zM142 77h44v4h-44zM218 77h44v4h-44zM542 77h12v4h-12zM146 81h4v4h-4zM222 81h40v4h-40zM534 81h12v4h-12zM226 85h40v4h-40zM534 85h12v4h-12zM230 89h36v4h-36zM238 93h32v4h-32zM258 97h8v4h-8zM594 157h20v4h-20zM594 161h4v4h-4zM594 165h4v4h-4zM622 165h4v4h-4zM586 169h4v4h-4zM634 169h4v4h-4zM590 177h4v4h-4zM630 177h4v4h-4z"/>
<path fill="#ff0c04" d="M598 161h16v4h-16zM598 165h24v4h-24zM590 169h44v4h-44zM586 173h52v4h-52zM594 177h36v4h-36z"/></g><path d="M316.2 113.6L318.9 111.8 321.2 107.5 323.4 103.4 328.7 100.4 334.3 99.5 338.9 96.1 344.6 94.5 351.4 93.9 358.2 92.3 362.7 89.8 365.0 87.0 365.0 84.1 368.4 82.5 369.6 80.2 371.8 77.9 373.0 75.7 369.6 73.4 372.3 70.4 375.2 67.7 384.3 64.8 386.6 63.2 376.4 62.5 367.3 61.6 355.9 60.5 342.3 59.5 328.7 59.8 319.6 60.5 308.2 61.6 296.8 62.5 285.5 63.0 276.4 63.4 271.8 65.0 267.3 66.1 262.8 67.3 255.9 69.3 250.3 71.1 252.5 72.7 257.1 73.9 262.8 75.9 271.8 76.6 280.9 76.8 284.3 78.2 287.8 80.2 288.9 83.2 290.0 85.4 291.2 88.2 296.8 89.3 298.0 91.6 294.6 93.4 293.4 96.1 293.4 98.9 295.7 101.1 297.3 103.6 300.0 106.3 301.8 108.6 304.8 110.9 309.3 111.8 312.8 112.9ZM212.8 75.9L221.9 76.1 233.2 76.4 236.6 74.5 240.0 72.3 244.6 71.1 251.4 70.0 255.9 67.7 262.8 66.6 269.6 64.3 276.4 62.5 271.8 61.1 260.5 60.7 244.6 60.9 233.2 61.4 219.6 62.7 208.2 64.3 200.3 65.5 195.7 67.7 199.1 70.0 208.2 71.6 215.0 72.3 216.2 74.5 211.6 75.4ZM452.5 75.4L446.8 73.4 440.0 70.4 440.0 68.4 449.1 68.2 453.6 67.7 458.2 66.8 465.0 66.6 476.3 67.3 471.8 69.3 462.7 70.7 468.4 71.6 466.1 73.9 459.3 73.4 454.8 75.0ZM622.9 68.9L630.9 70.4 642.2 71.1 651.3 70.0 644.5 67.0 635.4 65.0 626.3 65.9ZM521.8 67.0L533.2 67.5 546.8 67.3 555.9 66.4 551.3 64.3 540.0 63.6 528.6 65.5 519.5 65.9Z" fill="#fff"/><g fill="#fff" filter="url(#b2)"><ellipse cx="186" cy="72" rx="9" ry="2.5"/><ellipse cx="160" cy="77" rx="8" ry="2"/><ellipse cx="250" cy="94" rx="4" ry="3"/><ellipse cx="138" cy="83" rx="5" ry="2"/></g><g fill="#ff1a0a" filter="url(#b2)"><ellipse cx="225" cy="72" rx="7" ry="3.5"/><ellipse cx="204" cy="66" rx="6" ry="2.5"/></g></g>
<path d="M477.7 152.9L478.4 152.5 480.0 150.2 480.4 148.4 482.5 146.8 484.5 144.3 487.3 143.6 490.4 144.8 489.1 146.3 491.1 148.4 493.4 148.2 496.8 147.2 495.2 145.4 494.8 144.3 500.2 142.5 503.6 142.3 501.8 143.8 500.9 145.0 500.4 146.6 499.8 147.5 502.0 148.6 504.8 150.2 507.0 151.6 509.5 153.6 509.5 155.0 506.6 156.1 502.5 156.6 499.1 155.9 496.8 154.7 494.5 154.1 490.7 154.1 487.3 155.7 483.2 155.9 481.1 155.9 479.1 155.0 478.2 153.4ZM522.2 147.7L523.2 150.7 525.2 154.1 527.7 156.8 529.3 157.7 527.0 160.2 526.3 163.6 529.7 165.4 533.2 166.1 537.7 165.4 537.5 162.0 535.9 159.7 536.6 157.2 535.2 155.2 534.3 152.9 531.6 151.1 531.3 148.8 529.7 147.9 532.0 146.6 535.4 145.4 535.9 143.6 532.7 142.7 529.3 143.2 526.3 144.1 524.1 145.9ZM205.7 143.4L210.5 143.6 215.0 142.9 218.5 143.8 222.8 143.8 222.3 141.6 219.6 138.6 213.9 139.3 211.4 140.4 207.1 142.3ZM215.5 148.4L215.3 152.9 216.2 154.7 218.2 154.3 218.9 150.7 219.8 147.2 222.3 145.4 218.5 145.4 216.2 146.6ZM223.0 145.2L225.3 146.6 227.5 151.8 229.4 150.7 229.6 148.4 233.0 148.4 231.9 146.1 229.8 145.0 225.3 144.5ZM225.5 154.5L229.8 154.7 234.4 153.2 235.7 152.0 232.1 152.7 227.5 154.1ZM233.7 151.1L237.8 150.9 241.9 150.7 241.4 149.1 238.2 149.7 234.8 150.2ZM547.9 143.8L553.6 143.6 555.2 147.2 551.3 150.4 547.9 148.8ZM487.0 251.3L488.4 248.8 491.1 248.8 492.3 250.2 492.7 252.2 490.7 255.2 488.4 255.4 487.0 253.6Z" fill="#fff" stroke="#000" stroke-width="2.1" stroke-linejoin="round"/>
<path d="M192.8 127.3L195.7 131.6 195.3 134.8 194.1 134.5 192.8 131.3 190.0 127.9ZM187.3 129.3L188.9 132.3 188.0 132.5 186.4 129.8ZM149.2 110.4L156.0 111.1 162.8 110.2 166.2 108.2 161.6 106.8 157.1 108.2 152.6 109.3ZM131.0 101.8L135.5 102.3 142.3 100.0 146.9 99.3 143.5 97.5 137.8 97.3 134.4 99.1 130.5 100.7ZM161.2 116.3L167.3 115.9 174.1 115.0 173.5 114.1 167.3 114.8 162.1 115.4ZM182.1 120.7L183.7 119.3 182.8 117.3 181.4 118.8ZM251.4 99.1L255.9 99.3 255.5 97.7 250.9 97.5ZM582.0 144.3L585.4 143.6 590.0 143.4 594.5 144.1 593.4 145.4 587.7 144.5 584.3 145.4ZM651.3 132.3L654.7 131.6 658.1 129.1 661.5 125.7 664.0 122.7 663.1 127.7 659.3 130.7 654.7 132.9ZM483.2 112.7L488.8 111.8 489.5 110.2 485.4 109.3 483.6 110.9ZM493.4 110.9L496.3 110.4 497.3 107.5 494.5 106.8 493.4 109.1ZM481.6 257.2L482.7 257.5 484.3 263.1 485.9 269.0 484.8 269.5 482.0 264.3 481.3 259.7ZM492.3 271.1L493.4 271.3 494.5 275.6 495.2 281.3 493.6 281.8 492.9 276.8 492.3 273.4ZM445.7 220.0L448.6 218.8 448.2 220.4 446.4 220.9ZM511.1 162.2L514.1 161.3 513.2 162.5ZM588.1 153.4L592.7 152.9 593.1 153.6 588.8 153.8ZM641.3 165.7L643.8 165.2 643.8 166.3 641.5 166.1ZM443.2 116.6L445.9 116.1 447.3 114.8 444.3 114.8ZM447.3 118.2L448.6 116.8 448.2 116.3 447.0 117.7Z" fill="#111" stroke="#000" stroke-width="1.8" stroke-linejoin="round"/>
<path d="M33.3 100.4L37.8 98.9 42.8 99.3 47.4 98.2 43.0 95.9 36.7 94.1 43.5 91.6 48.0 89.8 56.0 88.6 59.4 87.5 65.1 88.4 69.6 88.6 74.2 89.3 78.7 89.8 85.5 90.2 94.6 91.1 101.4 92.0 106.0 92.9 109.4 91.6 115.1 91.4 120.7 90.4 125.3 89.8 129.8 91.6 133.2 91.8 137.8 90.9 142.3 92.7 149.2 92.9 153.7 94.3 158.2 93.9 165.1 95.0 169.6 94.3 174.1 93.2 178.7 95.0 184.4 95.4 192.3 95.4 195.7 94.5 198.0 91.6 200.3 86.4 202.5 89.3 204.8 91.4 209.4 93.9 213.9 92.9 218.5 95.0 220.7 90.9 226.4 90.4 229.8 92.3 229.8 95.0 226.4 97.3 220.7 98.4 217.3 98.6 219.6 101.8 216.2 103.6 210.5 104.1 206.0 106.8 201.4 110.2 199.6 114.3 201.0 116.1 204.8 119.3 210.5 120.0 215.0 121.3 220.7 123.8 228.0 124.3 228.0 127.9 229.8 130.2 232.1 132.9 235.0 132.5 235.9 130.2 235.5 126.3 239.6 122.9 240.9 120.0 239.4 116.6 237.8 113.2 238.9 109.8 237.8 107.7 243.4 107.9 248.0 108.2 252.5 110.4 255.9 111.8 257.1 114.3 256.9 116.3 260.5 116.8 262.8 117.0 266.2 114.8 268.4 112.5 271.2 116.6 274.1 119.5 275.3 121.6 278.7 123.6 283.2 126.3 285.5 127.5 288.2 130.2 288.4 132.3 284.3 132.7 278.7 135.4 270.7 135.4 263.9 135.4 259.4 137.7 256.4 140.0 253.2 143.2 255.9 141.6 260.5 139.1 267.3 137.7 268.9 138.6 266.2 140.4 267.8 142.7 268.4 144.5 271.8 145.4 275.3 145.4 278.0 144.5 278.7 145.2 276.4 146.8 270.7 148.2 266.2 150.7 264.6 148.8 268.4 146.6 265.0 146.8 262.5 147.7 259.4 148.8 255.9 150.2 254.4 151.8 254.6 153.4 255.9 154.5 254.8 155.0 252.5 155.4 249.1 155.9 246.9 157.2 246.6 159.1 244.8 161.1 244.1 162.5 243.2 164.3 242.3 165.7 243.0 168.2 243.4 169.5 241.2 170.7 238.9 171.6 236.6 172.7 235.0 174.1 233.2 175.4 230.9 177.0 230.0 180.2 230.5 182.5 231.9 185.2 233.0 188.6 232.5 191.8 230.7 192.2 229.4 190.6 228.2 188.8 227.1 186.6 226.9 184.1 224.8 181.6 223.0 181.3 221.0 182.0 218.5 180.4 215.0 180.2 212.1 180.7 212.3 182.9 209.4 183.4 206.4 182.2 202.5 181.8 199.6 182.7 196.9 184.5 194.1 186.8 193.7 189.3 193.9 192.2 193.0 195.0 192.8 198.4 193.7 201.1 195.7 204.5 197.3 206.8 200.3 208.1 203.2 207.5 206.0 207.0 207.5 207.2 208.9 205.2 209.6 202.2 211.6 201.1 215.0 200.4 217.5 200.9 216.4 203.4 215.5 206.3 214.6 209.7 213.9 212.7 215.0 213.6 218.5 213.6 221.9 213.4 225.5 215.0 225.5 217.7 225.0 221.1 224.6 224.5 226.4 226.8 228.7 228.8 232.1 228.8 234.4 227.7 236.6 228.1 239.1 230.0 238.0 232.9 236.9 230.9 234.4 229.3 233.0 230.6 232.1 232.9 230.5 232.0 229.4 230.9 226.6 231.1 224.8 230.0 222.3 227.7 220.3 226.3 220.3 224.3 218.2 221.8 216.0 220.0 213.2 219.5 209.4 217.9 206.4 217.0 203.7 214.5 200.3 212.7 198.0 213.6 195.7 213.8 192.3 212.7 188.2 211.3 184.4 209.3 179.8 207.9 177.6 205.9 175.3 203.4 175.7 200.4 174.8 198.4 173.0 196.6 170.5 193.8 168.2 191.8 166.4 189.7 163.9 187.2 162.1 185.2 160.1 182.9 158.2 180.2 154.4 177.2 154.6 180.7 157.1 183.6 158.7 185.9 160.3 187.9 161.6 190.4 163.2 193.1 164.8 195.0 166.4 196.8 165.1 197.5 164.4 196.1 161.6 193.8 160.3 193.1 158.7 189.5 155.1 187.7 155.3 185.2 153.0 182.5 150.7 179.5 149.8 177.2 148.7 175.4 147.8 173.6 146.0 172.5 143.9 171.6 141.0 171.1 140.3 168.8 138.0 166.3 136.9 165.0 136.7 163.6 135.5 162.7 133.7 160.4 132.3 157.7 133.0 154.5 132.1 152.2 133.0 149.1 133.2 145.9 133.2 144.3 132.1 141.6 131.7 139.5 135.1 140.0 136.0 139.3 135.3 137.9 133.7 136.6 131.4 135.4 128.7 134.1 126.0 133.2 124.6 130.9 122.8 129.1 120.1 127.0 118.9 125.0 117.6 123.4 115.7 121.8 113.9 120.0 111.7 117.7 108.2 115.4 104.6 117.0 101.4 115.7 98.0 113.8 94.6 113.2 90.1 112.9 85.5 112.3 82.1 111.1 78.7 111.6 77.6 113.2 74.2 114.3 70.1 115.0 71.0 112.0 73.5 110.4 70.1 111.3 68.3 112.9 66.2 114.8 64.6 116.6 61.0 118.4 58.3 120.0 55.1 121.8 51.9 122.9 48.5 123.8 45.5 124.8 41.2 125.9 44.6 123.6 49.2 122.3 52.6 120.4 55.3 118.6 57.1 117.0 54.9 116.1 51.4 116.1 47.8 116.3 46.9 114.3 42.8 113.4 40.8 112.0 39.4 110.4 37.8 109.5 38.9 107.9 41.2 105.9 45.1 105.2 49.2 104.1 49.6 102.5 45.8 102.9 42.4 102.7 37.4 102.7 36.4 101.1ZM239.1 230.0L242.3 228.1 243.2 225.9 245.0 224.5 248.0 223.8 250.9 222.5 253.0 221.6 252.3 223.1 252.3 225.0 255.5 223.4 256.4 222.0 257.1 223.4 259.8 225.0 262.8 225.4 266.2 226.6 269.1 225.4 273.0 225.2 274.3 226.3 275.3 227.5 276.8 230.0 279.1 230.6 282.1 232.9 284.3 235.4 287.8 236.1 291.2 236.1 294.6 237.0 296.8 239.0 298.0 240.0 299.1 241.5 300.5 245.4 301.4 247.9 300.3 249.5 302.5 250.4 304.8 251.3 307.1 251.1 310.5 251.8 313.9 254.5 316.4 255.2 320.7 256.1 324.1 255.9 327.5 257.9 330.5 260.4 333.7 261.3 335.2 264.3 335.9 266.5 335.2 269.9 333.4 272.2 330.7 275.2 328.2 278.8 326.6 280.9 326.4 284.7 325.9 289.3 324.8 293.1 323.4 296.1 321.8 299.3 319.6 301.5 316.2 301.8 313.4 302.7 309.3 304.3 306.4 306.3 304.6 309.3 304.6 313.1 302.5 315.4 300.5 319.0 298.4 321.8 295.7 324.5 293.4 326.8 291.2 328.3 287.8 328.8 284.3 327.7 282.1 327.9 285.0 330.2 285.9 332.2 284.3 335.4 281.4 337.2 276.4 338.1 273.7 337.7 273.4 341.8 270.7 342.9 267.3 342.4 267.1 345.2 269.1 346.1 270.5 346.8 268.4 347.2 266.6 349.5 266.2 351.8 261.6 354.5 262.3 355.8 264.6 357.4 261.6 360.2 259.6 363.6 258.0 364.9 258.0 367.2 259.6 368.3 259.8 370.4 261.6 372.2 263.9 374.0 260.5 374.5 257.1 374.9 253.7 374.0 251.4 372.7 248.0 369.9 245.7 367.2 243.9 363.1 243.4 359.7 245.5 357.4 243.4 355.2 245.7 352.4 247.3 349.5 247.3 346.1 247.5 343.8 247.8 341.1 248.2 338.6 248.0 335.4 249.8 331.8 250.9 329.0 251.9 325.6 252.5 322.2 252.8 318.8 253.0 315.4 253.9 311.5 254.8 307.4 255.0 302.9 255.7 298.4 255.5 293.8 255.3 291.1 253.0 289.5 250.3 287.7 246.9 285.6 243.4 283.1 241.6 280.2 240.5 277.2 238.9 274.5 237.1 271.3 235.5 268.4 233.4 265.4 230.7 263.1 230.5 260.4 232.5 257.5 233.4 255.4 231.4 253.8 232.3 250.9 233.2 247.7 235.5 246.3 236.2 245.2 238.4 243.4 239.1 240.9 239.1 237.0 238.9 234.5 238.0 232.9ZM316.2 113.6L318.9 111.8 321.2 107.5 323.4 103.4 328.7 100.4 334.3 99.5 338.9 96.1 344.6 94.5 351.4 93.9 358.2 92.3 362.7 89.8 365.0 87.0 365.0 84.1 368.4 82.5 369.6 80.2 371.8 77.9 373.0 75.7 369.6 73.4 372.3 70.4 375.2 67.7 384.3 64.8 386.6 63.2 376.4 62.5 367.3 61.6 355.9 60.5 342.3 59.5 328.7 59.8 319.6 60.5 308.2 61.6 296.8 62.5 285.5 63.0 276.4 63.4 271.8 65.0 267.3 66.1 262.8 67.3 255.9 69.3 250.3 71.1 252.5 72.7 257.1 73.9 262.8 75.9 271.8 76.6 280.9 76.8 284.3 78.2 287.8 80.2 288.9 83.2 290.0 85.4 291.2 88.2 296.8 89.3 298.0 91.6 294.6 93.4 293.4 96.1 293.4 98.9 295.7 101.1 297.3 103.6 300.0 106.3 301.8 108.6 304.8 110.9 309.3 111.8 312.8 112.9ZM401.6 168.2L399.5 172.0 395.7 173.8 393.9 175.7 392.7 178.4 393.0 180.9 391.6 183.2 388.9 185.4 385.5 186.6 382.7 189.5 381.4 192.2 379.3 195.0 378.2 196.8 377.3 199.1 376.1 202.0 378.0 205.0 378.4 208.1 377.5 211.3 376.4 215.0 375.2 216.1 376.8 218.6 377.1 221.3 379.8 223.4 381.6 225.4 384.3 227.7 385.2 230.9 387.7 232.9 390.0 234.5 393.4 237.2 397.7 239.5 401.4 238.4 405.9 237.7 410.5 238.6 413.9 237.0 417.3 235.9 421.1 235.2 425.2 235.2 427.7 237.5 429.1 239.7 432.0 239.5 434.3 239.0 436.4 240.9 437.3 244.0 436.6 247.2 436.1 250.2 435.0 251.3 436.6 254.7 440.0 257.9 442.3 260.6 442.9 263.1 444.5 267.2 445.2 269.5 444.8 274.0 445.9 277.9 443.4 280.9 442.7 283.6 441.8 287.7 441.8 289.5 444.1 293.1 445.7 296.8 447.7 300.6 447.9 304.0 449.1 309.7 450.0 312.0 452.5 314.5 454.1 317.4 455.7 321.1 456.6 323.3 456.8 326.5 457.7 327.4 460.4 328.6 463.9 327.7 467.3 326.8 472.9 326.8 475.2 326.1 477.5 324.9 479.8 323.1 482.0 320.6 484.3 318.1 486.1 315.8 488.4 313.6 489.3 310.4 489.5 308.4 491.8 306.8 494.5 305.4 495.7 303.1 495.4 299.5 494.8 297.2 493.8 294.5 496.8 292.4 500.2 289.7 504.8 287.0 507.5 283.6 507.0 277.9 506.6 273.4 504.5 268.8 504.3 265.4 503.2 263.8 504.1 260.9 505.4 257.9 506.6 255.4 509.3 253.4 511.6 250.6 513.8 247.7 517.2 245.2 520.7 242.7 523.6 239.3 525.7 236.5 527.5 232.5 529.3 229.0 530.4 225.6 531.6 222.7 528.6 223.4 525.2 224.1 521.8 224.7 518.4 225.4 515.0 225.9 513.4 223.8 512.3 221.6 513.4 220.9 511.6 218.8 509.3 217.0 505.9 214.3 504.1 212.0 502.7 208.6 500.0 206.6 499.5 202.9 499.3 200.6 498.6 199.1 496.1 195.9 495.7 194.5 493.6 190.9 492.3 188.2 491.1 186.8 489.1 181.6 491.3 185.4 492.7 186.3 493.4 184.5 494.3 182.5 494.5 185.7 496.1 187.5 497.9 190.4 499.8 193.1 501.8 195.4 503.6 199.1 504.1 201.1 505.9 204.1 508.2 207.2 510.0 210.2 511.8 213.1 512.3 215.4 512.7 217.7 513.4 220.4 514.1 220.6 516.1 220.6 518.4 220.0 521.8 218.6 525.7 217.7 528.6 215.9 532.0 214.7 533.8 213.1 536.6 211.6 540.4 210.0 543.2 208.8 544.3 207.0 546.3 206.3 546.3 203.4 547.9 202.9 549.7 201.1 550.9 198.4 548.6 196.1 546.1 195.4 543.4 193.8 542.9 191.3 543.2 189.7 542.5 190.0 541.1 191.6 539.1 193.8 536.6 194.7 534.1 194.5 532.2 194.5 531.6 193.6 532.2 191.8 531.8 190.2 530.9 190.6 530.4 192.9 529.3 191.3 528.6 189.7 527.5 187.9 525.9 186.3 525.0 184.7 524.1 182.7 525.2 181.6 526.8 180.9 528.8 180.9 530.0 182.5 531.3 184.5 532.2 186.1 534.3 187.0 537.0 188.6 539.3 189.3 541.6 188.4 542.9 187.7 544.5 189.1 545.2 190.9 548.6 191.6 552.5 192.0 555.0 192.2 557.2 192.0 560.9 192.0 563.8 192.0 566.3 191.6 567.5 193.1 568.4 195.0 570.4 195.9 571.8 198.1 574.5 197.5 571.8 198.8 573.4 200.6 575.9 202.2 578.6 201.1 580.0 199.7 580.4 202.2 580.6 206.3 581.8 211.3 582.9 214.3 584.5 218.1 586.1 222.7 588.1 226.8 590.6 230.9 592.7 229.3 594.5 228.4 596.3 226.1 596.6 222.2 597.5 218.8 597.2 215.0 599.5 212.7 602.0 211.3 604.7 209.1 608.1 205.9 611.5 204.1 612.7 200.9 615.6 200.2 618.4 199.7 620.6 198.8 623.6 198.6 624.5 201.3 625.4 202.9 627.2 205.2 629.0 207.9 629.7 212.0 631.5 213.6 634.3 211.3 636.5 212.0 637.2 215.9 638.8 220.0 639.0 224.5 638.4 228.4 638.4 231.3 639.9 232.2 642.7 234.7 643.1 237.7 644.5 240.6 646.3 243.4 648.6 245.2 650.2 246.5 652.0 246.1 650.2 241.5 649.9 238.8 647.7 235.6 645.2 233.8 643.1 232.7 642.2 230.2 640.4 227.2 640.6 224.5 641.8 221.6 642.4 219.1 644.3 218.8 644.3 220.9 647.2 221.8 648.6 223.4 650.2 225.6 652.4 225.9 653.1 229.0 654.0 229.7 656.5 227.9 657.7 226.1 659.9 225.0 662.7 223.4 663.4 220.4 663.1 216.6 662.0 214.3 658.8 211.3 657.0 209.1 655.4 206.6 656.8 203.4 659.3 200.9 661.5 200.2 664.0 200.2 664.7 203.4 666.1 203.1 666.1 201.1 669.0 200.2 672.2 199.3 674.7 198.6 678.1 197.7 681.5 195.6 684.5 193.6 686.5 191.3 687.2 189.1 688.8 187.0 691.1 184.7 692.0 182.0 690.4 180.4 692.0 179.1 690.8 177.2 689.5 175.4 688.3 171.6 685.8 170.0 687.9 167.7 689.5 166.6 693.3 165.7 691.1 164.3 688.3 164.1 685.4 165.0 683.8 163.2 682.4 161.3 684.3 160.4 687.2 158.6 689.9 156.8 692.7 157.7 690.8 160.4 692.4 160.2 695.6 159.1 697.9 159.1 699.9 160.4 699.0 162.7 701.8 163.8 702.7 166.6 702.2 170.9 704.7 170.9 707.2 170.0 709.0 168.6 709.0 165.9 706.8 162.2 704.5 160.2 706.5 158.6 709.7 156.6 709.9 154.3 712.0 153.2 714.5 151.3 717.7 152.2 722.9 149.7 728.1 145.4 730.8 141.8 734.0 139.3 734.2 135.4 736.3 130.9 734.7 128.4 730.8 126.3 727.0 127.0 725.6 125.4 727.7 122.0 732.4 118.8 736.7 115.7 741.1 114.5 746.1 114.5 752.4 114.8 758.8 115.7 761.5 115.2 766.1 114.8 767.9 112.7 771.1 110.0 776.3 108.8 779.2 109.1 786.5 107.9 784.5 110.9 782.2 112.5 779.7 114.3 775.4 117.7 771.7 118.6 770.4 121.3 769.0 124.5 768.6 127.9 770.1 131.6 771.1 133.6 772.9 132.5 775.1 129.3 778.6 127.3 779.2 125.0 783.1 122.3 784.9 120.9 785.8 118.2 783.3 117.5 786.1 115.0 789.5 113.4 792.6 112.3 795.6 112.7 800.1 112.0 803.5 111.1 808.1 109.8 811.5 108.8 816.0 107.3 820.6 105.9 822.2 103.2 825.1 101.8 825.1 92.9 819.5 91.8 813.8 90.9 805.8 90.7 800.1 90.9 797.9 91.4 792.2 91.4 785.4 91.1 780.8 91.4 778.6 89.8 774.0 88.4 767.2 88.2 760.4 88.4 757.0 87.5 751.3 85.4 744.5 85.2 737.7 84.3 733.1 84.8 728.6 86.8 722.9 86.8 717.2 87.3 713.8 88.4 710.4 88.2 709.3 85.2 707.0 83.2 702.4 82.5 696.8 82.0 692.2 83.6 686.5 83.4 679.7 82.0 672.9 82.0 670.6 80.2 664.9 80.9 660.4 82.7 657.0 82.9 659.3 80.2 667.2 77.9 672.9 77.3 671.8 75.4 662.7 75.0 654.7 73.2 652.0 72.9 644.5 75.4 635.4 76.8 626.3 77.3 617.2 77.9 611.5 80.2 611.5 82.3 605.9 82.0 598.4 82.3 598.4 85.0 602.5 86.8 604.0 89.3 601.3 90.0 597.9 85.9 593.4 85.0 587.7 85.2 584.3 84.1 582.0 87.5 585.0 89.3 584.3 92.3 588.8 93.6 585.0 95.4 580.4 97.7 579.7 93.9 580.4 90.4 580.0 87.0 579.7 84.1 575.2 83.2 571.8 84.1 568.4 86.4 566.8 89.3 570.2 92.0 570.6 93.9 566.8 92.0 561.6 91.8 553.2 90.7 551.8 92.9 546.8 92.9 540.0 94.3 536.6 94.1 535.4 93.2 526.3 95.4 519.5 95.7 515.7 93.9 513.8 96.1 515.4 98.6 513.4 98.6 509.3 99.1 506.3 101.1 506.6 102.7 501.3 102.7 499.1 104.3 495.7 103.2 494.1 101.8 493.6 99.1 490.0 98.4 488.8 97.0 493.4 98.2 497.9 98.9 503.6 99.3 508.6 97.5 507.7 95.7 502.5 94.3 496.8 92.5 490.0 91.6 485.0 90.9 480.9 90.2 476.3 88.2 473.4 87.9 468.4 88.9 463.9 90.0 459.3 90.4 453.6 92.5 450.2 94.1 447.9 96.1 444.5 99.1 442.9 100.7 440.0 102.7 436.6 105.0 432.0 106.3 428.2 107.7 426.4 109.8 426.4 112.5 427.5 115.0 427.7 116.1 430.0 117.5 433.2 117.5 436.6 115.7 438.9 114.3 440.0 115.2 441.6 117.0 443.2 119.8 444.1 122.3 444.3 123.6 447.5 123.4 447.7 122.3 451.4 121.8 452.5 120.0 452.7 117.0 455.7 115.0 457.5 113.2 454.3 111.6 454.3 108.6 457.0 106.8 461.6 104.8 463.9 102.9 465.7 100.4 470.0 100.0 472.5 101.4 470.9 102.5 466.8 104.8 463.4 106.3 463.6 109.1 464.1 111.3 466.1 112.9 470.7 112.9 475.2 112.3 479.8 111.8 483.6 113.2 479.8 113.6 476.3 114.3 470.7 114.5 468.4 115.2 468.4 117.0 470.4 117.0 470.0 119.5 467.7 120.0 464.3 118.8 462.7 120.4 462.9 122.9 463.2 124.1 460.4 124.8 459.5 125.9 457.0 125.2 454.8 125.0 451.4 126.1 447.5 127.0 445.0 125.9 442.3 126.3 439.8 126.8 439.5 125.4 437.7 124.5 437.3 122.7 439.1 121.1 439.1 118.4 436.6 119.8 434.5 119.8 433.4 121.1 433.6 123.4 434.8 124.8 435.2 126.8 433.4 127.7 430.9 128.2 428.2 128.2 425.9 129.3 424.8 131.3 423.0 132.7 420.7 133.4 418.6 133.8 418.4 135.4 415.5 136.6 412.5 137.5 412.0 136.8 410.7 136.6 411.4 138.6 408.2 138.6 404.3 139.5 405.2 140.9 408.2 141.6 410.0 142.5 411.6 144.3 412.3 146.1 412.3 148.4 411.6 150.7 408.2 150.9 403.6 150.7 400.2 150.4 396.8 150.2 393.9 151.6 394.8 154.1 395.2 156.3 394.6 159.1 393.4 161.3 395.0 162.2 395.0 165.0 394.6 165.4 398.0 165.2 400.7 166.1 402.3 167.7 404.8 166.3 409.8 165.9 411.6 164.3 413.6 162.5 415.5 161.3 414.3 159.7 416.1 157.2 417.7 156.1 422.3 154.1 422.0 151.8 424.1 150.7 427.5 151.3 430.9 150.7 434.3 149.1 437.3 149.3 438.9 151.8 441.1 153.2 443.4 155.2 446.4 156.1 449.1 158.2 450.7 158.8 451.8 161.3 450.7 163.2 451.6 163.4 453.9 161.1 452.7 159.5 454.3 157.7 457.0 158.4 456.1 157.2 453.6 156.1 451.4 154.3 448.6 153.6 445.9 150.4 442.9 148.2 442.9 146.3 446.1 145.9 446.4 147.5 447.9 146.8 449.8 149.1 452.3 150.7 455.0 151.8 457.3 153.2 459.3 154.5 459.1 157.7 460.9 159.7 462.7 162.2 464.1 164.5 464.5 165.9 466.1 166.8 467.7 166.8 467.5 164.7 468.4 163.2 469.8 163.8 468.4 162.2 467.3 160.2 466.4 157.9 469.1 157.2 470.7 156.6 474.1 156.8 474.8 158.2 475.7 160.4 476.8 162.2 477.0 164.3 478.6 165.9 482.0 167.2 484.5 165.9 487.7 166.6 491.1 167.2 493.8 165.9 496.8 165.9 497.3 166.6 496.3 168.2 496.6 170.0 495.9 172.2 494.5 174.5 493.4 177.7 491.1 178.8 488.4 178.6 485.4 177.7 483.2 178.4 480.9 179.3 477.5 178.6 472.3 177.7 468.4 176.6 466.1 175.0 462.9 175.0 460.7 176.3 460.4 179.1 458.6 180.7 455.9 179.5 451.4 178.4 449.8 176.1 445.2 174.7 441.1 174.1 439.5 172.7 437.9 171.6 440.0 168.8 438.9 167.2 440.2 165.4 438.2 165.0 437.0 164.7 434.3 165.7 432.0 165.4 428.6 165.7 425.2 165.7 421.8 165.9 418.4 166.6 415.0 167.9 412.0 169.3 409.3 169.7 405.9 169.5 403.0 167.9ZM4.9 101.8L8.3 102.3 11.7 103.2 15.1 102.5 18.5 103.2 21.9 103.4 23.5 102.0 26.4 100.7 29.2 99.3 25.3 97.5 20.8 97.0 16.2 95.9 11.7 94.3 4.9 92.9ZM4.9 87.7L10.5 87.0 12.1 87.9 4.9 88.4ZM268.2 107.3L266.9 108.8 263.2 107.7 259.4 106.8 254.8 105.7 250.7 104.3 247.3 103.2 243.4 102.9 238.9 103.4 237.3 102.3 240.0 100.9 246.9 100.7 249.6 98.4 250.3 96.6 246.9 94.5 242.3 92.5 236.6 91.1 232.1 90.4 226.4 90.0 220.7 90.4 215.5 89.8 213.9 87.0 211.0 84.5 213.9 82.3 220.7 81.8 226.4 82.0 232.1 82.3 237.8 84.3 242.3 85.0 246.9 86.4 251.4 87.7 254.8 89.1 258.9 90.0 261.6 91.6 263.2 93.6 268.4 95.4 271.8 97.3 274.8 97.9 273.0 99.5 270.0 101.8 266.9 102.5 266.2 104.1 268.2 105.4ZM232.1 104.8L228.7 105.4 224.1 105.4 220.5 104.5 218.5 102.3 219.6 100.0 223.0 99.5 226.4 100.7 229.6 102.7 231.4 103.9ZM145.7 84.5L154.8 82.9 162.8 84.8 168.9 83.4 174.1 82.9 177.6 84.8 176.9 87.7 183.2 89.3 185.5 91.1 181.0 93.2 174.1 92.9 168.5 93.4 163.9 93.6 158.2 94.1 153.7 92.0 148.0 90.7 145.7 88.9 146.2 87.0ZM129.8 85.9L131.4 87.7 135.5 88.2 140.1 87.3 143.5 86.4 145.7 84.1 149.2 82.7 148.0 80.9 142.3 80.4 132.1 80.7 129.8 82.5 129.4 85.2ZM194.6 81.8L195.7 84.8 193.5 86.8 190.0 87.0 184.4 84.8 184.4 82.9 187.8 81.8ZM208.7 81.4L202.5 81.1 198.0 83.2 201.4 85.4 206.0 85.9 209.4 83.6ZM233.2 79.1L233.2 80.2 221.9 80.2 215.0 80.4 206.0 79.8 203.2 77.9 206.0 75.4 215.0 75.0 224.1 75.9 229.8 75.9 233.2 77.3ZM212.8 75.9L221.9 76.1 233.2 76.4 236.6 74.5 240.0 72.3 244.6 71.1 251.4 70.0 255.9 67.7 262.8 66.6 269.6 64.3 276.4 62.5 271.8 61.1 260.5 60.7 244.6 60.9 233.2 61.4 219.6 62.7 208.2 64.3 200.3 65.5 195.7 67.7 199.1 70.0 208.2 71.6 215.0 72.3 216.2 74.5 211.6 75.4ZM175.3 77.3L169.6 78.9 160.5 80.2 149.2 80.7 150.3 78.4 156.0 76.4 165.1 75.7 171.9 76.8ZM152.6 76.1L145.7 77.9 140.1 76.8 136.7 75.2 142.3 73.9 148.0 74.8ZM194.6 75.7L191.2 78.6 186.6 77.3 185.5 75.7 190.0 75.0ZM202.5 78.4L196.9 78.2 198.0 76.8 202.5 77.0ZM197.3 93.2L194.6 90.9 190.5 91.6 188.9 92.9 192.3 94.3 196.2 94.1ZM238.9 83.2L233.2 83.2 230.9 81.8 237.8 81.8ZM230.9 106.6L227.5 107.7 225.3 107.5 227.5 106.3 230.3 105.9ZM186.6 71.1L182.1 72.7 175.3 71.8 177.6 70.0 184.4 69.5ZM165.1 72.7L157.1 73.4 156.0 71.6 162.8 71.1ZM236.6 96.4L241.2 96.8 241.6 95.0 237.8 94.5ZM233.7 121.3L235.5 122.3 234.8 122.7ZM232.1 108.4L233.7 109.3 232.8 109.8ZM228.7 128.6L231.2 129.3 229.6 129.8ZM174.6 82.3L178.7 83.6 180.5 82.5 176.9 81.6ZM176.4 77.7L179.8 79.1 181.4 78.2ZM174.1 73.2L176.9 74.1 177.6 73.2ZM187.8 67.5L192.3 68.6 192.8 67.5ZM207.1 73.4L211.6 74.3 212.1 73.4ZM232.1 76.6L235.9 77.3 235.5 76.1ZM236.6 105.2L239.4 105.9 238.7 105.0ZM265.5 109.3L268.0 110.2 267.3 109.1ZM195.7 72.7L200.3 73.9 202.5 72.7 198.0 71.6ZM158.2 71.4L162.8 72.3 165.1 70.7ZM143.5 76.1L148.0 76.8 147.3 75.7ZM280.3 141.3L287.8 141.3 290.0 142.7 293.4 143.4 295.3 141.6 294.1 139.3 293.0 137.7 288.7 136.8 288.2 132.9 285.7 132.9 284.3 134.8 282.1 137.9 280.3 139.5ZM268.4 136.1L274.1 137.3 274.8 137.9 270.7 137.7ZM268.7 143.6L274.1 144.1 272.8 145.0 269.6 144.5ZM134.4 139.5L131.0 138.4 127.6 136.8 124.2 135.2 123.5 134.1 126.4 134.3 130.1 135.7 133.2 137.7ZM117.3 131.6L114.4 129.5 112.6 126.6 115.5 126.6 116.2 129.1ZM115.1 124.1L111.7 123.8 109.4 121.1 106.0 118.2 108.2 117.3 111.7 120.0 113.9 122.3ZM68.5 119.3L65.1 120.9 63.9 119.1 66.7 117.7 69.2 117.9ZM24.6 104.8L28.7 105.9 31.7 105.9 29.9 105.0 26.4 104.3ZM37.4 112.3L39.2 112.9 37.4 113.6 34.6 112.7ZM222.1 199.7L223.5 198.1 226.4 197.2 230.3 196.8 233.2 197.2 237.1 198.6 239.6 200.2 243.0 201.6 246.4 203.4 244.6 204.3 238.9 204.3 239.8 202.9 236.6 200.4 233.7 200.2 229.8 199.1 228.0 198.1 224.1 199.7ZM245.7 207.7L249.6 204.3 253.7 204.3 256.4 205.6 259.6 207.2 256.4 207.7 253.0 209.5 251.4 208.1 247.5 208.4ZM237.1 207.7L240.3 207.7 241.9 208.8 238.9 209.1ZM262.3 207.5L265.9 207.7 265.5 208.6 262.3 208.6ZM274.3 225.0L276.6 225.0 276.4 226.6 274.3 226.6ZM237.3 188.8L240.0 189.1 239.4 190.0 236.6 189.3ZM237.8 192.2L238.7 194.3 237.1 193.6ZM241.2 192.0L242.3 193.6 241.6 194.1ZM242.8 195.9L244.1 197.0 242.5 197.0ZM60.5 203.6L62.8 205.0 61.0 206.6 60.5 204.7ZM58.9 202.0L60.5 202.2 59.6 202.7ZM55.3 200.4L56.7 200.9 55.8 201.1ZM51.9 199.1L53.0 199.3 52.4 199.7ZM274.6 212.5L275.9 212.5 275.3 213.4ZM275.9 215.9L276.8 216.6 276.2 216.8ZM275.3 219.3L276.2 219.7 275.5 220.0ZM22.4 279.9L25.5 280.9 23.5 281.3ZM75.1 289.3L76.2 289.7 75.3 290.2ZM13.3 348.8L14.6 349.0 13.7 349.7ZM35.8 127.0L37.4 127.9 34.2 128.4 32.4 128.6 34.4 127.3ZM31.0 129.3L27.6 130.2 29.9 129.3ZM23.0 130.7L18.5 131.3 19.6 130.7ZM16.2 131.6L11.7 132.3 12.8 131.6ZM10.5 131.6L7.1 132.5 8.3 131.6ZM49.2 123.8L51.0 124.3 49.6 124.5ZM45.8 125.7L44.2 126.1 45.1 125.4ZM402.0 135.7L405.5 135.0 408.2 134.3 411.6 134.3 415.7 134.1 418.2 133.2 417.0 132.3 418.9 130.0 418.0 129.1 415.7 128.2 414.8 126.8 413.6 125.7 411.6 124.1 410.5 122.5 408.2 122.3 409.3 121.3 410.5 119.8 410.9 118.6 408.2 118.4 405.9 118.6 407.7 116.3 403.6 116.3 403.0 118.2 402.0 120.4 402.3 122.3 403.9 123.4 403.4 124.8 405.5 125.0 407.5 124.8 407.0 126.1 408.4 127.5 407.7 128.4 404.5 128.4 405.7 129.5 405.5 130.9 403.4 131.6 405.5 132.3 408.2 132.5 407.0 133.2 405.5 133.2 402.5 135.2ZM401.4 130.9L400.9 128.4 401.4 126.6 402.5 125.4 400.9 123.8 398.4 123.8 395.9 124.5 395.5 126.1 392.3 126.3 392.7 128.2 394.3 128.6 392.5 130.0 391.6 131.6 393.2 132.5 396.4 131.8 399.1 131.1ZM359.3 100.7L365.0 98.6 373.0 99.1 380.9 98.4 384.3 101.4 380.9 103.4 374.1 105.4 367.3 104.5 363.4 104.1 360.5 102.3ZM452.5 75.4L446.8 73.4 440.0 70.4 440.0 68.4 449.1 68.2 453.6 67.7 458.2 66.8 465.0 66.6 476.3 67.3 471.8 69.3 462.7 70.7 468.4 71.6 466.1 73.9 459.3 73.4 454.8 75.0ZM533.2 87.0L535.4 88.9 544.5 89.1 541.8 85.0 543.4 83.2 547.9 80.2 553.6 77.9 560.4 76.8 570.6 74.8 565.0 74.5 555.9 75.4 549.1 77.3 542.2 80.7 537.7 82.9 534.3 85.4ZM525.2 91.6L526.8 92.9 528.6 92.3 526.8 91.6ZM622.9 68.9L630.9 70.4 642.2 71.1 651.3 70.0 644.5 67.0 635.4 65.0 626.3 65.9ZM726.3 79.5L735.4 81.8 746.7 79.1 751.3 78.4 737.7 77.3 730.8 76.8ZM820.6 87.0L825.1 87.7 825.1 88.4 821.7 88.4ZM521.8 67.0L533.2 67.5 546.8 67.3 555.9 66.4 551.3 64.3 540.0 63.6 528.6 65.5 519.5 65.9ZM737.7 145.0L737.2 140.4 737.9 135.9 737.7 131.3 738.3 127.9 739.2 125.9 740.6 128.8 740.4 132.5 741.5 137.5 743.6 138.4 740.4 139.3 739.0 141.3 741.1 144.3 738.8 143.8ZM733.1 155.2L735.4 154.5 736.5 152.7 740.6 154.1 745.6 151.1 743.3 149.7 739.9 148.8 737.4 146.3 736.7 149.5 735.8 151.3 733.8 151.1 733.1 153.4ZM736.5 155.7L737.7 159.7 736.5 162.5 735.4 165.4 734.9 168.4 733.1 170.0 731.3 169.5 729.7 170.9 726.3 170.9 725.8 171.6 724.0 173.4 722.2 172.7 722.4 170.7 719.5 170.9 717.2 171.3 714.9 172.5 712.7 172.2 712.9 170.7 716.1 168.8 719.5 168.6 722.9 168.6 725.2 166.8 726.3 165.0 729.7 164.3 732.0 162.7 733.1 159.7 733.1 157.5 734.2 156.1ZM710.4 172.5L712.7 172.5 714.9 174.5 714.0 178.2 712.7 179.1 710.8 178.4 710.8 175.4 709.5 173.8ZM716.3 172.7L719.5 171.6 721.1 172.2 719.5 173.8 717.2 175.0 716.1 173.8ZM689.9 192.2L692.2 192.7 691.1 197.2 689.5 199.5 688.1 197.2 688.3 194.3ZM662.0 205.9L663.4 204.1 666.1 203.8 667.2 205.0 665.4 207.5 663.1 207.9 661.8 207.2ZM596.6 227.5L597.5 227.2 599.7 230.2 601.1 232.9 600.4 235.0 598.1 236.1 596.8 234.7 596.3 231.3ZM488.4 170.0L490.0 169.1 493.6 168.4 492.3 170.0 490.0 170.9ZM468.4 169.3L470.7 168.8 474.8 169.3 474.1 170.0 470.7 170.0 468.6 169.5ZM443.2 162.9L445.7 162.7 450.4 162.5 449.3 164.7 449.3 166.1 446.8 165.2 443.4 164.1ZM433.6 156.3L436.1 155.9 437.3 157.5 436.8 160.4 434.3 161.1 434.1 158.6ZM434.5 152.0L436.4 151.8 436.6 153.6 435.9 155.4 434.5 154.5ZM420.2 159.5L422.0 158.8 422.7 159.5 421.4 160.2ZM440.0 122.9L442.7 122.0 443.6 123.2 442.3 124.5 440.4 124.1ZM437.3 123.8L439.1 123.4 439.5 124.5 437.7 124.5ZM456.1 119.3L458.2 117.9 457.7 119.5 456.6 120.2ZM464.5 117.0L467.7 116.3 467.3 117.5 465.0 117.7ZM467.3 161.6L470.0 161.6 470.7 162.9 468.4 162.2ZM398.6 107.9L399.8 107.9 399.5 109.1ZM412.0 112.0L412.7 112.7 412.0 113.4 411.6 112.5ZM407.5 115.0L408.6 115.2 408.2 115.9ZM400.7 116.6L399.3 117.3 398.2 119.3 400.0 118.2ZM746.7 150.0L753.1 146.3 751.7 146.1 747.9 148.8ZM755.8 145.0L759.2 142.9 758.1 142.7ZM761.5 141.6L764.9 138.6 764.0 138.4ZM768.3 135.9L770.1 134.5 769.5 134.1ZM791.5 123.8L793.6 125.2 792.9 124.1ZM807.0 129.1L809.2 129.5 807.6 130.0ZM817.6 131.3L820.6 132.0 819.5 131.3ZM821.7 132.5L825.1 131.8 825.1 132.7ZM527.0 276.8L529.5 284.7 527.5 289.3 525.2 296.1 522.2 306.1 517.7 307.4 514.3 302.9 513.4 298.4 515.9 293.8 515.0 288.1 519.5 285.4 522.9 282.4 525.2 279.7ZM434.3 240.9L435.2 241.1 434.8 242.2ZM376.6 184.7L378.4 184.5 377.3 185.9ZM379.1 185.4L380.0 186.1 379.6 186.6ZM382.5 184.5L383.6 184.3 383.2 185.7ZM571.8 360.4L574.7 361.1 573.1 362.4ZM349.6 161.8L351.4 162.2 350.2 162.5ZM356.4 163.4L357.7 163.6 356.8 163.8ZM536.1 220.9L538.8 220.9 537.7 221.6ZM545.4 294.9L546.3 295.6 545.7 296.1ZM540.7 297.0L541.8 297.7 540.9 297.9ZM689.0 207.5L692.7 207.5 693.1 210.9 691.3 213.6 692.7 217.2 696.8 218.1 697.2 220.9 695.2 220.0 691.8 218.1 689.0 217.0 689.0 213.1 688.3 212.5ZM692.2 233.6L695.6 231.8 697.2 230.6 700.2 227.7 702.7 232.9 701.3 235.4 699.9 236.8 696.8 235.2 694.9 232.5ZM692.2 222.7L694.5 225.6 696.8 223.1 700.2 224.1 699.0 226.8 695.6 227.9 693.3 227.7 692.0 225.6ZM697.4 221.1L700.6 221.8 700.2 224.3 698.6 224.1ZM681.3 230.4L686.5 224.7 686.8 225.6 682.2 230.9ZM688.3 218.8L691.1 219.5 690.4 221.8 688.6 220.9ZM662.7 246.1L664.0 245.0 667.2 245.4 671.8 242.2 675.2 239.0 677.4 237.7 679.7 234.5 682.0 234.7 685.8 237.7 683.1 239.5 682.4 242.0 683.1 244.5 685.2 247.2 682.4 247.9 682.0 250.6 680.4 252.9 679.7 255.2 678.6 257.7 675.4 258.6 671.8 257.0 669.0 257.5 665.4 256.1 665.2 253.4 663.4 251.3 662.4 248.4ZM631.5 236.8L636.5 237.7 638.4 240.0 641.5 242.2 644.0 245.0 646.8 245.9 650.2 248.4 651.8 251.8 655.9 256.1 655.6 260.4 654.3 262.7 652.4 262.9 649.7 260.4 647.4 258.4 644.5 255.0 642.9 251.8 640.4 248.4 639.0 245.6 636.5 243.4 634.0 240.9 631.3 238.1ZM654.0 265.0L655.9 262.9 660.4 263.8 666.1 264.5 670.6 265.2 675.2 267.0 674.9 269.3 669.5 268.4 664.9 267.7 660.4 267.2 657.0 266.3ZM675.4 267.9L677.9 268.6 679.9 268.1 679.5 269.7 676.8 269.5ZM680.4 268.4L683.8 268.4 685.6 268.8 684.3 269.5 680.9 269.9ZM687.2 268.8L689.9 268.6 694.3 267.9 694.0 269.3 688.8 269.5ZM685.4 271.3L688.3 271.1 689.5 272.7 686.8 272.0ZM696.8 270.6L699.7 268.6 703.6 268.4 699.0 271.1 695.8 272.9ZM686.5 262.0L686.3 257.5 684.9 255.9 687.2 249.5 688.3 248.4 689.9 246.5 694.9 247.2 697.9 246.3 699.3 245.9 696.8 248.6 691.8 248.5 689.5 249.3 691.1 251.5 695.4 251.3 694.0 253.1 690.8 254.0 692.9 257.5 694.7 259.7 694.0 262.2 691.5 260.4 691.1 258.4 689.5 255.4 688.6 257.5 688.6 262.0ZM704.7 245.4L706.3 244.5 705.8 247.2 707.4 248.1 705.8 248.8 707.7 251.1 705.4 250.2 704.9 247.7ZM705.8 256.8L710.4 256.1 712.2 257.7 708.1 257.5ZM701.3 256.8L704.0 257.0 703.1 258.1 701.5 257.7ZM712.7 252.7L716.1 250.4 719.5 251.5 721.8 257.0 727.4 252.9 733.1 255.0 736.5 255.6 743.3 258.1 746.3 261.3 748.3 265.0 750.2 267.7 752.4 270.2 756.3 273.6 754.2 273.1 749.7 272.2 747.2 269.0 742.9 266.8 740.6 268.8 739.0 270.6 735.4 270.2 731.3 267.9 729.5 268.4 727.9 261.8 724.0 260.0 720.2 258.6 717.9 258.4 716.5 258.6 718.3 256.5 714.9 255.9ZM752.0 262.0L755.8 261.3 759.2 259.3 760.8 259.5 759.2 262.0 755.8 263.6 753.1 263.4ZM757.0 255.4L761.5 257.5 763.1 260.4 761.7 259.3 758.1 256.1ZM766.3 261.8L768.3 263.1 769.2 265.0 767.9 264.5ZM771.7 267.2L778.1 271.8 776.3 271.1ZM778.1 270.6L780.8 271.8 779.7 272.0ZM779.7 268.4L781.3 270.6 780.4 270.9ZM787.6 295.4L791.1 297.2 794.5 299.9 793.3 300.2 788.8 297.2ZM793.6 283.6L794.9 284.7 794.5 285.2ZM817.9 289.3L820.6 289.0 819.9 290.9 818.1 290.6ZM821.3 286.5L824.5 286.5 822.9 287.7ZM672.9 300.6L674.0 299.0 680.2 296.3 685.4 294.9 689.9 293.8 692.9 290.4 695.6 288.8 696.8 286.5 699.7 282.7 702.7 281.1 705.4 282.2 707.0 283.1 709.5 283.4 710.8 279.0 712.7 277.2 716.3 277.0 718.3 276.3 722.0 277.2 725.2 276.5 726.1 277.7 723.8 279.7 722.9 283.4 726.5 285.6 731.5 289.0 734.9 289.3 736.5 284.7 736.7 279.0 738.1 274.3 739.5 275.6 741.1 280.9 743.6 282.0 745.4 283.6 745.6 287.0 747.4 292.4 752.9 295.4 755.2 300.4 757.9 301.8 762.4 307.4 764.0 314.3 762.6 319.9 761.5 323.6 758.6 326.8 756.3 330.6 755.6 334.7 751.3 335.4 747.4 338.3 744.5 335.6 742.2 336.8 736.5 336.8 733.1 334.9 731.5 331.1 729.5 330.4 729.7 328.6 728.8 325.6 728.1 323.6 727.2 327.4 724.7 327.9 723.1 328.6 722.2 326.3 719.9 323.8 714.9 322.2 711.5 321.3 704.7 322.7 701.3 322.9 696.8 324.7 692.2 326.8 687.7 326.5 683.1 329.0 679.7 329.0 676.3 327.4 677.9 325.2 677.9 321.3 676.3 317.7 676.1 314.3 674.0 310.8 672.9 309.0 673.1 305.2ZM725.4 330.6L728.6 330.6 727.4 331.3 725.4 331.3ZM710.4 275.4L713.8 274.9 713.3 276.3 710.8 276.3ZM743.6 342.0L747.9 342.9 752.0 342.4 752.0 345.4 751.1 347.7 748.8 348.6 746.7 348.3 744.9 345.4ZM807.4 327.7L811.0 329.7 813.1 332.9 814.7 334.7 817.9 335.6 820.6 335.2 819.5 338.1 817.2 338.8 816.5 340.8 813.3 344.0 811.7 343.3 813.1 341.1 810.4 339.3 811.5 337.7 812.0 334.7 811.0 332.4 808.3 329.7ZM807.4 341.5L810.8 343.3 810.1 345.4 807.4 348.1 804.0 350.2 802.6 353.8 799.7 355.4 795.8 354.7 793.3 353.1 795.6 350.6 800.1 348.3 804.0 344.9 806.0 342.2ZM795.8 355.8L797.2 356.1 796.3 356.7ZM625.6 219.1L626.3 221.1 625.6 223.4 625.2 221.6ZM275.7 366.1L279.8 366.1 283.7 366.7 282.1 368.1 277.5 367.9ZM328.7 372.2L333.2 372.7 332.1 373.3ZM246.9 344.5L248.0 344.5 248.0 347.9 246.2 347.7ZM207.1 250.0L208.7 250.2 207.8 251.8Z" fill="none" stroke="#000" stroke-width="2.1" stroke-linejoin="round"/>
</g></g>
<rect x="6" y="45" width="818" height="342" fill="none" stroke="#262626" stroke-width="2"/>
<rect x="6" y="492" width="818" height="341" fill="none" stroke="#262626" stroke-width="2"/>
<rect x="863" y="43" width="73" height="344" fill="url(#cb)" stroke="#262626" stroke-width="2"/>
<rect x="863" y="489" width="73" height="344" fill="url(#cb)" stroke="#262626" stroke-width="2"/>
<text class="tick" transform="translate(947.5,397.0) scale(1,1.08)">0</text>
<line x1="930.5" y1="300.0" x2="936" y2="300.0" stroke="#262626" stroke-width="1.6"/>
<text class="tick" transform="translate(947.5,311.1) scale(1,1.08)">5</text>
<line x1="930.5" y1="214.1" x2="936" y2="214.1" stroke="#262626" stroke-width="1.6"/>
<text class="tick" transform="translate(947.5,225.2) scale(1,1.08)">10</text>
<line x1="930.5" y1="128.2" x2="936" y2="128.2" stroke="#262626" stroke-width="1.6"/>
<text class="tick" transform="translate(947.5,139.3) scale(1,1.08)">15</text>
<text class="tick" transform="translate(947.5,53.4) scale(1,1.08)">20</text>
<text class="tick" transform="translate(947.5,843.4) scale(1,1.08)">0</text>
<line x1="930.5" y1="763.4" x2="936" y2="763.4" stroke="#262626" stroke-width="1.6"/>
<text class="tick" transform="translate(947.5,774.5) scale(1,1.08)">0.2</text>
<line x1="930.5" y1="694.6" x2="936" y2="694.6" stroke="#262626" stroke-width="1.6"/>
<text class="tick" transform="translate(947.5,705.7) scale(1,1.08)">0.4</text>
<line x1="930.5" y1="625.7" x2="936" y2="625.7" stroke="#262626" stroke-width="1.6"/>
<text class="tick" transform="translate(947.5,636.8) scale(1,1.08)">0.6</text>
<line x1="930.5" y1="556.9" x2="936" y2="556.9" stroke="#262626" stroke-width="1.6"/>
<text class="tick" transform="translate(947.5,568.0) scale(1,1.08)">0.8</text>
<text class="tick" transform="translate(947.5,499.1) scale(1,1.08)">1</text>
<text class="lab" transform="translate(994.8,203) rotate(90) scale(1,0.9)" text-anchor="middle">kg C m<tspan font-size="21" dy="-7">−2</tspan></text>
<text class="lab" transform="translate(995.3,658.5) rotate(90) scale(1,0.9)" text-anchor="middle">CV (unitless)</text>
<text class="ttl" x="6" y="25.6" textLength="580" lengthAdjust="spacingAndGlyphs">a. ensemble C<tspan font-size="20" dy="5.3">eco</tspan><tspan dy="-5.3"> standard deviation</tspan></text>
<text class="ttl" x="6" y="474.4" textLength="643" lengthAdjust="spacingAndGlyphs">b. ensemble C<tspan font-size="20" dy="5.3">eco</tspan><tspan dy="-5.3"> coefficient of variation</tspan></text>
</svg>
</body></html>
